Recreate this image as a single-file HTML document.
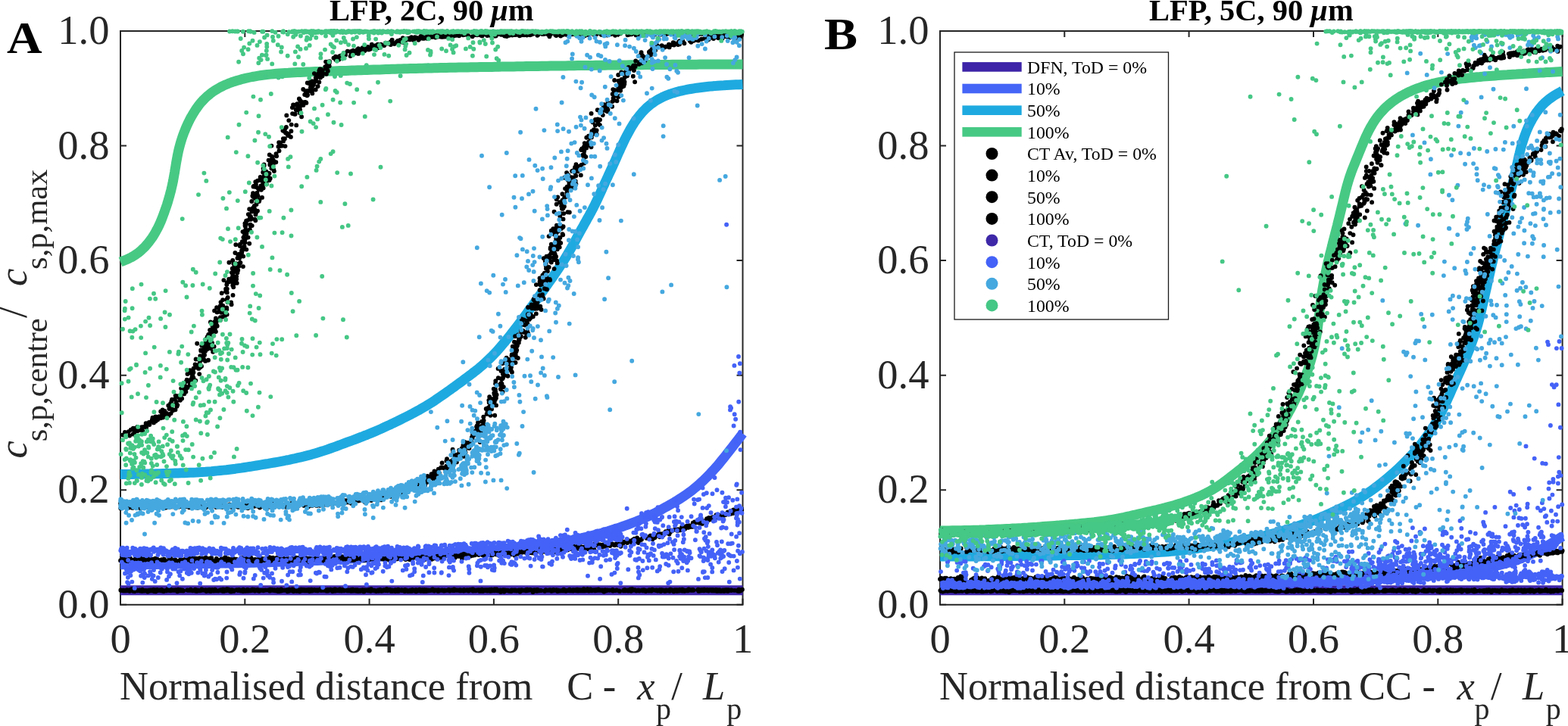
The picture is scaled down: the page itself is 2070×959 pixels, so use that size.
<!DOCTYPE html>
<html><head><meta charset="utf-8"><title>LFP plots</title>
<style>html,body{margin:0;padding:0;background:#fff;overflow:hidden}svg{display:block}</style>
</head><body>
<svg width="2070" height="959" viewBox="0 0 2070 959">
<rect width="2070" height="959" fill="#fff"/>
<rect x="159.0" y="41.0" width="821.5" height="757.8" fill="none" stroke="#262626" stroke-width="2"/>
<path d="M159.0 798.8v-8M159.0 41.0v8M159.0 798.8h8M980.5 798.8h-8M323.3 798.8v-8M323.3 41.0v8M159.0 647.2h8M980.5 647.2h-8M487.6 798.8v-8M487.6 41.0v8M159.0 495.7h8M980.5 495.7h-8M651.9 798.8v-8M651.9 41.0v8M159.0 344.1h8M980.5 344.1h-8M816.2 798.8v-8M816.2 41.0v8M159.0 192.6h8M980.5 192.6h-8M980.5 798.8v-8M980.5 41.0v8M159.0 41.0h8M980.5 41.0h-8" stroke="#262626" stroke-width="2" fill="none"/>
<g font-family="'Liberation Serif', 'Times New Roman', serif" font-size="54.5" fill="#262626"><text x="144.4" y="816.0" text-anchor="end">0.0</text><text x="144.4" y="664.4" text-anchor="end">0.2</text><text x="144.4" y="512.9" text-anchor="end">0.4</text><text x="144.4" y="361.3" text-anchor="end">0.6</text><text x="144.4" y="209.8" text-anchor="end">0.8</text><text x="144.4" y="58.2" text-anchor="end">1.0</text><text x="159.0" y="862" text-anchor="middle">0</text><text x="323.3" y="862" text-anchor="middle">0.2</text><text x="487.6" y="862" text-anchor="middle">0.4</text><text x="651.9" y="862" text-anchor="middle">0.6</text><text x="816.2" y="862" text-anchor="middle">0.8</text><text x="980.5" y="862" text-anchor="middle">1</text></g>
<rect x="1241.0" y="41.0" width="821.5999999999999" height="757.8" fill="none" stroke="#262626" stroke-width="2"/>
<path d="M1241.0 798.8v-8M1241.0 41.0v8M1241.0 798.8h8M2062.6 798.8h-8M1405.3 798.8v-8M1405.3 41.0v8M1241.0 647.2h8M2062.6 647.2h-8M1569.6 798.8v-8M1569.6 41.0v8M1241.0 495.7h8M2062.6 495.7h-8M1734.0 798.8v-8M1734.0 41.0v8M1241.0 344.1h8M2062.6 344.1h-8M1898.3 798.8v-8M1898.3 41.0v8M1241.0 192.6h8M2062.6 192.6h-8M2062.6 798.8v-8M2062.6 41.0v8M1241.0 41.0h8M2062.6 41.0h-8" stroke="#262626" stroke-width="2" fill="none"/>
<g font-family="'Liberation Serif', 'Times New Roman', serif" font-size="54.5" fill="#262626"><text x="1226.4" y="816.0" text-anchor="end">0.0</text><text x="1226.4" y="664.4" text-anchor="end">0.2</text><text x="1226.4" y="512.9" text-anchor="end">0.4</text><text x="1226.4" y="361.3" text-anchor="end">0.6</text><text x="1226.4" y="209.8" text-anchor="end">0.8</text><text x="1226.4" y="58.2" text-anchor="end">1.0</text><text x="1241.0" y="862" text-anchor="middle">0</text><text x="1405.3" y="862" text-anchor="middle">0.2</text><text x="1569.6" y="862" text-anchor="middle">0.4</text><text x="1734.0" y="862" text-anchor="middle">0.6</text><text x="1898.3" y="862" text-anchor="middle">0.8</text><text x="2062.6" y="862" text-anchor="middle">1</text></g>
<path d="M159.0 779.8 L163.0 779.8 L167.0 779.8 L171.0 779.8 L175.0 779.8 L179.0 779.8 L183.0 779.8 L187.0 779.8 L191.0 779.8 L195.0 779.8 L199.0 779.8 L203.0 779.8 L207.0 779.8 L211.0 779.8 L215.0 779.8 L219.0 779.8 L223.0 779.8 L227.0 779.8 L231.0 779.8 L235.0 779.8 L239.0 779.8 L243.1 779.8 L247.1 779.8 L251.1 779.8 L255.1 779.8 L259.1 779.8 L263.1 779.8 L267.1 779.8 L271.1 779.8 L275.1 779.8 L279.1 779.8 L283.1 779.8 L287.1 779.8 L291.1 779.8 L295.1 779.8 L299.1 779.8 L303.1 779.8 L307.1 779.8 L311.1 779.8 L315.1 779.8 L319.1 779.8 L324.1 779.8 L328.1 779.8 L332.1 779.8 L336.1 779.8 L340.1 779.8 L344.1 779.8 L348.1 779.8 L352.1 779.8 L356.1 779.8 L360.1 779.8 L364.1 779.8 L368.1 779.8 L372.1 779.8 L376.1 779.8 L380.1 779.8 L384.1 779.8 L388.1 779.8 L392.1 779.8 L396.1 779.8 L400.1 779.8 L404.1 779.8 L408.2 779.8 L412.2 779.8 L416.2 779.8 L420.2 779.8 L424.2 779.8 L428.2 779.8 L432.2 779.8 L436.2 779.8 L440.2 779.8 L444.2 779.8 L448.2 779.8 L452.2 779.8 L456.2 779.8 L460.2 779.8 L464.2 779.8 L468.2 779.8 L472.2 779.8 L476.2 779.8 L480.2 779.8 L484.2 779.8 L489.2 779.8 L493.2 779.8 L497.2 779.8 L501.2 779.8 L505.2 779.8 L509.2 779.8 L513.2 779.8 L517.2 779.8 L521.2 779.8 L525.2 779.8 L529.2 779.8 L533.2 779.8 L537.2 779.8 L541.2 779.8 L545.2 779.8 L549.2 779.8 L553.2 779.8 L557.2 779.8 L561.2 779.8 L565.2 779.8 L569.2 779.8 L573.3 779.8 L577.3 779.8 L581.3 779.8 L585.3 779.8 L589.3 779.8 L593.3 779.8 L597.3 779.8 L601.3 779.8 L605.3 779.8 L609.3 779.8 L613.3 779.8 L617.3 779.8 L621.3 779.8 L625.3 779.8 L629.3 779.8 L633.3 779.8 L637.3 779.8 L641.3 779.8 L645.3 779.8 L649.3 779.8 L654.3 779.8 L658.3 779.8 L662.3 779.8 L666.3 779.8 L670.3 779.8 L674.3 779.8 L678.3 779.8 L682.3 779.8 L686.3 779.8 L690.3 779.8 L694.3 779.8 L698.3 779.8 L702.3 779.8 L706.3 779.8 L710.3 779.8 L714.3 779.8 L718.3 779.8 L722.3 779.8 L726.3 779.8 L730.3 779.8 L734.4 779.8 L738.4 779.8 L742.4 779.8 L746.4 779.8 L750.4 779.8 L754.4 779.8 L758.4 779.8 L762.4 779.8 L766.4 779.8 L770.4 779.8 L774.4 779.8 L778.4 779.8 L782.4 779.8 L786.4 779.8 L790.4 779.8 L794.4 779.8 L798.4 779.8 L802.4 779.8 L806.4 779.8 L810.4 779.8 L814.4 779.8 L819.4 779.8 L823.4 779.8 L827.4 779.8 L831.4 779.8 L835.4 779.8 L839.4 779.8 L843.4 779.8 L847.4 779.8 L851.4 779.8 L855.4 779.8 L859.4 779.8 L863.4 779.8 L867.4 779.8 L871.4 779.8 L875.4 779.8 L879.4 779.8 L883.4 779.8 L887.4 779.8 L891.4 779.8 L895.4 779.8 L899.5 779.8 L903.5 779.8 L907.5 779.8 L911.5 779.8 L915.5 779.8 L919.5 779.8 L923.5 779.8 L927.5 779.8 L931.5 779.8 L935.5 779.8 L939.5 779.8 L943.5 779.8 L947.5 779.8 L951.5 779.8 L955.5 779.8 L959.5 779.8 L963.5 779.8 L967.5 779.8 L971.5 779.8 L975.5 779.8 L980.5 779.8" stroke="#3D24A8" stroke-width="13" fill="none" stroke-linejoin="round"/>
<path d="M159.0 745.7 L163.0 745.7 L167.0 745.7 L171.0 745.6 L175.0 745.6 L179.0 745.6 L183.0 745.6 L187.0 745.6 L191.0 745.5 L195.0 745.5 L199.0 745.5 L203.0 745.4 L207.0 745.4 L211.0 745.3 L215.0 745.3 L219.0 745.2 L223.1 745.2 L227.1 745.1 L231.1 745.1 L235.1 745.0 L239.1 745.0 L243.1 744.9 L247.1 744.9 L251.1 744.8 L255.1 744.7 L259.1 744.7 L263.1 744.6 L267.1 744.6 L271.1 744.5 L275.1 744.4 L279.1 744.4 L283.1 744.3 L287.1 744.2 L291.1 744.1 L295.1 744.1 L299.1 744.0 L303.1 743.9 L307.1 743.8 L311.1 743.8 L315.1 743.7 L319.1 743.6 L323.1 743.5 L327.1 743.4 L331.1 743.3 L335.1 743.2 L339.1 743.1 L343.1 743.0 L347.1 742.9 L351.1 742.8 L355.1 742.7 L359.1 742.5 L363.1 742.4 L367.1 742.3 L371.1 742.2 L375.1 742.0 L379.1 741.9 L383.1 741.8 L387.1 741.6 L391.1 741.5 L395.1 741.3 L399.1 741.2 L403.1 741.0 L407.1 740.9 L411.1 740.7 L415.1 740.5 L419.1 740.4 L423.1 740.2 L427.1 740.0 L431.1 739.8 L435.1 739.7 L439.1 739.5 L443.1 739.3 L447.1 739.1 L452.1 738.8 L456.1 738.6 L460.1 738.3 L464.1 738.1 L468.1 737.8 L472.1 737.5 L476.1 737.2 L480.1 736.9 L484.1 736.6 L488.1 736.3 L492.1 736.0 L496.1 735.6 L500.0 735.3 L504.0 735.0 L508.0 734.6 L512.0 734.3 L516.0 734.0 L520.0 733.7 L524.0 733.4 L528.0 733.1 L532.0 732.8 L536.0 732.6 L540.0 732.3 L544.0 732.1 L548.0 731.9 L552.0 731.7 L556.0 731.5 L560.0 731.3 L564.0 731.1 L568.0 730.9 L572.0 730.8 L576.0 730.6 L580.0 730.4 L584.0 730.2 L587.9 730.1 L591.9 729.9 L595.9 729.7 L599.9 729.5 L603.9 729.3 L607.9 729.0 L611.9 728.8 L615.9 728.6 L619.9 728.3 L623.9 728.1 L627.9 727.8 L631.9 727.5 L635.9 727.3 L639.9 727.0 L643.9 726.7 L647.9 726.4 L651.9 726.1 L655.9 725.8 L659.9 725.5 L663.9 725.2 L667.8 724.8 L671.8 724.5 L675.8 724.1 L679.8 723.8 L683.8 723.4 L687.8 723.0 L691.8 722.7 L695.7 722.2 L699.7 721.8 L703.7 721.4 L707.7 720.9 L711.7 720.4 L715.6 719.9 L719.6 719.4 L723.6 718.9 L727.5 718.3 L731.5 717.7 L735.4 717.1 L740.4 716.2 L744.3 715.5 L748.2 714.8 L752.2 714.1 L756.1 713.3 L760.0 712.5 L763.9 711.7 L767.8 710.8 L771.7 709.9 L775.6 709.0 L779.5 708.1 L783.4 707.1 L787.3 706.1 L791.1 705.0 L795.0 704.0 L798.8 702.8 L802.7 701.7 L806.5 700.5 L810.3 699.3 L814.1 698.1 L817.9 696.8 L821.7 695.5 L825.5 694.2 L829.2 692.8 L833.0 691.4 L836.7 690.0 L840.5 688.6 L844.2 687.1 L847.8 685.5 L851.5 683.9 L855.1 682.3 L858.7 680.6 L862.3 678.8 L865.9 677.0 L869.4 675.1 L872.9 673.2 L876.4 671.2 L879.9 669.3 L883.3 667.3 L886.8 665.3 L890.3 663.3 L893.7 661.2 L897.1 659.1 L900.4 657.0 L903.8 654.8 L907.0 652.5 L910.3 650.2 L913.4 647.8 L916.5 645.3 L919.6 642.7 L922.6 640.1 L925.6 637.4 L928.5 634.7 L931.4 631.9 L934.2 629.1 L937.0 626.2 L939.7 623.3 L942.4 620.4 L945.1 617.4 L947.7 614.4 L950.3 611.3 L952.8 608.2 L955.3 605.1 L957.8 602.0 L960.3 598.8 L962.8 595.7 L965.2 592.5 L967.7 589.4 L970.1 586.2 L972.6 583.0 L975.0 579.8 L977.5 576.7 L980.5 572.7" stroke="#4565F7" stroke-width="13" fill="none" stroke-linejoin="round"/>
<path d="M159.0 626.5 L163.0 626.5 L167.0 626.4 L171.0 626.4 L175.0 626.4 L179.0 626.3 L183.0 626.3 L187.0 626.2 L191.0 626.1 L195.0 626.1 L199.0 626.0 L203.0 625.9 L207.0 625.8 L211.0 625.7 L215.0 625.6 L219.0 625.5 L223.0 625.4 L227.0 625.2 L231.0 625.1 L235.0 625.0 L239.0 624.8 L243.0 624.7 L247.0 624.5 L251.0 624.3 L255.0 624.2 L259.0 624.0 L263.0 623.7 L267.0 623.5 L271.0 623.3 L275.0 623.0 L279.0 622.7 L283.0 622.3 L286.9 621.9 L290.9 621.5 L294.9 621.1 L298.9 620.7 L302.8 620.2 L306.8 619.7 L310.8 619.2 L314.7 618.6 L318.7 618.1 L322.7 617.5 L326.6 616.9 L330.6 616.3 L334.5 615.6 L338.5 615.0 L342.4 614.4 L346.4 613.7 L350.3 613.0 L354.3 612.4 L358.2 611.7 L362.2 611.0 L366.1 610.3 L370.0 609.6 L374.0 608.8 L377.9 608.0 L381.8 607.3 L385.7 606.4 L389.6 605.6 L393.5 604.7 L397.4 603.8 L401.3 602.9 L405.2 601.9 L409.1 600.9 L412.9 599.8 L416.7 598.7 L420.6 597.5 L424.4 596.3 L428.2 595.1 L432.0 593.8 L435.7 592.5 L439.5 591.1 L443.3 589.8 L447.0 588.4 L450.8 587.0 L454.5 585.6 L458.3 584.2 L462.0 582.9 L465.8 581.5 L469.5 580.1 L473.3 578.6 L477.0 577.2 L480.7 575.7 L484.5 574.3 L488.2 572.8 L491.9 571.2 L495.5 569.7 L499.2 568.1 L503.8 566.1 L507.4 564.4 L511.1 562.7 L514.7 561.1 L518.3 559.3 L521.9 557.6 L525.5 555.9 L529.1 554.1 L532.7 552.3 L536.3 550.5 L539.8 548.7 L543.4 546.9 L546.9 545.0 L550.5 543.1 L554.0 541.2 L557.4 539.2 L560.9 537.2 L564.3 535.1 L567.7 533.0 L571.0 530.9 L574.4 528.7 L577.7 526.4 L581.0 524.2 L584.3 521.9 L587.6 519.6 L590.8 517.3 L594.1 515.0 L597.3 512.6 L600.6 510.3 L603.8 507.9 L607.0 505.6 L610.3 503.2 L613.5 500.8 L616.7 498.4 L619.9 496.0 L623.1 493.6 L626.2 491.1 L629.4 488.7 L632.5 486.2 L635.5 483.6 L638.6 481.0 L641.5 478.3 L644.4 475.6 L647.3 472.8 L650.1 470.0 L652.8 467.1 L655.6 464.2 L658.2 461.2 L660.8 458.2 L663.4 455.1 L666.0 452.1 L668.5 449.0 L671.1 445.9 L673.6 442.8 L676.1 439.6 L678.5 436.5 L681.0 433.3 L683.4 430.1 L685.8 427.0 L688.2 423.8 L690.6 420.5 L693.0 417.3 L695.4 414.1 L697.7 410.8 L700.0 407.6 L702.4 404.4 L704.7 401.1 L707.1 397.9 L709.4 394.6 L711.7 391.4 L714.1 388.1 L716.4 384.8 L718.7 381.6 L721.0 378.3 L723.3 375.0 L725.6 371.8 L727.9 368.5 L730.2 365.2 L732.5 361.9 L734.7 358.6 L737.0 355.3 L739.2 352.0 L741.4 348.6 L743.6 345.3 L745.7 341.9 L747.8 338.5 L749.8 335.0 L752.3 330.7 L754.3 327.3 L756.3 323.8 L758.2 320.3 L760.1 316.7 L762.0 313.2 L763.9 309.7 L765.8 306.2 L767.7 302.7 L769.7 299.2 L771.6 295.7 L773.6 292.2 L775.5 288.7 L777.5 285.2 L779.4 281.7 L781.2 278.2 L783.1 274.6 L784.9 271.1 L786.7 267.5 L788.4 263.9 L790.1 260.3 L791.8 256.6 L793.4 253.0 L795.1 249.3 L796.7 245.7 L798.4 242.1 L800.1 238.4 L801.8 234.8 L803.4 231.2 L805.1 227.5 L806.8 223.9 L808.5 220.3 L810.1 216.6 L811.8 213.0 L813.4 209.3 L815.0 205.7 L816.6 202.0 L818.3 198.4 L819.9 194.7 L821.6 191.1 L823.3 187.5 L825.0 183.9 L826.8 180.3 L828.7 176.8 L830.6 173.3 L832.5 169.8 L834.6 166.4 L836.7 163.0 L838.9 159.7 L841.2 156.5 L843.6 153.3 L846.1 150.3 L848.7 147.3 L851.5 144.5 L854.3 141.8 L857.3 139.3 L860.4 136.8 L863.6 134.6 L867.0 132.4 L870.4 130.5 L873.9 128.7 L877.4 127.0 L881.1 125.5 L884.8 124.1 L888.6 122.9 L892.4 121.8 L896.2 120.7 L900.1 119.8 L904.0 119.0 L907.9 118.2 L911.8 117.5 L915.8 116.8 L919.7 116.2 L923.7 115.7 L927.6 115.2 L931.6 114.7 L935.6 114.3 L939.6 113.9 L943.6 113.6 L947.5 113.2 L951.5 112.9 L955.5 112.7 L959.5 112.4 L963.5 112.2 L967.5 112.0 L971.5 111.8 L975.5 111.7 L980.5 111.5" stroke="#1EAAE0" stroke-width="13" fill="none" stroke-linejoin="round"/>
<path d="M159.0 346.0 L162.6 344.6 L166.1 343.2 L169.6 341.7 L173.1 340.0 L176.4 338.1 L179.6 336.0 L182.8 333.7 L185.8 331.2 L188.6 328.6 L191.4 325.8 L194.0 322.9 L196.5 319.9 L198.9 316.7 L201.2 313.5 L203.3 310.1 L205.3 306.7 L207.2 303.2 L209.0 299.7 L210.7 296.1 L212.3 292.5 L213.8 288.8 L215.2 285.0 L216.6 281.3 L217.9 277.5 L219.2 273.8 L220.5 270.0 L221.7 266.1 L222.8 262.3 L223.9 258.5 L224.9 254.6 L225.9 250.8 L226.8 246.9 L227.7 243.0 L228.5 239.1 L229.2 235.1 L229.9 231.2 L230.6 227.3 L231.2 223.3 L231.9 219.4 L232.5 215.4 L233.4 210.5 L234.1 206.6 L234.9 202.7 L235.7 198.8 L236.7 194.9 L237.7 191.1 L238.8 187.2 L240.0 183.4 L241.2 179.7 L242.6 175.9 L244.1 172.2 L245.6 168.5 L247.2 164.9 L248.9 161.3 L250.7 157.7 L252.6 154.2 L254.6 150.8 L256.7 147.4 L258.8 144.1 L261.1 140.9 L263.5 137.7 L266.0 134.7 L268.7 131.8 L271.5 129.0 L274.4 126.4 L277.4 123.9 L280.6 121.5 L283.8 119.3 L287.2 117.3 L290.6 115.4 L294.1 113.6 L297.7 111.9 L301.4 110.4 L305.1 109.0 L308.9 107.7 L312.7 106.5 L316.5 105.4 L320.3 104.3 L324.2 103.4 L328.1 102.5 L333.0 101.5 L336.9 100.8 L340.8 100.1 L344.8 99.5 L348.7 99.0 L352.7 98.5 L356.7 98.1 L360.7 97.7 L364.6 97.3 L368.6 97.0 L372.6 96.7 L376.6 96.4 L380.6 96.2 L384.6 95.9 L388.6 95.7 L392.6 95.5 L396.6 95.4 L400.6 95.2 L404.6 95.0 L408.6 94.9 L412.6 94.7 L416.6 94.6 L420.6 94.5 L424.6 94.4 L428.6 94.2 L432.6 94.1 L436.6 94.0 L440.6 93.9 L444.6 93.7 L448.6 93.6 L452.6 93.5 L456.5 93.4 L460.5 93.2 L464.5 93.1 L468.5 93.0 L472.5 92.8 L476.5 92.7 L480.5 92.6 L484.5 92.4 L488.5 92.3 L493.5 92.1 L497.5 92.0 L501.5 91.9 L505.5 91.7 L509.5 91.6 L513.5 91.5 L517.5 91.3 L521.5 91.2 L525.5 91.1 L529.5 91.0 L533.5 90.8 L537.5 90.7 L541.5 90.6 L545.5 90.5 L549.5 90.4 L553.5 90.3 L557.5 90.2 L561.5 90.1 L565.5 90.0 L569.5 89.9 L573.5 89.8 L577.5 89.7 L581.5 89.6 L585.5 89.5 L589.5 89.4 L593.5 89.3 L597.5 89.2 L601.5 89.2 L605.5 89.1 L609.5 89.0 L613.5 89.0 L617.5 88.9 L621.5 88.8 L625.5 88.8 L629.5 88.7 L633.5 88.6 L637.5 88.6 L641.5 88.5 L645.5 88.4 L649.5 88.4 L653.5 88.3 L658.5 88.2 L662.5 88.1 L666.5 88.1 L670.5 88.0 L674.5 87.9 L678.5 87.9 L682.5 87.8 L686.5 87.8 L690.5 87.7 L694.5 87.6 L698.5 87.6 L702.5 87.5 L706.5 87.4 L710.5 87.4 L714.5 87.3 L718.5 87.3 L722.5 87.2 L726.5 87.1 L730.5 87.1 L734.5 87.0 L738.5 87.0 L742.5 86.9 L746.5 86.9 L750.5 86.8 L754.5 86.8 L758.5 86.7 L762.5 86.6 L766.5 86.6 L770.5 86.5 L774.5 86.5 L778.5 86.4 L782.5 86.4 L786.5 86.3 L790.5 86.3 L794.5 86.2 L798.5 86.2 L802.5 86.1 L806.5 86.1 L810.5 86.0 L814.5 86.0 L819.5 85.9 L823.5 85.9 L827.5 85.9 L831.5 85.8 L835.5 85.8 L839.5 85.7 L843.5 85.7 L847.5 85.7 L851.5 85.6 L855.5 85.6 L859.5 85.6 L863.5 85.5 L867.5 85.5 L871.5 85.5 L875.5 85.4 L879.5 85.4 L883.5 85.4 L887.5 85.3 L891.5 85.3 L895.5 85.3 L899.5 85.3 L903.5 85.2 L907.5 85.2 L911.5 85.2 L915.5 85.2 L919.5 85.2 L923.5 85.1 L927.5 85.1 L931.5 85.1 L935.5 85.1 L939.5 85.1 L943.5 85.1 L947.5 85.1 L951.5 85.0 L955.5 85.0 L959.5 85.0 L963.5 85.0 L967.5 85.0 L971.5 85.0 L975.5 85.0 L980.5 85.0" stroke="#47C984" stroke-width="13" fill="none" stroke-linejoin="round"/>
<path d="M487.7 780.3h0M221.8 779.0h0M955.0 780.8h0M250.5 779.8h0M852.4 779.9h0M339.5 779.2h0M302.8 780.6h0M347.8 780.2h0M915.5 779.8h0M617.6 779.6h0M499.5 780.0h0M787.5 780.1h0M278.1 781.0h0M760.9 779.1h0M648.8 778.7h0M498.9 779.8h0M225.3 780.3h0M975.4 778.7h0M597.7 780.0h0M464.0 779.7h0M613.9 779.4h0M891.9 780.5h0M941.8 780.3h0M187.5 780.2h0M804.7 779.8h0M201.0 780.3h0M814.0 779.5h0M571.1 778.5h0M530.2 779.1h0M481.6 780.0h0M887.2 779.7h0M832.3 778.4h0M730.7 780.0h0M749.9 780.1h0M714.1 779.9h0M321.2 778.7h0M486.0 780.2h0M298.2 779.6h0M933.3 779.6h0M422.6 778.4h0M788.4 779.9h0M557.7 779.3h0M572.6 779.7h0M472.5 780.8h0M480.3 781.4h0M649.5 778.9h0M729.1 780.4h0M765.1 780.0h0M509.6 779.2h0M184.8 779.4h0M829.1 779.9h0M662.5 780.4h0M587.7 780.3h0M291.3 779.2h0M964.7 779.9h0M471.7 780.0h0M479.7 779.7h0M799.8 780.5h0M503.7 780.7h0M290.4 779.8h0M371.1 779.8h0M454.1 780.2h0M773.1 779.5h0M362.2 779.2h0M261.5 779.8h0M583.1 779.8h0M355.8 779.6h0M332.3 780.0h0M433.3 779.0h0M174.8 778.2h0M856.0 779.9h0M260.6 779.8h0M653.2 779.1h0M163.7 780.4h0M761.9 778.8h0M674.3 780.4h0M934.0 779.4h0M703.5 782.0h0M388.3 780.3h0M499.4 779.4h0M872.3 781.1h0M550.3 779.7h0M743.1 779.7h0M229.3 779.5h0M441.8 778.5h0M475.8 779.6h0M430.0 779.7h0M456.3 779.6h0M882.3 780.0h0M208.9 779.8h0M411.3 778.7h0M190.7 780.5h0M171.5 779.5h0M471.0 780.8h0M752.5 779.6h0M419.1 779.4h0M705.3 780.0h0M511.5 780.3h0M295.3 780.7h0M259.5 780.9h0M880.0 780.4h0M439.0 781.1h0M443.4 779.5h0M800.6 780.3h0M359.0 779.0h0M453.1 780.0h0M326.6 778.9h0M336.7 779.9h0M461.9 780.2h0M754.4 780.4h0M686.1 779.8h0M665.9 779.4h0M288.2 780.6h0M912.9 779.3h0M884.7 779.2h0M720.6 780.0h0M969.7 779.9h0M664.2 779.3h0M575.7 779.5h0M705.0 780.6h0M507.9 779.6h0M642.1 780.2h0M630.6 779.9h0M794.1 780.1h0M694.5 778.9h0M871.0 779.3h0M405.4 780.3h0M812.5 780.0h0M457.4 779.7h0M555.6 780.7h0M842.3 779.7h0M901.2 779.2h0M539.9 780.2h0M510.8 779.2h0M414.9 779.8h0M317.8 780.6h0M169.7 779.6h0M450.3 780.4h0M654.4 779.9h0M747.0 780.2h0M599.5 780.0h0M746.3 779.6h0M416.4 780.1h0M747.0 780.0h0M332.0 779.9h0M797.3 781.5h0M226.4 779.4h0M231.2 779.4h0M701.1 779.1h0M685.9 779.4h0M172.8 778.7h0M625.4 779.6h0M305.5 779.9h0M975.2 779.5h0M479.9 780.2h0M401.1 779.0h0M392.7 779.0h0M554.8 779.6h0M852.5 781.0h0M545.6 779.7h0M411.9 780.6h0M943.7 780.0h0M921.9 779.4h0M283.9 779.4h0M460.5 780.4h0M459.5 780.0h0M932.7 780.1h0M465.7 778.7h0M925.8 779.9h0M941.0 778.9h0M940.3 780.1h0M458.4 780.2h0M884.0 780.7h0M301.8 778.8h0M367.4 779.4h0M556.7 780.2h0M390.5 780.6h0M469.1 780.5h0M536.5 780.1h0M787.1 779.6h0M371.6 780.3h0M668.3 780.1h0M343.2 779.8h0M212.8 779.5h0M162.9 779.8h0M764.3 779.1h0M167.7 779.3h0M785.4 779.4h0M880.0 779.6h0M638.2 780.4h0M861.2 778.7h0M535.4 779.8h0M280.2 778.9h0M827.2 780.0h0M418.3 779.8h0M159.4 779.7h0M308.7 779.9h0M956.7 780.8h0M956.4 779.5h0M775.6 780.0h0M563.9 779.7h0M518.0 779.8h0M751.9 778.7h0M646.7 778.9h0M419.2 780.4h0M769.1 779.4h0M873.7 780.2h0M485.8 779.5h0M783.2 779.9h0M262.5 780.3h0M362.9 779.7h0M526.7 780.0h0M465.3 780.1h0M841.3 780.0h0M466.1 780.6h0M254.1 779.9h0M898.9 779.6h0M398.7 780.2h0M539.2 780.7h0M824.7 779.0h0M711.7 780.3h0M535.2 779.5h0M900.3 780.6h0M651.8 780.0h0M515.0 778.9h0M360.2 779.4h0M397.5 778.8h0M559.4 780.9h0M706.2 780.6h0M582.3 779.7h0M600.4 779.7h0M562.8 779.3h0M607.5 779.9h0M923.0 779.0h0M334.0 779.7h0M590.7 779.8h0M618.4 780.6h0M460.9 779.5h0M779.5 778.5h0M781.9 779.7h0M741.1 780.3h0M797.7 780.0h0M303.9 780.5h0M487.2 780.0h0M489.9 780.2h0M587.3 779.6h0M650.7 779.9h0M188.1 780.0h0M868.0 780.3h0M443.8 779.8h0M522.0 781.1h0M432.4 779.8h0M385.7 780.3h0M675.4 779.9h0M675.4 780.3h0M622.6 779.4h0M362.3 780.0h0M282.4 779.5h0M951.4 780.9h0M867.9 779.6h0M730.7 779.0h0M829.2 780.6h0M739.0 780.5h0M696.7 779.6h0M383.9 779.3h0M734.7 779.6h0M975.4 781.1h0M219.3 780.4h0M521.9 779.3h0M283.1 780.0h0M782.0 779.9h0M238.2 780.4h0M876.0 779.6h0M292.3 780.1h0M713.2 779.9h0M446.8 779.7h0M316.9 779.4h0M297.0 780.0h0M363.2 780.3h0M284.7 780.2h0M175.9 780.7h0M903.8 780.7h0M482.8 779.6h0M432.9 780.1h0M377.9 780.1h0M689.3 780.0h0M511.2 779.8h0M534.3 781.1h0M230.8 779.8h0M494.8 780.0h0M170.8 779.4h0M290.0 779.6h0M494.1 779.8h0M668.3 780.0h0M624.3 780.1h0M446.7 779.7h0M864.1 779.6h0M898.3 780.1h0M432.9 779.7h0M211.6 780.1h0M171.1 780.8h0M398.6 779.7h0M677.3 779.6h0M879.4 779.4h0M215.6 780.9h0M362.3 779.7h0M422.6 779.5h0M293.0 780.0h0M866.3 779.5h0M490.0 778.2h0M768.7 780.1h0M696.5 779.8h0M298.0 778.6h0M368.8 781.0h0M241.9 780.5h0M695.6 780.2h0M370.2 780.4h0M668.2 779.8h0M568.5 779.8h0M506.3 779.4h0M573.2 779.1h0M439.4 780.0h0M549.7 779.2h0M542.8 779.4h0M676.7 779.9h0M340.6 780.2h0M607.9 779.1h0M714.5 780.1h0M788.6 779.6h0M708.2 780.0h0M232.2 779.8h0M198.6 779.5h0M303.9 780.1h0M207.4 779.0h0M551.1 779.7h0M962.0 780.2h0M785.7 780.2h0M510.6 778.3h0M275.0 779.3h0M960.9 780.5h0M294.6 779.0h0M341.8 780.5h0M620.0 779.1h0M447.7 779.6h0M293.6 780.3h0M965.8 779.6h0M889.4 781.2h0M324.0 780.7h0M199.9 779.4h0M628.5 780.2h0M747.0 780.8h0M431.3 780.4h0M430.9 780.0h0M406.8 778.9h0M541.6 780.1h0M441.9 780.6h0M231.9 779.1h0M355.9 780.5h0M452.5 778.9h0M896.2 780.2h0M530.1 780.0h0M557.5 779.2h0M773.0 779.7h0M554.2 779.5h0M961.5 780.3h0M629.5 779.9h0M517.0 780.0h0M392.6 780.5h0M332.9 779.9h0M386.8 779.9h0M899.4 779.8h0M874.9 779.7h0M330.8 780.2h0M843.2 779.6h0M340.6 779.8h0M297.0 780.4h0M312.4 779.2h0M276.6 779.6h0M228.4 779.8h0M516.7 780.9h0M226.0 779.6h0M445.5 779.7h0M433.3 779.9h0M531.4 779.8h0M205.6 781.2h0M782.5 779.5h0M631.0 779.2h0M482.7 780.1h0M668.3 779.9h0M406.7 780.2h0M508.8 780.0h0M531.1 780.1h0M525.8 780.9h0M536.2 779.4h0M276.6 780.8h0M787.0 779.0h0M667.3 779.6h0M952.0 779.9h0M487.6 779.1h0M470.8 780.2h0M644.0 779.4h0M860.1 780.5h0M397.5 780.3h0M366.8 781.1h0M697.6 779.9h0M525.1 779.7h0M775.7 779.2h0M501.4 779.1h0M809.1 780.5h0M559.9 779.9h0M675.8 780.5h0M817.5 780.4h0M381.9 778.6h0M514.3 779.0h0M385.1 779.3h0M395.3 779.6h0M549.3 781.3h0M818.1 780.9h0M297.5 779.4h0M765.0 779.7h0M333.9 778.7h0M658.4 780.5h0M276.5 780.3h0M378.8 779.3h0M443.3 778.8h0M459.9 779.6h0M368.5 780.1h0M214.9 780.6h0M314.3 780.0h0M823.6 779.7h0M780.1 779.3h0M391.3 780.1h0M552.5 779.5h0M333.0 779.6h0M345.8 779.8h0M212.4 780.2h0M404.7 780.2h0M565.2 779.7h0M285.2 780.4h0M903.5 779.6h0M650.5 779.5h0M643.3 779.3h0M689.6 779.5h0M213.4 779.3h0M253.4 780.0h0M945.8 779.2h0M887.6 779.5h0M760.7 780.3h0M216.0 781.0h0M739.9 780.1h0M867.3 780.3h0M880.5 780.1h0M675.5 779.8h0M196.9 780.1h0M637.1 780.9h0M691.5 779.9h0M206.8 779.8h0M462.5 779.9h0M202.3 779.2h0M398.9 779.5h0M879.7 780.0h0M793.3 779.5h0M326.4 778.9h0M403.2 780.0h0M563.1 780.7h0M882.2 779.7h0M624.4 778.5h0M741.9 780.4h0M578.5 780.9h0M897.2 779.0h0M292.9 780.2h0M348.4 779.8h0M258.5 779.6h0M825.2 780.4h0M543.4 780.3h0M415.1 779.0h0M368.7 780.3h0M204.8 779.7h0M274.3 780.1h0M965.3 780.0h0M445.5 780.1h0M952.7 780.4h0M371.3 780.5h0M894.0 779.6h0M297.7 779.3h0M331.6 779.7h0M520.5 780.2h0M675.1 779.4h0M674.9 781.0h0M639.9 779.2h0M506.2 779.4h0M768.5 779.7h0M823.5 780.4h0M381.0 779.0h0M208.8 780.0h0M573.3 780.5h0M448.7 780.4h0M268.0 779.1h0M307.0 779.4h0M513.5 779.8h0M187.4 780.9h0M902.8 780.4h0M481.4 780.6h0M391.0 780.3h0M429.7 780.0h0M974.0 780.8h0M354.3 779.4h0M938.5 779.3h0M926.7 778.9h0M266.3 778.4h0M869.4 779.8h0M777.4 779.2h0M339.8 779.0h0M890.2 780.1h0M723.5 779.9h0M877.9 780.9h0M241.1 780.4h0M736.1 781.0h0M624.7 779.6h0M946.4 780.0h0M575.7 779.4h0M708.9 780.8h0M909.2 778.4h0M563.2 779.7h0M198.0 780.4h0M866.1 780.0h0M326.9 779.6h0M602.0 779.4h0M518.2 779.7h0M857.0 779.9h0M332.1 779.7h0M294.9 778.8h0M749.9 779.6h0M665.7 779.9h0M742.3 780.1h0M276.8 779.0h0M664.3 779.5h0M568.3 780.0h0M203.5 780.2h0M607.7 779.7h0M872.8 779.1h0M463.5 780.8h0M381.2 779.7h0M509.8 779.9h0M903.7 779.6h0M856.7 780.5h0M248.3 779.7h0M365.5 780.3h0M612.5 778.9h0M824.3 780.0h0M395.5 781.2h0M204.7 779.3h0M326.4 780.5h0M709.5 778.9h0M697.3 779.7h0M180.2 780.0h0M773.4 779.6h0M628.6 779.4h0M333.2 779.4h0M612.1 780.6h0M350.3 779.6h0M657.2 780.1h0M833.1 780.7h0M258.8 780.2h0M838.3 779.6h0M210.3 779.6h0M893.8 780.9h0M188.0 778.9h0M264.5 780.3h0M221.3 778.3h0M814.2 779.9h0M296.9 780.0h0M732.0 779.7h0M777.5 779.4h0M418.6 779.1h0M781.3 780.3h0M850.0 779.3h0M781.7 779.8h0M798.6 780.2h0M947.9 780.8h0M351.2 779.6h0M261.7 780.0h0M653.2 778.4h0M224.6 778.8h0M238.5 779.1h0M759.9 779.7h0M936.4 779.3h0M824.1 779.5h0M705.3 780.1h0M649.0 780.6h0M669.2 780.0h0M363.8 779.9h0M490.5 780.3h0M284.5 779.1h0M181.5 780.2h0M544.4 779.0h0M163.1 779.9h0M385.9 779.4h0M606.8 780.2h0M320.3 780.1h0M537.2 780.2h0M510.7 778.9h0M765.6 779.6h0M530.5 780.1h0M859.6 780.5h0M766.3 779.7h0M874.1 779.5h0M652.2 779.8h0M391.8 780.8h0M796.5 779.8h0M667.0 780.2h0M952.4 780.3h0M338.0 779.6h0M921.2 779.3h0M593.7 780.5h0M379.6 781.2h0M160.2 779.9h0M932.7 779.9h0M745.6 779.8h0M801.9 779.5h0M627.3 780.3h0M381.4 780.7h0M844.0 780.5h0M332.2 779.7h0M225.4 778.8h0M257.2 780.0h0M695.7 779.7h0M380.6 779.8h0M553.9 778.8h0M895.5 779.5h0M518.1 780.7h0M549.3 780.3h0M301.9 779.7h0M202.6 778.9h0M371.1 778.5h0M911.4 779.5h0M333.1 779.6h0M265.3 780.1h0M235.3 778.6h0M823.3 779.8h0M361.3 780.1h0M753.1 780.4h0M401.4 780.2h0M472.5 780.0h0M236.6 779.8h0M566.6 780.0h0M665.6 781.6h0M444.5 779.5h0M213.5 779.4h0M259.1 779.7h0M744.3 778.7h0M808.8 779.0h0M600.1 780.1h0M584.0 779.4h0M762.7 779.1h0M737.1 779.8h0M427.2 779.8h0M358.8 778.9h0M308.5 780.9h0M335.9 780.2h0M838.0 779.2h0M744.2 780.4h0M177.1 780.0h0M167.0 779.9h0M633.4 780.9h0M977.4 780.6h0M608.7 780.3h0M496.7 781.0h0M526.5 779.8h0M267.5 779.5h0M756.5 780.5h0M173.2 778.5h0M960.9 780.9h0M278.4 779.7h0M684.9 780.2h0M958.2 779.3h0M296.3 780.0h0M929.3 780.2h0M979.9 778.8h0M332.8 778.7h0M586.7 779.6h0M757.7 779.3h0M372.5 779.8h0M215.7 780.5h0M487.3 779.2h0M408.3 780.0h0M770.7 778.3h0M893.8 780.5h0M760.0 779.2h0M848.9 780.4h0M661.0 781.7h0M677.5 779.9h0M681.4 780.1h0M699.6 778.9h0M533.5 779.4h0M471.5 780.5h0M173.4 778.8h0M756.4 779.2h0M566.3 779.8h0M408.7 781.0h0M963.0 779.7h0M541.2 780.9h0M521.3 779.7h0M578.8 779.3h0M509.4 778.8h0M676.2 779.5h0M195.6 780.0h0M946.1 780.8h0M538.7 781.0h0M574.1 779.9h0M283.8 778.7h0M789.9 779.6h0M766.0 780.0h0M282.1 780.6h0M501.9 779.0h0M398.2 779.8h0M251.7 778.7h0M929.8 778.8h0M541.2 779.7h0M213.4 779.4h0M473.0 781.0h0M534.8 779.0h0M416.2 779.2h0M548.7 779.2h0M478.6 779.1h0M166.4 780.2h0M552.7 780.0h0M336.4 780.6h0M858.4 779.6h0M552.5 780.0h0M784.4 779.3h0M965.0 779.4h0M933.7 779.0h0M973.2 779.9h0M632.8 779.6h0M944.6 779.7h0M333.5 779.5h0M257.8 778.7h0M294.5 780.9h0M378.9 779.2h0M514.2 779.8h0M368.8 780.4h0M500.0 780.7h0M489.9 780.2h0M847.8 779.4h0M304.9 781.4h0M726.0 779.2h0M409.9 780.0h0M527.6 779.6h0M458.4 779.8h0M678.7 779.5h0M735.1 779.7h0M562.0 780.8h0M763.2 780.5h0M871.0 780.6h0M254.2 780.2h0M891.1 779.2h0M485.8 779.7h0M908.2 780.2h0M720.5 779.3h0M922.5 780.9h0M928.7 779.9h0M680.3 779.4h0M908.3 779.4h0M765.9 779.2h0M744.6 779.8h0M438.4 779.1h0M451.0 778.9h0M636.2 778.6h0M302.2 779.8h0M732.2 779.7h0M517.3 779.9h0M430.8 780.5h0M624.3 780.5h0M299.7 778.2h0M203.3 781.0h0M643.5 780.6h0M177.8 781.1h0M373.4 779.6h0M896.5 780.5h0M571.3 779.9h0M469.7 779.2h0M765.2 780.4h0M319.6 780.4h0M580.3 780.1h0M240.8 779.5h0M688.5 779.3h0M903.3 779.7h0M327.4 780.1h0M954.7 779.5h0M471.5 779.7h0M320.2 779.2h0M257.8 779.7h0M900.7 778.7h0M303.9 780.1h0M857.2 779.2h0M722.9 779.9h0M301.4 779.7h0M726.3 779.6h0M283.9 780.2h0M472.3 779.9h0M655.6 778.4h0M373.0 780.1h0M622.7 778.7h0M665.2 779.6h0M790.0 778.4h0M652.6 780.2h0M767.3 780.0h0M501.9 779.9h0M448.7 778.4h0M606.2 779.4h0M192.6 780.0h0M828.9 779.8h0M208.5 779.7h0M516.4 779.9h0M592.4 779.0h0M359.3 779.7h0M840.1 780.5h0M893.4 779.3h0M304.8 780.3h0M638.2 779.8h0M375.1 779.8h0M775.6 778.1h0M924.6 779.9h0M498.1 780.3h0M646.7 780.2h0M696.7 779.2h0M250.5 779.7h0M795.0 779.5h0M363.8 780.3h0M412.0 779.2h0M425.4 779.9h0M260.5 780.0h0M272.5 781.1h0M174.2 779.7h0M483.9 779.7h0M410.5 779.2h0M548.3 779.4h0M529.0 779.4h0M774.2 780.0h0M252.3 779.7h0M850.4 779.7h0M438.2 779.4h0M265.4 779.7h0M626.7 779.6h0M475.9 780.8h0M599.5 778.4h0M237.8 779.2h0M564.4 779.9h0M924.5 780.4h0M664.4 779.9h0M641.8 779.1h0M234.3 781.3h0M451.0 780.5h0M470.1 780.0h0M953.4 780.5h0M660.6 779.4h0M885.0 778.8h0M387.5 780.4h0M185.1 780.5h0M850.9 779.5h0M508.5 779.4h0M642.3 780.2h0M757.9 779.6h0M393.3 778.9h0M771.8 780.4h0M834.5 778.3h0M474.8 779.9h0M680.3 780.4h0M697.2 779.8h0M459.5 779.7h0M901.5 778.9h0M545.1 780.4h0M760.2 779.7h0M934.0 779.2h0M975.7 779.5h0M293.6 779.6h0M356.3 780.6h0M366.6 779.0h0M683.9 780.0h0M672.1 780.8h0M315.1 779.0h0M955.9 780.4h0M719.7 780.3h0M829.6 780.1h0M551.0 779.6h0M908.9 779.5h0M597.5 779.8h0M464.9 779.5h0M386.1 778.4h0M229.1 779.7h0M199.3 780.0h0M373.1 779.8h0M799.0 779.1h0M707.7 779.2h0M435.6 779.4h0M684.4 779.6h0M270.8 780.1h0M443.9 779.7h0M977.3 779.4h0M306.0 779.1h0M432.4 778.9h0M945.0 779.0h0M734.6 779.2h0M949.9 779.1h0M656.3 780.3h0M647.2 780.8h0M793.1 779.6h0M878.7 780.1h0M314.1 779.4h0M159.4 779.5h0M292.5 780.3h0M959.2 779.7h0M719.2 780.8h0M328.1 780.5h0M933.2 779.7h0M166.3 779.6h0M645.2 779.2h0M961.2 779.3h0M728.0 780.8h0M670.3 779.7h0M561.1 780.1h0M283.6 779.4h0M937.1 779.1h0M927.8 779.9h0M723.6 779.8h0M867.5 779.7h0M686.5 781.6h0M505.7 780.2h0M649.5 780.1h0M213.2 779.5h0M865.9 779.9h0M271.4 779.3h0M704.2 780.2h0M305.9 780.1h0M334.4 779.7h0M848.2 779.6h0M847.3 779.7h0M226.6 779.5h0M455.5 779.3h0M964.1 779.9h0M707.1 779.9h0M615.4 779.7h0M614.2 780.1h0M650.3 779.6h0M830.7 779.5h0M607.1 779.4h0M195.0 781.6h0M728.0 779.8h0M706.3 779.7h0M624.3 779.9h0M201.4 779.9h0M335.8 779.0h0M612.1 780.1h0M595.4 779.4h0M521.2 779.9h0M926.9 780.0h0M328.5 779.4h0M373.1 779.7h0M940.3 780.4h0M409.1 780.0h0M867.9 780.6h0M586.0 780.6h0M907.2 779.5h0M362.9 779.4h0M320.9 781.1h0M386.9 778.8h0M653.0 779.6h0M196.3 779.6h0M560.2 778.9h0M603.6 779.8h0M681.9 780.5h0M373.2 779.9h0M551.4 780.2h0M768.8 779.5h0M638.4 780.3h0M652.4 780.0h0M535.0 779.7h0M965.8 779.4h0M281.4 780.4h0M893.5 780.5h0M873.1 780.1h0M197.9 780.6h0M603.4 779.5h0M342.1 780.7h0M597.4 779.3h0M168.1 780.0h0M381.4 779.5h0M217.8 780.2h0M653.3 780.1h0M914.4 779.4h0M403.4 780.2h0M348.6 780.0h0M694.5 780.4h0M428.7 779.6h0M257.0 780.2h0M554.3 780.4h0M630.9 779.7h0M405.6 779.6h0M926.9 779.1h0M959.7 779.4h0M247.3 779.5h0M416.9 779.4h0M642.8 779.6h0M597.4 779.6h0M223.3 780.0h0M746.5 780.1h0M213.5 779.3h0M705.3 779.3h0M471.7 779.2h0M383.9 779.2h0M777.4 780.6h0M210.5 779.4h0M263.7 779.9h0M907.9 780.4h0M450.2 780.4h0M558.0 779.8h0M901.2 780.6h0M828.1 779.7h0M168.1 780.1h0M634.8 779.2h0M618.8 780.6h0M777.5 779.3h0M481.0 779.4h0M213.7 779.3h0M938.6 779.5h0M938.9 779.3h0M619.7 779.3h0M921.6 778.7h0M446.2 779.7h0M943.1 780.2h0M507.9 779.6h0M251.2 779.5h0M387.4 781.0h0M423.9 780.1h0M721.6 779.9h0M947.0 779.3h0M566.2 780.3h0M789.2 779.8h0M699.9 779.2h0M770.6 780.4h0M436.0 778.8h0M252.9 779.7h0M489.2 780.7h0M394.8 779.9h0M912.8 779.9h0M961.0 780.0h0M408.2 778.9h0M818.1 780.9h0M451.3 780.0h0M835.6 779.7h0M404.0 779.3h0M405.0 779.6h0M536.4 779.5h0M302.1 780.0h0M433.0 780.6h0M383.9 779.4h0M632.5 779.1h0M180.8 779.5h0M768.2 780.2h0M356.9 778.6h0M211.9 779.4h0M666.7 779.7h0M773.4 779.7h0M473.0 779.8h0M293.9 778.8h0M978.4 779.7h0M935.4 780.6h0M372.1 780.1h0M768.1 779.5h0M952.1 780.0h0M758.3 780.0h0M494.6 780.4h0M442.8 780.5h0M726.2 779.8h0M565.6 780.3h0M949.2 780.3h0M399.3 778.9h0M295.2 780.9h0M298.4 780.2h0M914.8 778.9h0M603.6 779.9h0M408.1 779.4h0M865.9 780.1h0M248.6 779.9h0M279.8 780.3h0M214.6 779.7h0M543.7 780.7h0M627.2 780.1h0M499.1 780.0h0M463.9 779.0h0M188.9 779.5h0M790.9 779.9h0M435.2 779.5h0M525.7 778.8h0M695.9 778.6h0M160.5 780.0h0M616.6 779.2h0M253.2 779.8h0M830.1 780.1h0" stroke="#000" stroke-width="5.9" stroke-linecap="round" fill="none"/>
<path d="M971.2 676.6h0M583.7 733.7h0M183.6 739.7h0M395.3 738.4h0M907.4 696.1h0M552.1 736.6h0M674.2 730.9h0M370.5 738.1h0M389.7 738.4h0M568.7 736.1h0M401.0 736.6h0M716.5 726.4h0M264.7 740.5h0M261.5 739.1h0M366.6 742.3h0M746.4 725.6h0M198.8 738.3h0M940.6 686.5h0M310.8 740.1h0M204.9 738.3h0M653.1 730.3h0M724.8 727.8h0M676.0 728.4h0M938.9 685.7h0M623.8 731.3h0M796.4 719.5h0M371.8 741.7h0M876.8 704.5h0M451.7 739.9h0M334.1 740.9h0M741.9 726.7h0M820.6 717.0h0M906.7 694.6h0M374.7 739.5h0M658.1 731.4h0M710.0 728.3h0M880.1 703.8h0M299.5 739.8h0M761.4 722.2h0M306.6 738.4h0M702.5 727.8h0M911.4 696.1h0M342.1 740.5h0M390.9 736.7h0M180.3 739.8h0M798.7 721.5h0M400.8 739.9h0M821.4 716.4h0M483.7 739.3h0M653.2 729.2h0M838.5 714.3h0M507.1 738.2h0M624.3 733.7h0M689.2 729.8h0M618.8 735.3h0M834.3 717.0h0M522.4 737.5h0M360.3 736.8h0M167.9 739.9h0M223.3 736.7h0M869.3 707.3h0M582.2 735.6h0M665.8 731.5h0M257.5 740.2h0M535.5 739.0h0M858.5 707.8h0M366.6 737.8h0M489.5 738.0h0M370.5 738.4h0M278.2 739.1h0M452.4 736.2h0M775.7 720.7h0M736.4 725.8h0M197.4 736.9h0M791.5 721.0h0M772.7 723.4h0M279.1 739.5h0M160.6 738.6h0M159.1 740.4h0M334.5 741.3h0M784.4 725.8h0M979.2 673.5h0M974.7 674.4h0M345.6 738.6h0M583.6 737.0h0M514.3 739.9h0M595.5 735.2h0M845.3 712.8h0M344.9 741.1h0M222.7 740.6h0M680.9 731.2h0M930.7 688.3h0M331.1 739.0h0M859.6 709.2h0M738.0 726.1h0M460.6 738.0h0M956.2 680.5h0M538.6 738.4h0M829.7 715.8h0M616.1 732.3h0M703.0 727.6h0M461.0 735.5h0M225.2 739.8h0M238.7 741.3h0M475.1 739.3h0M966.2 674.4h0M671.6 728.2h0M167.4 741.0h0M359.6 738.7h0M683.5 730.4h0M784.6 719.0h0M238.9 738.8h0M191.2 741.0h0M758.8 724.3h0M781.0 723.6h0M160.2 740.0h0M574.2 737.4h0M506.6 737.1h0M488.5 735.8h0M903.1 695.7h0M923.8 690.8h0M869.8 707.0h0M828.3 716.9h0M577.2 738.3h0M513.7 735.7h0M601.8 735.2h0M189.4 738.1h0M679.4 733.8h0M186.6 740.6h0M724.8 728.0h0M202.2 739.0h0M650.9 731.8h0M961.8 679.4h0M713.3 728.0h0M832.2 714.4h0M369.2 738.9h0M442.8 738.0h0M244.0 739.3h0M163.5 738.1h0M296.0 738.9h0M779.1 722.3h0M513.3 736.6h0M666.6 729.1h0M320.9 739.9h0M255.5 736.7h0M295.1 740.2h0M185.2 739.7h0M434.7 737.5h0M567.9 735.2h0M232.9 740.9h0M357.9 738.6h0M382.2 739.0h0M381.1 738.3h0M179.8 738.6h0M380.9 741.6h0M775.4 722.8h0M462.3 739.1h0M295.8 740.3h0M321.3 739.5h0M570.4 738.4h0M493.2 737.4h0M940.1 684.3h0M802.2 720.1h0M735.4 725.6h0M835.7 713.0h0M922.1 687.3h0M636.7 732.6h0M361.1 740.3h0M749.4 726.4h0M178.7 743.2h0M764.8 721.5h0M738.4 725.1h0M607.5 733.5h0M728.3 728.0h0M226.2 739.3h0M746.7 725.1h0M904.4 698.5h0M370.6 738.8h0M883.5 705.5h0M641.2 731.8h0M362.8 741.1h0M453.7 739.3h0M295.8 739.6h0M326.0 741.1h0M639.7 730.3h0M808.2 719.3h0M500.4 736.9h0M571.3 735.4h0M184.5 741.7h0M807.9 718.2h0M381.2 739.0h0M186.3 736.6h0M435.7 738.1h0M869.0 706.5h0M313.9 740.3h0M285.1 739.4h0M563.7 736.6h0M767.6 725.5h0M903.5 695.9h0M180.6 742.0h0M639.0 731.4h0M562.0 736.7h0M275.3 739.8h0M923.9 685.4h0M279.2 737.0h0M216.6 738.8h0M532.0 737.2h0M875.6 706.9h0M271.1 736.9h0M753.6 724.6h0M196.9 741.6h0M264.7 741.1h0M677.3 729.8h0M882.1 704.2h0M961.0 676.7h0M781.8 719.2h0M452.2 737.2h0M638.1 733.4h0M343.7 737.0h0M776.9 725.4h0M435.8 735.6h0M406.6 740.4h0M780.9 719.7h0M303.1 741.2h0M741.0 724.6h0M436.4 736.1h0M605.2 734.9h0M217.5 740.1h0M293.9 739.9h0M456.0 735.6h0M871.0 709.3h0M695.0 730.5h0M974.3 671.8h0M669.2 730.1h0M819.5 721.7h0M469.4 737.7h0M292.6 738.3h0M552.1 735.8h0M604.6 733.7h0M577.3 736.9h0M238.1 739.4h0M926.9 691.9h0M540.4 738.6h0M253.5 738.4h0M779.4 721.9h0M785.3 720.1h0M857.8 708.5h0M457.9 737.1h0M402.3 739.3h0M159.4 740.3h0M196.1 741.0h0M877.7 703.6h0M883.0 703.3h0M453.2 739.0h0M445.0 735.6h0M336.8 738.9h0M319.4 738.2h0M535.2 736.0h0M286.2 739.1h0M167.2 737.7h0M422.0 738.6h0M821.6 715.5h0M587.5 733.6h0M509.8 738.1h0M493.0 736.1h0M613.7 734.7h0M481.4 736.5h0M171.7 742.0h0M411.9 738.6h0M365.1 737.0h0M739.2 726.1h0M429.6 738.5h0M463.8 736.8h0M382.4 739.4h0M619.0 735.0h0M871.8 705.4h0M616.1 733.9h0M766.9 723.6h0M573.8 735.0h0M462.6 735.8h0M408.7 738.4h0M858.8 710.4h0M538.7 737.0h0M437.4 738.7h0M482.9 739.7h0M654.5 732.2h0M195.3 738.8h0M736.8 726.0h0M510.6 738.9h0M216.4 738.6h0M822.1 717.0h0M297.0 742.4h0M568.0 737.2h0M408.3 742.5h0M250.2 737.0h0M180.2 739.9h0M480.6 738.8h0M344.5 739.1h0M811.4 720.3h0M396.3 735.8h0M707.9 728.5h0M165.3 739.9h0M815.7 720.1h0M354.8 736.0h0M923.0 690.7h0M954.2 679.5h0M563.7 736.7h0M297.7 736.6h0M451.5 735.4h0M761.3 723.4h0M978.5 673.5h0M552.4 738.2h0M374.1 737.6h0M936.1 686.8h0M836.8 717.2h0M577.2 734.2h0M923.6 690.4h0M380.1 738.5h0M348.3 739.2h0M273.8 739.8h0M397.8 738.8h0M485.3 737.0h0M259.0 738.8h0M403.9 737.2h0M883.0 699.8h0M634.1 732.1h0M794.1 720.8h0M561.1 739.0h0M207.3 738.5h0M591.4 734.2h0M910.3 694.8h0M951.5 680.8h0M743.7 726.0h0M439.6 740.4h0M697.2 730.5h0M457.8 739.0h0M940.8 683.2h0M647.6 733.3h0M470.3 737.0h0M331.8 738.9h0M714.6 730.4h0M397.6 737.4h0M466.2 740.0h0M499.9 737.4h0M509.8 737.8h0M246.7 738.5h0M861.5 712.2h0M417.4 736.9h0M681.1 730.0h0M208.1 740.3h0M972.7 675.5h0M555.4 738.4h0M826.0 715.4h0M661.3 730.2h0M206.8 740.6h0M613.1 735.5h0M292.6 738.5h0M193.5 740.2h0M208.7 741.2h0M463.5 738.9h0M908.4 696.9h0M639.3 731.3h0M249.3 741.1h0M493.4 736.5h0M508.8 737.4h0M821.2 718.0h0M964.7 678.7h0M616.3 734.4h0M246.1 741.5h0M827.8 712.8h0M699.9 727.4h0M176.5 741.2h0M762.0 721.7h0M203.9 741.0h0M719.4 728.8h0M168.6 738.8h0M610.4 732.4h0M527.4 736.1h0M182.0 740.7h0M882.4 700.9h0M900.1 696.1h0M544.4 737.0h0M386.4 740.2h0M710.3 728.3h0M749.3 723.3h0M901.2 696.3h0M765.4 723.4h0M822.5 717.7h0M909.2 696.2h0M250.8 736.3h0M891.1 699.4h0M211.1 740.0h0M756.3 723.5h0M258.6 741.8h0M485.1 739.1h0M600.1 735.7h0M295.3 739.0h0M501.3 735.5h0M359.8 741.3h0M672.1 729.2h0M666.5 730.0h0M561.8 737.7h0M620.9 733.6h0M385.0 738.7h0M682.1 728.9h0M331.2 738.3h0M684.1 731.7h0M506.7 737.3h0M312.0 738.8h0M568.1 736.3h0M853.8 710.9h0M466.1 737.8h0M361.5 738.3h0M979.1 671.9h0M309.7 739.6h0M372.7 739.2h0M439.2 739.6h0M164.6 739.4h0M340.7 739.3h0M548.6 736.5h0M878.0 703.9h0M623.1 731.8h0M216.9 738.9h0M961.9 678.1h0M968.8 675.6h0M356.0 736.3h0M308.8 738.1h0M767.2 722.1h0M263.5 737.1h0M224.3 738.7h0M210.1 740.2h0M878.8 702.2h0M554.3 738.0h0M320.0 739.2h0M197.8 739.2h0M456.0 739.0h0M600.5 733.8h0M963.3 677.6h0M601.9 733.6h0M864.7 707.5h0M213.5 739.2h0M356.4 739.5h0M231.2 739.3h0M588.3 734.6h0M618.9 733.6h0M191.9 741.0h0M675.9 730.5h0M364.2 738.2h0M372.2 740.1h0M418.1 737.1h0M654.8 730.3h0M841.1 710.5h0M480.6 739.7h0M829.7 714.9h0M578.8 736.0h0M535.2 737.2h0M864.4 710.3h0M499.3 738.1h0M178.9 738.9h0M720.8 727.0h0M667.0 731.3h0M957.4 680.3h0M754.6 724.3h0M273.5 739.1h0M198.3 737.6h0M745.1 723.9h0M731.5 727.0h0M698.7 730.3h0M476.9 737.6h0M468.6 738.2h0M583.3 735.1h0M637.2 733.3h0M384.9 738.0h0M895.3 699.1h0M541.4 736.5h0M701.3 730.3h0M392.7 739.4h0M237.5 740.1h0M918.5 690.6h0M632.2 731.1h0M299.4 737.8h0M253.4 739.1h0M717.3 725.6h0M393.6 737.2h0M632.0 733.0h0M401.6 738.6h0M642.5 732.3h0M714.1 724.5h0M770.5 722.7h0M165.8 740.1h0M872.4 705.5h0M764.9 725.0h0M296.6 739.8h0M760.5 723.5h0M909.1 695.3h0M835.6 715.0h0M796.2 720.5h0M965.6 675.3h0M699.6 730.0h0M433.1 739.9h0M393.5 737.7h0M205.0 737.9h0M378.8 738.1h0M728.2 724.9h0M247.0 739.6h0M648.5 730.1h0M936.7 685.2h0M345.1 737.9h0M325.7 736.8h0M967.7 678.0h0M584.0 735.7h0M227.9 740.6h0M645.2 731.8h0M952.0 682.6h0M496.6 736.1h0M318.6 740.8h0M365.8 737.9h0M846.6 712.7h0M886.9 700.8h0M867.5 707.9h0M586.1 733.2h0M842.0 714.2h0M331.5 736.9h0M203.0 739.4h0M350.7 738.9h0M818.7 717.9h0M266.8 740.3h0M648.6 733.6h0M688.7 728.4h0M301.2 739.4h0M370.7 738.3h0M364.1 741.4h0M725.6 725.8h0M946.7 683.1h0M821.2 718.0h0M777.0 722.0h0M565.2 736.5h0M458.7 739.0h0M602.9 733.2h0M728.9 724.7h0M531.6 735.7h0M345.5 739.7h0M246.3 739.8h0M679.2 729.4h0M694.5 728.0h0M432.0 740.5h0M861.7 709.1h0M958.3 678.7h0M852.3 709.6h0M679.0 733.0h0M766.2 723.3h0M425.3 738.0h0M275.0 739.5h0M696.2 728.4h0M644.9 731.2h0M173.2 739.6h0M393.3 737.7h0M964.0 678.4h0M610.9 734.8h0M773.5 724.0h0M771.7 724.0h0M276.8 737.8h0M349.7 739.6h0M428.8 737.5h0M284.1 741.3h0M275.0 742.3h0M523.8 735.9h0M306.6 742.0h0M487.5 738.9h0M573.0 734.5h0M788.1 718.5h0M952.2 682.2h0M203.0 739.1h0M891.2 699.5h0M344.1 738.6h0M862.5 709.7h0M704.0 727.0h0M609.9 738.0h0M353.1 738.4h0M524.5 738.3h0M947.3 682.6h0M464.6 735.1h0M736.9 725.7h0M180.8 738.1h0M458.4 737.6h0M301.9 738.1h0M203.9 741.1h0M491.3 735.5h0M172.1 737.6h0M753.5 725.2h0M948.1 681.9h0M792.0 719.5h0M349.3 740.1h0M407.6 738.0h0M568.7 736.6h0M611.9 731.6h0M894.2 701.1h0M815.6 720.0h0M785.3 720.3h0M618.0 733.4h0M441.9 738.1h0M541.0 739.2h0M261.5 740.8h0M375.7 738.6h0M297.2 736.2h0M618.1 734.0h0M898.8 700.3h0M291.1 740.6h0M542.4 737.3h0M161.0 737.0h0M733.8 728.6h0M175.5 740.5h0M649.9 733.2h0M462.6 738.0h0M446.2 736.6h0M493.4 740.1h0M427.2 738.7h0M801.1 720.7h0M775.7 723.5h0M834.5 714.7h0M365.9 739.4h0M968.4 673.4h0M737.9 727.8h0M225.1 737.1h0M759.4 723.3h0M533.2 735.2h0M270.3 741.2h0M398.7 739.5h0M904.1 696.0h0M359.0 737.3h0M648.4 730.2h0M461.0 738.2h0M885.0 702.8h0M818.2 720.4h0M517.8 737.5h0M952.1 681.2h0M272.2 736.9h0M498.0 740.4h0M483.9 737.2h0M676.3 730.9h0M621.2 734.3h0M657.5 732.9h0M887.8 700.8h0M544.7 736.8h0M954.3 681.6h0M927.4 687.9h0M525.2 737.8h0M409.6 738.2h0M723.8 727.6h0M964.5 674.9h0M914.3 695.8h0M277.5 738.3h0M467.5 739.8h0M909.9 694.1h0M459.7 738.3h0M465.1 736.9h0M523.1 737.4h0M185.0 739.1h0M659.4 734.3h0M972.6 673.5h0M970.5 675.6h0M276.8 742.4h0M335.4 739.4h0M480.3 738.0h0M545.3 736.6h0M663.4 731.7h0M859.1 707.7h0M531.0 736.5h0M763.6 723.4h0M670.6 729.0h0M639.2 733.1h0M516.1 738.6h0M596.2 735.1h0M211.1 740.3h0M664.5 731.9h0M727.0 726.6h0M598.6 734.5h0M883.1 703.6h0M388.5 739.0h0M358.9 738.9h0M593.8 735.2h0M172.4 741.4h0M794.3 720.9h0M289.3 740.2h0M259.4 737.8h0M524.7 738.3h0M301.4 738.2h0M492.6 734.8h0M415.3 738.6h0M971.5 673.6h0M395.8 738.6h0M820.4 718.0h0M730.9 725.0h0M600.4 736.9h0M913.7 694.8h0M451.8 736.7h0M521.5 734.9h0M638.0 732.2h0M462.0 738.4h0M789.1 720.7h0M598.1 735.2h0M178.5 738.5h0M903.7 695.9h0M795.5 722.2h0M727.8 727.6h0M659.4 733.6h0M681.8 731.1h0M188.4 739.8h0M399.6 739.7h0M494.4 738.3h0M489.9 736.6h0M528.5 737.4h0M916.9 689.4h0M651.0 732.2h0M429.0 737.4h0M421.6 739.7h0M187.2 740.0h0M895.4 700.8h0M568.2 736.5h0M520.4 738.0h0M214.7 739.9h0M380.5 739.6h0M866.4 707.1h0M693.7 726.6h0M803.0 720.1h0M821.5 715.1h0M945.5 680.2h0M905.5 697.2h0M200.0 740.6h0M815.3 718.4h0M741.8 726.3h0M739.6 727.0h0M674.1 732.4h0M757.3 721.7h0M267.8 740.0h0M345.3 738.4h0M523.1 737.2h0M504.1 738.3h0M541.9 735.6h0M617.0 734.8h0M728.2 726.6h0M603.1 733.2h0M514.4 739.6h0M907.6 695.4h0M319.0 736.5h0M909.9 695.5h0M719.9 727.1h0M818.1 718.3h0M476.6 737.1h0M882.7 701.3h0M667.0 729.6h0M441.8 738.0h0M436.0 738.8h0M761.5 724.9h0M531.1 737.7h0M191.4 739.5h0M271.0 738.7h0M265.8 738.7h0M903.7 697.1h0M700.1 729.5h0M576.9 737.2h0M719.7 728.2h0M782.2 719.8h0M936.4 686.4h0M434.7 738.5h0M684.7 728.0h0M616.2 735.7h0M812.3 719.0h0M255.0 739.3h0M248.3 739.3h0M517.5 741.2h0M751.4 723.2h0M627.0 733.2h0M364.9 738.8h0M504.4 737.3h0M914.8 690.8h0M846.9 712.7h0M346.5 739.0h0M357.9 738.7h0M205.1 737.8h0M463.5 739.7h0M804.8 719.7h0M705.8 726.5h0M817.0 716.5h0M396.5 740.0h0M208.6 741.8h0M269.2 738.6h0M508.2 737.3h0M960.6 676.6h0M161.0 738.6h0M287.9 739.7h0M775.7 722.3h0M870.1 704.9h0M375.2 739.4h0M424.8 739.7h0M332.4 738.8h0M953.1 683.3h0M710.2 727.7h0M346.2 738.9h0M334.6 739.4h0M674.9 725.9h0M471.2 738.2h0M500.7 737.5h0M827.4 713.6h0M436.4 738.0h0M799.2 721.9h0M760.5 724.4h0M382.1 738.6h0M521.6 738.8h0M844.5 714.0h0M269.4 740.1h0M542.6 738.1h0M570.1 738.7h0M312.9 742.1h0M320.6 738.5h0M621.3 734.6h0M267.8 737.8h0M441.5 735.0h0M941.9 683.3h0M328.3 737.2h0M244.9 737.9h0M565.4 736.4h0M807.0 719.4h0M848.7 709.8h0M173.1 739.7h0M828.0 717.0h0M421.6 739.4h0M393.4 739.7h0M743.3 726.6h0M842.8 717.1h0M620.0 732.2h0M285.8 738.0h0M437.0 738.9h0M507.7 739.2h0M837.5 711.8h0M249.5 738.9h0M840.1 714.2h0M357.8 741.2h0M944.6 683.5h0M271.5 738.5h0M365.2 737.0h0M925.4 689.9h0M698.1 728.1h0M389.4 739.6h0M805.4 721.0h0M933.1 685.2h0M676.3 729.7h0M534.3 736.0h0M576.9 736.4h0M677.3 729.8h0M327.0 738.7h0M953.3 680.1h0M540.7 738.3h0M704.2 730.6h0M818.7 717.9h0M348.7 738.1h0M223.7 739.2h0M935.8 684.0h0M168.0 740.0h0M639.5 735.1h0M557.8 735.1h0M293.1 738.9h0M252.2 741.2h0M320.3 737.4h0M799.4 720.8h0M646.7 729.9h0M732.8 729.0h0M598.8 735.4h0M779.7 722.6h0M548.3 736.2h0M653.6 730.7h0M346.1 738.0h0M435.2 737.9h0M555.7 738.2h0M202.3 738.6h0M874.6 705.3h0M529.9 737.2h0M579.8 737.1h0M664.5 730.8h0M698.8 728.9h0M174.4 739.8h0M242.8 740.0h0M409.4 739.8h0M938.4 684.2h0M428.6 741.5h0M619.0 733.4h0M544.6 737.5h0M654.2 729.9h0M442.9 738.8h0M691.4 729.2h0M814.1 718.3h0M925.9 690.5h0M674.2 728.9h0M264.6 740.2h0M815.2 718.9h0M389.2 738.9h0M671.1 732.1h0M356.3 741.1h0M882.2 701.8h0M629.8 732.0h0" stroke="#000" stroke-width="5.9" stroke-linecap="round" fill="none"/>
<path d="M255.4 668.2h0M547.4 643.0h0M259.6 667.9h0M720.7 351.1h0M649.9 533.2h0M346.3 668.6h0M645.6 545.3h0M396.3 665.6h0M680.4 452.4h0M492.8 659.1h0M374.8 668.3h0M165.1 669.5h0M733.7 323.9h0M744.1 268.1h0M963.9 49.6h0M685.6 448.9h0M589.3 615.7h0M264.4 668.0h0M238.3 668.3h0M303.0 668.4h0M392.2 667.2h0M742.5 264.5h0M490.2 661.1h0M342.9 665.9h0M853.1 76.2h0M518.8 654.3h0M370.2 667.3h0M175.6 669.2h0M864.2 64.8h0M343.8 668.0h0M353.0 669.1h0M307.1 670.2h0M248.5 667.6h0M554.3 640.9h0M569.6 626.2h0M550.4 638.9h0M275.9 668.5h0M599.9 600.8h0M691.6 422.4h0M356.6 666.6h0M623.6 567.7h0M306.8 667.4h0M362.1 668.6h0M266.6 669.7h0M696.9 415.3h0M532.9 651.2h0M518.5 654.1h0M429.2 666.6h0M771.3 215.6h0M159.1 665.0h0M202.3 667.6h0M176.8 668.4h0M205.8 669.1h0M217.0 671.1h0M675.1 490.1h0M862.9 69.2h0M827.8 93.7h0M834.3 90.4h0M422.2 667.8h0M638.6 555.4h0M613.9 594.7h0M720.9 346.3h0M208.5 669.2h0M963.0 46.0h0M712.8 373.7h0M778.4 182.1h0M492.6 658.4h0M528.3 650.8h0M850.1 76.1h0M387.3 666.0h0M587.2 619.0h0M787.7 177.5h0M411.9 667.9h0M809.8 133.0h0M816.2 99.0h0M712.5 367.5h0M378.2 667.2h0M354.8 665.0h0M728.8 333.0h0M820.2 95.5h0M681.5 464.4h0M467.4 662.8h0M393.3 665.5h0M700.1 420.3h0M731.6 343.0h0M717.2 393.8h0M340.5 668.3h0M901.3 54.2h0M233.3 669.3h0M404.0 667.6h0M610.9 593.0h0M875.1 63.8h0M668.6 472.7h0M724.6 312.1h0M246.9 667.6h0M307.0 667.2h0M766.8 231.4h0M897.1 54.3h0M798.2 143.5h0M722.9 358.3h0M952.9 46.9h0M654.2 517.7h0M574.0 626.1h0M661.4 507.4h0M578.5 625.3h0M798.7 140.2h0M383.9 667.2h0M685.0 448.1h0M319.7 668.3h0M682.3 457.5h0M418.7 667.5h0M159.8 668.8h0M518.3 653.7h0M537.2 645.4h0M739.3 314.0h0M745.1 261.2h0M293.1 670.0h0M378.1 666.7h0M224.0 669.4h0M706.9 407.8h0M727.6 345.8h0M277.2 668.1h0M969.6 46.2h0M751.8 280.5h0M493.8 657.8h0M668.7 495.2h0M542.2 643.7h0M179.7 669.1h0M348.8 667.5h0M715.2 369.7h0M199.7 669.2h0M575.9 624.2h0M164.5 667.7h0M654.3 503.2h0M633.1 564.2h0M657.6 486.9h0M413.7 665.3h0M175.0 670.9h0M687.9 444.4h0M624.0 574.6h0M552.8 641.5h0M390.3 668.0h0M785.8 165.6h0M362.1 668.4h0M171.9 668.7h0M802.4 139.7h0M680.4 458.0h0M209.7 670.7h0M257.5 666.5h0M443.6 664.9h0M897.8 56.2h0M736.2 318.7h0M371.6 668.9h0M852.1 75.6h0M167.7 667.2h0M815.4 113.3h0M736.8 314.6h0M657.8 499.2h0M387.4 665.1h0M258.6 668.6h0M236.5 669.5h0M876.8 62.8h0M802.5 144.9h0M758.8 247.6h0M216.5 667.5h0M166.7 669.2h0M593.6 612.6h0M439.8 665.0h0M335.0 668.9h0M756.6 235.3h0M727.8 304.7h0M582.4 617.5h0M610.0 592.0h0M325.3 669.9h0M716.4 363.8h0M249.5 668.9h0M278.1 666.9h0M762.5 224.5h0M457.8 663.5h0M246.5 669.2h0M713.3 376.2h0M486.7 658.7h0M811.2 106.0h0M676.8 457.7h0M716.5 373.0h0M617.4 584.9h0M414.8 665.8h0M258.1 668.9h0M638.3 550.8h0M407.7 664.3h0M746.1 249.1h0M376.6 668.1h0M271.1 668.0h0M273.4 668.5h0M245.3 668.9h0M918.7 52.8h0M561.2 640.8h0M446.7 665.0h0M727.8 346.5h0M548.3 642.6h0M889.9 59.5h0M280.2 668.7h0M198.6 669.7h0M475.7 659.1h0M219.0 669.2h0M413.6 666.1h0M635.2 570.7h0M552.6 640.0h0M327.0 667.6h0M619.8 585.2h0M644.8 538.5h0M371.0 666.0h0M339.4 666.3h0M603.6 605.4h0M642.6 546.9h0M632.9 563.5h0M555.2 639.8h0M968.4 46.5h0M160.9 671.3h0M231.5 669.9h0M371.9 667.3h0M464.0 665.1h0M687.9 436.9h0M380.9 668.2h0M619.6 584.9h0M261.7 668.5h0M463.6 662.7h0M346.2 667.7h0M185.7 667.0h0M366.8 668.6h0M827.0 94.3h0M160.2 670.3h0M564.3 628.9h0M289.9 669.4h0M826.8 95.1h0M421.2 665.4h0M446.8 662.0h0M733.4 305.2h0M693.8 445.8h0M372.2 668.6h0M391.7 669.0h0M721.7 369.9h0M374.5 668.1h0M645.4 528.7h0M961.3 47.2h0M679.6 472.4h0M733.2 328.7h0M662.0 509.5h0M649.0 540.4h0M485.4 659.6h0M591.5 614.0h0M603.3 600.7h0M779.4 192.6h0M867.5 60.0h0M748.7 258.9h0M660.9 514.0h0M467.3 662.9h0M675.7 468.4h0M619.4 592.1h0M626.1 574.8h0M641.7 540.0h0M878.7 61.7h0M735.8 329.2h0M568.7 630.7h0M481.4 661.3h0M821.0 115.0h0M654.2 527.2h0M320.4 668.1h0M812.6 122.6h0M233.5 669.6h0M473.4 661.5h0M354.0 666.9h0M613.5 591.2h0M574.0 628.3h0M429.5 664.8h0M808.7 124.2h0M771.2 214.8h0M768.2 196.5h0M494.0 658.1h0M724.7 353.0h0M972.2 47.8h0M748.9 250.2h0M553.0 641.4h0M759.7 239.3h0M675.3 478.9h0M312.9 667.9h0M178.5 667.1h0M862.7 70.0h0M296.1 670.1h0M743.2 310.3h0M491.9 659.6h0M286.7 669.6h0M335.9 667.5h0M343.0 670.6h0M701.8 405.9h0M875.2 63.2h0M979.0 45.6h0M748.7 246.8h0M774.2 195.6h0M752.7 241.0h0M519.4 651.8h0M737.6 323.8h0M394.6 667.7h0M629.1 563.6h0M968.3 45.5h0M613.6 584.0h0M382.0 668.3h0M739.3 285.6h0M630.0 565.4h0M745.1 234.8h0M465.0 662.8h0M312.7 669.2h0M179.9 667.5h0M654.9 525.8h0M808.1 140.8h0M781.5 173.1h0M652.6 521.1h0M433.1 663.3h0M655.0 535.4h0M969.1 46.2h0M307.1 669.8h0M771.2 199.8h0M734.2 315.3h0M612.8 592.2h0M452.7 662.6h0M921.9 53.5h0M258.8 667.5h0M733.1 319.8h0M951.8 47.9h0M464.9 661.1h0M209.1 669.8h0M726.6 328.7h0M655.6 521.5h0M305.4 668.7h0M960.5 44.5h0M497.9 657.7h0M523.7 653.3h0M363.0 668.0h0M220.7 669.1h0M308.7 668.4h0M418.6 665.2h0M180.9 668.2h0M695.5 427.8h0M674.3 483.0h0M714.2 393.0h0M624.4 569.7h0M411.1 665.9h0M744.9 272.8h0M939.5 49.5h0M224.7 668.0h0M463.9 662.4h0M661.6 500.2h0M549.8 642.4h0M726.7 327.2h0M571.1 628.5h0M675.9 491.7h0M217.2 668.0h0M801.7 147.3h0M678.2 463.7h0M208.9 670.1h0M633.7 584.1h0M424.3 664.6h0M734.1 339.0h0M491.9 655.3h0M583.1 617.9h0M542.0 644.6h0M303.0 666.4h0M361.0 666.4h0M173.2 667.8h0M719.8 345.1h0M324.1 668.0h0M268.5 669.5h0M971.9 47.5h0M949.4 48.3h0M666.2 487.7h0M575.4 628.5h0M598.0 607.5h0M166.4 669.7h0M578.8 619.7h0M384.7 668.0h0M506.6 657.0h0M652.8 534.6h0M700.5 415.5h0M407.3 664.6h0M663.4 480.0h0M647.5 548.7h0M704.7 394.9h0M645.3 541.7h0M181.5 668.5h0M300.6 668.0h0M348.3 666.8h0M915.1 51.3h0M797.4 138.3h0M358.2 666.5h0M717.8 341.2h0M728.0 333.8h0M707.6 400.9h0M868.6 61.1h0M611.9 594.5h0M176.2 670.3h0M896.0 55.5h0M328.1 669.8h0M750.0 238.1h0M213.6 668.5h0M933.5 52.9h0M731.1 323.5h0M579.8 624.6h0M356.5 666.8h0M636.0 572.8h0M605.3 601.5h0M450.4 662.3h0M767.2 198.1h0M966.0 48.2h0M674.7 481.7h0M242.4 669.0h0M520.5 651.2h0M216.7 668.3h0M555.3 638.2h0M254.8 670.1h0M780.5 194.2h0M735.7 347.4h0M499.1 655.4h0M225.0 667.6h0M542.1 646.1h0M503.2 660.4h0M838.1 108.2h0M701.6 402.5h0M424.4 663.1h0M821.4 108.9h0M464.9 660.8h0M721.5 338.7h0M219.2 670.5h0M439.5 662.8h0M518.0 653.8h0M159.3 671.4h0M385.1 668.1h0M798.0 140.5h0M675.5 470.1h0M400.7 666.2h0M630.3 572.5h0M680.1 444.3h0M730.9 324.9h0M810.7 122.0h0M735.6 314.0h0M209.0 670.4h0M733.0 310.5h0M496.4 659.7h0M425.6 664.5h0M725.7 369.0h0M713.3 404.6h0M264.6 669.8h0M600.6 602.9h0M474.6 660.1h0M368.8 668.1h0M359.5 667.4h0M734.7 269.7h0M703.7 418.2h0M736.2 316.5h0M730.2 304.4h0M710.1 394.2h0M720.7 349.0h0M683.0 456.2h0M348.6 668.2h0M481.3 662.1h0M737.9 319.2h0M786.0 157.9h0M731.6 355.1h0M507.2 655.6h0M552.9 644.3h0M958.9 48.3h0M737.7 317.5h0M715.5 375.4h0M254.0 667.9h0M838.3 86.5h0M789.1 157.5h0M170.5 670.5h0M682.2 462.4h0M457.6 661.3h0M488.0 659.9h0M670.4 496.8h0M476.3 659.5h0M495.3 657.3h0M709.3 407.5h0M816.3 118.1h0M356.6 666.4h0M572.3 631.6h0M491.3 657.5h0M720.0 372.9h0M228.2 668.1h0M816.9 113.1h0M705.5 404.2h0M589.4 608.7h0M718.9 360.7h0M748.4 254.1h0M359.1 668.2h0M663.9 493.6h0M720.5 368.9h0M695.0 423.6h0M190.1 669.8h0M167.5 666.9h0M691.0 438.8h0M791.9 165.1h0M611.4 588.1h0M731.8 335.1h0M812.7 119.1h0M171.5 669.4h0M800.2 145.6h0M201.0 667.9h0M773.3 207.1h0M463.2 663.2h0M181.4 668.7h0M168.4 667.7h0M244.1 668.0h0M664.8 511.2h0M809.9 131.5h0M684.0 442.4h0M774.6 191.9h0M270.5 669.9h0M345.7 667.6h0M484.1 661.4h0M547.3 642.8h0M529.4 649.6h0M314.7 669.9h0M188.0 670.4h0M851.5 80.1h0M324.7 667.8h0M440.5 664.6h0M838.6 87.9h0M845.0 81.7h0M735.1 299.3h0M453.6 664.8h0M777.0 179.6h0M663.6 517.7h0M944.7 45.6h0M824.3 110.9h0M652.1 534.5h0M248.7 666.5h0M436.6 663.3h0M808.4 134.1h0M727.5 334.6h0M883.0 58.8h0M732.3 334.8h0M507.3 656.4h0M368.9 668.1h0M547.8 642.1h0M225.0 669.3h0M646.1 545.7h0M301.1 669.8h0M814.5 133.2h0M250.2 669.7h0M707.8 414.4h0M846.6 69.2h0M972.0 49.7h0M614.3 598.4h0M736.2 260.4h0M418.7 666.6h0M184.8 670.9h0M822.4 111.3h0M643.5 543.7h0M386.9 666.9h0M251.7 669.7h0M622.9 577.8h0M797.4 140.5h0M960.6 47.7h0M931.5 49.9h0M320.0 666.9h0M576.5 632.3h0M965.3 48.5h0M420.7 665.7h0M307.0 668.4h0M486.5 658.3h0M525.9 650.1h0M738.8 267.1h0M163.5 669.0h0M622.2 583.1h0M858.9 72.8h0M450.1 661.9h0M797.9 142.1h0M401.8 667.6h0M450.6 662.9h0M460.4 662.3h0M736.9 305.5h0M731.8 339.1h0M670.6 480.7h0M595.3 614.7h0M943.1 49.5h0M556.8 638.0h0M792.3 148.5h0M397.7 665.9h0M253.2 668.4h0M789.3 160.3h0M819.1 119.7h0M749.9 248.5h0M266.6 668.1h0M737.8 298.1h0M424.8 665.9h0M377.8 667.9h0M823.6 106.4h0M664.2 489.7h0M257.9 667.7h0M740.6 282.3h0M780.3 179.8h0M913.2 51.4h0M646.6 536.9h0M506.3 656.8h0M959.4 48.4h0M195.2 669.9h0M782.5 175.6h0M780.9 181.4h0M597.6 608.4h0M415.3 666.6h0M671.1 474.6h0M812.8 123.6h0M828.0 100.3h0M769.4 204.6h0M329.4 667.9h0M368.6 667.6h0M364.1 666.1h0M666.5 491.9h0M847.4 81.3h0M662.1 510.8h0M664.0 499.3h0M679.4 462.7h0M652.3 519.2h0M812.2 120.1h0M504.5 655.5h0M428.3 664.5h0M551.6 640.2h0M858.4 67.5h0M188.8 670.2h0M296.8 667.7h0M407.1 669.3h0M630.7 569.9h0M716.0 389.3h0M205.5 669.0h0M373.7 667.6h0M584.4 617.7h0M525.3 652.0h0M231.9 669.2h0M334.4 666.6h0M708.8 401.1h0M818.2 114.9h0M366.9 668.1h0M889.8 59.4h0M327.2 671.3h0M513.2 654.0h0M227.4 669.4h0M649.6 527.2h0M712.4 390.1h0M161.8 668.9h0M174.6 668.5h0M492.9 659.2h0M206.4 668.5h0M962.5 47.7h0M774.3 181.7h0M174.9 668.8h0M574.6 626.4h0M780.6 149.9h0M653.5 524.4h0M591.9 619.5h0M692.8 429.5h0M714.9 372.5h0M771.2 193.4h0M748.9 259.4h0M463.8 661.8h0M750.4 231.1h0M360.3 665.7h0M762.8 219.6h0M667.6 479.4h0M440.7 664.3h0M205.1 667.8h0M497.7 657.9h0M371.9 668.3h0M237.7 668.0h0M310.8 667.7h0M654.1 506.8h0M556.2 638.2h0M401.4 667.9h0M536.4 646.1h0M360.8 669.4h0M548.9 642.5h0M546.3 641.7h0M960.8 48.8h0M749.5 280.3h0M421.5 663.7h0M573.5 622.5h0M717.1 367.8h0M676.5 477.1h0M537.0 645.9h0M200.8 667.7h0M549.3 643.6h0M494.1 659.5h0M915.4 52.7h0M211.1 670.2h0M934.2 51.4h0M340.6 668.5h0M948.5 50.2h0M738.7 326.6h0M683.8 473.0h0M879.2 61.8h0M671.4 476.1h0M824.5 108.3h0M260.8 670.0h0M947.6 49.6h0M760.4 243.1h0M742.4 256.3h0M955.7 48.3h0M591.8 616.1h0M697.1 406.0h0M237.0 668.0h0M368.9 667.8h0M506.2 658.9h0M563.6 637.0h0M220.7 668.8h0M605.4 600.2h0M721.0 354.7h0M753.1 234.0h0M516.5 653.1h0M686.0 442.1h0M305.8 669.9h0M361.9 666.8h0M706.8 402.4h0M635.4 575.1h0M845.0 73.2h0M553.4 640.8h0M614.5 597.6h0M788.4 160.0h0M457.3 662.7h0M339.8 667.1h0M625.0 573.9h0M717.7 394.6h0M942.0 51.0h0M536.6 646.6h0M365.4 665.9h0M491.4 659.7h0M606.5 596.5h0M482.0 663.5h0M732.0 342.2h0M824.9 96.0h0M603.1 601.9h0M611.9 602.9h0M742.6 275.9h0M760.3 232.2h0M848.1 73.4h0M262.5 669.4h0M719.0 381.2h0M335.7 666.4h0M696.3 427.1h0M199.9 666.1h0M308.2 668.6h0M258.0 670.0h0M538.1 645.8h0M757.1 226.0h0M163.4 669.3h0M680.5 479.0h0M191.7 668.3h0M162.0 669.0h0M736.0 313.7h0M480.2 659.7h0M552.6 636.2h0M421.1 663.2h0M606.2 594.6h0M535.3 646.8h0M505.2 655.9h0M305.5 668.4h0M645.7 531.8h0M477.6 660.4h0M450.5 663.6h0M556.6 638.7h0M823.5 111.5h0M534.8 648.7h0M977.0 49.3h0M935.0 49.9h0M830.3 92.5h0M548.4 639.4h0M461.6 661.7h0M575.8 625.2h0M653.4 518.4h0M526.6 652.0h0M756.3 234.4h0M751.8 247.8h0M895.2 59.0h0M496.4 658.4h0M645.8 543.6h0M386.0 668.6h0M710.7 395.4h0M408.8 666.2h0M261.1 669.6h0M295.6 667.8h0M802.5 135.7h0M377.1 669.5h0M376.6 666.5h0M596.3 613.4h0M926.0 51.7h0M629.7 573.1h0M536.4 649.3h0M959.1 46.8h0M235.1 669.0h0M504.8 656.3h0M285.3 670.1h0M714.2 391.0h0M715.7 368.2h0M708.1 405.8h0M271.7 670.6h0M731.3 332.9h0M756.9 246.7h0M762.6 226.4h0M824.7 102.2h0M315.0 669.1h0M748.6 256.6h0M268.5 670.7h0M331.4 668.6h0M734.6 300.5h0M709.4 397.7h0M767.4 218.0h0M595.4 609.1h0M706.8 398.1h0M603.3 607.4h0M200.5 670.3h0M771.8 189.1h0M542.7 645.0h0M583.6 611.4h0M714.8 391.0h0M709.6 398.7h0M608.3 595.4h0M815.6 119.5h0M732.7 335.9h0M623.6 578.4h0M348.4 669.1h0M783.5 176.8h0M253.4 668.8h0M602.9 610.4h0M468.5 663.2h0M451.1 661.4h0M653.2 548.7h0M480.7 661.3h0M631.0 558.2h0M755.1 247.7h0M312.6 669.3h0M847.5 83.3h0M339.3 667.7h0M249.1 669.5h0M744.2 282.1h0M704.5 396.0h0M718.0 362.3h0M321.9 668.8h0M697.0 415.3h0M688.7 421.4h0M731.6 279.8h0M258.8 667.7h0M406.2 666.1h0M245.0 665.9h0M787.6 172.2h0M388.0 667.7h0M718.4 372.3h0M445.6 663.1h0M180.4 669.7h0M730.3 302.1h0M564.6 632.6h0M777.1 187.8h0M305.9 667.9h0M930.0 50.9h0M455.2 661.2h0M424.0 664.4h0M889.9 58.2h0M393.1 666.7h0M752.6 248.7h0M547.6 644.9h0M371.2 669.0h0M761.9 223.0h0M697.4 417.6h0M353.0 669.2h0M542.3 644.7h0M436.4 664.5h0M521.4 653.4h0M721.4 366.3h0M164.0 669.0h0M875.2 61.5h0M738.6 301.8h0M507.0 655.9h0M741.8 275.4h0M475.7 659.2h0M788.8 145.2h0M393.6 666.3h0M690.3 428.3h0M175.5 669.6h0M771.2 204.5h0M560.1 637.9h0M394.2 666.9h0M589.2 623.7h0M703.1 405.2h0M760.5 217.2h0M499.6 657.2h0M414.4 666.4h0M743.5 274.9h0M171.8 668.5h0M443.1 665.1h0M260.8 670.8h0M418.1 667.9h0M740.4 298.2h0M954.8 46.4h0M610.0 597.7h0M295.5 668.4h0M632.0 576.5h0M555.9 639.5h0M502.5 657.5h0M782.6 161.6h0M679.0 451.7h0M540.6 644.8h0M960.4 47.5h0M432.3 664.6h0M886.2 59.3h0M632.3 569.6h0M729.3 333.4h0M486.6 660.3h0M322.6 668.9h0M189.6 668.6h0M468.7 659.9h0M273.8 668.0h0M651.8 513.8h0M755.1 226.1h0M661.5 489.9h0M409.2 667.3h0M759.0 228.0h0M189.4 669.7h0M735.1 344.5h0M812.1 126.5h0M240.9 669.2h0M326.6 667.1h0M816.2 127.9h0M292.3 665.4h0M734.9 297.7h0M706.1 401.3h0M186.2 668.6h0M433.6 664.0h0M572.2 632.4h0M495.2 656.5h0M430.6 663.6h0M662.5 506.9h0M734.5 308.1h0M734.8 329.0h0M659.9 508.0h0M795.8 152.0h0M362.5 665.3h0M170.5 666.9h0M932.6 51.5h0M758.9 222.1h0M724.5 343.6h0M770.1 205.9h0M241.7 670.3h0M629.7 562.4h0M167.1 669.4h0M674.9 485.3h0M799.8 145.9h0M712.6 383.2h0M753.6 238.9h0M665.2 496.6h0M707.9 376.1h0M400.8 665.7h0M730.9 308.9h0M187.3 667.9h0M184.1 670.2h0M211.6 669.8h0M835.5 88.1h0M550.7 640.1h0M743.5 289.4h0M172.7 668.2h0M337.9 668.4h0M224.6 668.6h0M816.6 106.8h0M537.3 647.4h0M428.9 666.1h0M698.7 421.9h0M378.1 666.8h0M784.1 171.1h0M856.9 68.8h0M208.9 668.2h0M755.7 225.7h0M216.2 666.9h0M229.2 667.9h0M263.5 668.4h0M180.7 668.4h0M165.2 667.1h0M364.6 667.8h0M181.6 669.1h0M434.5 664.8h0M456.9 661.9h0M847.4 82.0h0M823.4 113.8h0M829.8 89.0h0M794.4 147.3h0M684.5 451.0h0M542.5 640.8h0M839.2 80.4h0M516.3 655.9h0M717.2 373.4h0M473.7 658.9h0M451.7 662.2h0M200.6 669.0h0M354.6 669.7h0M673.3 479.8h0M636.0 562.8h0M759.2 220.6h0M188.2 668.0h0M731.0 326.4h0M310.6 666.9h0M684.8 452.7h0M341.7 668.9h0M598.2 596.8h0M792.0 158.2h0M480.1 660.6h0M536.1 647.4h0M208.3 667.4h0M697.2 440.5h0M860.6 64.9h0M843.6 84.8h0M217.8 669.8h0M601.7 606.8h0M378.1 669.6h0M861.5 65.6h0M439.8 664.6h0M202.8 669.3h0M462.6 661.4h0M712.6 371.9h0M388.8 668.5h0M817.0 112.0h0M702.3 407.3h0M890.3 57.0h0M323.2 668.4h0M721.2 370.0h0M173.0 669.1h0M250.1 670.4h0M789.9 163.4h0M915.3 53.9h0M614.3 588.7h0M664.5 511.0h0M312.0 668.1h0M743.0 300.2h0M936.5 48.5h0M734.7 263.3h0M480.8 662.0h0M873.7 60.2h0M726.5 340.2h0M527.0 652.5h0M267.9 669.5h0M358.8 670.6h0M941.7 49.0h0M572.8 625.0h0M496.1 658.4h0M862.5 68.2h0M705.0 407.2h0M409.4 665.1h0M646.2 524.2h0M836.9 93.0h0M818.5 126.4h0M652.8 530.7h0M686.1 446.4h0M809.6 129.7h0M663.9 494.3h0M680.8 469.0h0M288.5 668.3h0M306.7 667.7h0M747.8 259.8h0M819.5 108.1h0M342.5 668.2h0M654.0 514.5h0M337.1 667.6h0M948.1 48.7h0M865.1 66.5h0M860.4 68.5h0M475.7 660.7h0M888.7 56.3h0M751.5 242.2h0M636.2 556.8h0M953.6 50.7h0M422.8 666.3h0M912.4 55.8h0M799.1 146.1h0M590.0 606.1h0M910.7 54.0h0M820.5 104.9h0M465.4 659.7h0M456.2 661.7h0M579.4 625.7h0M935.6 52.0h0M388.9 667.3h0M627.1 569.6h0M770.6 212.2h0M385.4 664.8h0M561.3 634.0h0M545.2 642.6h0M209.9 669.9h0M242.8 669.4h0M460.8 663.5h0M809.3 118.1h0M690.3 436.7h0M452.2 664.8h0M450.3 663.2h0M555.1 639.1h0M855.7 74.3h0M740.2 320.9h0M597.6 593.8h0M751.5 236.9h0M721.9 382.3h0M897.0 58.4h0M178.1 668.8h0M340.6 668.8h0M347.9 667.3h0M414.4 666.2h0M412.1 665.3h0M727.8 322.6h0M639.1 560.9h0M796.7 140.1h0M781.3 175.6h0M364.4 667.5h0M742.6 309.3h0M883.6 62.4h0M725.8 337.2h0M266.7 667.6h0M556.5 641.4h0M495.6 658.9h0M435.7 665.5h0M638.0 559.2h0M694.8 440.4h0M188.2 669.4h0M468.4 660.9h0M740.9 302.0h0M946.4 49.2h0M940.4 49.3h0M663.1 500.6h0M724.0 341.8h0M370.5 668.2h0M696.1 437.8h0M748.1 228.1h0M835.8 100.7h0M836.3 86.6h0M741.1 271.9h0M661.7 506.0h0M725.0 337.8h0M645.4 542.5h0M903.4 57.2h0M528.0 648.9h0M743.6 299.2h0M546.4 640.0h0M671.7 488.0h0M734.2 320.4h0M858.0 71.7h0M726.1 369.9h0M714.6 409.0h0" stroke="#000" stroke-width="5.9" stroke-linecap="round" fill="none"/>
<path d="M329.2 276.3h0M481.4 65.5h0M443.3 79.0h0M236.4 525.1h0M334.5 246.5h0M417.3 101.9h0M227.8 534.4h0M523.8 55.1h0M266.3 456.4h0M590.3 45.7h0M468.5 70.2h0M305.9 360.1h0M768.6 44.9h0M531.5 55.8h0M232.8 532.4h0M580.0 48.3h0M412.3 123.4h0M192.6 559.2h0M245.1 515.8h0M423.0 102.6h0M423.9 91.7h0M456.1 72.4h0M337.5 258.6h0M251.9 501.5h0M315.5 335.7h0M485.8 64.2h0M215.2 551.6h0M783.6 44.3h0M295.4 370.1h0M536.5 52.2h0M222.7 549.0h0M849.3 44.2h0M273.2 457.7h0M637.9 45.2h0M277.1 435.9h0M399.6 136.7h0M321.7 329.2h0M376.0 171.1h0M250.6 508.8h0M649.0 45.0h0M361.3 224.1h0M364.5 203.3h0M329.2 321.7h0M312.7 373.9h0M493.2 63.2h0M531.9 55.5h0M443.0 74.7h0M596.6 48.1h0M369.8 192.8h0M270.9 454.2h0M398.1 154.2h0M253.8 495.8h0M942.9 46.1h0M378.3 152.4h0M298.1 381.8h0M430.1 81.6h0M468.7 68.2h0M463.3 68.0h0M871.7 44.6h0M396.4 140.3h0M308.2 379.3h0M928.9 43.3h0M900.6 44.9h0M299.3 408.4h0M898.0 44.6h0M299.4 395.8h0M455.0 73.1h0M685.7 46.2h0M296.0 412.3h0M513.3 56.6h0M261.1 484.0h0M354.4 230.5h0M476.2 66.3h0M340.4 248.4h0M336.4 289.6h0M285.0 422.9h0M364.8 205.9h0M277.1 454.1h0M765.4 43.3h0M578.6 46.9h0M719.1 44.7h0M347.2 227.8h0M502.1 60.0h0M365.1 206.3h0M193.2 564.8h0M630.0 46.2h0M238.7 527.4h0M485.7 62.0h0M640.6 45.4h0M957.5 44.0h0M535.9 52.7h0M916.8 45.5h0M202.9 558.4h0M506.4 60.0h0M207.9 551.6h0M270.0 468.9h0M946.0 44.9h0M425.9 92.9h0M286.6 412.4h0M316.8 325.0h0M417.0 107.6h0M282.6 457.8h0M377.1 175.6h0M511.9 57.6h0M664.8 44.5h0M261.0 486.0h0M891.1 45.5h0M287.9 423.1h0M279.7 439.1h0M803.5 45.2h0M307.5 389.9h0M862.3 46.8h0M412.6 107.4h0M336.9 262.1h0M355.6 238.0h0M478.6 63.2h0M577.2 48.5h0M392.3 138.8h0M214.8 548.5h0M547.8 49.1h0M415.7 107.3h0M196.8 557.9h0M269.2 474.9h0M213.8 548.6h0M888.2 44.2h0M302.2 368.6h0M679.6 46.1h0M307.3 376.9h0M403.5 121.1h0M579.5 48.2h0M194.7 559.4h0M292.0 412.8h0M784.0 45.8h0M294.3 418.4h0M406.1 125.5h0M669.0 48.0h0M637.6 45.5h0M893.4 45.2h0M284.9 421.2h0M425.5 100.5h0M325.5 308.8h0M545.1 50.3h0M327.6 313.6h0M320.0 329.0h0M839.1 44.9h0M546.6 51.7h0M303.1 371.8h0M226.5 539.6h0M541.1 52.4h0M258.3 502.6h0M976.7 45.2h0M433.4 85.0h0M931.6 45.1h0M534.5 52.3h0M786.7 45.8h0M651.4 45.4h0M348.7 218.5h0M429.4 88.1h0M416.7 118.5h0M926.7 44.9h0M269.5 459.0h0M299.7 373.5h0M367.5 193.8h0M330.6 296.6h0M208.1 554.5h0M375.5 173.7h0M430.9 97.7h0M273.2 461.6h0M483.7 64.7h0M285.3 427.4h0M480.7 66.9h0M790.8 43.8h0M509.0 56.8h0M376.5 193.1h0M769.8 46.2h0M217.6 543.6h0M227.1 527.7h0M564.4 51.0h0M347.7 226.9h0M337.6 246.9h0M351.9 243.3h0M710.3 46.0h0M769.9 45.3h0M333.4 258.8h0M282.1 426.4h0M600.3 45.1h0M402.5 135.0h0M348.6 217.5h0M292.3 408.9h0M255.4 491.9h0M197.3 561.0h0M431.8 83.3h0M331.3 287.1h0M356.7 235.8h0M214.6 541.4h0M452.1 72.6h0M877.1 47.8h0M346.0 260.9h0M852.8 44.5h0M493.8 63.5h0M345.0 238.4h0M323.0 310.0h0M340.0 278.6h0M499.6 61.7h0M409.1 108.9h0M226.4 529.9h0M264.6 485.0h0M665.4 46.3h0M528.8 53.8h0M312.1 368.7h0M431.0 87.3h0M544.9 50.1h0M237.0 523.1h0M247.5 494.0h0M494.1 62.1h0M740.8 45.2h0M342.1 250.4h0M356.6 211.6h0M578.0 48.6h0M725.8 46.3h0M498.2 60.2h0M582.6 48.8h0M653.2 46.8h0M217.4 542.9h0M318.9 338.4h0M393.6 145.3h0M162.2 574.5h0M218.7 547.7h0M172.8 567.8h0M934.9 43.5h0M283.9 435.4h0M337.3 291.3h0M923.2 45.0h0M831.9 44.6h0M177.0 568.1h0M759.2 45.5h0M874.2 44.4h0M224.7 539.5h0M829.4 44.7h0M733.4 45.1h0M338.6 267.7h0M553.7 50.5h0M715.8 45.0h0M299.7 394.9h0M323.9 315.5h0M308.4 348.3h0M498.7 58.8h0M443.9 79.2h0M225.0 533.2h0M411.5 116.9h0M354.6 211.6h0M651.0 44.7h0M391.2 165.4h0M865.9 43.5h0M573.8 47.0h0M751.4 45.3h0M419.6 114.0h0M342.9 250.1h0M414.2 110.6h0M293.8 408.9h0M343.4 237.2h0M629.1 45.3h0M339.2 279.0h0M494.0 62.5h0M599.3 46.4h0M491.5 60.2h0M895.0 44.1h0M321.4 313.6h0M395.5 131.5h0M555.4 48.0h0M260.2 453.8h0M276.6 440.9h0M294.1 396.1h0M265.0 476.1h0M932.8 45.0h0M681.0 46.0h0M392.4 137.3h0M878.4 45.1h0M859.3 43.6h0M373.9 183.1h0M395.9 149.3h0M243.4 508.6h0M330.9 286.0h0M348.7 232.6h0M646.7 46.7h0M919.0 44.1h0M404.4 123.8h0M344.9 250.8h0M552.5 52.7h0M210.1 550.1h0M827.4 42.3h0M194.0 560.9h0M239.1 526.5h0M311.5 348.2h0M238.9 521.9h0M165.9 575.6h0M184.2 565.1h0M644.3 45.3h0M181.2 563.9h0M670.2 45.5h0M484.5 65.4h0M355.8 204.5h0M305.1 399.5h0M275.2 441.9h0M546.4 51.7h0M265.9 463.6h0M164.9 571.0h0M958.6 42.8h0M496.2 62.2h0M717.5 45.0h0M275.0 475.7h0M233.6 536.8h0M942.7 44.5h0M175.6 573.6h0M262.4 474.8h0M336.0 275.6h0M211.2 552.4h0M333.8 275.0h0M311.3 323.2h0M290.9 419.3h0M302.1 372.4h0M337.9 243.7h0M396.1 144.9h0M414.1 108.0h0M733.3 45.7h0M203.0 551.7h0M954.3 44.8h0M726.8 45.6h0M432.8 81.6h0M464.5 67.6h0M390.9 145.4h0M218.9 549.0h0M550.3 50.3h0M919.3 44.8h0M847.6 42.6h0M601.6 45.4h0M575.9 48.9h0M434.7 87.2h0M345.6 236.0h0M340.2 238.7h0M279.6 452.7h0M746.9 45.6h0M253.6 502.5h0M372.8 192.6h0M379.6 177.7h0M486.2 62.5h0M320.5 306.1h0M951.1 42.1h0M375.9 183.2h0M769.5 45.0h0M475.1 67.1h0M187.0 564.1h0M872.9 45.6h0M473.0 64.3h0M478.3 65.3h0M834.1 44.3h0M487.3 64.0h0M299.7 386.4h0M515.8 59.1h0M961.8 45.5h0M380.9 177.3h0M406.4 119.9h0M384.4 173.2h0M751.5 43.5h0M597.4 48.1h0M259.6 482.1h0M549.0 49.5h0M390.5 138.4h0M332.7 298.1h0M909.6 45.7h0M470.8 69.3h0M520.6 58.0h0M916.8 46.0h0M445.2 78.3h0M258.6 474.5h0M806.9 45.1h0M693.4 45.7h0M805.4 44.4h0M403.6 125.1h0M329.9 287.5h0M662.0 45.9h0M597.6 46.4h0M313.5 340.9h0M672.3 46.8h0M552.7 50.3h0M818.8 44.4h0M699.8 46.2h0M574.0 47.9h0M243.3 520.2h0M415.6 108.1h0M563.7 48.1h0M254.4 496.2h0M776.7 43.7h0M335.8 272.0h0M572.7 48.3h0M411.7 117.8h0M299.2 383.9h0M400.3 118.0h0M317.6 335.5h0M319.8 319.3h0M285.9 429.1h0M531.8 50.2h0M892.4 46.3h0M432.9 93.8h0M676.3 46.5h0M422.1 101.5h0M211.9 550.2h0M471.7 65.4h0M334.1 255.3h0M515.8 55.1h0M334.3 260.1h0M358.4 192.6h0M913.6 44.3h0M628.5 46.1h0M177.9 566.1h0M255.5 499.2h0M563.5 48.7h0M598.7 47.5h0M569.2 46.9h0M364.3 214.3h0M814.2 44.9h0M254.7 489.6h0M956.6 44.7h0M780.0 44.4h0M414.9 97.1h0M573.7 47.4h0M582.2 47.5h0M324.5 303.5h0M290.8 422.9h0M691.8 46.2h0M481.2 67.3h0M230.9 527.4h0M471.5 68.0h0M421.4 97.5h0M264.5 482.0h0M234.6 523.4h0M314.2 336.2h0M284.9 420.4h0M340.5 258.8h0M319.0 331.3h0M298.1 385.0h0M300.7 392.9h0M412.6 113.4h0M581.4 48.5h0M275.5 454.7h0M802.4 44.8h0M177.1 572.4h0M229.0 541.8h0M220.1 545.9h0M355.5 229.0h0M231.5 541.3h0M846.0 44.4h0M844.8 44.0h0M611.4 46.3h0M507.5 60.1h0M314.2 357.0h0M360.3 214.5h0M404.6 120.3h0M696.8 45.2h0M449.7 73.7h0M280.1 453.2h0M966.8 45.4h0M396.7 133.2h0M775.3 43.9h0M164.5 573.5h0M596.1 49.4h0M384.7 164.6h0M312.2 365.1h0M299.2 406.5h0M280.1 435.0h0M842.8 44.2h0M320.3 319.9h0M920.4 44.6h0M503.0 58.8h0M794.0 45.9h0M316.0 341.3h0M214.1 546.9h0M265.2 462.5h0M914.1 44.1h0M329.9 303.2h0M284.9 438.1h0M188.2 569.1h0M332.3 289.1h0M924.4 43.2h0M263.2 494.1h0M250.8 489.2h0M466.2 66.8h0M271.0 464.1h0M330.7 289.9h0M209.8 550.5h0M590.5 48.3h0M356.3 217.7h0M346.6 245.0h0M801.7 46.5h0M535.7 52.0h0M598.7 46.9h0M378.1 175.7h0M355.1 228.9h0M734.3 47.0h0M547.0 49.6h0M785.7 45.7h0M488.6 62.5h0M316.3 347.8h0M426.2 96.7h0M337.3 240.3h0M480.7 66.4h0M578.5 47.5h0M252.6 492.9h0M435.1 81.2h0M307.3 363.8h0M766.4 45.2h0M239.2 513.1h0M315.3 351.8h0M538.8 51.9h0M911.4 42.9h0M767.1 45.1h0M323.5 320.2h0M652.2 47.5h0M411.4 107.4h0M682.1 45.9h0M277.1 454.7h0M532.1 52.2h0M181.4 569.2h0M300.5 399.3h0M496.4 61.8h0M646.1 46.3h0M201.0 553.9h0M195.3 560.2h0M422.3 91.4h0M278.0 460.2h0M405.4 126.3h0M281.8 443.5h0M543.2 49.1h0M322.6 325.4h0M310.8 366.3h0M347.4 242.9h0M448.2 74.3h0M307.2 371.5h0M539.5 50.8h0M909.5 43.7h0M749.9 44.5h0M842.4 46.7h0M883.1 43.6h0M532.1 53.6h0M270.4 464.0h0M623.7 48.2h0M215.2 549.4h0M207.6 552.5h0M257.6 481.4h0M740.2 47.5h0M354.2 232.5h0M307.3 361.6h0M175.9 565.7h0M192.9 564.1h0M421.3 108.5h0M240.7 514.7h0M521.3 56.9h0M947.5 43.8h0M450.2 73.7h0M320.9 352.1h0M473.8 65.0h0M597.6 47.0h0M910.5 45.2h0M307.2 343.9h0M341.7 250.4h0M389.7 150.7h0M327.7 304.1h0M292.7 387.2h0M325.3 329.6h0M269.0 466.3h0M306.8 354.7h0M225.6 546.1h0M910.3 43.9h0M495.4 61.2h0M590.8 42.9h0M321.2 338.6h0M685.9 47.2h0M286.1 406.1h0M582.7 47.0h0M417.3 103.7h0M335.3 245.7h0M892.1 45.3h0M394.9 144.3h0M979.3 42.4h0M312.6 353.0h0M402.2 125.1h0M742.9 46.0h0M434.9 82.7h0M462.6 74.1h0M525.1 54.0h0M237.0 525.9h0M685.5 44.4h0M558.6 50.1h0M447.3 78.7h0M231.7 522.7h0M328.5 283.1h0M803.7 43.9h0M870.7 44.4h0M534.6 56.8h0M323.7 304.5h0M377.9 167.9h0M733.1 45.9h0M310.9 348.7h0M977.6 44.2h0M346.6 246.1h0M283.6 425.0h0M587.1 48.1h0M359.4 215.6h0M305.6 402.2h0M171.1 575.5h0M337.8 281.5h0M587.7 48.5h0M295.4 412.0h0M383.9 180.9h0M208.9 551.9h0M380.3 179.1h0M277.9 425.5h0M490.8 58.6h0M205.1 551.8h0M217.9 548.4h0M319.1 334.4h0M703.8 44.7h0M875.4 45.2h0M747.2 45.4h0M299.8 381.6h0M205.4 556.4h0M463.5 71.1h0M772.0 47.3h0M517.6 52.8h0M600.5 45.2h0M282.0 427.9h0M899.6 45.2h0M343.7 233.9h0M579.5 47.7h0M592.3 47.4h0M408.6 110.6h0M483.9 63.5h0M310.2 354.7h0M891.6 44.6h0M381.3 159.1h0M409.9 115.6h0M296.9 417.3h0M544.9 50.7h0M538.0 51.7h0M222.3 535.7h0M287.5 423.0h0M658.3 45.1h0M359.4 221.8h0M773.5 43.7h0M907.6 42.9h0M465.7 68.7h0M403.8 135.3h0M370.1 188.5h0M596.9 46.8h0M281.1 464.7h0M448.0 74.9h0M339.2 259.0h0M278.7 440.4h0M234.3 535.1h0M232.8 530.9h0M190.0 563.8h0M486.1 64.1h0M487.0 65.5h0M223.4 540.1h0M914.5 42.6h0M645.0 45.5h0M253.4 498.8h0M326.5 291.1h0M405.8 109.5h0M634.2 46.4h0M828.5 46.2h0M277.8 458.6h0M747.5 45.7h0M972.3 45.8h0M796.3 44.1h0M455.4 72.0h0M390.6 144.3h0M370.9 192.7h0M278.0 436.7h0M306.4 366.8h0M325.1 291.8h0M473.0 70.9h0M324.0 299.3h0M386.1 150.1h0M738.1 43.9h0M606.1 47.2h0M242.1 515.5h0M451.8 73.4h0M323.5 298.1h0M344.4 245.4h0M701.2 45.8h0M410.4 120.5h0M576.3 46.9h0M264.3 470.2h0M797.1 44.0h0M245.4 517.6h0M587.2 46.1h0M342.0 266.1h0M864.1 43.9h0M273.9 444.6h0M887.5 43.9h0M600.7 46.8h0M262.3 486.9h0M243.7 508.9h0M910.7 44.4h0M327.8 283.1h0M678.0 45.4h0M337.4 283.4h0M309.0 352.9h0M182.1 567.9h0M636.4 47.4h0M665.3 45.4h0M608.9 45.0h0M479.4 65.6h0M584.8 48.8h0M550.7 50.2h0M385.9 142.1h0M571.1 46.5h0M714.7 42.5h0M359.9 209.9h0M201.5 551.8h0M602.1 46.7h0M432.2 92.8h0M268.4 473.2h0M849.3 45.6h0M433.3 85.4h0M246.7 501.6h0M488.8 64.3h0M586.3 47.0h0M737.5 45.7h0M497.9 61.3h0M273.5 456.0h0M830.6 45.8h0M400.4 138.9h0M562.7 49.5h0M283.4 430.6h0M289.8 409.1h0M726.3 44.4h0M250.6 504.9h0M211.4 552.2h0M218.4 548.2h0M709.4 46.7h0M721.8 43.4h0M180.7 567.3h0M963.4 45.5h0M266.0 483.7h0M374.1 186.4h0M431.0 90.5h0M755.5 45.3h0M749.6 45.8h0M368.2 188.3h0M527.3 55.7h0M347.6 248.4h0M670.6 46.3h0M833.8 45.3h0M387.1 138.5h0M637.4 45.6h0M241.9 514.6h0M542.6 49.6h0M495.8 60.1h0M226.4 538.6h0M499.1 63.3h0M536.7 51.3h0M353.7 238.1h0M723.8 45.8h0M570.5 48.9h0M695.0 45.5h0M257.9 484.9h0M559.7 49.6h0M871.0 45.6h0M400.2 135.3h0M323.4 295.2h0M634.7 46.1h0M353.1 234.3h0M413.9 112.0h0M488.9 64.7h0M921.3 43.5h0M294.2 403.7h0M767.0 47.0h0M688.1 46.4h0M578.2 48.3h0M542.5 51.5h0M614.5 45.1h0M783.3 43.7h0M794.3 45.4h0M281.6 428.8h0M210.9 552.4h0M237.9 528.7h0M313.4 360.3h0M330.8 298.2h0M851.7 45.1h0M643.2 47.1h0M421.4 93.5h0M571.0 46.3h0M309.7 370.8h0M193.8 561.4h0M359.2 219.5h0M628.8 44.7h0M368.5 199.3h0M420.4 97.3h0M805.4 44.9h0M304.6 371.8h0M558.0 50.8h0M805.2 45.2h0M245.1 510.4h0M812.1 46.8h0M280.6 431.0h0M977.8 45.0h0M451.7 77.3h0M200.4 556.3h0M360.8 211.4h0M255.6 486.8h0M205.6 550.4h0M179.7 567.6h0M292.1 411.8h0M271.6 452.3h0M613.6 45.8h0M416.8 102.7h0M434.2 83.3h0M695.6 46.6h0M299.6 415.4h0M245.7 504.1h0M896.4 45.3h0M488.6 62.8h0M458.8 67.6h0M310.6 358.9h0M830.9 44.2h0M626.5 46.0h0M597.4 48.8h0M581.9 47.6h0M271.1 476.9h0M421.9 97.5h0M647.5 44.8h0M272.7 447.2h0M201.8 556.7h0M852.7 44.1h0M978.3 45.5h0M356.6 216.0h0M240.1 526.5h0M405.2 121.8h0M394.9 130.4h0M566.7 48.2h0M301.8 371.5h0M566.3 48.2h0M325.1 296.0h0M310.4 334.0h0M404.4 135.9h0M317.4 346.9h0M418.6 99.2h0M891.5 42.4h0M574.9 49.5h0M359.1 206.7h0M337.4 280.9h0M881.2 44.4h0M347.2 234.4h0M847.9 43.8h0M559.9 50.8h0M358.4 222.5h0M528.3 52.9h0M499.8 59.9h0M666.2 47.5h0M319.4 332.6h0M477.7 65.0h0M177.1 566.6h0M566.0 47.6h0M276.4 450.8h0M299.3 375.9h0M849.7 45.6h0M572.4 48.0h0M212.2 552.2h0M322.7 327.8h0M247.0 512.6h0M291.5 399.1h0M654.6 47.6h0M183.6 568.3h0M626.5 45.7h0M910.9 46.0h0M389.3 150.9h0M302.4 346.7h0M265.5 462.8h0M566.7 49.9h0M317.0 322.6h0M469.5 68.0h0M273.0 449.0h0M944.4 43.9h0M393.9 141.8h0M373.4 172.6h0M263.6 480.0h0M878.9 45.5h0M193.2 561.7h0M235.2 523.2h0M169.8 570.1h0M864.5 45.6h0M283.1 410.4h0M921.3 45.0h0M546.0 53.1h0M557.4 47.7h0M212.2 543.4h0M215.7 544.0h0M339.4 254.8h0M309.7 357.3h0M349.7 230.1h0M332.5 279.5h0M570.1 47.2h0M274.4 457.5h0M664.0 46.0h0M308.2 375.6h0M553.8 51.3h0M847.8 44.8h0M343.2 250.3h0M752.9 44.8h0M731.0 43.6h0M454.4 70.2h0M360.5 217.7h0M342.5 264.3h0M839.6 46.4h0M870.9 43.4h0M618.0 46.9h0M296.8 412.9h0M361.9 226.1h0M584.4 46.1h0M276.5 442.0h0M332.3 266.0h0M290.9 404.0h0M338.5 270.0h0M284.4 424.7h0M286.7 430.8h0M398.2 135.9h0M347.6 222.5h0M227.9 542.5h0M776.6 46.1h0M321.8 313.5h0M883.4 43.6h0M560.6 49.7h0M424.6 96.5h0M265.3 463.4h0M294.8 411.7h0M534.6 52.0h0M347.2 240.2h0M526.5 55.6h0M440.5 76.6h0M251.5 510.5h0M582.4 46.2h0M816.3 44.9h0M725.4 48.2h0M351.6 226.6h0M412.0 120.2h0" stroke="#000" stroke-width="5.9" stroke-linecap="round" fill="none"/>
<path d="M501.5 735.6h0M174.3 768.6h0M751.7 718.9h0M190.7 763.1h0M873.8 683.5h0M816.8 705.8h0M897.2 726.9h0M897.1 735.1h0M847.0 678.2h0M641.6 738.0h0M189.0 733.1h0M721.1 716.4h0M286.5 727.7h0M804.4 713.9h0M671.6 724.5h0M420.1 731.3h0M776.9 709.9h0M165.2 733.2h0M711.0 714.9h0M754.9 715.1h0M933.3 690.4h0M566.5 745.0h0M317.0 756.1h0M789.4 705.2h0M582.7 756.8h0M524.5 721.9h0M365.8 738.7h0M670.6 714.7h0M877.6 705.5h0M208.4 733.1h0M874.8 735.5h0M430.6 761.9h0M738.4 720.1h0M798.6 708.1h0M836.4 703.6h0M690.8 720.1h0M961.2 718.3h0M443.0 726.5h0M220.8 751.4h0M716.7 748.6h0M541.1 760.4h0M520.9 727.2h0M244.1 746.2h0M725.8 717.1h0M511.0 725.4h0M175.2 727.6h0M273.1 745.6h0M326.2 732.3h0M486.0 722.0h0M573.4 756.5h0M517.3 767.6h0M938.7 734.7h0M180.2 750.8h0M165.0 757.5h0M435.0 748.1h0M933.2 671.0h0M485.5 724.3h0M535.4 730.5h0M600.0 727.9h0M596.0 722.7h0M194.7 744.8h0M940.3 749.9h0M535.5 733.3h0M592.9 749.4h0M638.9 717.4h0M521.6 726.5h0M481.3 750.7h0M891.3 713.9h0M493.2 731.6h0M370.0 731.7h0M512.1 721.8h0M934.3 763.0h0M494.5 724.1h0M813.1 710.7h0M240.3 746.9h0M179.2 746.9h0M321.8 746.5h0M307.0 733.5h0M692.7 721.8h0M847.4 706.3h0M471.5 729.4h0M260.5 724.0h0M350.2 738.5h0M395.3 723.1h0M704.8 719.2h0M353.3 760.3h0M231.1 751.5h0M636.8 718.6h0M964.0 541.4h0M815.2 713.2h0M702.8 725.4h0M495.5 751.1h0M272.6 742.4h0M770.9 707.4h0M394.1 739.9h0M339.9 733.1h0M711.1 708.5h0M450.4 726.0h0M280.2 727.2h0M448.6 749.7h0M261.4 756.6h0M496.6 730.1h0M722.3 721.2h0M593.9 742.6h0M542.7 731.7h0M495.7 723.0h0M946.5 647.2h0M587.6 727.7h0M227.5 730.3h0M550.1 730.1h0M562.8 727.2h0M785.5 728.6h0M709.4 720.0h0M802.8 703.8h0M463.5 722.5h0M271.9 752.8h0M227.3 731.0h0M219.8 729.2h0M532.9 723.4h0M973.3 659.4h0M360.8 764.9h0M682.5 720.5h0M383.4 723.5h0M571.9 728.9h0M352.1 732.8h0M490.1 728.0h0M957.9 669.2h0M918.0 696.8h0M267.3 757.5h0M582.3 722.2h0M382.7 755.2h0M733.7 716.6h0M436.2 733.1h0M256.2 732.3h0M515.9 742.6h0M396.9 749.3h0M306.7 733.5h0M810.0 727.5h0M725.4 744.3h0M418.2 741.6h0M778.1 743.6h0M372.2 739.9h0M659.5 724.8h0M442.6 744.6h0M739.9 707.1h0M717.8 717.9h0M421.0 755.6h0M816.3 705.7h0M940.5 652.2h0M891.1 694.5h0M481.8 737.8h0M476.8 752.2h0M453.4 725.7h0M643.1 725.3h0M779.1 715.6h0M668.4 721.0h0M485.4 753.4h0M178.7 728.5h0M752.2 734.3h0M436.6 729.9h0M420.9 739.6h0M869.7 720.7h0M734.9 717.2h0M979.9 728.9h0M889.9 689.2h0M250.8 732.1h0M516.8 730.9h0M738.7 719.9h0M432.9 747.3h0M185.4 743.7h0M497.7 738.7h0M794.0 712.6h0M754.1 738.0h0M387.6 732.4h0M437.0 728.3h0M316.8 744.4h0M698.0 721.9h0M314.1 725.3h0M223.3 773.7h0M841.9 698.8h0M331.8 727.7h0M831.2 727.3h0M813.2 731.7h0M723.8 720.5h0M724.2 717.2h0M627.8 726.1h0M763.2 710.1h0M404.9 747.2h0M381.2 727.1h0M167.0 733.9h0M482.5 730.3h0M696.6 736.6h0M610.8 723.0h0M775.1 714.8h0M971.1 553.7h0M454.5 744.2h0M641.6 729.3h0M463.9 732.6h0M323.2 732.9h0M750.0 714.0h0M430.9 730.9h0M715.4 721.2h0M976.8 731.3h0M943.5 733.2h0M935.6 731.8h0M732.8 712.6h0M760.5 716.4h0M732.9 718.5h0M731.6 720.1h0M895.1 674.3h0M923.2 685.8h0M798.9 706.7h0M977.8 676.2h0M298.0 724.9h0M316.3 758.9h0M508.4 730.6h0M706.9 731.6h0M645.3 724.1h0M530.6 732.4h0M708.4 723.8h0M652.3 753.4h0M812.8 712.7h0M347.3 730.6h0M558.2 740.4h0M371.4 724.5h0M260.2 725.4h0M292.2 765.6h0M445.8 724.1h0M814.7 733.6h0M701.2 720.2h0M973.8 690.2h0M827.7 711.9h0M868.5 686.8h0M682.7 721.4h0M884.4 768.6h0M976.9 480.3h0M779.5 736.6h0M521.8 730.8h0M975.0 471.0h0M635.3 717.1h0M169.1 740.0h0M779.1 712.0h0M723.4 719.2h0M517.2 732.7h0M898.3 731.0h0M797.4 706.8h0M403.3 731.2h0M511.8 748.1h0M633.0 720.2h0M786.2 729.2h0M640.3 718.5h0M350.6 724.5h0M701.1 716.4h0M561.6 722.3h0M512.3 734.1h0M220.6 745.6h0M243.0 744.9h0M334.3 725.9h0M444.3 738.6h0M482.4 728.2h0M773.8 712.3h0M383.1 726.0h0M235.2 729.9h0M330.0 728.1h0M703.5 720.3h0M537.3 723.3h0M647.0 747.4h0M723.6 712.3h0M203.0 753.0h0M231.6 728.4h0M975.8 689.8h0M292.1 724.6h0M540.8 726.0h0M177.9 745.3h0M977.5 594.1h0M770.5 715.4h0M844.6 725.8h0M952.8 715.5h0M712.9 736.3h0M797.3 704.6h0M657.7 732.7h0M924.6 684.4h0M569.8 731.3h0M915.2 694.4h0M408.6 748.5h0M923.5 734.1h0M263.0 723.4h0M232.0 732.6h0M491.7 737.4h0M291.3 728.1h0M512.0 730.4h0M361.1 769.5h0M486.9 736.0h0M429.3 730.3h0M796.8 733.8h0M193.7 729.8h0M750.1 709.2h0M326.2 723.5h0M721.4 728.8h0M165.4 731.8h0M972.3 678.3h0M537.8 732.2h0M568.4 727.0h0M577.6 724.6h0M356.5 723.0h0M263.7 726.4h0M282.7 729.2h0M492.4 743.9h0M961.5 732.1h0M772.7 712.4h0M622.1 725.9h0M755.4 723.3h0M416.2 731.3h0M349.2 756.8h0M176.4 752.6h0M334.5 724.5h0M814.2 708.9h0M882.6 746.8h0M950.7 732.0h0M892.1 660.4h0M940.8 731.8h0M518.7 730.4h0M513.6 732.8h0M182.5 743.5h0M366.8 731.2h0M361.6 726.3h0M480.0 749.4h0M707.7 733.8h0M673.3 724.3h0M719.6 719.5h0M885.4 731.4h0M652.7 750.3h0M483.9 772.2h0M415.3 732.3h0M810.2 700.2h0M373.1 725.7h0M550.5 725.0h0M380.1 759.5h0M859.0 731.3h0M592.5 760.1h0M877.2 735.5h0M925.1 680.5h0M972.2 640.7h0M555.1 740.2h0M445.2 728.1h0M943.2 682.9h0M786.3 702.1h0M497.4 732.0h0M417.4 729.0h0M236.8 730.1h0M552.1 727.1h0M429.0 729.3h0M200.8 764.8h0M786.7 706.7h0M917.9 713.3h0M337.2 729.1h0M281.4 725.0h0M736.5 723.4h0M674.2 717.9h0M290.2 732.8h0M203.2 724.6h0M617.8 727.9h0M209.1 725.8h0M538.2 746.2h0M735.3 737.9h0M795.5 728.0h0M353.0 744.3h0M625.8 724.3h0M968.7 734.6h0M200.8 759.6h0M623.8 730.2h0M629.9 747.3h0M655.3 725.3h0M599.1 726.1h0M564.3 723.3h0M269.8 760.5h0M298.0 747.2h0M193.9 724.9h0M747.4 727.3h0M810.4 705.8h0M282.2 766.0h0M793.2 706.0h0M383.7 737.9h0M744.5 729.7h0M662.3 743.8h0M633.3 726.8h0M929.6 724.6h0M962.8 768.8h0M235.6 755.2h0M745.7 714.8h0M484.1 748.9h0M875.3 694.2h0M607.1 721.3h0M596.3 739.2h0M718.8 726.2h0M768.0 707.5h0M558.5 729.3h0M587.8 729.5h0M324.7 750.3h0M811.5 732.2h0M557.8 769.0h0M802.1 727.6h0M214.3 746.1h0M168.0 756.5h0M210.0 744.4h0M511.3 725.4h0M649.4 724.0h0M671.3 735.8h0M221.0 755.5h0M338.2 732.1h0M441.2 727.3h0M927.6 644.6h0M793.2 748.3h0M363.5 750.8h0M559.7 729.6h0M626.7 717.6h0M379.9 732.3h0M757.2 712.8h0M538.1 726.7h0M720.9 721.5h0M536.4 751.9h0M612.3 719.5h0M890.6 682.2h0M582.9 756.2h0M302.2 745.6h0M174.3 730.2h0M306.6 727.7h0M870.0 722.0h0M172.9 754.8h0M172.3 745.4h0M527.8 722.9h0M370.7 725.1h0M315.6 743.2h0M224.9 758.3h0M796.6 699.9h0M342.7 747.8h0M352.7 754.2h0M586.4 738.2h0M555.2 729.5h0M480.3 722.1h0M371.4 728.4h0M350.3 749.1h0M863.9 726.4h0M463.2 748.4h0M394.7 728.2h0M164.9 727.5h0M266.9 731.2h0M681.7 728.8h0M848.3 705.7h0M678.8 722.0h0M354.6 742.3h0M777.1 720.8h0M672.5 720.9h0M160.4 727.7h0M843.9 691.8h0M619.4 756.8h0M424.9 725.4h0M729.8 719.2h0M436.8 740.9h0M627.3 724.2h0M622.7 717.9h0M733.6 717.8h0M425.8 727.1h0M501.5 730.0h0M354.5 760.8h0M853.0 677.3h0M907.6 688.9h0M375.8 729.7h0M255.7 724.6h0M879.7 732.2h0M781.5 728.4h0M754.8 711.1h0M590.2 725.4h0M172.4 760.1h0M236.8 728.4h0M473.8 743.4h0M779.6 728.8h0M687.3 735.3h0M775.7 714.8h0M321.5 739.5h0M426.3 729.9h0M745.9 716.6h0M461.7 732.7h0M601.1 728.5h0M424.9 725.6h0M762.8 717.1h0M246.8 727.6h0M760.7 714.8h0M187.2 729.8h0M632.3 741.0h0M262.3 723.7h0M566.4 756.3h0M855.8 676.3h0M232.1 746.0h0M531.8 753.4h0M833.4 729.5h0M763.0 733.2h0M934.1 738.1h0M898.5 737.8h0M644.6 726.9h0M799.8 732.9h0M327.9 740.9h0M634.5 767.4h0M422.0 740.8h0M482.7 750.4h0M604.5 727.4h0M603.4 720.4h0M177.7 776.9h0M445.3 728.7h0M715.4 735.4h0M265.0 726.3h0M270.7 729.3h0M893.1 688.7h0M570.9 730.6h0M537.1 736.7h0M531.4 726.9h0M373.7 731.8h0M596.6 730.4h0M881.7 735.8h0M814.0 712.9h0M748.1 718.3h0M186.3 730.2h0M531.0 732.1h0M760.4 729.8h0M390.3 723.5h0M788.6 711.3h0M658.0 718.3h0M899.8 683.1h0M228.9 730.2h0M679.2 729.4h0M892.0 692.4h0M582.8 720.5h0M540.1 724.4h0M726.2 717.7h0M525.2 728.8h0M923.5 697.0h0M185.1 724.7h0M867.8 689.9h0M267.5 724.2h0M183.4 726.4h0M572.8 731.0h0M385.4 723.0h0M673.7 744.9h0M334.8 764.4h0M516.7 727.3h0M190.9 726.6h0M235.4 734.1h0M271.7 731.3h0M595.3 729.9h0M207.5 742.5h0M964.1 537.2h0M618.7 748.3h0M955.1 734.9h0M496.3 729.9h0M899.1 734.4h0M966.8 717.6h0M694.4 722.2h0M973.9 678.0h0M936.6 704.9h0M333.2 731.2h0M690.8 715.1h0M972.7 639.5h0M387.7 747.3h0M928.7 689.1h0M176.9 729.4h0M550.8 725.2h0M162.3 723.6h0M791.5 733.0h0M559.7 737.3h0M350.6 726.0h0M964.6 718.2h0M843.7 738.0h0M282.0 726.6h0M614.6 721.4h0M169.6 771.1h0M290.0 763.8h0M257.2 724.3h0M253.4 727.4h0M614.6 723.9h0M724.5 716.8h0M369.2 732.9h0M930.8 763.1h0M839.4 703.8h0M465.7 748.9h0M317.9 737.0h0M380.0 728.5h0M789.1 737.5h0M689.0 717.1h0M304.6 731.1h0M605.0 718.7h0M161.8 724.9h0M191.7 724.8h0M399.5 729.4h0M198.9 725.7h0M239.3 746.4h0M605.2 726.0h0M260.7 743.1h0M625.1 720.1h0M675.4 742.1h0M628.2 717.6h0M754.9 717.4h0M295.2 724.8h0M222.6 733.1h0M174.4 742.7h0M440.3 739.3h0M662.8 720.0h0M954.6 688.5h0M779.3 729.3h0M944.0 687.7h0M749.0 713.1h0M662.9 717.4h0M552.5 722.4h0M463.9 731.9h0M972.0 584.5h0M252.0 732.6h0M968.6 753.4h0M606.7 726.1h0M362.8 743.4h0M705.1 721.8h0M566.5 742.2h0M372.2 727.4h0M653.6 724.3h0M387.5 729.9h0M432.2 741.3h0M477.4 723.2h0M268.8 747.8h0M423.9 737.8h0M697.8 713.1h0M355.7 728.3h0M804.4 704.2h0M496.8 722.1h0M618.0 727.8h0M784.0 706.0h0M324.0 725.6h0M497.0 731.6h0M456.5 732.9h0M861.2 749.7h0M396.9 759.3h0M386.5 732.1h0M699.9 720.1h0M751.8 722.8h0M499.3 740.8h0M909.6 728.5h0M412.5 739.1h0M814.7 708.0h0M711.6 712.9h0M358.9 729.1h0M814.6 745.4h0M186.9 729.1h0M354.8 742.4h0M501.9 735.2h0M287.8 749.5h0M764.2 717.9h0M969.7 547.3h0M707.8 725.1h0M200.0 743.2h0M636.5 730.1h0M486.6 745.0h0M976.1 704.2h0M724.3 719.3h0M741.1 731.5h0M865.8 739.4h0M665.2 722.2h0M473.0 727.1h0M829.3 752.3h0M947.4 679.3h0M371.0 728.7h0M179.0 743.8h0M186.7 747.8h0M227.3 743.5h0M862.7 733.9h0M755.0 734.7h0M812.7 701.4h0M181.4 734.3h0M831.5 733.7h0M612.0 721.0h0M713.9 730.6h0M700.6 747.6h0M902.2 741.0h0M943.5 631.0h0M278.9 725.9h0M759.6 704.0h0M250.8 753.5h0M219.2 727.6h0M408.8 740.9h0M819.8 730.3h0M366.3 724.5h0M357.6 728.1h0M957.5 663.8h0M472.9 726.7h0M186.1 760.7h0M934.9 722.1h0M515.1 736.3h0M882.7 737.6h0M842.6 724.8h0M814.8 751.0h0M211.7 756.2h0M962.0 657.2h0M484.0 723.2h0M965.1 538.9h0M280.1 731.8h0M603.9 724.1h0M224.7 746.6h0M666.2 722.1h0M597.2 737.7h0M746.0 706.4h0M195.6 727.7h0M295.8 744.7h0M959.9 663.5h0M416.9 756.7h0M239.9 727.8h0M340.6 729.4h0M488.1 726.3h0M252.8 756.8h0M776.0 760.8h0M618.4 727.2h0M788.7 708.6h0M781.8 743.0h0M234.7 733.2h0M292.2 742.2h0M506.9 732.4h0M284.5 749.4h0M587.2 719.8h0M812.1 737.0h0M283.1 727.0h0M901.8 716.2h0M593.7 720.6h0M608.5 722.0h0M687.0 716.7h0M510.8 749.3h0M230.1 731.4h0M909.1 735.5h0M935.6 734.8h0M202.0 726.4h0M543.0 733.3h0M753.2 717.8h0M276.4 724.3h0M567.0 722.9h0M761.3 716.6h0M633.3 731.5h0M804.8 704.5h0M190.6 745.2h0M739.1 720.7h0M612.6 718.1h0M773.7 709.5h0M662.8 722.6h0M159.9 725.2h0M724.3 730.7h0M465.2 729.8h0M932.8 651.2h0M625.9 722.6h0M380.0 749.1h0M760.5 713.3h0M498.3 736.0h0M693.8 719.6h0M170.9 733.3h0M842.2 730.0h0M792.1 764.7h0M703.3 713.0h0M500.5 724.2h0M876.6 719.1h0M458.3 755.2h0M400.9 729.9h0M370.6 731.5h0M234.8 725.4h0M247.9 745.1h0M215.3 724.5h0M273.1 726.8h0M851.3 683.4h0M458.6 722.2h0M698.5 715.0h0M760.9 711.5h0M284.7 728.4h0M873.0 720.8h0M573.2 750.2h0M471.5 727.6h0M842.4 696.7h0M821.6 709.5h0M239.5 748.6h0M504.9 730.7h0M397.8 723.1h0M431.8 723.5h0M924.9 727.8h0M674.6 725.2h0M246.8 756.7h0M762.9 707.0h0M809.9 710.3h0M910.2 728.4h0M372.8 743.6h0M444.6 724.0h0M546.2 730.1h0M663.5 723.6h0M496.3 723.7h0M488.5 730.7h0M260.0 743.3h0M658.4 719.7h0M422.5 722.5h0M928.9 653.0h0M705.2 714.1h0M820.1 710.2h0M399.3 732.7h0M351.7 727.3h0M459.6 730.3h0M507.7 722.1h0M772.2 712.0h0M910.6 730.3h0M522.1 737.7h0M517.2 726.5h0M411.2 746.4h0M557.8 729.6h0M665.8 744.1h0M195.6 760.4h0M327.8 728.1h0M266.0 741.1h0M547.2 755.3h0M795.3 707.9h0M445.4 732.7h0M894.7 744.0h0M780.1 717.0h0M681.5 721.7h0M168.1 727.7h0M238.4 754.4h0M863.2 687.0h0M521.5 734.4h0M493.4 735.5h0M681.5 719.2h0M767.7 730.0h0M373.2 749.7h0M900.8 692.6h0M397.1 731.0h0M815.2 707.6h0M744.1 723.0h0M421.9 756.3h0M651.9 723.1h0M182.9 752.7h0M253.5 740.4h0M268.7 728.7h0M689.7 720.3h0M329.3 730.7h0M756.5 716.5h0M466.9 724.7h0M928.0 755.9h0M189.9 724.3h0M377.4 732.8h0M712.1 727.9h0M204.7 767.9h0M696.0 714.0h0M225.5 728.5h0M704.4 720.7h0M464.2 726.0h0M570.7 730.1h0M976.0 668.2h0M418.1 757.5h0M840.3 699.5h0M650.4 731.7h0M665.0 725.8h0M893.9 700.7h0M569.1 722.6h0M339.6 741.2h0M240.9 764.8h0M699.2 722.2h0M493.1 732.1h0M638.8 721.5h0M215.9 724.9h0M863.6 704.6h0M481.3 730.6h0M633.6 719.4h0M874.2 709.6h0M637.8 726.2h0M665.4 717.3h0M320.0 730.8h0M164.0 730.0h0M378.1 740.1h0M347.7 763.6h0M862.0 718.0h0M251.8 747.3h0M691.7 724.2h0M813.1 702.7h0M762.8 717.0h0M728.0 721.8h0M428.1 732.5h0M717.7 712.4h0M384.5 731.7h0M508.5 730.9h0M816.6 710.5h0M396.8 733.3h0M393.5 738.9h0M435.3 740.1h0M300.5 731.2h0M843.0 755.4h0M547.2 751.3h0M672.6 716.5h0M486.1 734.9h0M705.6 739.0h0M723.1 718.5h0M340.5 723.3h0M641.0 721.8h0M482.9 726.8h0M273.6 742.0h0M385.1 724.8h0M759.7 710.1h0M869.0 700.3h0M882.7 696.2h0M321.5 763.8h0M220.5 745.8h0M316.1 723.1h0M681.5 737.8h0M185.0 754.3h0M409.2 741.9h0M284.8 731.5h0M676.9 715.7h0M757.7 725.0h0M528.0 731.6h0M534.8 732.1h0M619.9 724.3h0M764.3 708.2h0M743.8 715.0h0M491.5 756.3h0M715.1 722.9h0M813.8 698.8h0M539.3 729.1h0M418.1 723.0h0M178.0 733.4h0M499.4 739.5h0M748.8 699.8h0M607.9 725.4h0M819.3 770.2h0M287.0 749.9h0M505.4 728.7h0M934.5 714.9h0M513.4 748.6h0M801.4 726.1h0M816.5 730.3h0M786.7 708.5h0M182.9 745.9h0M685.1 718.3h0M609.5 741.8h0M587.3 720.5h0M781.6 707.5h0M359.0 757.4h0M609.9 722.4h0M784.9 720.3h0M940.3 726.4h0M419.0 732.9h0M277.1 742.7h0M573.6 720.4h0M326.5 730.0h0M409.8 728.8h0M374.7 731.9h0M613.7 724.0h0M380.9 725.1h0M772.4 709.0h0M734.1 727.6h0M491.7 736.3h0M827.7 671.8h0M567.7 727.1h0M227.7 725.9h0M308.0 729.5h0M422.5 727.3h0M438.5 747.0h0M456.0 774.2h0M545.0 742.2h0M447.6 727.7h0M728.1 730.7h0M166.9 752.3h0M884.0 711.8h0M162.9 733.2h0M700.4 721.3h0M395.0 728.4h0M958.7 697.5h0M433.8 735.7h0M496.2 741.8h0M437.2 744.6h0M907.9 753.4h0M256.1 751.0h0M411.1 742.3h0M264.1 751.4h0M798.1 704.4h0M958.3 678.7h0M189.7 753.1h0M278.5 758.7h0M740.8 713.0h0M744.5 710.1h0M584.1 720.6h0M496.1 731.9h0M700.8 712.8h0M540.1 726.8h0M178.6 724.9h0M516.8 731.6h0M496.8 731.3h0M161.4 727.5h0M168.1 769.1h0M198.1 755.1h0M666.9 734.5h0M423.5 727.0h0M648.7 718.8h0M246.3 727.8h0M607.4 723.3h0M266.3 727.5h0M499.9 745.5h0M615.8 722.0h0M733.9 710.7h0M223.4 743.2h0M458.3 743.6h0M191.1 757.6h0M631.1 729.8h0M719.0 714.0h0M209.2 726.8h0M529.9 726.7h0M378.4 725.7h0M246.0 732.6h0M964.6 674.9h0M535.3 737.7h0M804.3 709.3h0M628.1 723.7h0M558.8 760.5h0M794.2 703.1h0M176.8 731.2h0M592.5 740.0h0M660.9 732.7h0M967.3 660.7h0M667.6 723.6h0M662.7 722.0h0M509.5 723.8h0M271.9 726.2h0M737.1 717.6h0M487.6 731.7h0M364.3 742.7h0M933.7 717.3h0M643.9 749.3h0M503.4 731.5h0M599.0 740.6h0M551.3 725.9h0M551.9 721.5h0M779.9 711.6h0M947.0 720.2h0M391.7 728.1h0M278.8 729.6h0M800.0 740.1h0M233.9 730.1h0M707.8 718.5h0M406.9 730.1h0M167.8 731.3h0M644.5 727.1h0M644.9 726.3h0M887.8 716.1h0M922.0 764.9h0M769.3 739.4h0M649.9 726.5h0M385.2 768.4h0M338.8 729.3h0M428.5 761.7h0M844.3 759.4h0M795.0 703.2h0M264.2 770.8h0M423.4 727.7h0M691.2 723.6h0M899.3 733.5h0M535.0 747.2h0M819.0 707.0h0M726.8 724.8h0M384.9 725.1h0M619.3 751.7h0M724.2 725.4h0M305.0 749.6h0M266.3 732.1h0M785.8 714.3h0M516.0 743.8h0M313.1 745.2h0M634.1 718.8h0M664.1 740.6h0M962.2 743.0h0M491.5 728.9h0M209.0 729.4h0M306.3 752.4h0M167.7 723.6h0M397.4 731.8h0M589.9 725.3h0M373.9 743.5h0M796.6 712.6h0M175.2 723.6h0M716.1 748.4h0M377.5 740.2h0M517.0 723.8h0M902.9 712.3h0M600.1 728.0h0M454.9 747.3h0M497.5 735.4h0M769.0 716.4h0M558.7 740.7h0M527.8 727.1h0M365.5 744.1h0M639.8 739.0h0M223.7 734.2h0M585.8 728.6h0M698.1 718.2h0M776.7 704.2h0M213.8 751.6h0M674.1 724.4h0M245.7 734.2h0M321.5 743.3h0M298.2 730.3h0M857.3 712.6h0M874.1 683.0h0M957.8 662.3h0M952.2 697.5h0M530.5 726.0h0M290.9 733.0h0M562.1 749.0h0M813.1 702.9h0M382.4 724.4h0M709.1 718.3h0M279.0 746.1h0M736.6 726.9h0M508.5 743.4h0M563.6 728.2h0M223.3 730.7h0M744.2 722.1h0M850.4 709.3h0M479.5 736.2h0M870.4 752.2h0M303.2 729.3h0M468.9 731.3h0M598.0 720.6h0M459.6 730.8h0M540.3 727.6h0M568.5 730.4h0M919.8 702.0h0M373.3 741.7h0M881.5 717.2h0M550.9 738.5h0M793.8 702.9h0M593.8 734.8h0M395.9 753.8h0M713.8 713.6h0M693.2 722.5h0M959.1 296.7h0M972.9 741.0h0M808.3 710.0h0M556.6 745.8h0M314.8 739.7h0M403.2 725.1h0M856.8 733.6h0M467.1 736.0h0M469.4 722.8h0M419.3 739.8h0M973.7 689.8h0M550.6 730.8h0M930.0 737.8h0M434.0 747.1h0M168.9 762.8h0M777.6 719.3h0M639.3 722.4h0M903.1 735.5h0M879.2 745.0h0M202.2 724.0h0M440.6 741.1h0M221.2 734.2h0M771.2 716.4h0M810.8 708.3h0M621.7 728.8h0M711.8 737.6h0M543.0 733.3h0M774.4 720.9h0M807.5 758.8h0M889.6 718.9h0M798.8 699.8h0M597.6 723.6h0M408.7 741.8h0M934.4 740.1h0M513.3 735.0h0M775.0 708.9h0M696.8 729.9h0M778.7 704.9h0M636.3 723.6h0M599.1 753.6h0M408.6 731.5h0M935.8 668.1h0M947.8 730.5h0M159.3 727.3h0M892.3 688.4h0M722.4 714.7h0M721.7 720.0h0M436.0 727.5h0M214.8 726.9h0M485.4 736.5h0M672.8 724.5h0M940.2 755.4h0M575.2 720.8h0M751.4 725.0h0M912.5 737.3h0M434.9 722.7h0M241.3 727.6h0M219.0 727.3h0M716.8 718.1h0M310.5 727.4h0M608.2 718.9h0M275.3 761.6h0M691.9 719.8h0M852.1 707.3h0M979.1 650.7h0M948.7 742.6h0M876.3 735.1h0M469.3 729.3h0M729.0 741.6h0M185.9 726.3h0M378.3 773.2h0M706.1 722.8h0M550.6 731.1h0M544.0 734.0h0M756.9 728.4h0M646.6 717.6h0M757.3 709.0h0M504.6 729.7h0M183.3 733.9h0M661.7 737.6h0M429.8 744.9h0M854.4 750.3h0M576.7 729.1h0M167.0 731.9h0M676.0 718.0h0M816.9 704.5h0M946.7 682.0h0M777.5 716.6h0M803.2 718.3h0M546.8 729.5h0M786.9 715.4h0M864.8 698.3h0M972.0 684.5h0M574.5 724.2h0M566.5 725.6h0M799.4 716.3h0M954.0 696.4h0M647.4 722.6h0M643.6 716.3h0M520.2 741.2h0M333.4 727.1h0M780.8 718.8h0M384.6 730.8h0M497.5 725.4h0M953.9 685.8h0M695.4 720.9h0M804.3 704.4h0M700.8 719.6h0M173.1 728.5h0M758.8 727.4h0M352.2 757.3h0M373.8 729.6h0M761.2 714.2h0M381.1 731.6h0M953.4 650.8h0M728.1 745.7h0M912.6 682.2h0M972.1 708.9h0M529.2 739.6h0M907.2 728.6h0M818.1 720.6h0M748.6 709.1h0M773.2 717.7h0M664.2 730.1h0M726.2 718.1h0M473.5 731.2h0M837.3 713.8h0M700.3 725.1h0M547.4 724.6h0M660.4 722.6h0M727.6 722.8h0M938.1 745.5h0M429.1 727.6h0M545.8 731.9h0M380.7 728.6h0M613.6 722.8h0M568.6 726.3h0M782.0 739.8h0M180.0 751.4h0M681.3 746.6h0M798.1 706.3h0M614.6 719.8h0M927.6 670.9h0M482.1 732.6h0M867.8 754.4h0M955.0 663.1h0M807.0 713.2h0M946.0 716.0h0M615.3 737.5h0M233.5 770.2h0M285.3 731.6h0M838.5 739.2h0M871.3 686.6h0M677.9 742.9h0M563.5 738.1h0M275.5 761.1h0M699.3 737.5h0M373.9 741.2h0M541.0 726.5h0M755.1 713.3h0M480.6 750.2h0M565.5 724.1h0M290.5 746.9h0M171.8 752.6h0M786.4 713.6h0M544.2 759.2h0M174.0 728.8h0M919.4 702.0h0M612.1 720.4h0M618.3 736.9h0M526.4 729.8h0M733.9 713.8h0M258.7 730.4h0M693.4 723.1h0M921.1 660.3h0M782.5 706.7h0M842.8 763.4h0M521.0 728.7h0M743.5 714.9h0M815.6 743.9h0M511.5 722.6h0M338.2 742.8h0M819.5 705.8h0M466.0 729.3h0M562.2 725.3h0M690.4 722.1h0M762.6 731.7h0M588.3 730.1h0M759.4 732.5h0M635.5 726.5h0M326.2 731.5h0M930.0 711.4h0M908.3 740.7h0M583.6 741.6h0M483.0 759.2h0M659.1 740.6h0M972.0 669.6h0M220.3 728.0h0M345.1 752.7h0M496.4 733.3h0M586.1 730.6h0M286.0 765.2h0M478.3 732.3h0M208.8 763.0h0M749.1 719.9h0M677.7 731.4h0M361.7 723.7h0M402.1 727.4h0M497.8 749.4h0M734.7 727.4h0M550.6 729.7h0M974.1 727.7h0M228.3 751.6h0M973.9 749.6h0M212.0 749.9h0M744.6 710.3h0M223.0 761.5h0M230.5 734.2h0M870.0 708.1h0M687.9 714.7h0M410.3 746.9h0M395.0 723.9h0M729.9 733.3h0M734.5 716.0h0M179.0 728.9h0M817.5 702.3h0M974.2 689.0h0M749.6 710.0h0M308.0 724.0h0M801.1 708.8h0M251.4 724.0h0M481.0 731.5h0M836.8 718.7h0M527.0 732.0h0M956.7 751.3h0M409.7 767.1h0M449.9 743.1h0M475.0 722.5h0M697.8 719.2h0M409.1 731.5h0M429.5 723.9h0M692.4 737.6h0M547.1 728.4h0M642.7 727.4h0M378.2 728.8h0M715.4 713.3h0M628.0 720.0h0M551.8 743.6h0M456.2 730.4h0M768.4 708.9h0M710.4 715.7h0M637.7 716.9h0M951.2 737.6h0M815.3 703.1h0M793.2 711.4h0M641.6 721.9h0M807.9 727.1h0M976.3 492.7h0M682.6 719.2h0M399.7 722.7h0M736.0 731.8h0M785.3 737.1h0M525.4 726.1h0M928.7 741.0h0M301.7 727.1h0M929.4 739.8h0M447.2 727.7h0M213.3 730.0h0M445.3 750.3h0M547.0 724.2h0M928.1 755.1h0M889.2 755.3h0M791.0 708.8h0M955.2 727.9h0M407.5 726.1h0M212.3 723.5h0M545.3 726.1h0M929.3 703.2h0M759.2 737.9h0M979.4 677.7h0M160.7 729.7h0M284.0 764.7h0M974.0 685.9h0M309.9 729.8h0M900.0 732.1h0M666.4 722.0h0M476.0 725.3h0M541.5 726.3h0M328.5 733.6h0M674.0 723.4h0M240.5 743.7h0M331.0 724.5h0M894.0 668.9h0M696.2 732.5h0M426.2 776.0h0M259.5 726.2h0M649.8 752.8h0M333.0 724.6h0M977.3 570.8h0M679.1 717.5h0M280.1 753.1h0M766.7 710.3h0M228.5 732.1h0M505.5 727.7h0M768.5 713.8h0M788.6 701.4h0M902.1 700.7h0M698.2 713.8h0M291.0 744.4h0M502.6 724.4h0M287.4 756.0h0M504.6 727.8h0M337.7 728.3h0M906.7 743.2h0M893.0 740.9h0M952.4 730.7h0M240.6 729.8h0M354.6 745.5h0M797.9 707.3h0M890.1 726.3h0M344.2 772.9h0M202.8 723.5h0M973.6 693.5h0M896.5 689.4h0M271.0 757.1h0M510.4 729.5h0M193.3 734.2h0M598.0 750.8h0M907.5 739.6h0M491.6 724.9h0M782.4 712.1h0M900.3 750.2h0M336.7 760.0h0M161.1 723.6h0M687.5 719.8h0M843.9 737.9h0M929.8 755.1h0M600.9 719.2h0M761.6 713.2h0M774.8 717.8h0M391.5 774.6h0M543.5 726.1h0M949.4 728.7h0M860.5 724.9h0M637.8 723.9h0M356.1 762.7h0M965.1 734.4h0M291.0 731.5h0M216.7 727.6h0M706.9 714.9h0M299.5 755.5h0M745.4 718.8h0M210.1 729.4h0M501.2 727.1h0M789.0 712.9h0M323.8 730.8h0M636.3 724.8h0M274.7 728.1h0M175.7 750.8h0M670.0 724.8h0M717.3 727.5h0M743.5 722.0h0M647.7 738.9h0M871.2 748.3h0M772.4 729.7h0M466.9 722.9h0M672.7 715.6h0M394.4 724.6h0M765.6 740.0h0M474.2 725.1h0M276.9 744.1h0M888.5 736.8h0M340.2 732.8h0M231.1 731.3h0M513.6 732.0h0M679.7 744.1h0M907.3 728.0h0M188.3 769.6h0M682.1 726.7h0M542.0 729.9h0M646.1 725.0h0M484.6 723.0h0M591.6 734.4h0M260.3 730.7h0M403.3 732.0h0M493.2 744.2h0M652.1 746.4h0M522.3 729.1h0M535.8 727.5h0M505.5 730.9h0M958.0 657.8h0M485.6 732.4h0M840.2 739.9h0M581.6 732.0h0M962.1 679.4h0M205.5 726.9h0M932.4 727.8h0M669.1 724.9h0M276.3 727.9h0M434.5 727.7h0M718.1 721.9h0M190.9 747.1h0M956.3 726.9h0M499.9 726.1h0M795.5 706.0h0M699.4 722.9h0M852.9 691.6h0M923.1 659.6h0M975.2 530.8h0M770.8 713.4h0M548.7 731.5h0M719.5 722.1h0M794.8 713.2h0M762.4 711.7h0M734.2 715.1h0M924.9 681.3h0M305.6 731.0h0M536.0 728.3h0M722.1 722.8h0M850.9 719.8h0M634.8 748.8h0M674.6 716.6h0M749.1 723.7h0M370.1 744.7h0M894.6 707.4h0M887.4 700.7h0M459.6 727.1h0M659.6 716.9h0M969.4 482.9h0M493.4 731.1h0M864.6 689.6h0M174.8 729.3h0M800.9 700.1h0M411.8 728.0h0M806.2 707.8h0M809.4 707.4h0M515.4 729.5h0M748.1 716.4h0M384.8 728.1h0M517.8 732.4h0M474.3 725.3h0M856.8 740.4h0M346.2 724.9h0M812.3 694.7h0M920.7 686.9h0M686.7 723.6h0M388.3 727.7h0M173.1 745.6h0M170.6 730.7h0M565.7 730.4h0M755.6 710.9h0M938.5 677.2h0M461.4 739.6h0M468.5 746.5h0M490.3 747.2h0M435.9 743.5h0M473.5 725.1h0M322.5 748.8h0M338.3 729.6h0M735.7 716.0h0M493.2 724.4h0M634.6 739.9h0M624.4 724.4h0M832.9 721.8h0M187.5 750.9h0M246.1 729.8h0M490.8 735.3h0M390.2 725.9h0M843.1 725.3h0M245.9 731.2h0M567.0 732.6h0M280.9 729.3h0M256.2 728.0h0M161.3 733.1h0M320.6 727.0h0M955.5 686.5h0M609.4 726.5h0M199.7 759.0h0M941.9 688.6h0M924.4 735.1h0M611.8 723.9h0M595.3 727.8h0M746.7 711.7h0M842.5 749.7h0M417.3 728.0h0M925.8 684.7h0M459.4 750.3h0M417.2 725.0h0M866.0 685.3h0M343.4 750.7h0M737.2 718.8h0M847.3 719.2h0M855.6 682.1h0M731.1 715.4h0M264.6 752.7h0M231.3 723.9h0M753.5 736.8h0M897.9 727.0h0M181.0 727.9h0M365.3 726.2h0M652.5 717.0h0M850.5 729.5h0M751.6 712.6h0M953.2 733.2h0M495.7 727.3h0M381.9 747.9h0M814.3 734.1h0M949.5 684.9h0M752.0 719.1h0M450.0 724.6h0M496.6 730.0h0M237.2 760.3h0M501.9 727.9h0M818.0 731.4h0M587.2 728.6h0M775.8 708.2h0M565.8 721.4h0M492.8 728.7h0M492.2 729.7h0M665.1 720.9h0M437.3 752.4h0M478.8 724.4h0M877.5 704.2h0M264.4 744.3h0M400.4 741.9h0M247.3 751.4h0M250.4 731.6h0M862.6 706.5h0M361.7 723.5h0M505.0 723.2h0M339.7 731.9h0M741.7 720.8h0M625.6 720.4h0M358.7 724.5h0M356.2 729.0h0M188.6 758.9h0M700.0 728.2h0M476.8 722.6h0M743.0 735.7h0M795.1 712.9h0M725.3 720.9h0M916.0 659.6h0M743.5 707.4h0M316.6 731.0h0M313.3 728.0h0M577.6 738.9h0M848.4 741.0h0M682.3 720.0h0M198.7 733.8h0M773.8 710.5h0M299.2 763.6h0M460.7 730.4h0M260.4 728.1h0M269.8 725.8h0M481.6 736.9h0M409.3 725.6h0M787.3 728.8h0M390.2 741.8h0M689.0 722.9h0M771.7 716.2h0M357.2 726.3h0M199.1 733.0h0M352.8 755.8h0M190.6 751.0h0M291.8 723.7h0M645.4 728.7h0M394.2 759.6h0M644.3 733.6h0M366.0 727.1h0M663.5 724.5h0M454.1 728.5h0M213.0 746.9h0M249.2 758.3h0M659.2 734.0h0M695.3 721.2h0M716.9 720.0h0M852.4 695.8h0M525.0 727.3h0M620.1 726.2h0M485.8 739.1h0M632.4 718.4h0M188.1 727.8h0M337.7 728.8h0M261.5 724.2h0M613.6 725.5h0M398.4 726.2h0M523.1 728.2h0M411.5 731.3h0M819.1 713.6h0M562.4 721.3h0M342.5 748.7h0M691.7 723.7h0M457.1 722.8h0M672.5 724.1h0M639.0 738.9h0M309.9 742.2h0M559.3 727.1h0M185.4 730.6h0M874.1 730.9h0M366.3 728.6h0M542.0 727.5h0M222.7 730.8h0M799.9 728.7h0M381.9 727.1h0M597.9 749.0h0M326.1 724.9h0M785.7 710.8h0M462.8 732.7h0M533.9 730.6h0M465.0 729.9h0M714.5 739.0h0M763.8 709.5h0M663.3 719.5h0M733.4 713.5h0M528.5 730.5h0M953.5 677.1h0M353.0 727.8h0M183.8 730.5h0M589.2 724.5h0M607.5 721.7h0M239.5 733.9h0M925.8 729.2h0M323.3 756.8h0M880.7 703.2h0M641.3 719.3h0M418.2 741.1h0M523.4 729.0h0M951.1 726.5h0M848.8 753.1h0M197.9 726.9h0M664.3 720.7h0M304.6 728.5h0M943.9 737.3h0M729.7 729.3h0M825.6 722.7h0M668.5 722.9h0M630.4 743.6h0M846.4 698.2h0M813.8 727.2h0M249.9 729.4h0M767.7 731.7h0M621.1 728.5h0M768.9 732.8h0M855.0 735.9h0M480.8 739.1h0M968.6 562.5h0M528.2 724.1h0M795.6 712.9h0M680.5 724.2h0M595.8 724.9h0M244.3 742.1h0M675.3 745.9h0M425.7 728.6h0M537.4 733.7h0M342.9 733.9h0M566.5 722.4h0M936.5 729.5h0M553.5 731.1h0M774.2 716.8h0M978.5 671.5h0M196.5 730.9h0M976.8 764.6h0M215.6 732.8h0M648.4 725.7h0M239.3 734.3h0M868.5 670.1h0M220.1 765.9h0M780.7 708.9h0M297.8 730.7h0M792.3 705.2h0M931.4 713.8h0M316.1 726.7h0M247.8 733.1h0M490.4 756.8h0M604.7 728.7h0M401.3 732.9h0M666.2 731.2h0M591.9 727.7h0M315.9 725.4h0M722.3 731.2h0M680.5 720.2h0M928.8 736.5h0M281.3 728.0h0M573.5 736.2h0M386.3 755.3h0M452.9 727.4h0M202.6 760.5h0M488.2 724.7h0M187.3 746.0h0M895.5 754.7h0M612.1 718.4h0M162.0 731.3h0M422.7 725.1h0M789.5 713.3h0M615.4 724.5h0M814.2 712.2h0M346.3 746.7h0M420.7 725.2h0M972.7 680.7h0M476.4 728.7h0M331.8 728.1h0M561.9 724.3h0M318.2 724.0h0M716.3 721.2h0M702.4 718.8h0M805.3 739.2h0M323.5 755.2h0M448.8 730.5h0M371.7 733.5h0M916.7 665.5h0M530.5 730.9h0M303.6 729.6h0M931.7 709.2h0M545.2 744.6h0M206.0 725.9h0M698.5 721.9h0M433.8 732.8h0M816.3 730.9h0M855.4 732.7h0M440.7 725.9h0M229.7 727.6h0M508.4 747.6h0M863.6 680.9h0M414.1 730.6h0M814.3 709.4h0M417.7 726.5h0M883.6 682.9h0M435.1 740.6h0M402.6 738.6h0M562.0 727.1h0M515.9 743.9h0M486.8 731.6h0M731.1 726.2h0M783.7 721.1h0M651.3 717.6h0M953.5 755.0h0M923.6 725.3h0M603.9 722.6h0M530.2 727.7h0M190.8 729.9h0M375.3 731.6h0M840.9 739.1h0M766.7 726.9h0M902.4 706.3h0M488.6 731.4h0M791.0 723.8h0M505.7 754.7h0M729.1 713.6h0M904.1 739.6h0M523.1 729.1h0M484.9 729.9h0M457.6 728.1h0M442.1 740.7h0M640.2 747.0h0M771.9 729.2h0M317.5 742.8h0M464.6 731.5h0M216.0 724.3h0M768.0 724.5h0M953.2 735.9h0M690.3 719.3h0M932.2 694.3h0M404.8 747.6h0M642.5 747.0h0M581.4 730.0h0M360.7 745.8h0M447.9 732.1h0M965.7 705.5h0M882.2 770.3h0M853.6 723.4h0M561.6 721.9h0M796.8 699.5h0M243.3 751.5h0M601.3 719.1h0M741.2 731.7h0M278.2 744.3h0M562.1 723.3h0M496.3 744.5h0M203.4 725.2h0M974.9 720.7h0M576.1 723.4h0M372.0 767.7h0M808.0 730.2h0M903.8 726.5h0M572.6 730.1h0M479.4 739.3h0M203.2 728.7h0M160.8 742.4h0M528.3 728.2h0M963.0 733.5h0M855.8 683.1h0M409.2 740.5h0M658.2 716.7h0M390.1 728.0h0M207.5 725.7h0M811.4 756.6h0M246.6 732.4h0M641.8 725.8h0M814.4 707.8h0M482.7 735.6h0M427.8 723.2h0M793.7 705.2h0M714.5 726.6h0M422.1 726.7h0M712.8 712.0h0" stroke="#4462F7" stroke-width="5.9" stroke-linecap="round" fill="none"/>
<path d="M861.5 91.0h0M317.0 668.1h0M727.5 221.3h0M279.3 669.5h0M613.0 594.1h0M180.2 659.6h0M640.0 570.0h0M517.2 662.8h0M208.0 661.0h0M509.7 656.4h0M160.9 663.3h0M762.1 316.5h0M646.1 247.2h0M293.1 661.8h0M266.5 660.9h0M959.4 379.3h0M160.0 666.6h0M523.6 661.1h0M269.2 663.4h0M285.1 659.4h0M559.0 635.7h0M259.0 670.9h0M733.2 413.5h0M159.1 661.6h0M346.7 664.7h0M564.6 648.2h0M757.9 286.1h0M339.8 667.9h0M560.5 648.2h0M212.6 668.2h0M791.7 93.4h0M716.2 312.8h0M260.2 660.1h0M642.2 581.8h0M641.8 617.2h0M529.1 645.8h0M425.4 665.8h0M798.8 114.7h0M341.7 667.9h0M626.3 617.3h0M515.7 648.5h0M556.9 631.3h0M750.4 366.8h0M846.9 42.4h0M678.9 511.3h0M553.6 635.2h0M634.1 532.1h0M639.4 566.0h0M614.8 617.7h0M321.6 669.3h0M740.0 369.6h0M256.5 663.1h0M315.5 668.1h0M636.6 594.3h0M805.3 216.1h0M334.2 675.7h0M923.8 43.5h0M716.7 236.3h0M159.3 659.5h0M410.0 666.7h0M451.9 666.2h0M653.3 559.8h0M738.4 303.9h0M363.2 666.3h0M732.0 260.1h0M850.0 82.5h0M623.3 602.7h0M836.8 230.3h0M424.3 667.3h0M863.9 63.1h0M621.8 580.9h0M483.3 665.0h0M801.6 131.8h0M908.4 51.3h0M741.6 135.5h0M860.8 83.1h0M177.4 662.1h0M363.5 661.7h0M599.1 626.7h0M523.9 646.2h0M643.4 583.2h0M450.2 660.8h0M704.6 624.0h0M500.3 658.5h0M252.3 668.4h0M801.5 57.2h0M439.4 664.6h0M260.4 661.4h0M247.6 668.6h0M862.0 49.4h0M873.9 43.4h0M586.4 639.2h0M633.1 522.0h0M860.7 116.6h0M846.5 79.8h0M386.3 674.2h0M490.9 656.6h0M283.9 660.3h0M290.2 664.4h0M374.8 660.2h0M170.2 665.8h0M594.3 622.2h0M381.1 681.7h0M660.5 599.2h0M765.1 50.2h0M534.6 670.8h0M761.5 47.8h0M580.4 638.4h0M210.0 661.5h0M738.1 281.6h0M726.6 249.7h0M218.1 662.9h0M223.0 664.1h0M745.2 265.7h0M161.1 671.2h0M676.8 474.2h0M714.1 492.4h0M607.9 619.0h0M780.9 159.9h0M389.4 663.8h0M414.7 666.1h0M709.6 225.1h0M548.9 638.9h0M702.2 463.7h0M669.2 645.1h0M794.0 144.1h0M251.2 664.9h0M370.3 667.3h0M276.4 662.0h0M343.2 663.6h0M289.6 666.3h0M685.0 419.0h0M347.5 668.8h0M854.8 74.8h0M599.5 613.9h0M959.8 47.2h0M752.5 371.0h0M481.5 672.9h0M166.0 669.9h0M362.9 665.6h0M747.6 351.0h0M874.4 385.4h0M196.8 664.0h0M836.9 63.7h0M669.3 491.2h0M560.5 641.4h0M766.1 224.2h0M228.9 668.1h0M628.4 581.8h0M493.0 669.4h0M256.3 668.5h0M583.4 631.8h0M291.3 670.1h0M207.6 670.7h0M402.9 676.0h0M691.1 544.1h0M591.6 623.7h0M607.3 594.9h0M452.2 654.5h0M478.1 660.3h0M284.2 683.3h0M296.9 662.2h0M265.8 663.4h0M719.9 348.7h0M611.4 582.6h0M448.4 663.0h0M252.1 668.7h0M701.3 504.3h0M207.9 666.4h0M912.1 50.7h0M559.4 638.2h0M640.7 572.0h0M378.0 664.4h0M421.0 664.8h0M434.1 658.4h0M650.5 575.3h0M591.5 611.5h0M576.3 636.0h0M749.6 199.2h0M185.2 667.5h0M581.9 628.4h0M653.7 584.0h0M496.9 660.6h0M661.2 478.9h0M472.1 658.8h0M660.4 430.7h0M419.7 662.3h0M506.3 660.0h0M446.6 668.1h0M630.2 597.7h0M185.3 676.8h0M540.6 637.3h0M821.1 97.7h0M704.7 358.9h0M231.8 659.5h0M487.9 657.5h0M400.0 657.3h0M509.7 657.0h0M204.7 666.2h0M386.1 668.9h0M334.1 681.9h0M402.4 664.0h0M332.2 658.8h0M409.9 678.5h0M661.8 564.3h0M232.5 661.5h0M549.5 654.8h0M446.0 678.6h0M615.8 621.9h0M445.4 658.0h0M382.9 666.5h0M269.6 673.3h0M689.8 231.9h0M159.6 659.6h0M238.9 662.8h0M499.4 660.5h0M399.1 666.6h0M643.2 560.5h0M353.9 666.0h0M395.1 661.0h0M512.0 655.9h0M242.8 673.9h0M327.2 670.2h0M461.7 658.5h0M331.3 669.5h0M705.7 278.8h0M706.7 526.7h0M429.9 656.5h0M696.3 474.6h0M299.0 672.7h0M513.9 655.4h0M556.0 629.5h0M642.5 565.6h0M194.9 661.2h0M661.9 530.6h0M278.5 659.4h0M763.9 346.3h0M629.7 518.4h0M436.7 662.6h0M202.5 671.0h0M480.2 650.9h0M720.1 410.4h0M579.1 632.6h0M746.6 335.8h0M215.7 668.9h0M734.8 282.6h0M920.7 139.5h0M630.4 575.9h0M519.8 658.4h0M960.7 54.0h0M704.4 371.0h0M311.4 679.6h0M647.8 578.6h0M201.5 662.1h0M419.6 660.7h0M705.0 328.1h0M919.6 49.3h0M313.8 663.9h0M597.5 630.7h0M698.0 256.4h0M318.8 669.8h0M274.1 677.1h0M611.2 599.8h0M845.2 101.4h0M972.6 75.4h0M633.9 575.3h0M559.7 628.0h0M159.2 662.6h0M646.9 594.8h0M453.0 663.5h0M842.8 96.2h0M714.6 396.0h0M366.4 661.2h0M314.7 659.8h0M557.8 646.6h0M254.4 663.8h0M851.6 53.1h0M214.8 665.5h0M182.5 662.0h0M197.4 670.4h0M501.1 653.1h0M800.4 332.8h0M496.8 654.3h0M796.6 45.5h0M213.1 669.9h0M667.0 562.6h0M215.9 665.7h0M616.9 602.6h0M205.4 665.8h0M492.2 652.4h0M423.5 656.4h0M299.3 670.1h0M609.1 614.9h0M565.2 646.3h0M938.4 43.9h0M718.4 172.1h0M483.2 650.5h0M577.2 638.6h0M469.6 652.9h0M389.3 672.6h0M650.0 536.5h0M357.0 680.6h0M546.3 635.9h0M454.4 665.8h0M302.0 669.9h0M599.9 628.1h0M448.5 657.6h0M191.0 705.5h0M739.2 296.1h0M780.6 206.6h0M635.1 624.7h0M703.2 436.2h0M279.6 690.4h0M227.1 667.5h0M526.1 653.4h0M795.1 274.3h0M876.9 48.7h0M689.9 329.4h0M325.6 662.8h0M552.4 633.4h0M759.6 495.4h0M169.2 664.7h0M641.0 574.3h0M733.8 399.5h0M775.1 72.7h0M676.1 497.3h0M669.3 526.4h0M532.8 655.0h0M171.5 663.0h0M716.1 222.8h0M642.2 579.7h0M256.2 663.9h0M868.8 42.7h0M451.4 661.2h0M664.5 556.8h0M207.1 668.2h0M547.7 662.6h0M847.1 43.5h0M743.6 170.3h0M825.1 60.3h0M698.1 415.6h0M805.2 541.3h0M239.1 666.3h0M784.3 256.2h0M749.9 259.1h0M930.8 46.3h0M494.3 659.8h0M180.1 671.4h0M754.3 189.6h0M651.4 634.4h0M416.5 663.2h0M617.7 610.5h0M396.2 665.2h0M573.0 651.4h0M500.5 651.3h0M485.4 662.3h0M501.4 659.4h0M166.6 690.8h0M495.2 654.9h0M387.9 665.8h0M755.1 77.4h0M293.4 660.7h0M452.6 660.8h0M629.1 604.6h0M388.6 667.9h0M770.2 222.5h0M366.9 663.2h0M433.0 659.6h0M311.9 659.0h0M281.2 660.9h0M529.3 640.9h0M784.0 43.9h0M687.1 174.8h0M684.9 600.8h0M763.1 340.1h0M522.1 653.5h0M290.5 660.9h0M686.1 314.1h0M181.9 665.8h0M431.1 665.0h0M286.0 666.0h0M891.5 86.0h0M602.0 606.7h0M579.4 623.9h0M424.1 656.3h0M761.3 270.9h0M821.9 87.2h0M354.1 663.8h0M538.9 642.4h0M791.5 291.0h0M610.5 616.4h0M544.1 641.9h0M461.1 657.7h0M688.1 427.6h0M181.8 662.6h0M667.8 560.3h0M389.3 668.9h0M295.5 660.6h0M306.2 668.6h0M337.6 683.7h0M527.2 652.3h0M547.7 642.3h0M594.5 627.8h0M543.3 635.8h0M632.4 592.8h0M522.9 648.8h0M377.1 659.0h0M882.3 103.7h0M492.2 654.6h0M439.1 661.1h0M271.4 667.7h0M287.3 683.1h0M732.5 320.5h0M317.9 669.7h0M644.6 561.7h0M178.5 680.6h0M466.3 668.2h0M976.2 43.4h0M531.1 641.3h0M195.5 676.0h0M460.2 656.3h0M682.3 586.0h0M722.2 272.1h0M610.8 621.0h0M799.3 61.4h0M616.4 607.1h0M884.6 43.7h0M371.1 659.9h0M649.2 567.0h0M357.1 669.3h0M761.8 202.0h0M661.2 562.2h0M380.3 664.2h0M261.1 663.2h0M617.4 568.1h0M640.7 569.8h0M548.9 634.5h0M377.4 676.0h0M867.8 54.5h0M202.3 663.4h0M632.8 612.4h0M976.2 52.1h0M252.1 663.4h0M760.4 107.6h0M654.3 602.3h0M200.8 662.4h0M541.3 646.6h0M562.1 646.4h0M534.5 643.7h0M240.7 660.4h0M760.0 244.7h0M637.8 564.7h0M716.8 366.4h0M750.9 237.0h0M782.5 44.2h0M250.8 668.2h0M875.7 166.2h0M651.3 363.8h0M660.5 445.6h0M572.0 637.5h0M261.0 661.7h0M918.9 42.6h0M664.4 566.5h0M486.2 654.9h0M822.9 132.6h0M628.9 590.6h0M524.0 651.2h0M237.6 659.9h0M414.3 664.0h0M296.3 670.2h0M817.5 163.4h0M682.4 337.3h0M224.8 665.5h0M289.5 669.0h0M827.1 42.0h0M281.5 663.7h0M696.5 433.7h0M792.3 149.4h0M497.8 666.2h0M903.1 46.8h0M452.2 672.1h0M369.1 669.2h0M665.6 530.2h0M628.2 602.8h0M471.4 655.0h0M612.3 621.5h0M769.9 211.8h0M244.2 665.5h0M626.0 600.8h0M223.7 669.2h0M560.9 644.6h0M632.8 601.3h0M196.8 670.1h0M238.6 664.8h0M229.4 666.5h0M220.0 669.3h0M814.9 59.3h0M263.3 670.0h0M298.7 661.6h0M279.0 667.8h0M755.9 242.9h0M720.2 375.5h0M404.2 663.6h0M204.1 690.8h0M558.9 634.4h0M269.1 664.3h0M184.7 677.9h0M353.6 658.9h0M598.0 617.0h0M396.3 658.2h0M240.8 659.7h0M209.1 668.2h0M411.0 662.7h0M499.5 655.9h0M196.1 669.9h0M253.7 671.7h0M610.1 625.8h0M685.8 598.7h0M374.5 659.1h0M859.0 45.9h0M319.4 674.6h0M618.6 639.7h0M261.2 668.1h0M200.9 673.6h0M749.6 257.3h0M797.1 182.1h0M302.7 667.2h0M922.3 547.1h0M488.4 653.7h0M241.8 671.8h0M192.5 663.1h0M188.6 678.5h0M341.5 660.5h0M664.0 375.6h0M417.6 667.3h0M382.0 686.6h0M398.4 665.4h0M614.8 614.3h0M880.4 101.8h0M450.3 656.4h0M248.7 665.1h0M292.0 669.3h0M168.6 666.1h0M417.3 664.9h0M751.1 48.8h0M283.9 681.4h0M706.3 218.8h0M425.1 662.0h0M624.7 586.2h0M885.9 45.7h0M203.1 664.4h0M519.5 655.6h0M438.4 665.4h0M167.3 662.1h0M177.1 663.1h0M759.3 305.7h0M222.8 665.1h0M481.7 658.1h0M445.9 658.4h0M521.6 648.2h0M648.7 436.6h0M758.6 238.9h0M532.5 648.4h0M530.1 646.8h0M412.4 662.3h0M619.5 507.7h0M632.4 605.5h0M667.0 369.0h0M780.1 188.1h0M412.9 658.6h0M407.2 661.4h0M652.7 590.3h0M652.0 593.0h0M794.7 168.6h0M842.7 50.8h0M737.8 403.8h0M313.8 668.5h0M558.7 640.6h0M200.1 674.0h0M746.6 233.2h0M665.3 588.1h0M450.9 665.9h0M178.2 661.0h0M222.5 662.2h0M522.5 666.9h0M261.4 668.8h0M433.8 656.0h0M442.6 665.2h0M202.1 661.8h0M624.8 599.3h0M596.4 617.8h0M448.6 666.2h0M543.5 643.5h0M185.1 665.4h0M351.4 667.7h0M159.7 663.6h0M738.3 290.3h0M894.3 43.5h0M301.1 667.8h0M654.8 590.4h0M380.8 666.0h0M367.9 668.9h0M750.9 317.3h0M229.6 668.1h0M631.2 609.6h0M641.1 607.6h0M533.0 657.1h0M295.6 690.9h0M751.5 48.9h0M573.6 637.7h0M757.7 388.0h0M907.5 47.4h0M860.3 59.6h0M492.7 684.0h0M773.8 214.0h0M199.3 668.0h0M320.6 659.0h0M209.7 666.7h0M347.3 666.4h0M535.2 649.8h0M207.1 659.9h0M542.7 640.7h0M348.5 669.2h0M706.0 391.1h0M863.8 81.3h0M446.2 682.3h0M506.3 647.2h0M785.3 42.9h0M196.5 667.2h0M568.9 642.8h0M668.9 587.1h0M214.1 669.1h0M953.2 49.2h0M642.7 384.1h0M680.2 232.3h0M377.5 678.9h0M353.1 678.7h0M661.2 573.5h0M560.0 631.6h0M710.0 508.5h0M493.5 660.0h0M320.9 661.1h0M640.0 571.9h0M159.3 670.6h0M309.4 669.9h0M175.9 660.8h0M165.0 663.2h0M535.3 644.9h0M167.4 672.3h0M419.2 662.3h0M400.3 659.3h0M235.4 669.5h0M898.0 46.5h0M975.9 60.2h0M248.1 668.6h0M279.2 659.8h0M305.6 676.2h0M284.9 661.6h0M198.4 666.2h0M263.1 669.5h0M593.8 638.8h0M561.3 646.6h0M269.2 666.0h0M313.0 660.9h0M625.8 595.2h0M686.4 530.7h0M869.0 62.9h0M552.6 650.4h0M273.8 660.4h0M428.2 661.1h0M362.6 670.3h0M926.6 58.1h0M510.9 652.6h0M539.6 636.9h0M166.3 677.1h0M614.0 597.8h0M695.7 332.3h0M636.3 567.1h0M640.9 636.5h0M648.8 596.1h0M401.9 660.9h0M793.2 42.3h0M634.9 374.5h0M853.3 47.2h0M623.0 570.6h0M757.0 239.8h0M595.8 636.9h0M218.9 662.2h0M639.0 587.4h0M255.2 661.2h0M239.0 667.8h0M669.8 564.6h0M248.1 691.4h0M368.6 670.1h0M871.5 45.3h0M678.4 505.0h0M691.8 373.3h0M656.0 565.5h0M628.7 591.6h0M496.2 657.9h0M793.3 148.5h0M420.0 666.7h0M523.6 658.7h0M578.6 632.9h0M655.6 509.2h0M543.8 635.2h0M858.9 132.7h0M260.2 668.6h0M474.2 655.9h0M594.9 620.8h0M524.5 645.4h0M471.4 658.5h0M232.1 663.1h0M607.0 602.8h0M588.2 630.9h0M521.6 654.7h0M737.0 498.0h0M342.1 666.6h0M231.5 670.4h0M875.6 180.1h0M590.3 639.1h0M535.7 651.3h0M471.4 652.6h0M847.2 47.4h0M796.6 250.3h0M520.1 654.0h0M300.7 670.5h0M352.1 673.1h0M466.6 656.2h0M299.7 682.6h0M801.5 195.9h0M427.1 656.2h0M428.2 659.0h0M524.8 656.3h0M420.5 661.6h0M403.0 662.5h0M748.3 236.4h0M373.7 670.1h0M444.6 665.7h0M864.9 42.8h0M270.5 678.9h0M343.9 661.1h0M627.3 542.6h0M745.9 267.7h0M406.7 662.5h0M463.3 657.5h0M760.6 167.7h0M425.7 660.7h0M425.0 657.0h0M493.4 650.8h0M408.8 657.7h0M736.1 173.1h0M358.4 659.4h0M574.4 640.5h0M352.5 664.5h0M587.7 582.6h0M831.1 61.6h0M276.5 665.1h0M300.1 669.3h0M359.5 660.0h0M252.6 666.9h0M589.0 635.8h0M577.1 637.0h0M474.8 658.4h0M967.4 56.3h0M302.4 677.3h0M498.8 650.2h0M643.7 591.2h0M718.9 495.9h0M664.9 574.9h0M550.8 633.6h0M450.7 658.0h0M570.4 641.2h0M504.9 651.6h0M370.7 686.6h0M499.0 648.2h0M604.8 606.7h0M668.5 486.4h0M817.7 80.1h0M620.7 559.6h0M268.6 665.5h0M755.7 305.5h0M294.3 660.3h0M811.8 156.3h0M586.3 638.6h0M631.2 573.4h0M773.4 155.4h0M625.8 595.2h0M338.0 662.2h0M884.4 91.3h0M611.8 612.0h0M424.5 660.6h0M766.6 116.3h0M404.2 661.1h0M228.3 679.1h0M890.6 49.8h0M501.8 656.6h0M365.0 660.4h0M643.6 594.3h0M798.1 395.3h0M332.7 659.3h0M433.6 661.3h0M169.2 666.2h0M287.0 660.6h0M880.1 85.0h0M828.4 97.3h0M327.1 661.2h0M462.1 663.0h0M635.1 593.5h0M522.9 643.9h0M479.3 652.0h0M753.7 251.5h0M481.9 658.5h0M332.5 663.8h0M967.9 83.2h0M816.6 42.9h0M652.6 562.9h0M784.7 128.3h0M244.3 664.1h0M715.9 289.4h0M735.9 407.8h0M699.8 430.5h0M707.5 143.7h0M635.2 565.8h0M257.3 664.2h0M556.6 650.0h0M720.9 363.0h0M510.2 652.4h0M865.5 44.5h0M766.0 154.6h0M969.0 54.0h0M663.3 576.3h0M626.6 571.4h0M776.0 244.3h0M498.4 662.6h0M593.5 614.8h0M251.2 663.9h0M371.7 663.2h0M358.9 667.8h0M487.1 658.4h0M176.0 670.0h0M595.7 620.9h0M767.5 158.6h0M640.3 576.8h0M447.7 662.4h0M668.8 202.0h0M647.5 531.2h0M622.1 617.6h0M894.0 122.0h0M657.9 414.7h0M789.9 72.7h0M698.3 442.8h0M752.5 264.3h0M310.5 660.3h0M965.8 47.4h0M175.6 668.3h0M522.7 650.2h0M566.4 634.6h0M488.6 657.7h0M732.3 208.5h0M434.0 656.6h0M780.4 177.3h0M724.8 395.8h0M278.1 662.3h0M605.4 620.1h0M558.3 636.4h0M909.6 76.3h0M740.9 200.4h0M504.4 649.9h0M692.5 496.8h0M737.0 238.6h0M758.6 188.1h0M361.0 680.9h0M460.8 661.9h0M270.8 666.4h0M805.8 150.0h0M646.6 579.3h0M531.1 656.7h0M164.0 670.3h0M752.2 45.0h0M546.3 638.0h0M300.5 669.9h0M759.4 248.8h0M675.5 462.7h0M903.3 48.5h0M220.6 668.6h0M301.9 669.8h0M364.9 666.8h0M611.3 614.9h0M452.1 658.0h0M222.7 668.9h0M569.0 646.6h0M944.0 42.0h0M644.0 600.3h0M198.7 666.1h0M420.9 674.5h0M825.6 52.8h0M244.4 690.5h0M506.0 652.5h0M512.5 647.0h0M655.8 568.3h0M892.1 45.2h0M213.3 663.3h0M970.4 49.6h0M388.0 658.7h0M557.9 635.8h0M860.6 77.9h0M518.5 652.8h0M794.2 137.3h0M262.1 688.8h0M622.1 588.2h0M467.4 664.6h0M798.6 58.4h0M308.0 674.3h0M539.2 650.0h0M430.8 662.9h0M306.9 666.2h0M266.9 671.0h0M727.2 247.1h0M943.4 48.4h0M310.9 662.4h0M629.5 609.0h0M700.0 496.3h0M714.0 449.2h0M568.5 638.0h0M820.3 126.1h0M599.2 606.3h0M368.0 667.2h0M685.4 521.9h0M598.7 596.5h0M408.5 667.0h0M654.8 582.7h0M548.5 643.5h0M653.0 466.8h0M683.8 377.4h0M588.2 628.5h0M747.8 219.3h0M836.6 156.4h0M174.0 687.0h0M492.8 649.6h0M813.5 124.1h0M455.0 654.1h0M705.0 446.2h0M332.2 670.8h0M792.5 146.9h0M842.6 74.3h0M646.8 577.5h0M886.1 376.4h0M590.5 635.5h0M223.9 664.4h0M721.9 523.1h0M632.0 600.7h0M625.8 572.8h0M787.6 178.4h0M648.6 590.7h0M648.9 575.8h0M745.5 373.8h0M551.1 632.8h0M792.2 219.7h0M492.0 667.6h0M493.9 653.1h0M555.9 641.4h0M891.5 50.5h0M757.3 226.6h0M919.0 50.0h0M187.1 670.8h0M159.1 667.6h0M547.1 638.9h0M568.9 544.1h0M966.0 49.1h0M703.8 338.0h0M227.0 662.0h0M261.8 664.1h0M505.9 670.6h0M592.3 612.2h0M615.9 625.1h0M385.2 669.9h0M860.2 47.1h0M695.3 352.5h0M286.1 661.2h0M616.5 610.9h0M298.2 668.4h0M644.4 475.6h0M632.2 606.3h0M241.5 662.0h0M805.9 139.3h0M652.3 595.5h0M870.2 52.0h0M646.5 545.0h0M610.1 599.3h0M228.2 665.7h0M709.7 395.0h0M160.0 666.3h0M709.9 431.1h0M599.6 622.0h0M461.3 655.7h0M518.0 651.3h0M878.1 76.1h0M853.5 77.9h0M524.5 642.9h0M281.5 661.2h0M797.7 47.4h0M237.1 666.1h0M619.2 606.3h0M398.6 659.4h0M256.8 664.4h0M414.5 657.7h0M289.1 667.5h0M371.1 664.7h0M477.7 656.9h0M676.4 481.1h0M657.7 580.9h0M743.4 102.0h0M806.6 101.1h0M308.2 659.6h0M919.9 46.6h0M176.3 669.5h0M879.8 51.2h0M195.5 666.2h0M546.8 643.3h0M765.6 278.7h0M636.4 594.9h0M839.8 68.0h0M270.1 670.6h0M667.0 474.7h0M730.2 472.1h0M180.8 664.4h0M349.0 663.7h0M890.4 120.5h0M262.6 667.0h0M435.9 665.2h0M539.0 639.2h0M160.2 660.0h0M637.2 575.4h0M588.1 636.2h0M273.9 667.4h0M547.0 648.0h0M749.0 380.5h0M749.8 231.9h0M803.5 46.4h0M680.4 273.8h0M633.5 582.2h0M161.7 663.1h0M662.2 569.3h0M443.9 663.6h0M698.5 210.9h0M631.6 577.2h0M510.8 656.9h0M734.0 425.7h0M750.3 377.3h0M741.8 349.4h0M611.3 584.0h0M668.7 480.7h0M661.6 566.8h0M415.6 659.1h0M597.6 581.0h0M321.6 681.8h0M327.3 682.5h0M611.3 478.3h0M215.4 669.1h0M613.0 627.0h0M766.9 165.6h0M548.3 647.9h0M283.1 668.6h0M813.5 112.6h0M689.5 563.0h0M609.1 556.8h0M950.1 237.9h0M214.8 663.1h0M269.1 663.5h0M895.0 95.8h0M813.2 213.9h0M538.2 646.5h0M237.6 663.7h0M284.8 660.5h0M187.8 665.2h0M480.2 654.4h0M318.7 669.8h0M275.3 662.6h0M525.9 642.0h0M865.0 56.9h0M255.7 662.7h0M751.7 427.6h0M722.9 284.4h0M537.2 656.2h0M445.8 663.0h0M432.4 667.4h0M751.2 303.0h0M206.6 678.7h0M655.3 584.1h0M486.3 660.2h0M436.2 657.9h0M176.0 665.8h0M477.0 653.8h0M287.4 670.1h0M749.3 54.6h0M970.4 79.1h0M465.9 658.6h0M794.5 185.6h0M874.7 65.8h0M779.8 180.8h0M727.2 309.6h0M556.5 639.5h0M598.1 617.7h0M497.7 652.9h0M392.7 666.6h0M731.3 329.0h0M746.5 56.3h0M932.6 54.6h0M703.2 350.1h0M537.6 639.9h0M469.3 665.4h0M611.0 597.5h0M515.2 651.7h0M541.1 637.0h0M395.3 667.5h0M793.4 74.2h0M317.0 665.9h0M535.7 650.6h0M170.1 680.8h0M867.5 44.2h0M206.5 671.4h0M327.6 661.9h0M195.4 662.2h0M222.3 661.9h0M160.1 666.7h0M392.3 671.9h0M353.5 660.3h0M483.2 657.0h0M163.6 667.8h0M520.4 658.8h0M671.5 445.0h0M614.9 611.7h0M660.7 593.3h0M610.6 613.1h0M723.7 398.0h0M464.7 660.4h0M334.9 665.9h0M536.7 639.7h0M241.7 664.0h0M854.0 123.3h0M763.1 326.2h0M549.5 648.8h0M609.4 641.4h0M610.1 535.8h0M687.5 315.2h0M779.0 75.8h0M518.3 646.5h0M656.8 601.1h0M534.9 644.9h0M260.1 663.7h0M778.0 44.5h0M545.8 639.2h0M804.6 81.0h0M642.7 578.8h0M767.5 54.7h0M898.0 55.7h0M516.0 644.7h0M615.6 620.6h0M381.2 669.3h0M545.3 646.5h0M190.5 671.5h0M394.3 663.4h0M397.3 663.8h0M642.8 581.8h0M484.4 658.6h0M878.7 42.2h0M863.9 67.3h0M379.5 684.3h0M161.2 671.4h0M325.6 661.9h0M771.6 169.8h0M221.8 659.9h0M310.9 664.5h0M454.9 665.0h0M210.0 680.7h0M642.2 588.9h0M224.0 664.3h0M914.6 51.9h0M712.4 339.5h0M811.2 504.2h0M645.6 570.5h0M639.3 575.6h0M180.1 669.0h0M803.7 138.2h0M479.6 661.8h0M206.0 669.1h0M799.1 242.8h0M172.9 667.4h0M816.3 191.3h0M452.2 659.8h0M254.6 688.0h0M662.7 283.8h0M921.3 60.8h0M638.1 583.7h0M484.1 660.0h0M271.4 667.1h0M314.7 662.1h0M421.5 666.5h0M555.5 650.2h0M629.3 590.2h0M662.9 581.2h0M581.0 632.6h0M635.6 573.9h0M545.5 645.2h0M830.2 96.2h0M298.0 666.7h0M637.7 584.3h0M390.6 669.5h0M876.6 51.6h0M380.5 670.4h0M646.8 578.3h0M645.9 565.7h0M257.7 660.1h0M780.9 235.4h0M703.7 434.0h0M533.6 653.6h0M552.6 645.0h0M453.2 670.7h0M405.1 671.4h0M412.4 667.6h0M638.9 575.5h0M357.4 665.0h0M353.8 668.3h0M763.0 342.7h0M799.0 79.0h0M360.1 668.1h0M180.6 666.5h0M640.7 594.6h0M735.8 164.5h0M764.9 308.2h0M461.9 658.3h0M633.7 594.1h0M323.3 671.0h0M756.9 338.0h0M253.2 670.2h0M439.9 659.3h0M407.2 678.3h0M589.4 632.5h0M659.5 485.0h0M225.3 662.3h0M349.7 671.5h0M778.6 50.6h0M510.8 651.0h0M498.9 653.7h0M350.3 663.1h0M785.3 206.8h0M725.2 437.4h0M431.4 666.9h0M280.1 674.7h0M623.3 565.7h0M207.2 666.5h0M433.2 663.1h0M308.9 666.5h0M590.4 556.3h0M359.6 674.4h0M385.1 668.2h0M252.7 669.2h0M625.7 548.8h0M721.8 344.5h0M508.9 650.1h0M780.8 91.6h0M296.0 668.1h0M291.0 664.2h0M623.3 624.1h0M587.9 623.2h0M181.6 678.5h0M190.0 662.6h0M733.9 311.7h0M169.4 664.4h0M320.6 664.3h0M257.0 669.0h0M292.0 662.6h0M296.8 666.5h0M209.1 674.5h0M764.3 205.4h0M792.0 55.8h0M827.3 91.0h0M242.4 667.6h0M170.1 665.5h0M473.1 653.2h0M661.6 634.4h0M930.9 64.5h0M243.1 659.5h0M780.7 190.7h0M771.9 274.1h0M348.5 685.9h0M376.9 660.6h0M171.0 666.7h0M596.0 628.4h0M341.8 666.0h0M452.7 654.0h0M868.8 80.5h0M246.0 662.5h0M180.8 659.8h0M456.7 672.0h0M323.8 670.8h0M374.5 667.2h0M302.9 660.0h0M232.8 669.7h0M355.7 664.9h0M427.0 672.8h0M772.5 88.8h0M667.7 385.9h0M864.7 72.3h0M197.9 672.1h0M697.0 344.9h0M223.5 670.4h0M240.6 676.8h0M650.6 437.9h0M383.0 658.0h0M716.7 486.5h0M336.8 660.8h0M229.2 665.8h0M262.3 670.7h0M639.4 576.1h0M198.8 662.2h0M552.3 652.7h0M215.4 672.0h0M494.9 656.7h0M557.7 635.1h0M660.0 574.5h0M769.5 49.5h0M371.3 663.6h0M703.5 252.7h0M601.0 636.1h0M162.5 662.5h0M253.2 659.6h0M783.9 189.6h0M751.0 173.8h0M373.8 660.3h0M803.1 367.3h0M264.1 661.0h0M308.5 660.9h0M358.5 670.5h0M741.3 235.7h0M578.7 631.2h0M689.0 262.2h0M481.9 679.3h0M182.0 679.5h0M678.5 260.7h0M259.4 663.0h0M935.7 50.7h0M781.2 125.5h0M277.6 670.8h0M245.9 668.5h0M787.5 54.6h0M451.5 677.5h0M768.1 108.8h0M535.4 645.4h0M715.0 471.4h0M498.1 655.9h0M323.9 670.3h0M300.5 671.5h0M206.8 671.3h0M959.0 595.2h0M233.3 668.7h0M259.2 660.2h0M785.6 49.7h0M660.4 574.2h0M188.8 667.1h0M819.9 291.6h0M505.4 647.1h0M163.4 663.2h0M663.0 562.4h0M195.3 661.2h0M900.5 50.8h0M618.6 590.1h0M192.0 663.7h0M241.2 660.9h0M834.2 476.8h0M193.9 667.1h0M403.6 664.8h0M623.6 541.7h0M236.9 662.4h0M439.2 670.4h0M617.9 612.6h0M179.7 666.0h0M662.8 519.6h0M187.9 660.9h0M212.4 670.5h0M542.5 646.8h0M428.8 661.7h0M163.9 662.1h0M722.6 276.1h0M910.5 46.3h0M355.2 663.1h0M499.3 660.2h0M189.9 663.7h0M668.7 515.0h0M485.6 656.2h0M408.0 659.7h0M646.2 386.6h0M417.5 661.2h0M630.0 553.3h0M972.7 55.8h0M907.7 49.7h0M664.4 560.2h0M600.2 610.2h0M219.0 663.0h0M957.7 233.0h0M493.7 654.9h0M492.3 651.3h0M644.1 625.4h0M627.1 594.7h0M688.3 436.0h0M330.7 662.9h0M857.6 42.0h0M811.8 204.5h0M684.7 443.1h0M553.2 634.5h0M748.7 209.7h0M387.4 662.7h0M487.6 652.8h0M527.6 650.1h0M232.1 671.5h0M387.9 663.7h0M230.6 663.5h0M517.9 653.1h0M588.4 628.5h0M425.6 668.0h0M301.1 660.3h0M790.1 245.2h0M301.1 677.5h0M529.2 646.5h0M383.7 659.1h0M595.3 601.2h0M608.0 605.7h0M722.4 524.9h0M620.5 536.9h0M560.4 645.4h0M638.2 565.3h0M629.8 327.2h0M314.6 661.8h0M755.8 71.4h0M540.8 639.7h0M243.6 660.7h0M646.7 483.2h0M296.9 662.3h0M579.5 636.4h0M893.3 93.7h0M586.4 630.6h0M466.4 662.3h0M555.6 632.1h0M636.0 205.7h0M705.6 346.1h0M193.7 660.8h0M312.0 663.4h0M418.7 666.2h0M210.8 661.9h0M228.3 669.2h0M808.9 244.3h0M484.6 657.7h0M419.5 657.0h0M568.8 644.6h0M623.6 597.9h0M800.5 189.7h0M625.2 595.6h0M447.4 658.4h0M632.7 445.2h0M638.8 588.9h0M293.3 662.7h0M607.8 632.2h0M415.5 666.3h0M252.8 664.5h0M192.1 670.4h0M577.3 564.8h0M916.5 44.6h0M330.3 667.7h0M698.2 357.0h0M420.6 661.0h0M490.3 659.3h0M555.8 637.3h0M661.7 477.2h0M346.5 663.9h0" stroke="#45A8DF" stroke-width="5.9" stroke-linecap="round" fill="none"/>
<path d="M490.5 42.6h0M578.8 41.5h0M455.9 42.1h0M939.1 43.5h0M558.9 42.5h0M609.3 42.0h0M857.7 41.9h0M853.8 41.7h0M942.8 41.1h0M177.8 590.6h0M164.8 421.6h0M470.0 41.5h0M303.5 441.5h0M187.1 630.9h0M847.6 42.9h0M791.3 41.7h0M540.5 69.8h0M643.9 42.5h0M869.5 42.1h0M840.2 42.9h0M330.2 404.4h0M187.8 625.7h0M415.0 143.4h0M425.6 138.8h0M367.6 102.5h0M340.9 537.7h0M936.3 42.1h0M175.1 618.7h0M439.0 41.2h0M734.1 42.4h0M265.1 634.7h0M509.4 42.3h0M299.6 518.7h0M854.3 41.3h0M535.7 51.3h0M663.2 42.7h0M570.1 42.5h0M700.3 41.8h0M676.6 41.7h0M209.6 583.4h0M290.6 423.2h0M179.5 604.6h0M396.9 47.5h0M927.4 43.4h0M936.5 42.1h0M504.2 41.6h0M263.1 474.2h0M400.8 41.6h0M275.9 497.0h0M275.4 513.0h0M968.4 43.4h0M649.3 50.7h0M498.4 41.4h0M878.5 41.3h0M656.8 42.8h0M633.3 55.5h0M405.4 233.9h0M225.9 633.8h0M412.3 43.2h0M755.5 41.8h0M218.6 384.1h0M590.7 41.4h0M411.8 46.5h0M804.0 42.2h0M467.9 41.7h0M170.2 626.7h0M486.7 47.3h0M383.5 207.2h0M548.2 42.3h0M887.2 42.1h0M385.9 96.0h0M192.1 466.4h0M483.3 88.3h0M167.0 605.8h0M706.5 41.9h0M461.5 41.7h0M453.5 69.9h0M344.6 79.1h0M343.2 390.5h0M674.8 41.3h0M401.0 43.0h0M335.6 42.9h0M187.1 597.9h0M342.8 452.6h0M711.6 42.7h0M808.4 41.5h0M302.8 254.1h0M435.1 42.1h0M821.1 42.7h0M930.2 41.6h0M374.3 42.5h0M445.3 41.2h0M500.9 59.8h0M475.5 41.4h0M493.0 41.8h0M308.9 603.4h0M479.5 42.8h0M634.5 41.5h0M833.6 42.6h0M560.1 43.7h0M854.7 42.4h0M224.0 415.8h0M478.9 70.6h0M657.0 42.2h0M310.6 348.5h0M452.4 77.6h0M182.0 578.6h0M380.1 209.9h0M765.4 42.6h0M627.6 42.0h0M423.3 209.9h0M351.6 72.6h0M467.0 60.6h0M400.3 85.0h0M811.8 41.7h0M467.1 135.6h0M524.4 41.1h0M829.4 41.8h0M588.2 43.0h0M465.8 90.9h0M172.2 607.2h0M597.2 52.2h0M344.0 131.8h0M237.7 602.1h0M688.7 41.0h0M198.4 583.1h0M592.1 50.9h0M614.6 41.9h0M201.7 579.5h0M892.5 41.5h0M208.3 603.0h0M767.2 43.7h0M358.4 245.5h0M553.2 41.2h0M372.2 448.2h0M838.0 43.1h0M840.4 41.3h0M744.4 41.2h0M499.4 43.5h0M301.3 453.0h0M452.3 72.4h0M513.2 73.7h0M227.2 570.2h0M385.9 41.9h0M321.0 71.2h0M481.3 41.7h0M484.7 42.0h0M290.2 346.5h0M410.3 41.8h0M907.9 43.1h0M430.4 116.9h0M204.1 601.4h0M169.8 586.5h0M668.9 41.5h0M670.3 41.7h0M334.4 127.6h0M597.1 64.9h0M159.6 599.9h0M602.5 41.4h0M429.3 41.8h0M696.8 42.8h0M387.2 48.7h0M581.8 41.2h0M744.4 41.2h0M341.5 153.2h0M547.4 41.5h0M623.9 73.7h0M305.7 461.6h0M659.6 42.2h0M235.9 464.8h0M308.4 485.2h0M424.1 42.0h0M449.9 56.2h0M753.2 41.9h0M199.8 605.8h0M604.7 42.1h0M468.6 42.6h0M913.8 41.2h0M276.8 380.8h0M673.2 43.7h0M497.7 41.9h0M220.5 552.2h0M393.2 41.9h0M561.0 41.6h0M450.6 165.0h0M205.6 600.7h0M406.9 42.0h0M239.8 605.4h0M357.8 124.0h0M300.8 399.1h0M289.3 462.6h0M228.6 602.1h0M802.1 41.8h0M270.7 448.6h0M277.7 631.5h0M273.1 558.3h0M583.7 41.2h0M461.3 41.8h0M663.2 41.1h0M505.5 42.2h0M791.0 42.8h0M677.4 44.0h0M409.6 43.7h0M191.2 611.4h0M496.1 51.6h0M502.4 63.1h0M572.9 42.0h0M602.7 42.1h0M351.4 230.0h0M199.1 575.8h0M493.7 43.6h0M598.7 41.2h0M661.2 41.3h0M320.8 41.7h0M696.7 41.2h0M821.7 42.2h0M417.1 443.0h0M459.7 297.9h0M526.3 42.2h0M175.4 437.6h0M916.5 47.1h0M944.9 41.1h0M875.8 41.4h0M216.0 638.6h0M609.1 41.5h0M547.7 57.3h0M545.4 41.6h0M332.8 421.5h0M659.2 41.6h0M409.7 160.5h0M881.7 41.7h0M893.5 41.4h0M342.2 76.7h0M514.3 42.2h0M707.6 41.5h0M846.9 41.1h0M223.3 623.2h0M832.0 43.0h0M484.8 41.6h0M416.4 43.3h0M852.0 41.8h0M264.7 535.5h0M812.1 41.4h0M751.3 42.1h0M241.7 614.4h0M438.2 41.3h0M688.5 41.1h0M711.3 41.9h0M767.9 41.1h0M653.2 45.6h0M449.8 99.9h0M732.1 42.2h0M514.6 42.5h0M404.9 42.4h0M730.2 42.3h0M345.9 72.7h0M881.8 42.5h0M637.4 42.5h0M748.5 41.6h0M436.7 58.4h0M453.8 50.0h0M610.0 41.5h0M440.3 41.1h0M266.5 499.1h0M213.2 634.5h0M404.0 63.9h0M595.1 41.9h0M828.4 43.1h0M625.5 41.6h0M347.5 41.8h0M600.0 41.8h0M598.6 69.4h0M171.0 585.2h0M367.5 47.8h0M781.9 42.2h0M952.3 53.9h0M722.1 41.5h0M673.7 41.4h0M191.0 594.2h0M929.9 43.2h0M313.0 41.5h0M329.7 413.6h0M642.2 74.5h0M758.9 42.3h0M380.8 220.4h0M614.3 41.7h0M346.0 325.9h0M425.0 42.0h0M254.8 355.7h0M801.1 41.2h0M175.6 608.7h0M901.8 41.9h0M880.5 41.6h0M241.9 556.9h0M604.3 41.3h0M320.6 465.0h0M672.3 42.2h0M205.2 394.8h0M390.3 42.2h0M185.9 430.6h0M552.5 41.1h0M750.3 43.0h0M506.0 41.2h0M374.4 287.8h0M594.6 59.5h0M239.1 478.8h0M264.7 482.3h0M356.2 193.2h0M802.2 41.9h0M205.6 637.3h0M933.5 42.4h0M207.2 614.0h0M821.6 42.0h0M235.4 467.5h0M620.7 61.9h0M763.8 43.2h0M950.9 42.0h0M402.2 41.3h0M374.1 41.1h0M442.6 120.0h0M441.7 42.7h0M537.6 43.1h0M254.6 534.1h0M358.7 466.6h0M431.8 41.7h0M855.0 41.3h0M414.4 41.5h0M719.8 42.0h0M590.4 41.0h0M555.5 41.6h0M397.5 149.2h0M460.1 59.1h0M841.7 41.7h0M499.0 108.7h0M389.3 84.4h0M174.1 613.0h0M420.8 41.1h0M216.5 609.5h0M391.3 443.2h0M601.3 42.2h0M742.4 42.7h0M191.3 627.1h0M417.7 41.6h0M821.1 42.3h0M920.3 41.6h0M932.8 41.4h0M791.3 42.1h0M748.6 41.0h0M315.5 164.7h0M651.0 41.2h0M366.8 59.2h0M305.2 484.9h0M319.5 447.9h0M225.9 602.9h0M972.1 44.1h0M562.6 41.1h0M372.6 307.2h0M364.7 469.6h0M296.1 460.4h0M635.8 41.0h0M454.7 76.9h0M436.8 41.0h0M319.2 67.0h0M198.1 430.0h0M388.8 41.2h0M362.4 232.6h0M535.3 61.1h0M441.6 41.2h0M365.4 448.1h0M802.5 42.9h0M526.3 59.8h0M709.0 41.8h0M230.8 639.2h0M379.7 73.8h0M971.2 41.4h0M614.9 64.4h0M334.1 361.0h0M648.9 45.7h0M773.1 41.6h0M888.6 41.2h0M180.1 579.3h0M183.0 626.9h0M384.8 387.0h0M767.6 43.7h0M469.0 41.1h0M321.2 516.2h0M297.6 516.2h0M194.2 631.8h0M474.6 41.2h0M563.4 42.5h0M526.7 41.8h0M206.1 604.6h0M477.4 42.1h0M583.5 41.5h0M598.1 42.7h0M215.0 532.3h0M918.1 41.4h0M408.3 103.1h0M352.3 61.7h0M608.8 42.4h0M533.4 41.0h0M314.0 509.2h0M563.8 42.9h0M298.4 412.8h0M665.2 42.9h0M277.2 508.6h0M299.9 460.0h0M209.9 593.0h0M223.9 464.9h0M653.7 42.7h0M283.9 491.5h0M630.5 41.7h0M957.2 41.5h0M410.8 41.2h0M640.9 41.0h0M314.0 41.5h0M298.9 447.0h0M211.9 482.9h0M325.2 148.6h0M735.9 41.7h0M291.6 502.8h0M490.1 41.8h0M583.0 42.2h0M265.3 572.2h0M873.5 41.8h0M186.9 640.0h0M698.6 42.2h0M371.8 168.2h0M466.1 51.5h0M193.4 635.1h0M445.2 228.1h0M833.6 43.5h0M497.2 41.7h0M417.3 49.7h0M268.5 503.3h0M336.4 185.5h0M686.5 43.0h0M298.1 422.2h0M350.8 237.5h0M596.2 41.5h0M186.9 583.3h0M780.7 43.3h0M449.3 41.8h0M257.4 504.0h0M516.6 41.3h0M455.4 42.1h0M412.8 41.3h0M186.6 615.5h0M287.1 563.5h0M954.3 41.4h0M283.7 472.3h0M325.2 519.0h0M660.8 42.6h0M589.0 67.2h0M632.5 42.5h0M438.7 93.4h0M476.9 41.4h0M427.9 42.2h0M483.8 86.3h0M584.1 41.7h0M564.5 41.8h0M160.7 545.3h0M835.4 42.4h0M439.1 69.0h0M258.7 359.8h0M698.4 41.8h0M435.5 41.9h0M458.2 41.9h0M482.8 41.5h0M417.6 224.9h0M431.1 41.3h0M351.8 67.0h0M638.1 42.5h0M846.9 41.1h0M868.2 42.8h0M906.4 41.7h0M882.8 42.4h0M668.7 41.4h0M455.4 269.3h0M907.1 41.1h0M529.8 41.5h0M393.1 61.5h0M204.4 624.9h0M350.9 73.0h0M223.8 600.0h0M266.5 410.6h0M420.2 41.9h0M328.1 41.3h0M282.3 443.4h0M656.7 41.8h0M386.9 42.1h0M567.3 43.1h0M672.0 41.9h0M191.6 491.9h0M554.0 42.0h0M429.6 41.2h0M373.3 41.8h0M836.7 41.5h0M755.2 41.3h0M726.4 41.1h0M802.0 43.0h0M239.7 518.0h0M446.0 41.9h0M244.2 573.4h0M586.5 41.6h0M459.3 41.8h0M297.5 364.0h0M858.7 43.0h0M433.0 151.2h0M339.4 313.5h0M201.9 584.3h0M374.1 41.3h0M813.5 41.7h0M920.0 41.1h0M308.3 530.7h0M808.3 41.4h0M598.9 41.9h0M690.6 41.1h0M442.0 41.2h0M894.7 42.5h0M908.2 41.0h0M295.4 541.0h0M555.6 42.2h0M164.9 407.8h0M921.6 42.8h0M790.1 42.8h0M166.7 593.9h0M944.7 41.3h0M504.0 43.6h0M203.2 587.0h0M240.7 289.1h0M173.7 524.4h0M785.9 41.9h0M494.2 65.2h0M333.5 53.7h0M964.0 42.1h0M809.5 42.6h0M551.5 41.2h0M275.1 545.1h0M474.5 43.0h0M748.9 41.3h0M672.1 41.3h0M398.2 246.2h0M754.8 43.0h0M715.5 41.7h0M424.6 43.6h0M403.2 42.1h0M349.1 49.5h0M490.4 42.4h0M600.1 61.3h0M291.0 467.2h0M171.7 628.0h0M924.6 41.7h0M683.6 42.6h0M861.9 42.2h0M669.3 41.2h0M317.7 51.0h0M539.7 41.4h0M423.5 71.2h0M865.4 41.6h0M169.4 631.9h0M844.1 41.5h0M772.4 41.9h0M449.4 42.7h0M836.7 42.1h0M623.2 42.8h0M301.0 302.2h0M645.8 42.1h0M577.5 41.4h0M533.0 41.6h0M533.4 42.1h0M169.1 585.8h0M371.8 62.4h0M246.5 392.5h0M809.3 41.2h0M304.0 319.1h0M938.9 42.7h0M314.7 301.2h0M359.4 340.4h0M436.7 41.8h0M693.2 41.1h0M857.0 42.1h0M409.4 51.1h0M797.8 41.9h0M605.2 42.1h0M897.7 41.7h0M390.6 41.6h0M922.2 41.7h0M182.2 563.9h0M311.5 488.8h0M200.0 621.3h0M459.3 42.2h0M861.5 42.4h0M888.1 43.0h0M180.0 482.3h0M641.8 43.4h0M502.5 220.8h0M442.4 41.3h0M407.9 41.7h0M577.0 48.5h0M902.3 41.8h0M290.0 521.4h0M536.6 73.0h0M640.8 58.0h0M301.4 524.6h0M253.0 513.4h0M258.7 554.5h0M552.5 42.3h0M912.3 42.4h0M538.8 43.0h0M532.4 42.1h0M672.7 41.6h0M609.7 41.1h0M580.8 41.7h0M834.5 42.1h0M969.3 41.8h0M613.3 41.7h0M169.6 419.6h0M750.3 41.3h0M248.8 594.2h0M656.5 42.0h0M906.0 41.2h0M360.0 48.7h0M660.1 42.9h0M241.1 575.4h0M825.0 42.1h0M444.3 41.7h0M870.0 43.2h0M182.9 589.5h0M645.8 41.7h0M299.8 510.1h0M299.2 452.9h0M327.8 336.8h0M419.2 42.9h0M436.7 43.5h0M736.8 42.6h0M352.2 57.9h0M351.8 243.6h0M932.6 41.5h0M918.9 41.5h0M346.1 41.7h0M971.1 41.8h0M692.0 41.7h0M582.3 42.9h0M246.8 576.1h0M258.7 525.2h0M255.9 430.6h0M870.5 41.4h0M326.1 457.9h0M860.3 56.7h0M540.3 41.8h0M353.1 77.9h0M313.5 488.7h0M388.2 41.1h0M344.3 287.6h0M442.0 101.0h0M602.2 60.2h0M518.0 42.1h0M625.6 41.8h0M184.2 617.0h0M343.5 468.2h0M359.3 41.1h0M443.1 42.7h0M767.2 41.4h0M188.7 609.2h0M207.8 593.5h0M283.6 530.8h0M312.6 592.9h0M257.1 510.0h0M408.7 59.9h0M411.2 41.2h0M166.2 614.2h0M564.4 41.4h0M459.3 41.3h0M220.7 625.6h0M969.4 44.2h0M741.4 41.3h0M413.7 163.1h0M384.4 277.5h0M656.1 42.5h0M900.2 43.4h0M279.1 448.3h0M480.5 41.8h0M810.1 41.4h0M471.2 118.3h0M952.3 42.6h0M228.6 503.1h0M311.8 201.1h0M201.7 615.6h0M355.7 278.9h0M835.3 41.6h0M472.0 41.2h0M606.0 41.4h0M656.7 42.2h0M217.7 639.9h0M333.2 468.6h0M659.2 41.6h0M742.4 43.0h0M481.9 42.1h0M196.5 419.7h0M887.8 41.5h0M327.6 65.3h0M246.4 563.2h0M339.5 59.9h0M275.7 514.1h0M442.1 42.1h0M327.4 206.2h0M288.1 513.3h0M184.1 581.2h0M690.1 41.0h0M442.6 42.7h0M694.4 41.6h0M887.6 42.3h0M389.9 68.4h0M240.2 457.6h0M189.3 617.8h0M195.8 580.6h0M278.0 541.5h0M180.4 621.2h0M306.9 41.2h0M278.8 427.8h0M598.3 41.1h0M160.6 506.3h0M515.2 133.6h0M792.3 42.4h0M514.0 42.3h0M643.1 41.2h0M245.1 594.1h0M174.8 381.2h0M303.3 512.3h0M847.4 43.0h0M356.7 356.0h0M178.6 435.1h0M568.5 67.8h0M248.3 468.1h0M887.9 41.5h0M516.9 45.0h0M476.3 41.8h0M685.5 41.9h0M511.0 42.3h0M166.2 593.0h0M564.8 42.6h0M325.8 542.8h0M300.2 475.5h0M860.5 42.9h0M927.8 42.1h0M531.8 55.6h0M419.1 157.4h0M469.7 42.0h0M688.2 42.1h0M586.1 41.8h0M958.1 41.1h0M568.6 69.8h0M470.9 49.1h0M965.1 41.2h0M421.7 41.6h0M398.4 41.1h0M166.0 575.5h0M341.0 174.8h0M589.0 41.6h0M710.2 41.5h0M800.5 42.1h0M634.3 41.3h0M442.5 41.4h0M913.9 43.1h0M177.8 638.1h0M440.2 41.0h0M886.1 41.2h0M172.7 486.6h0M593.7 42.8h0M262.7 614.3h0M452.7 43.0h0M882.6 43.1h0M464.7 41.7h0M414.6 41.5h0M677.3 41.8h0M255.2 531.9h0M195.9 509.0h0M224.0 580.6h0M441.0 62.4h0M432.7 42.4h0M727.7 41.2h0M918.5 42.9h0M515.4 42.3h0M646.8 43.3h0M933.1 41.3h0M267.4 605.8h0M390.5 45.7h0M233.8 589.8h0M501.4 41.3h0M715.0 43.3h0M228.2 535.2h0M219.8 574.6h0M384.5 311.5h0M965.8 41.7h0M759.3 45.0h0M747.8 42.0h0M706.4 43.0h0M798.9 41.9h0M828.8 42.1h0M729.6 41.2h0M463.0 229.5h0M500.6 42.1h0M732.7 41.8h0M386.6 411.3h0M386.4 42.4h0M681.8 41.1h0M291.1 489.5h0M790.9 42.9h0M347.3 218.6h0M659.5 42.2h0M176.5 591.8h0M719.7 42.5h0M288.3 514.0h0M778.9 41.0h0M277.8 449.9h0M858.1 41.2h0M302.0 467.2h0M266.7 453.7h0M509.8 41.9h0M371.1 68.5h0M965.7 41.2h0M303.1 41.5h0M299.0 275.4h0M650.0 56.5h0M869.0 42.8h0M633.5 56.6h0M360.0 454.1h0M601.2 42.1h0M429.8 118.2h0M481.8 153.9h0M414.0 41.3h0M511.7 42.3h0M507.5 71.9h0M190.4 609.7h0M642.8 41.6h0M165.7 398.0h0M618.2 50.4h0M650.9 41.4h0M218.4 432.0h0M217.2 578.1h0M629.0 43.0h0M293.8 408.5h0M494.0 72.1h0M272.3 238.9h0M166.3 577.3h0M498.7 42.3h0M721.5 41.2h0M171.9 608.7h0M949.6 41.8h0M798.4 42.0h0M757.1 43.3h0M527.4 42.3h0M556.7 42.1h0M822.9 41.7h0M215.4 601.6h0M824.7 41.6h0M196.4 591.6h0M418.6 219.7h0M533.7 52.2h0M457.1 42.1h0M965.9 42.5h0M310.4 41.5h0M948.1 42.3h0M217.6 412.5h0M537.7 42.7h0M434.5 81.7h0M471.0 41.1h0M893.8 42.4h0M565.0 65.9h0M248.6 638.0h0M977.2 42.4h0M856.0 41.5h0M192.1 424.6h0M528.0 42.7h0M571.5 41.1h0M186.5 375.6h0M174.5 613.1h0M253.7 587.0h0M865.3 41.9h0M194.3 598.3h0M565.8 51.2h0M189.5 599.6h0M498.2 42.2h0M502.0 41.5h0M656.8 42.3h0M873.1 41.7h0M657.1 42.7h0M462.9 41.5h0M307.6 516.8h0M186.2 612.1h0M866.1 41.4h0M487.1 42.2h0M273.9 557.1h0M444.2 53.4h0M336.8 423.5h0M946.5 41.4h0M525.4 42.3h0M289.9 486.0h0M225.8 595.3h0M180.9 635.1h0M961.3 42.4h0M589.9 42.1h0M171.6 437.2h0M199.4 632.4h0M570.5 43.1h0M509.1 56.8h0M627.2 41.8h0M434.2 41.1h0M357.3 524.1h0M291.8 474.7h0M617.6 41.5h0M976.1 41.3h0M290.4 515.5h0M315.6 506.0h0M811.9 42.8h0M523.2 42.3h0M439.6 200.3h0M193.0 525.1h0M624.5 56.2h0M341.6 407.0h0M219.8 487.6h0M254.4 377.0h0M776.6 44.1h0M328.8 241.5h0M275.3 445.8h0M536.2 58.1h0M180.0 481.6h0M829.5 41.5h0M661.4 41.2h0M920.3 41.9h0M512.1 41.1h0M294.4 262.0h0M394.5 41.6h0M496.1 66.0h0M438.9 60.9h0M429.8 42.1h0M665.1 41.6h0M310.8 316.2h0M206.8 626.6h0M584.0 41.1h0M483.1 41.7h0M916.8 41.8h0M818.6 41.3h0M918.2 42.4h0M398.5 173.8h0M481.2 59.2h0M293.9 441.8h0M170.2 585.9h0M653.3 42.5h0M675.2 41.1h0M518.7 41.8h0M212.6 603.2h0M629.4 42.2h0M796.6 42.6h0M420.1 41.1h0M763.1 41.6h0M202.9 629.8h0M348.9 223.2h0M271.4 549.5h0M944.7 42.3h0M676.5 41.8h0M195.5 630.5h0M913.8 41.7h0M266.9 415.7h0M568.0 72.6h0M569.4 41.7h0M315.1 81.8h0M580.3 41.6h0M176.5 617.4h0M654.2 65.5h0M492.6 263.5h0M440.5 161.7h0M539.5 41.8h0M444.9 80.8h0M926.1 43.5h0M234.9 597.6h0M451.5 41.1h0M744.7 41.9h0M209.1 624.3h0M838.8 41.9h0M707.0 41.6h0M418.6 42.3h0M297.5 499.9h0M360.9 220.3h0M350.5 101.3h0M229.5 517.7h0M501.4 42.2h0M532.4 42.2h0M625.3 64.8h0M182.0 520.2h0M171.8 598.4h0M762.0 41.4h0M655.7 77.3h0M627.7 43.6h0M211.7 498.4h0M622.2 41.9h0M437.9 41.7h0M453.0 422.2h0M473.9 42.4h0M436.7 203.1h0M374.1 41.2h0M877.2 42.8h0M255.1 603.6h0M227.7 582.7h0M494.7 41.2h0M657.4 41.7h0M455.1 54.0h0M445.2 41.2h0M848.1 41.5h0M979.7 41.7h0M267.7 375.5h0M332.0 306.8h0M284.2 361.5h0M191.1 573.0h0M323.1 456.4h0M276.3 511.1h0M708.4 42.2h0M169.5 503.7h0M372.7 101.3h0M293.1 519.8h0M806.4 42.9h0M300.7 181.4h0M162.0 581.2h0M362.4 307.6h0M263.9 556.5h0M253.8 506.7h0M323.8 253.3h0M223.8 635.3h0M970.5 41.5h0M238.0 521.9h0M458.2 109.6h0M240.5 509.5h0M814.0 43.3h0M873.4 41.5h0M322.1 62.6h0M547.1 41.7h0M206.6 531.0h0M174.6 407.3h0M342.0 287.7h0M923.9 41.8h0M598.2 42.8h0M426.4 420.6h0M342.5 518.6h0M647.7 41.6h0M280.3 456.1h0M782.9 44.3h0M658.2 79.7h0M637.3 42.9h0M844.4 42.4h0M405.4 49.4h0M474.3 41.0h0M221.4 627.8h0M730.5 41.5h0M177.9 611.0h0M453.7 41.2h0M193.8 583.4h0M629.1 41.3h0M166.8 605.5h0M841.1 43.8h0M646.0 42.1h0M219.8 623.1h0M933.9 42.6h0M327.4 485.5h0M278.5 603.8h0M899.8 41.0h0M881.8 41.2h0M898.9 43.5h0M313.8 265.1h0M465.9 72.7h0M359.2 84.4h0M179.3 576.4h0M285.1 463.5h0M786.5 42.3h0M421.2 213.6h0M196.0 590.1h0M497.4 42.4h0M482.3 41.8h0M430.0 47.6h0M853.6 41.2h0M245.1 377.3h0M511.9 41.6h0M439.5 46.7h0M718.2 42.0h0M503.8 41.6h0M221.1 587.2h0M333.5 549.1h0M975.0 43.9h0M761.1 41.2h0M187.3 573.7h0M214.8 589.4h0M642.1 41.6h0M702.3 41.1h0M815.2 42.6h0M827.1 41.1h0M337.8 388.1h0M181.9 575.2h0M765.4 41.3h0M760.9 42.1h0M492.8 41.3h0M948.5 42.2h0M640.0 41.6h0M195.3 635.5h0M741.6 42.6h0M340.1 214.7h0M319.0 453.8h0M175.8 592.9h0M570.8 42.0h0M976.1 42.4h0M460.6 41.2h0M416.9 42.6h0M394.0 75.2h0M330.1 41.3h0M567.8 41.4h0M385.8 42.3h0M872.8 41.5h0M189.5 599.0h0M297.3 501.8h0M866.1 41.9h0M198.1 486.7h0M170.6 624.0h0M668.1 41.7h0M550.3 42.9h0M269.4 228.6h0M405.9 41.6h0M310.7 472.4h0M586.4 42.2h0M209.1 590.3h0M283.0 597.9h0M743.3 41.3h0M613.3 43.0h0M273.9 574.0h0M164.7 607.1h0M439.6 41.6h0M172.3 591.7h0M966.2 41.6h0M654.0 42.0h0M352.6 46.4h0M166.8 638.5h0M835.9 41.3h0M460.7 41.1h0M198.7 633.2h0M536.9 41.1h0M931.8 41.8h0M231.3 608.9h0M215.5 565.6h0M213.3 596.1h0M329.3 57.5h0M231.7 612.8h0M468.1 41.3h0M916.6 41.5h0M164.6 410.3h0M396.6 64.9h0M777.8 42.1h0M360.8 53.8h0M493.9 41.0h0M234.1 589.8h0M379.1 362.7h0M334.0 377.6h0M895.9 41.2h0M850.1 42.0h0M430.1 41.8h0M969.9 41.0h0M242.3 505.7h0M910.8 41.8h0M444.8 41.1h0M631.8 41.9h0M269.0 534.9h0M978.1 41.2h0M241.3 372.7h0M162.0 434.8h0M171.0 637.9h0M832.8 41.6h0M179.1 582.7h0M889.3 41.6h0M475.4 41.1h0M439.6 131.7h0M456.7 43.0h0M275.9 530.6h0M203.0 387.8h0M436.9 41.7h0M871.3 41.7h0M839.9 42.6h0M331.0 506.6h0M896.6 42.5h0M410.2 41.4h0M423.3 76.4h0M395.1 397.9h0M921.6 41.2h0M430.7 41.8h0M762.7 43.9h0M333.5 447.3h0M737.9 41.1h0M401.3 42.3h0M860.0 43.0h0M868.3 50.6h0M704.1 41.5h0M238.4 507.4h0M436.3 41.1h0M246.7 488.7h0M766.4 42.6h0M455.6 54.5h0M462.0 111.0h0M809.9 41.9h0M679.1 41.8h0M203.4 544.2h0M540.0 42.7h0M666.9 41.3h0M287.7 452.7h0M429.0 65.6h0M176.7 608.8h0M558.0 42.8h0M741.4 41.7h0M180.6 634.7h0M629.7 45.1h0M203.7 458.6h0M283.9 463.4h0M550.3 41.1h0M613.2 44.1h0M425.2 365.0h0M677.3 41.9h0M615.2 41.5h0M451.9 299.9h0M755.2 42.8h0M704.2 41.5h0M804.2 43.3h0M174.4 588.2h0M381.5 42.3h0M363.5 42.8h0M299.9 359.1h0M369.5 357.2h0M512.4 57.3h0M657.2 61.7h0M291.2 314.6h0M227.7 605.2h0M213.2 603.0h0M293.0 466.0h0M195.7 603.4h0M773.1 41.6h0M977.6 43.1h0M883.6 42.7h0M338.6 458.6h0M944.1 41.1h0M870.3 41.9h0M583.2 64.5h0M473.5 41.4h0M685.5 41.6h0M386.1 41.5h0M300.3 455.6h0M262.9 518.2h0M404.6 52.7h0M859.4 41.6h0M977.0 42.4h0M455.9 55.4h0M849.5 47.3h0M450.7 41.3h0M784.6 41.7h0M230.2 554.8h0M200.4 579.5h0M921.9 42.1h0M456.5 42.7h0M194.1 569.2h0M272.7 545.0h0M559.9 41.0h0M528.6 100.3h0M871.0 41.3h0M186.2 446.1h0M272.6 501.2h0M638.8 53.1h0M444.7 121.9h0M569.0 41.8h0M707.0 41.1h0M293.8 316.1h0M293.1 486.5h0M565.3 86.4h0M693.2 42.7h0M449.2 135.5h0M177.5 600.0h0M379.8 45.3h0M916.7 43.1h0M373.1 42.2h0M350.3 177.1h0M962.5 41.6h0M942.1 42.3h0M245.7 620.5h0M187.1 587.9h0M339.2 265.6h0M241.5 582.1h0M713.8 42.7h0M820.0 43.8h0M457.8 445.5h0M171.0 488.0h0M262.0 257.1h0M197.9 394.6h0M535.7 41.6h0M341.3 83.2h0M964.5 47.3h0M867.3 42.7h0M184.3 584.9h0M634.0 42.9h0M290.4 552.2h0M423.3 266.9h0M281.9 490.5h0M895.7 46.9h0M199.5 624.3h0M626.0 41.0h0M699.5 41.4h0M330.9 41.8h0M355.0 180.8h0M772.7 45.5h0M804.2 42.0h0M288.8 498.4h0M466.1 41.2h0M486.9 51.2h0M212.1 420.9h0M691.4 41.6h0M583.2 41.6h0M214.8 599.8h0M199.9 611.9h0M403.8 41.3h0M320.2 484.9h0M640.8 42.6h0M534.6 65.4h0M252.7 438.5h0M884.4 42.0h0M602.3 41.7h0M464.1 42.8h0M174.3 445.8h0M417.1 168.1h0M550.6 42.7h0M859.1 42.7h0M876.3 41.1h0M970.2 41.1h0M612.3 42.1h0M602.7 41.7h0M805.4 43.0h0M653.5 41.7h0M504.4 41.4h0M900.3 41.5h0M342.9 55.1h0M487.9 122.1h0M390.2 42.1h0M961.0 41.7h0M220.0 616.1h0" stroke="#45C785" stroke-width="5.9" stroke-linecap="round" fill="none"/>
<path d="M1241.0 779.8 L1245.0 779.8 L1249.0 779.8 L1253.0 779.8 L1257.0 779.8 L1261.0 779.8 L1265.0 779.8 L1269.0 779.8 L1273.0 779.8 L1277.0 779.8 L1281.0 779.8 L1285.0 779.8 L1289.0 779.8 L1293.0 779.8 L1297.0 779.8 L1301.0 779.8 L1305.0 779.8 L1309.0 779.8 L1313.1 779.8 L1317.1 779.8 L1321.1 779.8 L1325.1 779.8 L1329.1 779.8 L1333.1 779.8 L1337.1 779.8 L1341.1 779.8 L1345.1 779.8 L1349.1 779.8 L1353.1 779.8 L1357.1 779.8 L1361.1 779.8 L1365.1 779.8 L1369.1 779.8 L1373.1 779.8 L1377.1 779.8 L1381.1 779.8 L1385.1 779.8 L1389.1 779.8 L1393.1 779.8 L1397.1 779.8 L1401.1 779.8 L1406.1 779.8 L1410.1 779.8 L1414.1 779.8 L1418.1 779.8 L1422.1 779.8 L1426.1 779.8 L1430.1 779.8 L1434.1 779.8 L1438.1 779.8 L1442.1 779.8 L1446.1 779.8 L1450.2 779.8 L1454.2 779.8 L1458.2 779.8 L1462.2 779.8 L1466.2 779.8 L1470.2 779.8 L1474.2 779.8 L1478.2 779.8 L1482.2 779.8 L1486.2 779.8 L1490.2 779.8 L1494.2 779.8 L1498.2 779.8 L1502.2 779.8 L1506.2 779.8 L1510.2 779.8 L1514.2 779.8 L1518.2 779.8 L1522.2 779.8 L1526.2 779.8 L1530.2 779.8 L1534.2 779.8 L1538.2 779.8 L1542.2 779.8 L1546.2 779.8 L1550.2 779.8 L1554.2 779.8 L1558.2 779.8 L1562.2 779.8 L1566.2 779.8 L1571.2 779.8 L1575.2 779.8 L1579.2 779.8 L1583.2 779.8 L1587.3 779.8 L1591.3 779.8 L1595.3 779.8 L1599.3 779.8 L1603.3 779.8 L1607.3 779.8 L1611.3 779.8 L1615.3 779.8 L1619.3 779.8 L1623.3 779.8 L1627.3 779.8 L1631.3 779.8 L1635.3 779.8 L1639.3 779.8 L1643.3 779.8 L1647.3 779.8 L1651.3 779.8 L1655.3 779.8 L1659.3 779.8 L1663.3 779.8 L1667.3 779.8 L1671.3 779.8 L1675.3 779.8 L1679.3 779.8 L1683.3 779.8 L1687.3 779.8 L1691.3 779.8 L1695.3 779.8 L1699.3 779.8 L1703.3 779.8 L1707.3 779.8 L1711.3 779.8 L1715.3 779.8 L1719.3 779.8 L1723.4 779.8 L1727.4 779.8 L1731.4 779.8 L1736.4 779.8 L1740.4 779.8 L1744.4 779.8 L1748.4 779.8 L1752.4 779.8 L1756.4 779.8 L1760.4 779.8 L1764.4 779.8 L1768.4 779.8 L1772.4 779.8 L1776.4 779.8 L1780.4 779.8 L1784.4 779.8 L1788.4 779.8 L1792.4 779.8 L1796.4 779.8 L1800.4 779.8 L1804.4 779.8 L1808.4 779.8 L1812.4 779.8 L1816.4 779.8 L1820.4 779.8 L1824.4 779.8 L1828.4 779.8 L1832.4 779.8 L1836.4 779.8 L1840.4 779.8 L1844.4 779.8 L1848.4 779.8 L1852.4 779.8 L1856.4 779.8 L1860.5 779.8 L1864.5 779.8 L1868.5 779.8 L1872.5 779.8 L1876.5 779.8 L1880.5 779.8 L1884.5 779.8 L1888.5 779.8 L1892.5 779.8 L1896.5 779.8 L1901.5 779.8 L1905.5 779.8 L1909.5 779.8 L1913.5 779.8 L1917.5 779.8 L1921.5 779.8 L1925.5 779.8 L1929.5 779.8 L1933.5 779.8 L1937.5 779.8 L1941.5 779.8 L1945.5 779.8 L1949.5 779.8 L1953.5 779.8 L1957.5 779.8 L1961.5 779.8 L1965.5 779.8 L1969.5 779.8 L1973.5 779.8 L1977.5 779.8 L1981.5 779.8 L1985.5 779.8 L1989.5 779.8 L1993.5 779.8 L1997.6 779.8 L2001.6 779.8 L2005.6 779.8 L2009.6 779.8 L2013.6 779.8 L2017.6 779.8 L2021.6 779.8 L2025.6 779.8 L2029.6 779.8 L2033.6 779.8 L2037.6 779.8 L2041.6 779.8 L2045.6 779.8 L2049.6 779.8 L2053.6 779.8 L2057.6 779.8 L2062.6 779.8" stroke="#3D24A8" stroke-width="13" fill="none" stroke-linejoin="round"/>
<path d="M1241.0 772.5 L1245.0 772.5 L1249.0 772.5 L1253.0 772.5 L1257.0 772.5 L1261.0 772.5 L1265.0 772.5 L1269.0 772.5 L1273.0 772.5 L1277.0 772.5 L1281.0 772.5 L1285.0 772.5 L1289.1 772.5 L1293.1 772.4 L1297.1 772.4 L1301.1 772.4 L1305.1 772.4 L1309.1 772.4 L1313.1 772.4 L1317.1 772.4 L1321.1 772.4 L1325.1 772.4 L1329.1 772.3 L1333.1 772.3 L1337.1 772.3 L1341.1 772.3 L1345.1 772.3 L1349.1 772.3 L1353.1 772.3 L1357.1 772.2 L1361.1 772.2 L1365.1 772.2 L1369.1 772.2 L1373.1 772.2 L1377.1 772.2 L1381.1 772.1 L1385.2 772.1 L1389.2 772.1 L1393.2 772.1 L1397.2 772.1 L1401.2 772.0 L1405.2 772.0 L1409.2 772.0 L1413.2 772.0 L1417.2 771.9 L1421.2 771.9 L1425.2 771.9 L1429.2 771.9 L1433.2 771.8 L1437.2 771.8 L1441.2 771.8 L1445.2 771.8 L1449.2 771.7 L1453.2 771.7 L1457.2 771.7 L1461.2 771.7 L1465.2 771.6 L1469.2 771.6 L1473.2 771.6 L1477.2 771.5 L1481.3 771.5 L1485.3 771.5 L1489.3 771.4 L1493.3 771.4 L1497.3 771.4 L1501.3 771.4 L1505.3 771.3 L1509.3 771.3 L1513.3 771.3 L1518.3 771.2 L1522.3 771.2 L1526.3 771.1 L1530.3 771.1 L1534.3 771.1 L1538.3 771.0 L1542.3 771.0 L1546.3 771.0 L1550.3 770.9 L1554.3 770.9 L1558.3 770.9 L1562.3 770.8 L1566.3 770.8 L1570.3 770.8 L1574.4 770.7 L1578.4 770.7 L1582.4 770.6 L1586.4 770.6 L1590.4 770.6 L1594.4 770.5 L1598.4 770.5 L1602.4 770.4 L1606.4 770.4 L1610.4 770.4 L1614.4 770.3 L1618.4 770.3 L1622.4 770.2 L1626.4 770.2 L1630.4 770.1 L1634.4 770.1 L1638.4 770.0 L1642.4 770.0 L1646.4 769.9 L1650.4 769.9 L1654.4 769.8 L1658.4 769.7 L1662.4 769.7 L1666.4 769.6 L1670.4 769.5 L1674.4 769.5 L1678.5 769.4 L1682.5 769.3 L1686.5 769.2 L1690.5 769.1 L1694.5 769.0 L1698.5 769.0 L1702.5 768.9 L1706.5 768.8 L1710.5 768.7 L1714.5 768.6 L1718.5 768.5 L1722.5 768.4 L1726.5 768.3 L1730.5 768.2 L1734.5 768.1 L1738.5 767.9 L1742.5 767.8 L1746.5 767.7 L1750.5 767.6 L1754.5 767.5 L1758.5 767.3 L1762.5 767.2 L1766.5 767.1 L1770.5 766.9 L1774.5 766.8 L1778.5 766.6 L1782.5 766.5 L1786.5 766.3 L1790.5 766.2 L1795.5 766.0 L1799.5 765.8 L1803.5 765.6 L1807.5 765.4 L1811.5 765.2 L1815.5 765.1 L1819.5 764.9 L1823.5 764.6 L1827.5 764.4 L1831.5 764.2 L1835.5 764.0 L1839.5 763.7 L1843.5 763.5 L1847.5 763.2 L1851.5 762.9 L1855.5 762.6 L1859.5 762.3 L1863.5 761.9 L1867.5 761.6 L1871.4 761.2 L1875.4 760.9 L1879.4 760.5 L1883.4 760.1 L1887.4 759.6 L1891.4 759.2 L1895.3 758.8 L1899.3 758.3 L1903.3 757.9 L1907.3 757.4 L1911.3 756.9 L1915.2 756.5 L1919.2 756.0 L1923.2 755.5 L1927.1 755.0 L1931.1 754.4 L1935.1 753.9 L1939.1 753.4 L1943.0 752.8 L1947.0 752.2 L1950.9 751.6 L1954.9 751.0 L1958.8 750.4 L1962.8 749.7 L1966.7 749.0 L1970.6 748.2 L1974.6 747.4 L1978.5 746.6 L1982.4 745.6 L1986.2 744.7 L1990.1 743.6 L1993.9 742.5 L1997.7 741.3 L2001.5 740.1 L2005.3 738.7 L2009.0 737.3 L2012.7 735.8 L2016.4 734.2 L2020.0 732.6 L2023.7 730.9 L2027.3 729.2 L2030.8 727.4 L2034.4 725.5 L2037.9 723.6 L2041.4 721.7 L2044.8 719.7 L2048.2 717.6 L2051.6 715.5 L2055.0 713.4 L2058.4 711.2 L2062.6 708.5" stroke="#4565F7" stroke-width="13" fill="none" stroke-linejoin="round"/>
<path d="M1241.0 735.0 L1245.0 735.0 L1249.0 735.0 L1253.0 735.0 L1257.0 735.0 L1261.0 735.0 L1265.0 735.0 L1269.0 734.9 L1273.0 734.9 L1277.0 734.9 L1281.0 734.9 L1285.0 734.9 L1289.0 734.9 L1293.0 734.8 L1297.0 734.8 L1301.0 734.8 L1305.0 734.8 L1309.0 734.7 L1313.0 734.7 L1317.0 734.7 L1321.0 734.7 L1325.0 734.6 L1329.0 734.6 L1333.0 734.6 L1337.0 734.5 L1341.0 734.5 L1345.0 734.4 L1349.0 734.4 L1353.0 734.4 L1357.0 734.3 L1361.0 734.3 L1365.0 734.2 L1369.0 734.2 L1373.0 734.1 L1377.0 734.1 L1381.0 734.0 L1385.0 734.0 L1389.0 733.9 L1393.0 733.9 L1397.0 733.8 L1401.0 733.8 L1405.0 733.7 L1409.0 733.6 L1413.0 733.6 L1417.0 733.5 L1421.0 733.5 L1425.0 733.4 L1429.0 733.3 L1433.0 733.3 L1437.0 733.2 L1441.0 733.1 L1445.0 733.1 L1449.0 733.0 L1453.0 732.9 L1457.0 732.8 L1461.0 732.7 L1465.0 732.6 L1469.0 732.5 L1473.0 732.3 L1477.0 732.2 L1481.0 732.1 L1485.0 731.9 L1489.0 731.7 L1493.0 731.6 L1497.0 731.4 L1501.0 731.2 L1505.0 731.0 L1509.0 730.8 L1513.0 730.6 L1517.0 730.3 L1521.0 730.1 L1525.0 729.8 L1529.0 729.6 L1533.0 729.3 L1538.0 729.0 L1542.0 728.7 L1545.9 728.3 L1549.9 728.0 L1553.9 727.6 L1557.9 727.2 L1561.9 726.8 L1565.8 726.4 L1569.8 725.9 L1573.8 725.3 L1577.7 724.8 L1581.7 724.2 L1585.6 723.5 L1589.6 722.9 L1593.5 722.2 L1597.5 721.5 L1601.4 720.8 L1605.3 720.1 L1609.3 719.3 L1613.2 718.6 L1617.1 717.9 L1621.1 717.2 L1625.0 716.4 L1628.9 715.7 L1632.9 715.0 L1636.8 714.3 L1640.7 713.5 L1644.7 712.8 L1648.6 712.1 L1652.5 711.3 L1656.5 710.5 L1660.4 709.7 L1664.3 708.9 L1668.2 708.0 L1672.1 707.1 L1676.0 706.1 L1679.8 705.1 L1683.7 704.1 L1687.6 703.1 L1691.4 702.0 L1695.2 700.8 L1699.1 699.7 L1702.9 698.5 L1706.7 697.2 L1710.5 696.0 L1714.3 694.7 L1718.0 693.3 L1721.8 692.0 L1725.5 690.6 L1729.3 689.1 L1733.0 687.7 L1736.7 686.2 L1740.4 684.7 L1744.1 683.1 L1747.8 681.6 L1751.4 680.0 L1755.1 678.3 L1758.7 676.7 L1762.4 675.0 L1766.0 673.4 L1769.6 671.6 L1773.2 669.9 L1776.8 668.1 L1780.3 666.3 L1783.9 664.4 L1787.4 662.5 L1790.8 660.5 L1794.3 658.5 L1797.7 656.4 L1801.1 654.3 L1804.4 652.1 L1807.7 649.8 L1811.0 647.6 L1814.2 645.2 L1818.2 642.2 L1821.4 639.8 L1824.5 637.3 L1827.6 634.8 L1830.7 632.2 L1833.7 629.6 L1836.8 627.0 L1839.8 624.4 L1842.7 621.7 L1845.7 619.0 L1848.6 616.3 L1851.5 613.5 L1854.3 610.7 L1857.1 607.9 L1859.9 605.0 L1862.7 602.1 L1865.4 599.1 L1868.0 596.2 L1870.6 593.1 L1873.2 590.1 L1875.7 586.9 L1878.1 583.8 L1880.5 580.6 L1882.9 577.4 L1885.2 574.1 L1887.5 570.8 L1889.7 567.5 L1891.8 564.2 L1893.9 560.8 L1896.0 557.3 L1897.9 553.9 L1899.9 550.4 L1901.7 546.8 L1903.5 543.3 L1905.3 539.7 L1907.0 536.1 L1908.7 532.4 L1910.3 528.8 L1912.0 525.1 L1913.6 521.5 L1915.2 517.8 L1916.8 514.2 L1918.5 510.5 L1920.1 506.9 L1921.7 503.2 L1923.4 499.6 L1925.0 495.9 L1926.7 492.3 L1928.3 488.6 L1929.9 485.0 L1931.5 481.3 L1933.1 477.6 L1934.7 474.0 L1936.3 470.3 L1937.8 466.6 L1939.3 462.9 L1940.7 459.1 L1942.1 455.4 L1943.5 451.6 L1944.8 447.9 L1946.1 444.1 L1947.4 440.3 L1948.6 436.5 L1949.7 432.7 L1950.9 428.8 L1951.9 425.0 L1952.9 421.1 L1953.9 417.2 L1954.9 413.4 L1955.8 409.5 L1956.7 405.6 L1957.6 401.7 L1958.5 397.8 L1959.4 393.9 L1960.2 390.0 L1961.3 385.1 L1962.2 381.2 L1963.1 377.3 L1963.9 373.4 L1964.8 369.5 L1965.7 365.6 L1966.6 361.7 L1967.5 357.8 L1968.4 353.9 L1969.3 350.0 L1970.3 346.1 L1971.2 342.2 L1972.2 338.3 L1973.1 334.4 L1974.1 330.5 L1975.1 326.7 L1976.1 322.8 L1977.0 318.9 L1978.0 315.0 L1979.0 311.1 L1979.9 307.3 L1980.9 303.4 L1981.9 299.5 L1982.9 295.6 L1983.9 291.7 L1984.9 287.9 L1985.9 284.0 L1986.9 280.1 L1987.9 276.2 L1988.9 272.4 L1989.9 268.5 L1991.0 264.7 L1992.0 260.8 L1993.1 256.9 L1994.1 253.1 L1995.2 249.2 L1996.2 245.3 L1997.2 241.5 L1998.1 237.6 L1999.1 233.7 L2000.0 229.8 L2000.8 225.9 L2001.7 222.0 L2002.5 218.1 L2003.4 214.2 L2004.3 210.3 L2005.1 206.4 L2006.1 202.5 L2007.0 198.6 L2008.0 194.7 L2009.1 190.9 L2010.3 187.1 L2011.5 183.3 L2012.8 179.5 L2014.2 175.8 L2015.6 172.1 L2017.2 168.4 L2018.9 164.8 L2020.7 161.3 L2022.6 157.8 L2024.6 154.4 L2026.7 151.0 L2028.9 147.8 L2031.3 144.6 L2033.8 141.6 L2036.4 138.7 L2039.2 135.9 L2042.1 133.3 L2045.1 130.9 L2048.3 128.6 L2051.5 126.4 L2054.9 124.4 L2058.3 122.4 L2062.6 120.1" stroke="#1EAAE0" stroke-width="13" fill="none" stroke-linejoin="round"/>
<path d="M1241.0 701.0 L1245.0 701.0 L1249.0 700.9 L1253.0 700.9 L1257.0 700.8 L1261.0 700.8 L1265.0 700.7 L1269.0 700.7 L1273.0 700.6 L1277.0 700.5 L1281.0 700.4 L1285.0 700.3 L1289.0 700.2 L1293.0 700.1 L1297.0 699.9 L1301.0 699.8 L1305.0 699.6 L1309.0 699.5 L1313.0 699.3 L1317.0 699.1 L1321.0 699.0 L1325.0 698.8 L1329.0 698.6 L1333.0 698.4 L1337.0 698.1 L1341.0 697.9 L1344.9 697.7 L1348.9 697.5 L1352.9 697.2 L1356.9 697.0 L1360.9 696.7 L1364.9 696.4 L1368.9 696.2 L1372.9 695.9 L1376.9 695.6 L1380.9 695.3 L1384.9 695.0 L1388.9 694.7 L1392.8 694.4 L1396.8 694.1 L1400.8 693.7 L1404.8 693.4 L1408.8 693.1 L1412.8 692.7 L1416.8 692.4 L1420.7 692.1 L1424.7 691.7 L1428.7 691.3 L1432.7 690.9 L1436.7 690.5 L1440.7 690.1 L1444.6 689.7 L1448.6 689.2 L1452.6 688.7 L1456.5 688.2 L1460.5 687.6 L1464.4 687.0 L1468.4 686.3 L1472.3 685.6 L1476.2 684.9 L1480.2 684.1 L1484.1 683.3 L1488.0 682.4 L1491.9 681.6 L1495.8 680.7 L1499.7 679.8 L1503.6 678.9 L1507.5 678.0 L1511.4 677.1 L1515.3 676.2 L1519.2 675.3 L1523.1 674.4 L1527.0 673.5 L1530.8 672.5 L1534.7 671.6 L1538.6 670.6 L1542.5 669.5 L1546.3 668.5 L1550.2 667.4 L1554.0 666.2 L1557.8 665.1 L1561.6 663.8 L1565.4 662.5 L1569.2 661.2 L1572.9 659.8 L1576.6 658.4 L1580.3 656.8 L1584.0 655.3 L1587.6 653.6 L1591.2 651.8 L1594.7 650.0 L1598.2 648.1 L1601.6 646.1 L1605.0 644.0 L1608.3 641.8 L1611.6 639.6 L1614.9 637.3 L1618.1 634.9 L1621.3 632.5 L1625.2 629.4 L1628.4 627.0 L1631.5 624.5 L1634.6 622.0 L1637.8 619.5 L1640.9 617.0 L1644.0 614.4 L1647.0 611.9 L1650.1 609.3 L1653.1 606.7 L1656.1 604.0 L1659.0 601.3 L1661.9 598.6 L1664.7 595.7 L1667.5 592.9 L1670.2 590.0 L1672.8 587.0 L1675.4 583.9 L1677.9 580.8 L1680.4 577.7 L1682.7 574.5 L1685.0 571.2 L1687.3 567.9 L1689.5 564.6 L1691.7 561.2 L1693.8 557.9 L1695.8 554.4 L1697.8 551.0 L1699.8 547.5 L1701.7 544.0 L1703.7 540.5 L1705.5 537.0 L1707.3 533.4 L1709.1 529.8 L1710.9 526.2 L1712.6 522.6 L1714.3 519.0 L1715.9 515.4 L1717.5 511.7 L1719.1 508.0 L1720.6 504.3 L1722.1 500.6 L1723.5 496.9 L1724.9 493.1 L1726.3 489.4 L1727.6 485.6 L1728.8 481.8 L1730.0 478.0 L1731.1 474.2 L1732.2 470.3 L1733.2 466.4 L1734.1 462.6 L1735.0 458.7 L1735.9 454.8 L1736.6 450.8 L1737.3 446.9 L1738.0 443.0 L1738.6 439.0 L1739.2 435.1 L1739.7 431.1 L1740.2 427.1 L1740.7 423.2 L1741.2 419.2 L1741.6 415.2 L1742.0 411.3 L1742.5 407.3 L1743.0 403.3 L1743.4 399.3 L1744.0 395.4 L1744.5 391.4 L1745.1 387.5 L1745.7 383.5 L1746.4 379.6 L1747.1 375.6 L1747.8 371.7 L1748.5 367.8 L1749.3 363.8 L1750.1 359.9 L1751.0 356.0 L1751.8 352.1 L1752.7 348.2 L1753.6 344.3 L1754.6 340.4 L1755.5 336.5 L1756.5 332.7 L1757.5 328.8 L1758.5 324.9 L1759.4 321.0 L1760.4 317.2 L1761.4 313.3 L1762.4 309.4 L1763.4 305.5 L1764.4 301.6 L1765.4 297.8 L1766.3 293.9 L1767.3 290.0 L1768.3 286.1 L1769.2 282.2 L1770.4 277.4 L1771.3 273.5 L1772.3 269.6 L1773.2 265.7 L1774.1 261.8 L1775.1 257.9 L1776.0 254.1 L1777.0 250.2 L1778.0 246.3 L1779.1 242.5 L1780.2 238.7 L1781.4 234.9 L1782.7 231.1 L1784.0 227.3 L1785.4 223.6 L1786.9 219.9 L1788.4 216.2 L1789.9 212.5 L1791.4 208.8 L1792.9 205.1 L1794.4 201.4 L1795.9 197.7 L1797.4 194.0 L1799.0 190.3 L1800.5 186.6 L1802.1 183.0 L1803.7 179.3 L1805.5 175.7 L1807.2 172.2 L1809.1 168.6 L1811.1 165.2 L1813.1 161.8 L1815.3 158.5 L1817.6 155.3 L1820.0 152.1 L1822.5 149.1 L1825.2 146.2 L1827.9 143.3 L1830.8 140.6 L1833.8 138.0 L1836.8 135.5 L1840.0 133.1 L1843.2 130.9 L1846.6 128.7 L1850.0 126.7 L1853.4 124.8 L1857.0 122.9 L1860.6 121.2 L1864.2 119.6 L1867.9 118.1 L1871.6 116.6 L1875.3 115.3 L1879.1 114.0 L1882.9 112.8 L1886.7 111.7 L1890.6 110.7 L1894.5 109.8 L1898.4 108.9 L1902.3 108.1 L1906.2 107.4 L1910.1 106.7 L1914.1 106.1 L1918.0 105.5 L1922.0 104.9 L1926.0 104.4 L1929.9 103.9 L1933.9 103.5 L1937.9 103.0 L1941.9 102.6 L1945.8 102.2 L1949.8 101.8 L1953.8 101.5 L1957.8 101.1 L1961.8 100.8 L1965.8 100.5 L1969.8 100.2 L1973.7 99.9 L1977.7 99.6 L1981.7 99.3 L1985.7 99.0 L1989.7 98.8 L1993.7 98.5 L1997.7 98.2 L2001.7 98.0 L2005.7 97.7 L2009.7 97.5 L2013.7 97.2 L2017.7 97.0 L2021.6 96.7 L2025.6 96.5 L2029.6 96.3 L2033.6 96.1 L2037.6 95.9 L2041.6 95.6 L2045.6 95.4 L2049.6 95.2 L2053.6 95.0 L2057.6 94.8 L2062.6 94.6" stroke="#47C984" stroke-width="13" fill="none" stroke-linejoin="round"/>
<path d="M1581.7 779.0h0M1540.7 780.4h0M1380.9 780.6h0M1392.1 780.1h0M1925.4 779.6h0M1899.8 779.9h0M1529.4 779.2h0M1394.5 781.0h0M1625.4 779.6h0M1759.0 780.0h0M1943.0 779.8h0M1888.6 780.1h0M1419.3 779.2h0M1979.6 781.5h0M1542.2 780.4h0M1815.9 781.1h0M1946.5 779.7h0M1650.0 780.0h0M1838.2 780.4h0M1688.6 781.2h0M1347.6 780.1h0M1396.8 780.5h0M2051.2 779.9h0M1368.1 779.6h0M1906.5 781.0h0M1787.2 781.1h0M1973.3 780.2h0M1289.0 781.0h0M1900.9 781.8h0M1746.9 780.7h0M1622.1 780.4h0M1519.5 781.0h0M1686.8 778.5h0M1898.9 780.8h0M2015.8 780.0h0M1698.1 780.1h0M1942.3 780.4h0M1884.2 780.8h0M1656.5 780.3h0M1817.0 779.1h0M1740.7 779.9h0M1533.7 781.6h0M1473.6 781.1h0M1783.0 779.8h0M1885.0 780.5h0M1922.9 780.1h0M1625.1 780.7h0M1691.1 780.3h0M1980.9 780.5h0M1465.4 780.1h0M1973.4 779.6h0M1964.0 780.7h0M1904.3 780.4h0M1593.2 780.3h0M1922.2 780.7h0M1713.1 780.0h0M1854.7 779.3h0M1925.2 780.5h0M1993.2 781.3h0M1788.6 779.8h0M1452.4 780.1h0M1738.6 779.4h0M1558.0 780.0h0M1710.0 780.1h0M2031.5 779.2h0M1352.5 780.6h0M1976.1 780.9h0M1818.9 780.0h0M1928.8 779.7h0M1852.1 779.8h0M1792.0 779.3h0M1675.4 780.2h0M1658.8 780.5h0M1423.9 779.9h0M1672.1 780.1h0M1284.3 780.7h0M1518.6 780.2h0M1387.7 781.4h0M2054.5 780.4h0M1944.0 780.1h0M1796.2 779.8h0M1786.6 780.2h0M1605.1 780.2h0M1624.5 781.2h0M1848.3 780.2h0M1666.4 781.0h0M1860.2 780.3h0M1263.7 780.0h0M1417.0 779.9h0M1622.9 780.7h0M1724.2 780.2h0M2043.0 780.7h0M1727.9 779.6h0M1839.9 780.5h0M1799.4 781.5h0M1946.5 780.6h0M1274.4 779.9h0M1432.1 781.3h0M2008.2 779.5h0M1710.1 779.6h0M1984.9 780.0h0M1555.1 779.7h0M1649.9 780.7h0M1248.4 780.1h0M1729.0 780.6h0M1853.8 779.8h0M1551.2 780.3h0M1583.5 779.8h0M1242.1 779.4h0M1602.1 779.9h0M1456.8 779.6h0M2009.9 780.9h0M1416.2 779.1h0M1946.6 779.0h0M1784.1 779.9h0M1825.6 780.4h0M1947.6 780.3h0M1288.7 780.3h0M1624.0 780.3h0M1837.5 780.0h0M1375.0 780.4h0M1244.4 780.1h0M1756.3 780.2h0M1585.3 780.3h0M1387.7 780.1h0M1522.8 780.6h0M1583.6 779.7h0M1435.6 780.4h0M1903.7 781.0h0M1826.1 780.7h0M1268.4 780.6h0M2010.3 780.3h0M1782.0 780.7h0M1930.2 780.3h0M1498.8 780.0h0M1705.5 780.2h0M1247.2 780.8h0M1564.4 780.1h0M1683.2 781.1h0M1551.3 780.8h0M1335.0 780.4h0M1979.9 780.2h0M1476.5 778.9h0M1298.7 780.5h0M1838.3 780.1h0M1549.9 780.6h0M1287.8 780.4h0M1733.9 780.3h0M1744.6 780.7h0M1449.8 779.4h0M1726.0 779.2h0M1882.5 781.0h0M1715.9 778.8h0M1696.1 780.3h0M1719.9 781.4h0M2056.7 780.8h0M1756.1 781.1h0M1900.2 779.4h0M1505.8 780.4h0M1377.3 780.9h0M1844.5 780.5h0M1514.0 780.0h0M1355.9 780.5h0M1450.8 780.1h0M1854.5 779.5h0M2002.6 780.4h0M1574.7 779.8h0M1242.8 780.7h0M1377.5 779.0h0M1294.5 780.1h0M1764.8 779.9h0M1792.4 780.9h0M1946.9 780.8h0M1782.5 779.4h0M1407.4 780.8h0M1969.8 780.0h0M1756.6 781.7h0M1731.7 780.4h0M1446.8 780.2h0M2049.6 779.9h0M1410.6 780.0h0M1667.1 780.4h0M1561.8 780.1h0M2046.9 779.7h0M1958.2 780.1h0M1429.8 779.7h0M1406.6 780.3h0M1396.1 781.0h0M2060.8 779.9h0M1970.5 779.7h0M1620.1 780.7h0M1307.4 779.8h0M1930.0 780.7h0M1525.6 780.3h0M1580.8 779.5h0M1738.4 779.5h0M1840.1 780.3h0M1590.8 780.3h0M1917.4 781.2h0M1986.5 780.2h0M1816.6 781.0h0M1552.1 779.6h0M1626.8 779.7h0M2045.5 780.4h0M1613.1 779.8h0M1668.5 780.1h0M1654.0 780.5h0M2010.1 779.9h0M1479.9 779.2h0M1444.6 781.3h0M1695.5 780.1h0M1501.8 779.3h0M1534.7 780.2h0M1515.3 780.3h0M1809.8 779.7h0M1425.0 780.4h0M1819.7 780.5h0M1244.5 781.5h0M1351.0 781.4h0M1598.9 780.0h0M2047.5 780.2h0M1314.7 779.4h0M1833.9 780.1h0M1834.4 780.0h0M1771.0 780.1h0M1647.0 778.0h0M1389.7 779.2h0M1242.5 779.3h0M1690.0 779.9h0M1853.2 781.4h0M1865.1 779.4h0M1988.2 780.4h0M1831.2 780.2h0M1353.1 780.2h0M1631.1 780.9h0M1370.4 780.2h0M1908.9 779.8h0M1317.1 780.1h0M2022.3 780.1h0M1376.4 780.3h0M1753.3 781.0h0M1960.0 779.9h0M1440.1 780.0h0M2010.7 780.0h0M1882.3 779.9h0M1700.3 780.5h0M1494.6 778.9h0M1452.4 779.7h0M1662.0 780.9h0M1267.8 780.3h0M1582.4 781.1h0M1581.1 779.4h0M1386.3 780.6h0M1740.2 780.8h0M1282.2 780.5h0M1956.8 780.3h0M1571.2 780.1h0M1935.9 779.6h0M1589.1 779.7h0M1879.8 780.8h0M1461.3 780.0h0M1487.6 779.6h0M1471.4 780.3h0M1828.0 780.4h0M1415.2 780.5h0M1459.1 779.6h0M1408.8 780.1h0M1541.3 779.9h0M1981.1 780.0h0M1710.6 779.7h0M1606.3 780.6h0M1360.7 780.2h0M1837.3 780.0h0M1526.2 781.0h0M1464.9 780.1h0M1374.9 780.8h0M1808.7 780.7h0M1400.8 781.1h0M1884.1 780.2h0M2018.8 780.7h0M1447.3 779.8h0M1648.4 780.9h0M1865.8 780.4h0M1326.0 780.2h0M1664.5 780.5h0M1696.7 780.6h0M1744.9 781.1h0M1733.7 779.1h0M1427.4 781.1h0M1500.1 780.9h0M1585.3 779.6h0M1330.7 778.2h0M1538.9 781.2h0M1546.4 781.1h0M2060.5 779.6h0M1768.2 779.7h0M1473.2 781.4h0M1568.4 779.6h0M1554.6 780.3h0M1735.0 779.9h0M1602.7 779.5h0M1927.6 779.4h0M1269.2 780.6h0M1738.0 780.2h0M1659.5 780.2h0M1908.5 781.3h0M1256.3 780.2h0M1243.5 780.2h0M1932.8 779.8h0M1976.5 780.6h0M1287.8 780.0h0M1342.6 780.4h0M1390.0 780.5h0M1502.8 779.6h0M1953.6 780.6h0M1241.4 780.1h0M1352.8 780.4h0M1807.4 780.6h0M1584.1 779.4h0M1401.0 779.7h0M1801.9 779.4h0M1667.7 780.3h0M1609.5 780.2h0M1241.7 780.0h0M1244.2 780.3h0M1626.3 780.7h0M1884.8 780.8h0M1840.2 780.3h0M1287.2 779.7h0M1376.5 779.1h0M1569.5 779.9h0M1893.6 779.7h0M1871.8 779.8h0M1949.1 780.7h0M1820.3 779.9h0M2011.6 781.0h0M1264.4 779.7h0M1762.4 780.7h0M2035.4 780.0h0M1995.4 780.0h0M1303.0 780.0h0M1606.5 780.2h0M1947.1 779.8h0M1889.1 780.2h0M1319.9 780.3h0M1580.4 779.9h0M1485.8 780.2h0M1737.0 780.0h0M1533.1 780.0h0M1242.7 780.6h0M1829.0 780.3h0M1756.5 780.1h0M1782.2 780.7h0M1915.9 779.5h0M1455.0 780.4h0M1913.8 780.6h0M1836.8 780.2h0M1790.0 780.0h0M1415.3 779.8h0M1705.6 779.9h0M1467.3 780.6h0M1287.7 780.5h0M1697.9 780.9h0M1867.7 779.8h0M1715.5 780.0h0M1613.1 781.5h0M1924.7 780.3h0M1921.5 779.7h0M1302.4 780.9h0M1996.8 780.1h0M1630.9 780.4h0M1243.3 779.2h0M1642.6 780.6h0M1630.2 780.2h0M1625.5 780.0h0M2038.0 780.4h0M1338.4 780.2h0M2032.7 780.6h0M1743.8 779.6h0M1288.8 780.3h0M1943.3 780.3h0M1483.8 780.4h0M1581.3 779.4h0M1995.3 780.0h0M1829.1 780.6h0M1661.9 780.2h0M1447.3 779.7h0M1299.6 780.9h0M1984.9 780.6h0M1263.2 779.7h0M1669.4 779.6h0M1929.8 781.5h0M1626.0 780.7h0M1575.1 780.1h0M1644.8 780.5h0M1704.9 781.1h0M1369.5 781.4h0M1669.6 780.5h0M1545.7 779.5h0M1830.9 779.9h0M1791.8 778.8h0M1993.2 780.0h0M1333.8 779.7h0M1858.0 781.1h0M1359.0 780.3h0M1450.0 779.4h0M1778.5 779.7h0M1393.2 780.3h0M1314.0 779.5h0M1624.0 779.6h0M1926.1 780.6h0M1266.8 780.4h0M1304.2 779.5h0M1471.7 780.3h0M1918.3 779.4h0M2014.9 780.2h0M1672.1 780.6h0M1962.2 780.4h0M1982.4 779.2h0M1835.8 779.7h0M1417.8 779.5h0M1614.8 779.1h0M2040.8 778.8h0M1265.9 780.7h0M1761.5 780.5h0M1929.2 780.5h0M1372.6 779.2h0M1349.3 780.6h0M1820.8 780.2h0M2026.3 780.6h0M1362.4 780.0h0M1963.5 781.3h0M1641.2 780.1h0M1316.0 780.5h0M1576.7 780.1h0M1612.2 779.7h0M1520.7 778.8h0M2049.3 780.2h0M1548.1 780.1h0M1343.1 779.8h0M1868.5 780.2h0M1643.8 779.7h0M1593.2 781.3h0M1283.9 780.7h0M1283.6 780.5h0M1917.8 779.8h0M1853.6 779.3h0M1365.8 780.0h0M1718.9 780.2h0M1789.1 780.1h0M1938.8 781.0h0M1646.2 781.0h0M1849.9 780.2h0M1728.1 780.8h0M1682.1 780.5h0M1995.4 780.7h0M1353.7 779.6h0M1910.3 780.2h0M1319.2 780.6h0M1491.3 779.6h0M1999.0 780.4h0M1551.9 780.4h0M1785.9 780.7h0M1642.8 779.7h0M1740.7 779.8h0M1571.9 780.1h0M1366.5 779.9h0M1421.2 780.7h0M1549.8 780.1h0M1968.9 782.0h0M1975.3 780.2h0M1516.1 779.6h0M1476.7 780.9h0M1959.3 781.3h0M1296.7 779.9h0M1879.5 780.2h0M2018.2 780.3h0M1964.8 779.6h0M1390.7 780.5h0M2010.9 780.6h0M1654.5 780.5h0M1682.4 780.5h0M1247.4 780.6h0M1694.0 780.3h0M1584.1 779.7h0M1912.6 781.3h0M1771.3 780.2h0M1606.8 780.5h0M2022.8 779.5h0M1486.8 781.4h0M1995.5 779.8h0M1901.7 779.2h0M1424.3 779.4h0M1560.5 780.6h0M1885.7 779.8h0M1585.2 780.5h0M1615.7 780.3h0M1364.4 780.3h0M1642.0 779.8h0M1592.5 780.1h0M1961.6 780.3h0M1517.5 779.9h0M2032.0 780.1h0M1461.1 780.4h0M1805.9 779.5h0M1349.1 780.6h0M1456.6 781.0h0M1761.1 780.2h0M1790.3 780.4h0M1291.4 780.8h0M1570.2 780.4h0M1453.4 780.1h0M1336.7 779.5h0M1270.5 779.8h0M1493.6 779.1h0M1564.0 780.4h0M2017.6 779.6h0M1290.5 779.8h0M1772.5 780.4h0M1395.2 779.7h0M1793.7 780.6h0M1547.1 780.4h0M1580.0 781.0h0M1378.6 780.9h0M1865.0 781.3h0M1769.3 779.5h0M1281.5 779.9h0M2028.5 780.1h0M1787.1 779.5h0M1852.6 779.6h0M1455.2 779.5h0M1766.1 779.8h0M2052.5 779.6h0M1945.0 779.6h0M1282.4 780.6h0M1402.9 781.3h0M1439.6 781.3h0M1909.8 779.6h0M1352.6 779.6h0M1760.3 780.0h0M2010.5 781.5h0M1966.0 779.8h0M1783.6 779.5h0M1385.9 779.9h0M1560.5 781.2h0M1720.8 780.8h0M1456.6 781.0h0M1347.1 780.3h0M1997.0 780.3h0M1945.5 781.2h0M1411.4 780.8h0M1851.6 781.0h0M1333.2 779.6h0M1649.2 780.0h0M1288.5 780.2h0M1959.3 781.4h0M1828.6 780.9h0M1569.1 780.3h0M2031.1 779.4h0M1974.0 780.0h0M1385.5 780.5h0M1356.2 780.8h0M1616.6 781.3h0M1283.5 780.6h0M1308.2 780.5h0M1635.2 780.1h0M1905.7 780.0h0M1332.1 782.3h0M1887.4 779.4h0M1738.9 780.3h0M1432.5 780.3h0M1772.0 780.0h0M1393.8 778.4h0M2020.8 779.6h0M1707.3 780.2h0M1852.6 780.2h0M1794.8 780.6h0M1394.4 780.1h0M1499.6 779.3h0M1974.2 780.1h0M2020.2 779.1h0M1346.1 781.2h0M1521.9 779.7h0M1348.4 780.5h0M1526.8 780.1h0M1851.9 780.2h0M2035.3 780.7h0M1279.1 780.7h0M1724.9 780.2h0M2062.1 780.0h0M1811.7 779.2h0M1382.7 779.6h0M1385.2 780.7h0M1957.5 780.4h0M1937.1 779.7h0M1642.5 780.4h0M1261.1 781.3h0M1794.6 779.7h0M2040.3 780.2h0M1907.3 780.2h0M1710.9 780.0h0M1997.0 779.3h0M1926.8 780.5h0M1754.8 780.8h0M1556.6 779.8h0M1499.2 780.7h0M1981.5 779.8h0M1470.0 780.5h0M1670.2 780.2h0M1825.9 780.3h0M1243.9 779.8h0M1457.3 780.3h0M1966.0 779.4h0M1414.7 779.8h0M1857.5 781.1h0M1418.2 779.8h0M1523.8 780.4h0M1246.6 779.8h0M2001.3 780.2h0M1596.0 780.2h0M1699.1 779.5h0M2026.8 780.8h0M1571.7 780.6h0M1727.9 780.7h0M1827.9 779.9h0M1856.4 779.9h0M1451.1 781.0h0M1279.1 779.9h0M1814.3 781.5h0M1826.1 780.1h0M2008.3 780.6h0M1368.3 780.4h0M1726.5 780.0h0M1966.8 780.8h0M1351.0 779.9h0M1341.7 780.5h0M1861.7 779.4h0M1675.0 779.9h0M1785.5 781.4h0M1592.8 781.1h0M1507.3 780.4h0M1327.6 780.1h0M1899.2 780.5h0M1393.6 779.4h0M1399.7 780.7h0M1337.9 780.2h0M1288.1 780.7h0M1686.1 781.2h0M1936.9 781.3h0M1781.6 780.4h0M1410.8 780.1h0M2033.0 781.3h0M1327.4 781.4h0M1458.4 778.8h0M1689.7 780.7h0M1542.3 779.4h0M1406.3 780.6h0M1999.5 780.2h0M1995.9 780.3h0M1479.0 780.6h0M1279.5 779.7h0M1946.9 781.2h0M1581.5 780.0h0M1280.0 779.7h0M1278.4 779.5h0M1594.0 779.2h0M1808.8 779.2h0M1384.1 780.5h0M1491.4 780.4h0M1292.0 780.6h0M1271.8 780.1h0M1369.7 779.3h0M1747.9 779.9h0M1812.1 780.5h0M1469.1 780.1h0M1883.3 780.3h0M1569.4 781.1h0M1449.3 780.4h0M1298.0 781.2h0M1251.0 780.7h0M1394.4 780.1h0M1510.4 780.8h0M1739.5 780.1h0M1333.7 781.1h0M1382.7 780.3h0M1598.4 780.5h0M1395.8 779.5h0M1354.7 779.0h0M1267.2 779.9h0M1562.7 779.6h0M1953.3 780.2h0M1871.4 781.1h0M1307.8 781.3h0M1290.3 780.0h0M1929.1 780.1h0M1270.3 780.8h0M1663.0 779.9h0M2056.5 780.3h0M1743.9 780.9h0M1902.1 780.5h0M1387.1 779.8h0M1553.9 780.0h0M1880.1 779.8h0M2013.8 780.5h0M1638.4 779.8h0M1965.6 779.3h0M1825.3 780.5h0M1531.8 779.7h0M1697.8 780.7h0M2056.7 780.5h0M1791.5 780.6h0M1263.7 779.9h0M1986.7 780.0h0M1976.9 780.0h0M1907.3 780.9h0M1372.5 779.9h0M1756.7 779.7h0M1726.1 779.9h0M1990.9 780.4h0M1718.5 780.2h0M1714.3 780.7h0M1666.4 779.4h0M1543.2 780.8h0M1575.8 779.9h0M2034.1 780.5h0M1776.1 780.3h0M1631.8 780.5h0M1962.8 779.5h0M1891.3 780.9h0M1694.7 779.5h0M1429.6 780.2h0M1816.7 779.8h0M1868.9 781.8h0M1500.2 779.9h0M1994.8 779.8h0M1524.3 780.0h0M1286.8 780.3h0M1529.8 780.7h0M2026.9 780.3h0M1324.4 780.9h0M1242.1 780.8h0M1898.3 779.9h0M1610.7 780.5h0M1657.4 780.9h0M1715.4 780.2h0M1697.7 781.5h0M1316.3 779.6h0M1699.5 781.3h0M1696.8 779.8h0M1679.0 780.0h0M1269.0 779.5h0M1551.6 779.8h0M1258.0 779.8h0M1898.5 779.8h0M1295.6 781.2h0M1877.8 780.4h0M1799.4 780.4h0M1358.9 779.1h0M1549.7 780.4h0M1701.4 780.5h0M1879.9 779.3h0M1316.4 781.1h0M1731.1 780.2h0M1923.4 780.2h0M2047.6 780.9h0M1422.1 780.2h0M1988.0 780.1h0M1533.4 780.8h0M2047.5 780.9h0M1725.4 779.9h0M1475.3 781.2h0M1851.1 780.3h0M1434.4 780.0h0M1640.5 780.0h0M1914.0 780.6h0M1953.7 780.2h0M1802.3 781.2h0M1541.0 780.8h0M1621.1 780.3h0M1286.6 780.0h0M1454.5 780.0h0M1446.7 780.4h0M1921.8 780.8h0M1380.8 779.1h0M2043.4 779.9h0M2010.1 780.4h0M1642.7 780.1h0M1816.2 781.1h0M1243.9 779.4h0M1902.2 780.2h0M2004.3 779.5h0M1829.7 779.9h0M1959.7 779.9h0M1641.8 779.5h0M1340.3 779.8h0M1641.4 780.7h0M1378.6 780.3h0M1254.0 779.9h0M1942.8 780.0h0M1788.6 779.8h0M2014.9 780.2h0M1446.6 779.5h0M1401.0 780.5h0M1514.9 779.9h0M1754.7 779.6h0M1541.2 780.4h0M2045.8 780.6h0M1507.7 779.9h0M1987.6 780.4h0M1586.6 779.8h0M1807.3 778.9h0M2000.1 780.5h0M1250.9 780.8h0M1392.8 780.3h0M1310.0 780.8h0M1717.0 780.2h0M1361.1 779.3h0M1352.1 780.6h0M1408.6 779.5h0M1388.0 780.9h0M1380.0 781.1h0M1464.7 779.5h0M1714.6 780.2h0M1594.9 779.8h0M1990.3 780.1h0M1468.8 779.7h0M1341.8 780.5h0M1932.3 780.1h0M1609.1 780.1h0M1419.3 780.0h0M1327.3 780.4h0M1535.5 780.1h0M1868.0 780.2h0M1469.2 779.4h0M1871.3 779.6h0M1326.7 780.3h0M1414.4 780.7h0M1585.8 780.3h0M1670.5 780.3h0M1591.7 779.1h0M1580.7 780.1h0M2047.3 781.6h0M1538.8 780.4h0M2055.7 779.5h0M1447.2 780.2h0M1667.6 780.1h0M2003.6 779.8h0M1588.8 780.3h0M1388.4 779.6h0M1353.5 780.8h0M1563.3 780.4h0M1617.1 780.2h0M1464.0 780.5h0M1667.3 779.9h0M1303.2 780.2h0M1558.1 779.4h0M1417.0 779.9h0M1603.5 780.3h0M2002.2 780.1h0M1297.7 779.9h0M1940.1 780.0h0M1522.7 780.1h0M1899.0 780.1h0M1964.8 779.5h0M2011.1 781.4h0M1620.1 780.5h0M1878.5 780.4h0M1495.2 780.5h0M1730.5 780.8h0M2013.1 780.6h0M1372.2 779.4h0M1604.4 780.1h0M1244.5 780.8h0M1665.8 779.5h0M1646.8 780.8h0M1574.0 780.0h0M1421.2 779.5h0M1400.2 780.6h0M1408.0 780.8h0M1669.3 779.4h0M1544.3 781.0h0M1378.1 780.3h0M1749.7 780.4h0M1622.9 780.5h0M1267.2 779.8h0M1885.2 779.6h0M1322.0 779.8h0M2041.5 780.1h0M1478.6 779.9h0M1644.4 781.4h0M1383.3 780.4h0M1707.6 779.6h0M1998.3 780.0h0M1544.9 781.2h0M1799.5 780.4h0M1728.9 779.7h0M2050.6 781.2h0M1784.1 781.9h0M1801.6 780.6h0M1456.5 779.7h0M1779.2 779.5h0M1422.9 779.9h0M1460.4 780.1h0M1387.0 779.6h0M1268.5 779.6h0M1759.7 780.2h0M1428.3 780.4h0M1505.8 779.3h0M1369.3 780.6h0M2014.0 781.2h0M1786.2 779.8h0M1782.3 779.0h0M1947.9 780.8h0M2012.7 779.4h0M2017.7 780.0h0M1257.5 780.2h0M1579.3 780.0h0M1912.8 780.6h0M1517.1 781.1h0M1752.6 779.9h0M1590.4 780.6h0M1314.1 779.4h0M1437.2 779.7h0M1590.0 780.9h0M1800.4 780.7h0M1678.6 779.9h0M1393.0 780.1h0M1523.0 780.1h0M1484.1 779.3h0M1838.4 779.3h0M1806.2 781.3h0M1572.3 780.8h0M1592.9 780.2h0M2050.5 780.1h0M1929.3 779.1h0M1939.1 779.6h0M1910.6 779.8h0M1914.8 779.3h0M1339.4 780.4h0M1399.7 780.0h0M2022.9 780.0h0M1276.4 781.5h0M1687.1 779.9h0M1957.0 780.4h0M1555.8 780.2h0M2020.1 781.2h0M1857.6 779.9h0M1662.6 779.0h0M1463.9 780.4h0M1974.8 779.9h0M1533.4 780.5h0M1485.4 780.1h0M1988.6 780.3h0M1866.1 779.6h0M1644.7 780.0h0M1820.5 780.7h0M1803.6 780.0h0M1588.7 779.9h0M1267.2 780.0h0M1486.5 779.7h0M1247.5 780.3h0M1890.8 779.9h0M1708.4 781.2h0M1597.5 780.3h0M1253.2 780.4h0M1538.9 780.2h0M1472.9 780.8h0M1845.6 779.5h0M1248.0 779.4h0M1708.3 780.0h0M1546.7 780.8h0M1828.7 779.4h0M1290.0 780.5h0M1425.5 780.9h0M2025.2 781.5h0M1684.4 779.4h0M1317.9 780.4h0M1358.5 779.5h0M1411.1 781.4h0M1591.5 780.0h0M1253.3 780.2h0M1747.1 779.9h0M1629.1 779.9h0M1320.9 780.7h0M1411.8 780.0h0M1588.9 780.9h0M1435.4 779.0h0M1802.6 780.2h0M1570.5 779.4h0M1942.9 779.8h0M1456.5 780.1h0M1920.6 779.9h0M2017.6 780.4h0M1572.1 780.2h0M1993.0 779.8h0M1698.7 779.4h0M1753.5 780.1h0M1712.1 779.2h0M1579.4 779.4h0M1378.0 779.7h0M1579.8 781.8h0M1428.0 780.9h0M1818.8 779.8h0M1848.3 778.9h0M1496.2 780.8h0M1789.2 780.3h0M1335.3 780.8h0M1740.0 779.6h0M1891.6 779.6h0M2003.1 780.7h0M1698.8 780.5h0M1527.5 780.0h0M1557.6 780.1h0M1429.1 779.8h0M1362.8 781.2h0M1299.2 780.4h0M1426.5 779.9h0M1944.5 780.5h0M1865.6 780.3h0M1324.6 780.7h0M1604.2 780.6h0M1299.9 780.7h0M1323.5 779.8h0M1608.7 780.6h0M1351.5 779.6h0M1506.4 780.0h0M1713.6 779.8h0M1504.2 779.7h0M2062.0 779.9h0M1260.2 779.6h0M1845.0 780.2h0M1843.8 780.8h0M1609.1 779.9h0M1288.8 780.8h0M1472.4 780.0h0M1472.4 780.8h0M1605.9 780.9h0M1842.5 780.5h0M1979.0 780.3h0M1708.4 780.7h0M1488.5 779.5h0M1752.4 780.1h0M1521.8 779.5h0M1584.2 780.4h0M1898.1 781.3h0M1486.2 781.8h0M1281.2 779.9h0M1867.4 779.4h0M1713.6 780.6h0M1538.8 780.5h0M2007.5 780.3h0M1478.5 781.1h0M1296.4 780.8h0M1554.4 780.8h0M1705.6 780.5h0M1910.5 779.5h0M1609.1 780.4h0M1438.6 780.5h0M1375.2 780.4h0M1456.3 780.5h0M2020.1 780.3h0M1936.6 780.2h0M2028.6 779.9h0M1796.7 780.2h0M2018.5 780.0h0M1872.4 780.2h0M1841.2 780.0h0M1705.0 780.1h0M1333.0 780.9h0M1682.6 780.7h0M1676.3 780.6h0M1404.2 781.2h0M2031.7 780.0h0M1310.0 780.7h0M1412.8 779.2h0M1502.2 779.6h0M1595.1 779.5h0M1345.8 780.0h0M1570.0 779.7h0M1498.3 779.9h0M1656.6 780.6h0M1999.8 779.9h0M1597.5 780.1h0M1344.8 779.6h0M1378.8 779.6h0M1541.0 780.7h0M1652.1 780.4h0M1569.8 780.1h0M1597.3 780.1h0M1261.9 781.3h0M1660.2 780.5h0M2021.1 779.8h0M1511.3 779.4h0M1387.7 780.5h0M1577.8 780.6h0M1550.3 780.1h0M1788.3 779.9h0M1730.2 780.5h0M1483.9 780.3h0M1754.4 780.1h0" stroke="#000" stroke-width="5.9" stroke-linecap="round" fill="none"/>
<path d="M1836.7 756.4h0M2007.0 734.3h0M1787.0 758.6h0M2039.7 729.8h0M1340.2 764.2h0M1970.1 738.3h0M1991.8 734.1h0M2005.7 732.9h0M1974.6 738.1h0M2049.7 729.8h0M1729.6 758.7h0M1906.0 748.1h0M1897.4 748.0h0M1596.9 765.2h0M2047.3 730.7h0M1680.7 762.3h0M1552.5 763.3h0M1378.8 766.6h0M1960.3 742.1h0M1991.3 735.3h0M1933.4 746.4h0M1262.8 765.0h0M1926.5 747.8h0M1415.7 764.4h0M1259.1 764.6h0M1817.0 756.2h0M1863.0 755.1h0M1895.3 752.2h0M1730.3 760.0h0M1445.2 764.6h0M1731.1 762.4h0M1402.1 763.9h0M1571.5 766.2h0M1886.7 752.3h0M1826.5 757.7h0M1687.9 763.7h0M1774.2 759.7h0M1690.6 763.2h0M1958.1 738.1h0M1603.5 763.5h0M1864.6 752.9h0M1510.7 761.5h0M1310.7 763.5h0M1987.0 737.6h0M1352.2 763.2h0M1341.9 764.1h0M1535.9 763.7h0M1974.3 738.5h0M1317.5 766.5h0M1330.4 763.7h0M1494.0 763.3h0M1648.0 764.9h0M2013.2 732.2h0M1650.1 763.4h0M1693.7 761.6h0M1985.9 737.9h0M1649.8 763.7h0M1414.4 764.7h0M1346.4 762.1h0M1379.5 762.5h0M1757.5 759.5h0M1826.8 757.8h0M1462.1 763.5h0M1786.6 758.5h0M1832.8 756.0h0M1328.3 766.6h0M1435.4 765.0h0M1593.9 765.8h0M1739.2 761.1h0M1909.0 747.0h0M1591.0 764.5h0M1673.3 762.8h0M2022.0 732.0h0M1796.4 757.3h0M1256.9 767.2h0M1968.4 739.4h0M2007.7 735.9h0M1796.9 756.8h0M1595.6 763.8h0M1775.3 759.0h0M1480.1 767.3h0M1967.0 739.7h0M1875.0 753.4h0M2044.1 730.1h0M1793.9 758.2h0M1973.5 736.4h0M1996.0 733.3h0M1955.3 741.0h0M1466.5 764.8h0M1709.5 759.5h0M1851.5 752.6h0M1247.3 763.7h0M1682.1 761.3h0M1395.1 764.3h0M1287.5 763.0h0M1917.6 747.1h0M1453.0 762.1h0M1902.8 750.3h0M1978.2 738.2h0M2018.8 732.6h0M1976.8 737.4h0M1998.6 735.1h0M2033.5 731.8h0M1767.1 760.0h0M1693.6 761.5h0M1558.3 763.4h0M1500.5 763.7h0M1490.1 764.8h0M1676.0 763.1h0M1412.6 767.6h0M1625.7 763.6h0M1467.7 766.3h0M1876.0 752.1h0M1700.7 760.9h0M1926.2 747.1h0M1725.9 760.9h0M1818.1 757.9h0M1680.1 762.0h0M1249.2 763.8h0M1857.9 753.9h0M1322.8 766.4h0M2031.2 732.4h0M1687.1 762.4h0M1320.3 765.6h0M1468.2 763.7h0M2008.4 732.8h0M1863.4 755.1h0M1290.6 763.2h0M1765.3 757.4h0M1556.1 766.4h0M1408.3 766.4h0M1333.1 762.8h0M1708.3 760.4h0M2060.1 728.8h0M1726.7 759.8h0M1674.9 762.3h0M2012.3 734.4h0M2015.2 732.5h0M1745.4 758.4h0M2015.7 731.9h0M1274.5 761.5h0M1886.2 751.8h0M1890.0 752.3h0M1255.2 764.2h0M1848.5 751.4h0M1528.6 766.4h0M1251.3 765.7h0M1272.7 767.6h0M1748.4 763.0h0M1621.6 764.6h0M1733.2 757.2h0M1935.5 745.7h0M1771.4 755.5h0M1264.7 762.9h0M1869.7 753.1h0M1384.7 765.3h0M1973.0 738.7h0M1332.2 766.6h0M1910.5 745.3h0M1509.3 762.4h0M1370.8 765.0h0M1480.6 763.8h0M1632.3 764.0h0M1760.4 759.4h0M1578.2 765.6h0M1856.0 753.1h0M1534.5 761.2h0M1899.8 748.0h0M1307.4 766.4h0M1791.3 758.5h0M1775.2 756.0h0M1632.0 764.4h0M1442.9 764.3h0M1943.7 744.0h0M1759.2 758.8h0M1872.0 752.5h0M1534.3 765.0h0M1595.8 762.3h0M1545.5 765.6h0M1313.1 764.4h0M1388.1 766.4h0M1247.3 765.1h0M1535.9 764.7h0M1677.0 762.7h0M1886.4 750.3h0M2053.9 728.3h0M1893.9 747.9h0M1636.9 764.0h0M1451.7 763.7h0M1988.8 739.4h0M1479.1 763.6h0M1271.4 764.4h0M1328.3 766.9h0M1966.8 740.8h0M1617.4 762.5h0M1361.4 764.3h0M1909.6 746.4h0M1933.2 745.1h0M1778.4 759.9h0M1338.6 765.6h0M1814.2 756.2h0M1662.7 759.9h0M1961.9 741.7h0M1602.8 761.6h0M1787.4 757.1h0M1836.6 758.0h0M1880.4 752.0h0M1382.8 763.1h0M1317.9 761.8h0M1857.5 755.2h0M1879.1 752.0h0M1566.9 764.5h0M1773.8 758.8h0M1649.4 760.8h0M1741.0 761.8h0M1353.0 763.3h0M1747.6 759.2h0M1857.5 754.2h0M1467.2 763.7h0M1770.4 757.3h0M1393.5 765.5h0M2021.0 734.0h0M1380.5 764.2h0M1336.6 764.1h0M1424.4 764.1h0M1470.5 767.0h0M1801.3 756.5h0M1556.7 764.8h0M1857.0 755.4h0M1941.0 747.6h0M1662.4 762.8h0M1630.5 765.5h0M1707.0 761.2h0M1799.5 757.3h0M1507.7 764.7h0M1667.9 762.9h0M1806.8 755.3h0M1282.1 765.9h0M1705.6 762.4h0M1621.2 762.1h0M2062.6 727.5h0M1446.8 767.0h0M1502.5 761.9h0M1324.7 765.5h0M1560.0 765.1h0M1707.7 760.5h0M1396.0 765.4h0M1251.4 766.2h0M2002.4 735.7h0M1449.2 763.0h0M1693.4 761.1h0M1477.1 762.8h0M2039.8 730.0h0M1808.2 756.5h0M1777.7 759.0h0M1468.8 764.9h0M1923.7 749.6h0M1309.8 765.5h0M1850.9 755.3h0M1915.3 745.0h0M1456.0 766.5h0M1558.4 764.4h0M1549.2 763.5h0M1259.7 765.2h0M1893.6 751.5h0M1621.3 764.9h0M2057.3 729.3h0M1452.0 765.7h0M1433.7 765.1h0M1428.5 767.2h0M1520.8 765.1h0M1613.9 765.4h0M1792.1 755.6h0M1329.1 765.8h0M1855.1 754.3h0M1709.3 760.3h0M1685.0 760.2h0M1892.9 749.9h0M1652.2 764.4h0M1341.4 765.3h0M2049.8 730.4h0M1311.3 766.9h0M1685.8 761.7h0M1537.3 764.3h0M1747.9 759.2h0M1482.0 763.4h0M1683.4 762.6h0M1584.0 761.9h0M1473.9 762.2h0M1844.1 755.0h0M2046.7 730.5h0M1473.1 763.6h0M1719.1 759.4h0M1423.8 764.4h0M1861.3 755.3h0M1241.0 765.0h0M1270.3 766.2h0M1777.6 760.0h0M1580.3 765.3h0M2026.6 731.8h0M1839.4 755.9h0M2019.7 732.8h0M1984.8 736.1h0M1829.5 754.9h0M1379.8 766.9h0M1338.5 762.9h0M1872.3 752.5h0M1951.0 739.8h0M1323.3 766.1h0M2044.4 731.3h0M1327.0 766.7h0M1516.8 765.0h0M1886.5 750.0h0M1973.9 738.3h0M1736.1 757.7h0M1921.2 748.6h0M1844.7 754.4h0M1905.7 748.3h0M1497.7 764.0h0M1790.3 759.5h0M1251.0 766.5h0M2015.1 732.3h0M1692.6 760.4h0M1888.8 750.5h0M1829.5 755.7h0M1579.5 765.2h0M1881.4 752.7h0M1362.1 765.6h0M1665.4 760.9h0M1590.3 762.8h0M2004.9 734.8h0M1530.8 764.6h0M1305.0 767.0h0M1656.2 761.8h0M1500.8 767.0h0M1448.7 767.2h0M1966.6 739.5h0M1391.5 762.5h0M1701.0 765.0h0M1453.1 764.0h0M1339.3 765.0h0M1472.9 763.8h0M1425.6 766.6h0M1472.2 764.3h0M1633.0 762.1h0M1525.0 767.6h0M1445.4 764.5h0M1611.5 764.3h0M1620.7 764.9h0M1977.5 735.1h0M1670.2 760.7h0M1565.1 765.3h0M2039.3 728.4h0M1893.6 749.4h0M1333.4 762.4h0M2005.2 735.0h0M1701.0 760.1h0M1666.0 763.0h0M1549.4 763.4h0M1623.8 764.0h0M1491.8 761.6h0M1764.0 758.4h0M1702.0 761.9h0M1263.8 765.8h0M1907.6 748.6h0M1794.7 758.6h0M1404.2 763.1h0M1417.9 762.6h0M2036.4 727.3h0M1998.9 735.6h0M1689.0 762.0h0M1556.3 765.1h0M1319.5 764.2h0M1935.2 744.7h0M1576.5 763.0h0M1268.5 763.2h0M1936.0 745.4h0M1891.5 751.6h0M1680.3 762.6h0M1805.9 756.8h0M1858.4 755.0h0M1648.0 762.0h0M1400.8 765.5h0M2015.7 732.1h0M2002.0 735.1h0M1575.6 763.8h0M2058.8 729.0h0M1985.5 738.1h0M1742.4 757.9h0M1704.3 757.6h0M1383.0 765.3h0M1735.7 759.6h0M1725.5 760.5h0M1674.6 763.4h0M1300.3 764.2h0M1528.0 766.1h0M1807.0 756.3h0M1675.1 761.4h0M1351.4 763.6h0M1787.1 762.9h0M1598.8 766.3h0M1324.4 764.9h0M1863.9 755.9h0M1635.3 763.9h0M1814.0 755.4h0M1691.5 761.3h0M1652.8 762.4h0M1371.7 762.3h0M1874.6 754.4h0M1310.2 764.4h0M1575.8 765.3h0M1964.9 738.4h0M1344.1 766.7h0M1706.8 761.2h0M1257.6 765.9h0M1750.8 758.0h0M2020.9 734.1h0M1855.3 751.4h0M1919.6 750.2h0M1737.3 761.8h0M1934.9 745.6h0M1487.2 762.0h0M1553.9 765.8h0M1421.6 765.2h0M1650.8 762.0h0M1665.5 760.4h0M1901.5 750.4h0M1559.3 763.1h0M1989.5 735.9h0M1421.9 764.7h0M1316.6 763.7h0M1415.5 767.4h0M1670.2 762.4h0M2057.2 727.9h0M1408.0 764.1h0M1753.0 758.7h0M2039.1 730.2h0M1740.6 756.8h0M1926.2 745.4h0M1813.9 756.8h0M1703.9 758.1h0M1350.3 767.4h0M1497.8 763.5h0M1848.4 754.8h0M1252.1 765.6h0M1555.8 763.9h0M1954.9 736.8h0M1296.1 763.5h0M1609.0 762.5h0M1557.0 762.0h0M1391.2 762.8h0M1351.7 763.8h0M1822.4 756.6h0M2021.3 733.2h0M1867.1 754.1h0M1972.2 738.0h0M1776.3 758.2h0M1604.8 764.0h0M1579.2 762.1h0M1594.9 764.7h0M1451.3 766.8h0M1893.0 751.0h0M2062.4 727.8h0M1677.9 760.2h0M1591.8 766.3h0M1455.7 764.7h0M1805.0 755.3h0M1967.3 740.6h0M1388.6 764.5h0M2047.0 730.5h0M1722.4 761.6h0M1778.0 757.5h0M1810.5 757.5h0M1469.4 764.9h0M1843.5 756.0h0M1976.4 737.3h0M1644.3 759.9h0M1718.5 759.7h0M2000.0 735.7h0M1917.5 747.5h0M1952.3 740.4h0M1382.4 764.8h0M1522.8 765.4h0M1254.7 764.6h0M1391.2 766.4h0M1682.3 762.9h0M1374.1 767.1h0M1533.0 767.1h0M2052.0 730.0h0M1883.8 752.2h0M1341.7 764.4h0M1440.0 764.0h0M1366.0 764.0h0M2050.6 729.2h0M1931.2 744.1h0M1968.3 736.4h0M1633.3 764.5h0M1996.6 732.8h0M1762.9 759.7h0M1369.6 765.4h0M1845.5 753.4h0M1500.9 762.6h0M2016.7 732.8h0M1664.9 764.0h0M1472.6 764.3h0M1998.3 737.6h0M1465.5 762.5h0M1669.6 762.7h0M1245.1 765.9h0M1290.7 764.5h0M1638.7 761.6h0M1342.9 764.9h0M1932.4 745.8h0M2030.2 729.8h0M1464.6 763.9h0M1314.8 764.5h0M1627.5 765.8h0M1860.2 751.2h0M1572.7 762.3h0M1327.2 764.9h0M2016.0 735.0h0M1409.6 765.6h0M1681.8 763.1h0M1565.9 762.7h0M1651.1 761.8h0M1283.4 766.6h0M1395.0 763.1h0M1693.4 763.9h0M1309.0 766.6h0M1848.9 753.5h0M1887.4 751.5h0M1246.2 765.5h0M1770.7 757.2h0M1372.7 764.3h0M1620.0 764.3h0M1698.9 761.8h0M1385.0 766.1h0M1335.1 764.8h0M1605.3 761.7h0M1535.6 763.4h0M1567.1 761.9h0M1567.7 765.8h0M2015.3 731.6h0M2025.4 732.2h0M1599.4 763.4h0M1292.6 765.5h0M1521.1 763.7h0M1340.5 762.4h0M1395.4 764.3h0M1720.8 763.2h0M1355.6 762.1h0M1352.1 764.3h0M1735.5 759.2h0M1683.6 763.1h0M1709.6 759.1h0M1978.7 736.2h0M1568.8 762.4h0M1517.4 764.1h0M1932.0 745.8h0M1300.7 766.7h0M1918.2 750.3h0M2041.2 731.2h0M1671.4 761.5h0M1408.8 763.4h0M1579.8 764.8h0M1853.3 752.5h0M1678.0 761.0h0M1588.4 762.9h0M1568.7 764.4h0M1885.8 752.3h0M1340.9 764.8h0M1569.6 764.8h0M2054.4 727.7h0M1672.8 762.4h0M1782.2 758.6h0M1633.1 763.4h0M1738.3 759.4h0M1834.3 755.8h0M1928.9 744.9h0M1807.4 755.4h0M1630.1 767.1h0M1923.7 747.6h0M1980.2 738.0h0M1978.4 738.3h0M1940.9 743.6h0M1640.1 764.0h0M1837.5 753.7h0M1724.8 761.0h0M1680.9 762.5h0M2038.0 730.4h0M1614.3 764.4h0M2036.9 730.7h0M1702.2 757.1h0M1668.0 763.2h0M1918.7 747.0h0M1498.8 765.2h0M1389.4 764.6h0M1476.8 763.2h0M1925.0 747.3h0M2011.8 733.8h0M1897.8 751.1h0M1892.7 749.5h0M1991.8 738.2h0M1925.3 747.6h0M1454.1 766.8h0M1868.1 753.1h0M1973.1 736.6h0M1495.2 765.1h0M1932.2 745.6h0M1917.1 747.2h0M1654.3 763.0h0M1595.3 761.4h0M1841.8 753.7h0M1838.7 756.5h0M1907.4 750.5h0M1291.7 767.6h0M1643.1 766.9h0M1260.7 764.6h0M2013.9 733.7h0M1419.1 766.2h0M1742.1 759.3h0M1717.3 760.7h0M1595.7 764.6h0M1927.3 746.2h0M1440.0 763.7h0M1767.5 758.6h0M1700.7 759.8h0M1752.6 758.7h0M1465.1 766.8h0M1534.9 765.2h0M2012.0 733.8h0M1901.3 749.3h0M1931.6 748.7h0M1486.2 766.3h0M1985.0 740.4h0M1501.5 764.4h0M2030.5 731.4h0M1372.2 764.5h0M1891.5 751.0h0M1578.7 764.6h0M1972.8 738.4h0M1244.6 765.1h0M1550.8 762.4h0M1490.6 763.3h0M1600.8 766.3h0M1693.2 760.7h0M1781.8 759.3h0M1802.3 759.0h0M2015.7 733.3h0M1635.0 763.4h0M1627.7 763.8h0M1565.9 764.1h0M1994.2 736.3h0M1403.6 767.0h0M1254.0 766.4h0M2032.9 733.8h0M1491.5 767.9h0M1676.8 762.6h0M1919.4 747.8h0M2028.9 731.6h0M1546.9 763.2h0M1458.6 766.0h0M1385.5 765.2h0M1853.9 755.1h0M1271.1 762.9h0M1590.3 764.2h0M1804.6 755.4h0M1632.6 763.2h0M1335.4 763.2h0M1902.6 753.0h0M1937.4 744.6h0M1889.0 752.6h0M1895.5 751.6h0M1526.6 766.2h0M1755.9 758.8h0M1323.3 765.1h0M1763.1 758.4h0M1752.3 757.4h0M1290.6 765.8h0M1979.0 736.6h0M1813.6 760.1h0M1998.0 733.6h0M1530.1 763.8h0M1981.9 736.9h0M1713.0 759.9h0M1636.0 763.0h0M1849.9 755.6h0M1733.8 757.4h0M1367.5 762.3h0M1840.1 755.2h0M1651.9 764.3h0M1300.0 765.7h0M1416.3 767.4h0M1827.6 753.9h0M1924.7 742.4h0M1530.5 766.2h0M1640.6 765.9h0M1858.9 757.3h0M1624.3 762.4h0M1521.0 764.8h0M1972.6 738.6h0M1773.0 755.5h0M1908.4 750.4h0M1402.0 765.5h0M1502.1 763.5h0M1254.5 766.5h0M1931.8 745.8h0M1819.9 756.9h0M1482.6 763.7h0M1555.0 762.9h0M1367.7 763.5h0M1451.3 763.6h0M1374.8 763.9h0M1984.1 736.9h0M1317.7 767.2h0M1480.9 764.6h0M1299.6 766.1h0M1565.2 763.1h0M1856.2 756.2h0M1669.9 762.1h0M1993.3 732.1h0M1638.7 762.2h0M1693.8 760.8h0M1722.8 760.4h0M1422.6 765.4h0M1436.0 767.2h0M1345.2 765.8h0M1852.0 754.7h0M1652.4 763.5h0M2013.3 733.7h0M1716.1 760.2h0M1743.3 758.9h0M1900.8 749.1h0M2043.6 729.5h0M1754.2 758.5h0M1311.0 765.2h0M1593.0 764.6h0M1559.1 763.3h0M1546.1 765.0h0M1616.2 764.3h0M2061.9 728.9h0M1242.5 763.8h0M1732.7 759.0h0M1361.3 763.8h0M1559.7 763.2h0M1391.1 763.7h0M1598.3 765.1h0M1538.3 763.9h0M1970.3 739.3h0M2042.8 732.2h0M1682.5 763.0h0M1644.6 763.0h0M1788.1 755.4h0M1819.0 757.4h0M1630.9 765.3h0M1658.4 760.2h0M1572.3 765.0h0M1787.9 757.9h0M1313.6 764.0h0M2043.1 730.1h0M1453.2 763.3h0M1638.6 762.7h0M1314.2 767.5h0M1603.7 761.9h0M1485.2 763.8h0M1342.3 763.2h0M1265.5 767.5h0M1884.4 749.9h0M1455.8 765.1h0M1653.1 764.3h0M1425.1 763.6h0M1669.7 764.0h0M1813.3 757.4h0M1866.7 750.2h0M1772.8 757.6h0M1366.8 763.8h0M1901.2 748.9h0M1417.7 764.3h0M1927.3 745.6h0M1869.7 753.6h0M1554.5 763.1h0M1456.3 761.5h0M1321.4 765.1h0M1529.0 765.8h0M2047.6 727.9h0M1680.0 761.7h0M1932.8 745.3h0M1909.7 748.8h0M1808.7 756.2h0M1976.8 738.3h0M1494.5 764.4h0M1989.7 734.0h0M1629.9 763.2h0M2053.2 729.9h0M2042.0 729.3h0M1363.1 765.1h0M1791.5 757.5h0M1474.7 764.4h0M1870.4 754.1h0M1468.3 765.6h0M1250.7 764.8h0M1324.2 763.9h0M1748.4 758.1h0M1834.3 754.4h0M1575.4 765.2h0M2041.1 731.4h0M1778.9 758.2h0M1312.8 765.2h0M1908.1 748.6h0M1708.9 760.3h0M1920.0 746.9h0M1907.7 750.6h0M1310.5 764.7h0M1263.2 767.1h0M1823.6 755.8h0M1398.2 765.1h0M1335.2 764.0h0M1675.8 759.9h0M1880.7 749.8h0M1898.8 750.1h0M1602.9 764.8h0M1986.8 737.5h0M1396.7 764.8h0M1988.7 736.3h0M1310.4 763.9h0M1597.6 762.6h0M1251.9 765.9h0M1873.7 753.3h0M1907.1 750.1h0M1872.1 750.7h0M1954.9 743.5h0M2041.5 726.8h0M1898.2 754.0h0M1581.4 763.8h0M1839.6 756.3h0M1920.4 747.2h0M1827.0 756.5h0M1607.6 763.1h0M1284.9 764.1h0M1605.3 762.6h0M1598.8 764.7h0M1861.4 754.9h0M1819.5 757.7h0M1450.5 764.5h0M1487.5 760.9h0M2040.2 730.8h0M1295.6 764.1h0M1393.7 764.6h0M1268.3 761.3h0M1801.1 760.3h0M1658.3 760.7h0M2031.2 729.9h0M1828.9 755.4h0M1585.4 765.4h0M1309.2 764.2h0M1410.8 763.6h0M1997.2 735.1h0M1522.7 762.9h0M1490.2 763.6h0M1844.1 757.1h0M1625.6 762.0h0M1753.8 758.3h0M1676.3 764.7h0M1982.2 738.8h0M1719.5 759.2h0M1600.2 764.6h0M1804.2 754.9h0M1611.2 762.8h0M1429.1 762.9h0M1245.9 766.7h0M1264.8 765.5h0M1459.2 763.3h0M1356.7 765.0h0M1533.1 765.6h0M1635.4 763.9h0M2034.2 729.2h0M1326.7 766.2h0M2056.3 730.4h0M1359.1 763.4h0M1424.6 764.2h0M1536.1 765.2h0M1629.9 763.8h0M1290.2 766.7h0M1763.4 758.5h0M1271.5 762.3h0M1390.0 764.9h0M1462.0 765.0h0M1897.6 750.1h0M1338.9 766.1h0M1249.1 765.2h0M1579.2 762.2h0M2050.0 730.7h0M1809.4 755.6h0M1725.1 758.8h0M1955.2 742.6h0M1998.8 733.6h0M1596.4 762.6h0M1490.9 765.9h0M1908.1 747.8h0M1868.9 754.6h0" stroke="#000" stroke-width="5.9" stroke-linecap="round" fill="none"/>
<path d="M1312.3 725.0h0M1718.6 707.8h0M1984.8 274.4h0M1938.7 412.9h0M1935.3 436.6h0M1562.1 719.4h0M1302.3 727.4h0M2001.0 237.7h0M1655.3 714.9h0M1869.2 627.0h0M1991.2 249.1h0M1979.4 281.4h0M1282.3 726.1h0M1863.3 616.7h0M1910.8 502.9h0M1967.9 327.8h0M1908.0 504.9h0M1318.4 725.6h0M1969.5 336.7h0M1292.3 726.5h0M1282.1 722.9h0M1972.5 318.4h0M1703.5 712.2h0M1970.1 345.3h0M1921.4 472.7h0M1785.4 690.0h0M1565.0 722.4h0M1264.6 725.1h0M1974.7 315.0h0M1805.4 684.2h0M1262.1 725.8h0M1557.9 722.4h0M1954.8 383.6h0M1575.2 721.8h0M2014.8 227.2h0M1953.0 354.2h0M1320.3 725.9h0M1242.6 723.5h0M1692.7 708.7h0M1779.9 694.1h0M1589.7 719.6h0M1340.2 724.3h0M1641.6 715.4h0M1975.1 322.6h0M2021.7 210.8h0M2011.2 215.8h0M1542.1 721.3h0M2027.2 198.9h0M1477.2 725.2h0M1716.7 709.1h0M1963.4 359.4h0M1411.5 730.0h0M1838.1 643.0h0M1435.1 724.3h0M1522.5 722.3h0M1864.5 614.4h0M1796.2 687.5h0M1842.2 636.2h0M1433.0 723.8h0M1324.4 726.6h0M1566.8 724.0h0M1918.8 506.7h0M2012.6 219.1h0M1788.7 692.1h0M1827.8 669.9h0M1994.9 249.6h0M1920.8 481.9h0M1901.4 524.4h0M1710.5 710.2h0M1839.2 660.9h0M2005.3 231.8h0M2049.6 177.7h0M1302.1 727.1h0M1989.8 283.8h0M1685.2 712.7h0M1981.5 274.4h0M1346.8 724.6h0M2026.3 202.0h0M1934.2 443.5h0M1900.2 540.5h0M1834.6 660.2h0M1957.5 361.0h0M1504.6 723.5h0M1937.6 448.3h0M1431.7 725.4h0M1996.8 230.7h0M1937.7 404.7h0M1821.6 673.3h0M2055.0 177.3h0M1813.8 677.6h0M1982.5 280.0h0M1522.3 724.0h0M1971.2 336.7h0M1861.6 635.5h0M1774.7 696.9h0M1782.7 693.1h0M1839.1 652.5h0M1350.7 725.1h0M1983.9 267.0h0M1267.9 726.9h0M2014.1 221.5h0M1962.3 361.7h0M1941.2 423.7h0M1568.9 723.0h0M1816.1 672.0h0M1371.7 727.4h0M1795.9 688.3h0M1887.7 587.5h0M1928.8 467.2h0M1298.2 725.9h0M1954.2 372.5h0M1965.8 353.6h0M1471.0 722.0h0M2001.1 234.1h0M1277.9 727.4h0M1275.9 728.9h0M1949.2 375.0h0M1984.6 303.9h0M1436.7 725.9h0M1537.8 723.4h0M1645.3 718.0h0M1944.5 412.1h0M1691.6 709.2h0M1873.8 597.7h0M1625.2 717.9h0M2059.8 172.7h0M1882.1 574.6h0M1535.5 722.5h0M1808.8 674.1h0M1775.2 692.7h0M1902.5 513.6h0M1711.2 710.0h0M1710.8 707.0h0M1992.4 293.9h0M2040.2 193.8h0M1539.6 721.7h0M1995.9 249.8h0M1690.3 710.7h0M2009.0 229.2h0M1437.4 726.7h0M1277.4 725.4h0M1541.5 725.4h0M1825.2 665.4h0M1881.9 589.3h0M1458.3 723.7h0M1951.7 392.8h0M2036.3 188.4h0M1418.5 725.1h0M1849.8 629.8h0M1262.5 727.2h0M1947.6 383.8h0M2021.5 212.0h0M1842.6 654.5h0M1472.2 724.8h0M1925.8 440.9h0M1514.4 724.6h0M1952.0 367.4h0M1742.6 700.5h0M1672.0 714.1h0M1749.8 698.5h0M1961.8 333.4h0M1265.1 729.5h0M1992.0 265.8h0M1990.9 253.8h0M1245.3 724.8h0M1933.6 434.1h0M1854.1 626.9h0M1716.5 706.6h0M1400.8 728.1h0M1658.5 714.3h0M1715.1 706.7h0M1988.6 294.7h0M1711.0 707.9h0M1394.4 726.0h0M1926.4 478.2h0M1928.9 470.8h0M1297.5 725.0h0M1833.2 657.4h0M1789.0 691.4h0M1877.6 586.3h0M1871.6 593.6h0M1943.7 408.2h0M1791.2 692.5h0M1718.1 704.4h0M1927.6 478.9h0M1245.4 728.4h0M1987.4 301.7h0M1899.8 529.5h0M1851.9 626.7h0M1304.7 726.6h0M1995.0 237.9h0M1559.6 722.4h0M1823.6 667.7h0M1481.6 724.3h0M1605.1 718.4h0M1979.1 302.5h0M1761.7 695.3h0M2017.6 214.0h0M1459.4 725.6h0M1529.2 721.9h0M1709.4 708.9h0M1441.7 726.7h0M1597.5 720.9h0M1647.4 716.5h0M1560.9 722.8h0M1826.3 665.8h0M1651.4 716.3h0M1484.3 724.3h0M1587.6 722.3h0M1934.7 453.1h0M1459.4 724.3h0M1630.1 720.7h0M1952.8 371.8h0M2038.4 185.6h0M1764.3 699.8h0M1815.1 682.0h0M1295.6 723.3h0M1570.4 724.1h0M1321.0 722.6h0M1724.2 704.3h0M1963.2 364.1h0M2005.6 220.6h0M1879.9 584.4h0M1338.4 723.0h0M1908.2 499.7h0M1977.9 313.2h0M1313.2 725.7h0M1604.8 720.1h0M1906.1 537.9h0M1838.8 651.7h0M1707.6 705.9h0M1970.2 355.6h0M1681.9 711.5h0M1936.9 409.4h0M2060.5 173.0h0M1940.2 427.5h0M1478.1 726.1h0M1836.7 656.8h0M1944.2 404.6h0M1814.4 676.6h0M1994.3 233.1h0M1952.4 356.3h0M1929.3 464.8h0M1954.2 345.0h0M1862.8 618.8h0M2045.3 176.9h0M1941.0 414.8h0M1640.7 715.0h0M2023.7 203.9h0M2010.4 221.7h0M1413.8 723.7h0M1381.3 726.1h0M1278.0 724.8h0M1915.9 481.1h0M1442.4 725.6h0M1770.5 697.0h0M1922.2 468.8h0M1942.2 433.3h0M1909.1 524.9h0M1892.3 552.4h0M1706.7 705.2h0M1453.6 727.1h0M1329.3 724.9h0M1893.1 525.8h0M1336.8 725.9h0M1780.6 694.2h0M1924.0 469.5h0M1771.9 695.6h0M2017.1 215.1h0M1932.4 461.9h0M2019.4 208.3h0M2029.0 199.9h0M1870.1 595.1h0M1258.9 726.1h0M1972.6 305.8h0M1858.5 601.9h0M2012.8 211.0h0M1341.8 725.8h0M1598.0 721.8h0M1649.6 718.4h0M1468.6 725.4h0M1605.8 719.6h0M1938.9 432.0h0M1596.7 721.7h0M1583.2 722.7h0M1945.7 409.2h0M1590.2 720.0h0M1798.8 690.4h0M1944.4 413.8h0M1964.9 332.7h0M1505.0 723.5h0M1566.9 720.7h0M1964.4 358.8h0M1632.8 718.0h0M1520.8 722.2h0M1864.7 616.8h0M1458.6 724.4h0M1244.1 725.7h0M1432.5 720.7h0M1916.9 480.1h0M1685.4 710.6h0M1945.0 419.2h0M1535.9 723.3h0M1783.8 691.2h0M1937.8 434.2h0M1630.5 718.1h0M1350.9 725.1h0M1948.6 378.4h0M1469.2 723.6h0M1661.4 711.9h0M1818.1 668.7h0M1871.8 596.3h0M1686.0 710.3h0M1852.2 628.4h0M1906.2 516.2h0M1528.9 722.3h0M1773.2 695.4h0M1896.0 557.4h0M1380.6 728.0h0M1267.2 727.5h0M1598.8 717.8h0M1663.7 716.3h0M1822.2 679.6h0M1335.8 726.1h0M1330.6 726.6h0M1763.0 698.4h0M1595.3 723.2h0M1927.9 464.2h0M1982.1 303.0h0M1964.2 339.2h0M1371.5 726.0h0M1526.1 723.1h0M1896.5 562.8h0M1419.2 726.0h0M1394.2 726.4h0M1957.9 397.5h0M1734.0 705.3h0M1779.9 695.6h0M1822.7 665.3h0M1978.0 320.6h0M1943.7 418.2h0M1974.2 315.0h0M1509.6 723.5h0M1591.7 720.5h0M1688.6 713.6h0M1846.8 648.2h0M1849.3 642.6h0M1549.1 723.7h0M1981.4 318.6h0M2049.9 187.2h0M1912.9 489.5h0M1796.5 686.7h0M1844.7 637.1h0M1607.5 721.6h0M1415.1 725.5h0M1945.6 401.0h0M1330.1 727.2h0M1941.3 422.0h0M1652.5 712.2h0M1849.5 631.6h0M2001.7 229.1h0M1553.5 722.5h0M1913.7 497.2h0M1676.7 714.9h0M1978.8 302.0h0M1703.0 708.1h0M1684.2 709.3h0M1837.6 641.8h0M1946.4 388.3h0M1879.0 594.0h0M1696.4 708.9h0M1369.1 725.0h0M1922.1 474.1h0M1874.6 611.3h0M1789.8 692.2h0M1817.2 675.7h0M1506.4 720.8h0M1961.2 328.9h0M1922.0 484.1h0M1881.9 586.9h0M1931.1 475.9h0M1773.3 695.7h0M1874.7 602.1h0M1740.7 702.8h0M1580.1 721.3h0M1876.8 600.2h0M1693.1 712.9h0M2024.1 203.0h0M1448.8 722.9h0M1997.6 276.1h0M1690.2 710.2h0M1841.2 646.3h0M1621.8 722.4h0M1426.9 725.7h0M1258.4 725.5h0M1718.9 706.3h0M1704.3 708.4h0M1510.8 725.7h0M1999.2 238.8h0M1374.1 725.9h0M1904.5 530.3h0M1722.5 703.9h0M1579.6 721.8h0M1864.0 610.9h0M1463.5 723.2h0M1871.8 609.4h0M1678.9 713.7h0M1994.7 239.4h0M1961.4 359.8h0M1989.0 275.4h0M1960.7 353.8h0M1776.3 693.4h0M1448.6 725.0h0M1444.4 725.0h0M1673.9 714.3h0M1985.4 289.4h0M1910.1 498.6h0M2061.5 170.5h0M1409.3 727.8h0M1994.5 241.3h0M1804.6 680.4h0M2006.0 217.0h0M1603.5 722.2h0M1493.5 724.2h0M1431.1 727.2h0M1915.4 490.7h0M2045.1 181.6h0M1871.4 596.8h0M1995.6 250.8h0M1888.5 595.0h0M1307.7 727.0h0M1799.1 684.4h0M1821.2 669.7h0M1814.0 668.9h0M1307.4 727.2h0M1823.2 671.1h0M1667.7 712.7h0M1999.4 257.8h0M1565.5 722.1h0M1401.9 726.0h0M1418.1 726.3h0M1365.5 723.5h0M1615.2 721.3h0M1908.2 514.9h0M1942.1 449.0h0M1656.0 717.6h0M1792.5 688.0h0M1654.3 712.7h0M1309.3 728.4h0M1287.4 725.0h0M1256.1 726.5h0M1636.0 717.6h0M1411.4 723.7h0M1292.4 725.6h0M1833.2 654.5h0M1291.1 724.9h0M1839.5 647.5h0M1871.1 592.0h0M1799.7 686.1h0M1516.5 724.7h0M1921.3 477.3h0M1944.9 378.2h0M2010.7 228.2h0M2006.3 228.6h0M2050.5 174.6h0M1939.5 437.9h0M1915.8 471.3h0M1563.5 721.1h0M1851.2 632.6h0M1943.7 383.4h0M1933.1 452.4h0M1973.7 307.1h0M1933.8 431.9h0M1344.7 724.8h0M1893.0 550.6h0M1340.4 726.9h0M1775.0 692.6h0M1690.0 709.0h0M1662.1 711.8h0M1497.9 723.8h0M1498.6 722.8h0M1572.2 720.7h0M1904.2 508.2h0M1502.4 723.0h0M1959.7 372.4h0M1454.5 723.6h0M1912.7 504.5h0M1579.0 726.0h0M1489.4 721.6h0M1758.8 695.0h0M1594.9 720.2h0M1358.2 726.4h0M1355.0 725.9h0M2044.0 179.4h0M1493.1 724.7h0M1976.4 302.1h0M1895.1 550.3h0M1428.3 724.5h0M2011.0 230.7h0M1687.0 711.3h0M1917.2 484.4h0M1650.3 716.9h0M1911.7 480.9h0M1987.3 266.9h0M1969.9 336.8h0M1447.6 723.1h0M1902.2 523.7h0M1807.9 675.8h0M1370.1 727.3h0M1297.4 725.8h0M1728.8 704.9h0M2001.4 223.2h0M1955.6 364.2h0M1712.6 706.3h0M1988.3 287.0h0M1278.7 727.0h0M1444.4 723.2h0M1549.1 723.7h0M1971.7 345.4h0M1832.1 655.8h0M1944.2 382.7h0M1434.8 725.0h0M1789.5 691.9h0M1968.0 340.9h0M1534.3 722.0h0M1958.2 335.9h0M1789.6 689.2h0M1882.5 581.4h0M1244.8 729.0h0M1249.7 725.7h0M1800.4 685.0h0M1303.8 726.4h0M1495.2 724.1h0M1830.2 672.0h0M1910.9 506.2h0M1563.4 721.3h0M1782.6 691.0h0M1787.4 691.6h0M1696.8 709.4h0M1289.1 725.6h0M1932.5 460.1h0M1481.2 726.6h0M2015.5 213.5h0M1944.8 386.6h0M1999.8 230.5h0M1481.4 724.5h0M1953.8 379.3h0M1402.1 726.5h0M1959.6 348.3h0M1423.7 726.7h0M1429.1 724.9h0M1355.1 723.9h0M1894.7 543.0h0M1344.9 725.0h0M1948.1 385.2h0M1733.4 703.9h0M1990.7 275.9h0M1787.3 693.2h0M1927.3 468.2h0M1518.2 721.7h0M1573.6 720.6h0M1735.5 702.2h0M1881.4 580.6h0M2010.9 222.7h0M2010.2 220.9h0M1867.8 586.6h0M1724.4 703.6h0M1878.4 580.7h0M1796.4 688.2h0M1515.9 723.0h0M1518.2 723.7h0M1389.4 725.1h0M1939.4 444.2h0M1916.1 498.5h0M1946.9 386.0h0M1299.5 729.0h0M1891.7 549.0h0M1978.7 295.0h0M1841.7 639.8h0M1977.2 303.6h0M1614.5 719.9h0M1539.1 722.3h0M1785.4 692.2h0M1950.2 381.2h0M1909.3 501.0h0M1704.2 707.2h0M1330.1 723.3h0M1882.3 590.2h0M1613.5 720.0h0M1795.2 686.1h0M1496.8 721.1h0M1286.2 726.8h0M1931.5 464.1h0M1459.0 727.1h0M1900.9 552.3h0M1854.1 631.5h0M1948.1 433.3h0M1943.5 409.6h0M1782.9 693.2h0M1959.1 327.6h0M1778.6 691.0h0M1944.5 392.1h0M1992.1 271.9h0M1882.4 587.7h0M1655.8 716.7h0M1505.5 722.5h0M1665.5 713.9h0M1934.6 445.0h0M1649.3 717.8h0M1990.8 244.2h0M2058.1 179.6h0M1823.8 668.3h0M1820.1 674.0h0M2017.6 213.1h0M1950.0 434.9h0M1967.5 333.5h0M1792.2 692.3h0M1956.4 410.4h0M1368.7 727.5h0M1263.3 724.5h0M1403.2 725.3h0M1902.7 502.1h0M1542.4 722.9h0M1903.4 520.7h0M1645.6 717.8h0M1841.9 638.7h0M1469.2 727.6h0M1789.5 690.9h0M1382.7 725.2h0M2047.5 181.4h0M1947.9 382.4h0M1392.2 724.2h0M1971.8 329.4h0M1402.1 725.0h0M2010.6 214.8h0M1363.5 728.1h0M1867.9 597.5h0M2005.1 227.1h0M1867.7 614.9h0M1791.7 691.6h0M1253.6 726.3h0M1806.6 688.2h0M1798.3 687.9h0M1545.9 724.6h0M1786.5 690.7h0M1402.2 723.5h0M1259.5 727.8h0M1791.0 688.2h0M1675.6 713.4h0M1304.5 729.0h0M1776.1 697.1h0M1936.7 436.6h0M1982.8 307.9h0M1382.1 724.1h0M1455.2 724.1h0M1552.8 719.3h0M1932.1 446.5h0M1687.3 712.5h0M1402.7 722.8h0M1835.7 644.4h0M1575.2 725.1h0M1256.8 729.5h0M1954.1 387.5h0M1364.2 727.3h0M1997.8 243.0h0M2051.0 178.1h0M1647.2 716.9h0M1582.0 720.7h0M1567.8 721.5h0M1466.1 724.6h0M1942.0 428.5h0M1277.4 726.4h0M1813.5 680.4h0M1415.5 725.6h0M1341.3 726.5h0M1604.3 716.7h0M1646.2 720.6h0M1516.1 724.5h0M1964.6 348.8h0M1741.0 703.4h0M1978.6 304.2h0M1973.9 338.9h0M1660.9 714.0h0M1842.8 636.9h0M1932.8 463.3h0M1941.4 423.9h0M1956.8 347.1h0M2045.8 180.7h0M1325.1 724.6h0M1664.1 713.2h0M1348.5 724.4h0M1955.1 391.6h0M1930.8 457.8h0M1858.2 624.4h0M1830.4 660.3h0M1665.3 715.9h0M1943.3 396.7h0M1972.2 322.4h0M1879.7 602.2h0M1980.9 318.8h0M1671.8 712.9h0M1918.0 488.0h0M1710.8 708.3h0M1343.4 726.7h0M1771.8 696.7h0M1643.1 714.7h0M2002.5 217.6h0M1656.0 718.5h0M1998.6 241.5h0M1508.8 722.7h0M1943.0 403.6h0M1675.9 712.9h0M1957.4 376.2h0M1659.3 717.5h0M1581.0 719.8h0M2054.0 176.1h0M1755.7 696.8h0M1901.0 537.1h0M1955.3 369.1h0M1955.5 358.2h0M1982.5 291.5h0M1310.6 728.9h0M1651.8 718.0h0M1332.6 723.8h0M1372.5 725.6h0M1422.6 725.2h0M1571.4 720.6h0M2027.2 201.2h0M1936.9 443.2h0M1947.7 398.1h0M1568.6 722.6h0M2026.8 207.1h0M1936.6 433.1h0M1991.6 267.3h0M1807.5 682.0h0M1847.0 639.4h0M1375.0 728.3h0M1935.1 443.0h0M1876.3 607.1h0M1643.3 716.1h0M1412.5 722.7h0M1350.5 725.4h0M1543.7 724.5h0M1986.5 274.3h0M1981.9 297.4h0M1806.2 688.6h0M1568.4 720.7h0M1689.2 710.6h0M1891.1 559.9h0M1283.0 727.0h0M1796.6 688.9h0M1923.3 470.2h0M1799.0 687.6h0M2035.5 192.2h0M1396.2 723.9h0M1286.0 725.0h0M1881.4 575.1h0M2003.5 226.6h0M1674.4 712.8h0M1699.3 709.9h0M1998.8 259.5h0M1352.8 726.2h0M1950.0 395.6h0M1842.7 639.5h0M1881.8 565.6h0M1556.1 719.7h0M1981.1 253.4h0M1949.9 371.8h0M1973.9 310.3h0M1647.9 712.9h0M1262.7 725.5h0M1944.3 424.6h0M1268.1 725.6h0M1650.5 717.4h0M1583.0 721.6h0M1511.2 722.4h0M1945.3 399.8h0M1877.9 595.6h0M2026.7 202.8h0M1244.6 728.1h0M1991.7 253.4h0M1927.9 449.7h0M1986.7 266.7h0M1497.8 722.7h0M1943.0 425.7h0M1840.4 649.0h0M1672.4 712.3h0M1518.7 724.3h0M1986.5 243.3h0M1677.8 712.5h0M2049.1 180.1h0M1900.8 530.0h0M1862.8 626.5h0M1817.3 667.5h0M1799.5 689.0h0M2007.7 212.3h0M1268.8 724.5h0M1961.1 354.2h0M1832.9 660.6h0M1650.0 713.8h0M1505.8 723.4h0M1376.3 724.3h0M2054.3 176.8h0M1976.1 292.3h0M1961.0 368.6h0M1872.7 607.6h0M1812.0 674.3h0M1934.7 450.0h0M2045.9 179.4h0M1568.7 721.5h0M1598.3 721.0h0M1301.5 725.1h0M1570.2 722.7h0M1670.5 714.1h0M1890.4 571.0h0M2020.3 212.6h0M1712.5 708.4h0M1796.1 689.1h0M1784.7 693.6h0M1975.8 313.5h0M1899.9 554.0h0M1511.8 723.6h0M1957.7 381.2h0M1975.2 286.7h0M1439.9 723.7h0M1577.5 721.7h0M1843.0 650.0h0M1323.0 728.3h0M1550.9 721.7h0M1989.9 259.2h0M1986.7 255.3h0M1962.4 344.9h0M1451.8 723.5h0M1446.7 726.8h0M1884.1 584.2h0M2015.2 218.8h0M1322.5 728.0h0M1371.0 725.7h0M1389.0 724.6h0M1841.4 637.0h0M1961.9 342.4h0M1979.9 313.8h0M1560.6 721.5h0M1913.3 500.7h0M1926.3 481.8h0M2005.5 242.0h0M1519.2 720.4h0M1892.3 535.7h0M1518.5 722.8h0M1395.2 726.4h0M1895.3 544.3h0M1598.6 721.1h0M1531.0 724.2h0M1896.3 528.9h0M1360.1 725.3h0M1904.1 517.6h0M1960.7 350.9h0M1740.1 702.1h0M1965.5 340.2h0M1767.7 699.5h0M1326.8 727.5h0M1979.3 278.4h0M1921.7 482.3h0M1869.9 607.0h0M1885.9 581.3h0M1682.2 711.9h0M1892.7 559.4h0M1900.0 526.4h0M1947.0 396.7h0M1926.5 454.4h0M1828.9 661.9h0M1512.6 723.5h0M1626.5 719.5h0M1943.7 417.5h0M1910.5 491.9h0M2040.7 182.7h0M1815.4 669.5h0M1817.9 671.3h0M1895.4 536.7h0M1951.3 375.5h0M2012.5 211.7h0M1394.5 724.1h0M1607.4 720.4h0M1870.7 589.1h0M1471.4 724.0h0M1950.5 410.3h0M1979.6 282.5h0M1896.0 562.1h0M1927.0 452.3h0M1949.0 371.1h0M1441.1 724.3h0M1663.4 714.2h0M1898.2 547.1h0M1764.2 699.6h0M1867.8 599.0h0M1960.7 360.1h0M1760.8 698.3h0M1433.9 725.8h0M2011.2 224.1h0M1455.4 722.8h0M1264.3 724.4h0M1925.3 458.3h0M1945.6 425.2h0M1936.9 441.2h0M1527.7 723.3h0M2043.0 179.9h0M1911.6 481.8h0M1465.0 727.1h0M1807.8 678.9h0M1504.6 724.2h0M1772.2 691.8h0M1789.4 689.2h0M1908.6 501.5h0M1880.5 583.9h0M1916.2 508.2h0M1877.9 595.9h0M1314.6 727.1h0M1918.6 480.8h0M1391.6 727.7h0M1976.4 299.4h0M2012.1 210.7h0M2034.5 198.0h0M1886.2 579.6h0M1789.0 693.6h0M1879.6 583.0h0M1837.1 649.6h0M1439.3 724.0h0M1673.9 712.3h0M1435.2 724.2h0M1627.8 719.4h0M1480.3 723.0h0M1927.1 468.4h0M1949.4 391.0h0M2053.0 176.9h0M1926.2 468.8h0M1570.9 721.1h0M1779.0 693.4h0M1702.6 709.2h0M1958.8 366.4h0M1338.4 725.3h0M1901.9 551.5h0M1433.3 727.1h0M1689.1 709.1h0M1636.9 717.2h0M1979.1 316.0h0M1513.4 720.8h0M1276.0 723.4h0M1885.9 592.4h0M1978.1 292.3h0M1862.1 619.2h0M1832.0 657.0h0M1633.9 718.0h0M1570.5 720.3h0M1946.2 413.9h0M1725.7 702.2h0M1855.5 626.9h0M1261.2 728.5h0M1988.1 300.6h0M1843.1 645.8h0M1607.6 721.5h0M1426.2 722.8h0M1977.0 304.4h0M1338.1 725.2h0M1948.6 403.2h0M1508.9 722.0h0M1962.5 345.3h0M1443.4 723.8h0M1427.0 723.4h0M1430.1 725.3h0M1880.4 589.7h0M1769.4 694.4h0M1765.7 697.5h0M1812.8 678.3h0M1820.8 678.0h0M2041.1 187.4h0M1682.7 715.6h0M1972.5 291.5h0M2061.8 170.8h0M1427.4 726.3h0M1897.8 531.9h0M1797.6 687.5h0M1886.7 570.2h0M1525.6 724.7h0M1802.6 679.9h0M1285.6 727.4h0M1608.9 718.7h0M1494.4 724.0h0M1940.4 432.7h0M1494.6 721.6h0M1420.8 724.4h0M1914.8 490.4h0M1943.7 404.5h0M1405.9 725.6h0M1581.2 721.1h0M1844.0 640.2h0M1918.2 475.8h0M1987.0 296.1h0M1712.6 707.0h0M1981.3 285.6h0M1480.8 722.5h0M1872.5 595.3h0M1950.8 379.2h0M1258.2 725.6h0M1979.2 284.6h0M1778.6 692.5h0M1384.8 724.5h0M1514.8 724.5h0M1249.0 727.3h0M1666.4 712.7h0M1950.8 399.3h0M1947.2 424.8h0M1647.5 714.6h0M1894.9 564.8h0M1524.4 723.9h0M2061.4 172.7h0M1491.5 723.8h0M1307.2 727.7h0M1817.7 677.1h0M1950.0 387.1h0M1251.2 727.8h0M1435.4 724.7h0M1579.9 720.8h0M1481.1 723.2h0M1844.4 643.2h0M1600.0 720.5h0M1318.0 726.6h0M1784.3 693.3h0M1934.8 434.4h0M1958.3 353.7h0M1939.3 424.9h0M1930.9 458.9h0M1985.4 260.6h0M1988.7 265.4h0M1634.2 717.1h0M1622.1 719.7h0M1656.7 715.4h0M1935.2 440.7h0M1310.1 726.6h0M1958.2 363.7h0M1492.2 722.4h0M1285.9 726.9h0M1852.8 615.7h0M1826.9 661.4h0M1296.8 728.2h0" stroke="#000" stroke-width="5.9" stroke-linecap="round" fill="none"/>
<path d="M1811.1 267.3h0M1577.8 678.6h0M1794.5 262.0h0M1610.9 665.2h0M1313.3 704.3h0M1742.9 393.4h0M1551.1 685.6h0M1715.6 501.1h0M1789.5 284.0h0M1554.6 685.7h0M1277.1 702.6h0M1782.3 333.9h0M1724.7 462.6h0M1881.5 131.9h0M1770.5 319.8h0M1729.2 431.2h0M1764.9 344.6h0M1286.8 704.6h0M1529.8 687.0h0M1485.3 694.5h0M1435.9 700.8h0M1561.9 682.5h0M1312.0 704.9h0M1306.8 702.5h0M1556.9 683.5h0M1383.3 701.7h0M1910.7 108.2h0M1290.8 702.3h0M1836.9 178.4h0M1769.2 334.5h0M1920.3 104.0h0M1497.1 693.8h0M1769.0 324.0h0M1721.2 478.2h0M1488.7 692.9h0M1974.2 79.2h0M1250.9 705.5h0M1694.8 542.7h0M1466.9 697.5h0M1753.2 376.1h0M1735.4 427.8h0M1892.9 120.2h0M1696.6 564.2h0M1350.4 701.1h0M1431.5 697.9h0M1867.4 143.1h0M1663.0 610.9h0M1609.1 665.3h0M1567.2 683.1h0M1346.0 704.6h0M1546.1 686.4h0M1939.4 85.8h0M1910.0 112.9h0M1291.9 705.2h0M1789.1 287.4h0M1276.9 704.7h0M1725.1 462.6h0M1938.4 84.5h0M1734.3 428.7h0M1807.0 234.0h0M1777.0 316.6h0M1909.8 110.8h0M1438.9 696.8h0M1726.3 434.2h0M1665.0 600.4h0M1566.9 684.1h0M1589.3 677.3h0M1850.8 163.2h0M1255.4 704.6h0M1306.7 705.1h0M1575.6 679.1h0M1462.2 698.6h0M2036.8 66.8h0M1725.3 442.9h0M1815.7 196.3h0M1816.8 193.2h0M2056.5 67.9h0M1413.0 699.0h0M1819.1 196.1h0M1395.5 699.5h0M1597.8 671.5h0M1243.8 706.1h0M1920.4 96.9h0M1814.3 222.4h0M1967.9 76.4h0M1336.5 703.8h0M1563.0 682.5h0M1800.4 268.7h0M1817.5 223.0h0M1776.9 318.0h0M1823.5 218.3h0M1369.9 698.2h0M1361.5 702.1h0M1772.4 312.9h0M2024.3 67.4h0M1894.3 127.3h0M1366.7 702.1h0M1902.9 111.6h0M1735.3 458.4h0M1754.8 381.3h0M1765.4 337.2h0M2031.6 65.6h0M1673.0 587.0h0M1296.2 704.1h0M1790.5 282.3h0M1273.3 702.1h0M1654.0 618.3h0M1441.1 697.7h0M1577.8 677.7h0M1257.6 705.3h0M1482.7 695.9h0M1244.1 701.6h0M1836.0 173.1h0M1993.5 70.5h0M2046.1 65.8h0M1299.0 706.6h0M1561.1 683.3h0M2035.0 64.6h0M1655.8 619.1h0M1785.1 320.3h0M1790.8 279.0h0M1384.5 700.0h0M1344.7 704.9h0M1771.0 324.3h0M1985.2 76.3h0M1402.1 701.4h0M1386.2 702.9h0M1543.4 689.1h0M1792.2 264.8h0M1526.4 689.7h0M1703.3 535.8h0M1295.7 706.4h0M1432.7 697.8h0M1921.5 109.6h0M1457.9 698.4h0M1568.8 682.0h0M1463.8 695.0h0M1310.4 704.5h0M1452.7 697.2h0M1473.1 692.1h0M1617.9 662.6h0M1343.1 701.1h0M1827.7 188.0h0M1656.0 632.7h0M1271.1 702.7h0M1859.5 152.1h0M1651.7 622.0h0M1726.7 485.4h0M1346.5 700.4h0M1758.1 364.0h0M1782.3 308.1h0M1555.9 686.5h0M1743.7 413.1h0M1674.9 591.2h0M1519.2 688.5h0M1786.5 310.3h0M1601.4 667.2h0M1592.9 674.2h0M1984.1 69.0h0M2016.2 66.3h0M1846.8 165.2h0M1742.8 438.4h0M1269.0 703.7h0M1361.3 699.7h0M1698.0 561.3h0M1432.4 697.9h0M1958.4 77.4h0M1512.0 691.1h0M1439.3 699.4h0M2003.1 73.3h0M1735.5 443.9h0M1267.8 703.7h0M1578.6 676.9h0M1328.5 702.9h0M1543.2 687.5h0M1639.0 631.9h0M1625.4 662.2h0M1274.9 704.6h0M1910.6 104.6h0M1342.7 701.2h0M1693.2 565.4h0M1768.7 333.4h0M1493.1 690.0h0M1629.2 653.8h0M1613.3 660.1h0M1407.3 698.2h0M1515.1 688.5h0M1736.3 445.8h0M1730.8 438.4h0M1595.0 670.4h0M1406.1 697.9h0M1370.0 704.3h0M1712.6 516.1h0M1594.5 675.3h0M1273.6 704.6h0M1952.1 79.8h0M1365.3 703.3h0M1743.5 364.2h0M1371.9 701.7h0M1541.3 688.8h0M1926.8 96.0h0M1926.2 97.1h0M1277.8 702.2h0M1368.7 702.8h0M1773.2 326.1h0M2015.7 68.5h0M1735.8 434.5h0M1435.6 698.9h0M1387.8 701.1h0M1799.9 257.3h0M1800.6 250.9h0M1992.9 75.3h0M1771.0 326.8h0M1882.3 137.4h0M1525.7 689.1h0M1542.0 687.6h0M1845.4 171.7h0M1354.9 701.5h0M1361.1 703.4h0M1649.1 635.1h0M1797.9 246.1h0M1354.5 701.8h0M1978.6 75.6h0M1488.6 694.8h0M1712.1 486.6h0M1259.3 705.7h0M1414.5 699.6h0M1428.1 699.1h0M1407.6 701.1h0M1440.6 700.6h0M1768.6 317.0h0M1641.1 645.7h0M1866.0 143.5h0M1727.2 482.2h0M1773.7 317.7h0M1297.7 703.7h0M1592.9 672.9h0M1845.2 166.5h0M1505.1 691.5h0M1521.7 690.5h0M1405.5 700.7h0M1674.7 593.4h0M1801.4 267.0h0M1883.8 132.7h0M1949.9 84.9h0M1447.0 698.6h0M1705.9 535.1h0M1519.5 689.4h0M1813.6 205.8h0M1261.6 701.6h0M1591.0 674.9h0M1507.4 694.2h0M1246.0 704.3h0M1568.0 680.8h0M1422.8 701.0h0M1935.6 84.2h0M1676.3 590.3h0M1272.6 702.6h0M1376.0 699.4h0M1455.9 697.3h0M1766.0 329.5h0M1788.6 292.0h0M1822.1 207.3h0M1428.8 696.2h0M1369.6 702.1h0M1717.0 503.5h0M1946.0 86.5h0M1503.7 692.5h0M1247.3 702.2h0M1337.9 703.7h0M1416.4 698.8h0M1351.3 703.1h0M1463.6 696.6h0M1481.9 692.3h0M1900.0 123.0h0M1452.8 698.7h0M1553.6 687.0h0M1968.1 76.4h0M1703.2 521.7h0M1981.0 76.8h0M1451.8 699.9h0M1544.6 687.1h0M1577.4 680.1h0M1265.2 703.6h0M1247.2 702.1h0M1569.1 679.7h0M1551.7 687.1h0M1422.6 701.0h0M1565.4 682.4h0M1688.6 565.1h0M1407.1 699.0h0M1564.0 684.5h0M1824.6 199.4h0M1321.7 703.1h0M1943.7 90.4h0M1913.4 100.1h0M1797.3 271.8h0M2055.6 65.0h0M1771.0 319.9h0M1332.9 703.0h0M2012.5 68.0h0M1610.2 664.1h0M1384.6 701.3h0M2050.8 64.8h0M1823.2 218.1h0M1958.2 79.3h0M1738.5 441.2h0M1475.2 697.8h0M1853.2 158.1h0M1283.7 703.6h0M2022.9 66.7h0M1809.2 237.3h0M1253.9 705.7h0M2008.3 69.1h0M2022.7 66.9h0M1311.6 703.1h0M1968.7 77.9h0M1681.7 579.2h0M1245.4 704.1h0M1872.2 145.5h0M1857.9 159.1h0M1698.1 547.6h0M1772.5 308.1h0M1802.2 256.4h0M1445.8 700.0h0M1777.6 315.4h0M1833.5 178.3h0M1739.2 433.3h0M1569.7 683.4h0M1587.8 676.6h0M1621.6 654.2h0M1407.0 699.6h0M1369.9 702.7h0M1916.7 107.7h0M1289.1 706.2h0M1969.4 74.2h0M1652.0 631.8h0M1490.5 696.6h0M1995.4 71.1h0M1809.8 257.6h0M1439.6 698.4h0M1802.7 254.2h0M1647.8 631.0h0M1588.7 676.5h0M1745.6 400.4h0M1409.7 699.2h0M2013.0 70.5h0M1713.0 514.3h0M1694.3 558.5h0M1818.5 213.9h0M1982.6 76.7h0M1568.7 681.6h0M1425.2 701.9h0M1380.4 699.8h0M1396.5 701.6h0M1723.0 466.6h0M1256.5 706.7h0M1547.9 688.0h0M1753.9 373.0h0M1405.4 702.8h0M1703.0 530.6h0M1309.4 704.3h0M1945.3 87.1h0M1431.7 697.3h0M1924.1 97.5h0M1787.6 293.8h0M1753.0 348.1h0M1675.9 595.9h0M1634.5 649.8h0M1848.7 167.1h0M1333.9 704.7h0M1716.3 479.7h0M1676.5 581.5h0M1723.7 444.4h0M1825.5 175.8h0M1925.4 99.6h0M1717.7 481.1h0M1836.5 177.7h0M1657.4 627.9h0M1468.5 693.8h0M1787.0 294.0h0M1850.6 164.3h0M1703.1 540.5h0M1696.5 553.7h0M1873.9 137.1h0M1871.0 136.2h0M1395.7 701.5h0M1870.1 150.5h0M1794.5 272.6h0M1306.0 704.6h0M1791.1 281.0h0M1974.9 76.9h0M1735.1 428.4h0M1728.7 472.4h0M1821.5 211.4h0M1470.4 694.4h0M1403.4 701.2h0M1530.0 691.1h0M1882.6 134.9h0M1856.4 156.6h0M1315.4 703.1h0M2025.3 69.0h0M1413.9 701.0h0M1470.4 696.4h0M1829.1 189.8h0M1768.5 325.1h0M1896.3 134.3h0M1707.4 491.2h0M2058.5 62.5h0M2022.0 64.9h0M1472.2 698.1h0M1740.6 405.4h0M1421.0 702.4h0M1683.8 574.3h0M1963.4 79.5h0M1473.3 694.4h0M1828.9 183.4h0M1453.9 699.2h0M1341.6 701.5h0M1771.6 304.4h0M2018.4 67.1h0M1561.4 681.2h0M1724.0 478.9h0M1563.6 678.9h0M2032.1 67.3h0M1817.1 210.3h0M1451.9 699.0h0M1699.3 533.1h0M1855.8 157.1h0M1764.9 342.7h0M1672.2 588.8h0M1751.2 390.9h0M1950.4 84.0h0M1314.3 703.7h0M1614.7 658.7h0M1791.5 279.4h0M1717.1 480.7h0M1254.1 703.8h0M1645.4 632.1h0M1577.8 678.7h0M1733.0 402.9h0M1401.2 700.3h0M1734.8 431.3h0M2014.0 68.9h0M1302.2 706.6h0M1752.2 376.6h0M1765.1 333.3h0M1287.5 701.7h0M1554.1 685.8h0M1392.5 700.6h0M1758.6 373.2h0M1790.6 283.3h0M1699.2 525.1h0M1506.2 694.4h0M1848.7 163.7h0M1494.1 696.0h0M1840.4 164.9h0M1831.9 190.8h0M1801.1 263.8h0M1747.4 389.6h0M1925.8 93.5h0M1432.6 699.4h0M1754.7 381.8h0M1600.1 671.3h0M1269.1 702.5h0M1581.2 679.5h0M1813.3 239.7h0M1365.1 700.2h0M1314.0 701.4h0M1723.7 476.9h0M1516.3 690.3h0M1470.2 697.6h0M1329.2 702.6h0M1972.3 77.5h0M1569.2 681.6h0M1714.4 501.6h0M1479.1 692.1h0M1293.5 702.2h0M1518.9 690.1h0M1752.4 352.3h0M1631.8 642.5h0M1692.4 545.2h0M1831.7 168.9h0M1791.9 291.6h0M1727.4 431.8h0M1332.7 703.7h0M1721.6 503.9h0M1458.9 694.9h0M1368.9 699.3h0M1428.2 701.1h0M1890.1 129.1h0M1966.2 77.8h0M1740.9 396.5h0M1434.5 697.1h0M1785.2 285.7h0M1692.7 558.7h0M1362.4 702.6h0M1738.4 429.0h0M1816.0 202.7h0M1708.3 533.6h0M1570.0 682.7h0M1710.9 509.6h0M1270.7 706.1h0M1625.0 658.5h0M1537.5 690.7h0M1355.8 699.2h0M1728.4 459.8h0M1389.9 701.5h0M1602.0 663.8h0M1845.8 169.8h0M1729.2 447.7h0M1286.5 705.1h0M1602.4 670.9h0M1458.7 696.7h0M1448.3 696.9h0M1774.9 313.6h0M1789.6 285.0h0M1686.8 585.3h0M1998.7 69.6h0M1803.7 220.4h0M2042.3 63.3h0M1643.7 641.0h0M1315.5 703.2h0M1582.0 679.1h0M1743.8 392.6h0M1688.5 562.6h0M1287.0 703.9h0M1619.9 663.9h0M1678.3 599.9h0M1577.0 680.4h0M1789.0 280.4h0M1691.9 558.6h0M1731.5 464.0h0M1254.2 704.2h0M1319.0 702.1h0M1803.8 226.1h0M1358.3 703.9h0M1508.7 691.3h0M2025.8 66.8h0M2028.4 64.5h0M1331.9 703.0h0M1388.8 701.3h0M1889.4 125.3h0M1559.5 680.9h0M1729.6 469.7h0M1818.0 198.3h0M1755.4 372.5h0M1245.6 704.5h0M1716.1 497.7h0M2002.8 68.3h0M1398.6 700.8h0M1547.7 684.7h0M1363.9 698.9h0M1913.9 107.8h0M1730.9 439.3h0M1400.5 699.8h0M1492.6 691.5h0M1655.9 622.0h0M1870.4 147.7h0M1776.0 324.9h0M1900.2 119.1h0M1382.5 701.8h0M1804.8 278.5h0M1676.2 585.1h0M1567.6 683.1h0M1995.7 70.3h0M1689.5 558.1h0M1809.4 245.6h0M1750.4 397.2h0M1428.4 697.7h0M1652.2 625.2h0M1978.8 76.0h0M1839.0 172.2h0M1645.2 635.7h0M1519.5 690.5h0M1789.4 281.4h0M1554.4 685.2h0M1462.2 698.3h0M1272.1 704.1h0M1707.2 527.6h0M1917.7 105.2h0M1748.6 376.0h0M2000.2 72.4h0M1991.7 71.1h0M1695.1 547.6h0M1396.8 699.3h0M1656.5 617.3h0M1933.3 93.8h0M1870.2 144.4h0M1930.0 99.0h0M1442.0 697.2h0M1350.1 700.8h0M1273.6 703.9h0M1397.3 701.3h0M1908.0 108.5h0M1349.1 703.2h0M1260.0 703.3h0M1668.4 592.3h0M1306.7 703.0h0M1487.3 694.8h0M1486.5 695.2h0M1780.3 295.2h0M1579.6 679.1h0M1374.2 702.9h0M1737.0 455.7h0M1690.8 574.1h0M1711.2 507.3h0M2021.2 68.1h0M1495.6 694.7h0M1879.5 140.7h0M1424.2 699.9h0M1746.6 400.9h0M1687.8 549.9h0M2027.3 69.3h0M1730.6 472.4h0M1697.4 553.1h0M1768.0 321.4h0M1981.6 75.1h0M1892.2 125.4h0M1653.1 625.6h0M1567.2 678.8h0M1668.6 607.5h0M1816.6 205.3h0M1631.2 652.3h0M1830.6 173.1h0M1395.3 698.4h0M1744.6 417.9h0M1607.2 667.7h0M1478.9 693.9h0M1505.9 692.8h0M1887.2 130.7h0M1460.3 697.3h0M1430.4 698.0h0M1735.2 409.0h0M1744.3 408.4h0M1835.5 177.7h0M1789.0 296.5h0M1572.9 682.0h0M1445.8 697.2h0M1472.7 694.7h0M1817.0 201.9h0M1985.0 76.0h0M1461.0 694.3h0M1410.8 699.4h0M1672.9 584.7h0M1743.3 415.8h0M1791.8 287.6h0M1765.9 337.1h0M1256.7 702.1h0M1701.4 519.0h0M1488.3 694.8h0M1842.7 168.9h0M1744.1 401.3h0M1801.9 234.9h0M1535.9 690.2h0M1814.5 228.7h0M1397.8 701.5h0M1755.5 371.6h0M1699.0 556.0h0M1804.6 243.0h0M1734.5 421.3h0M1394.1 700.1h0M1245.2 700.1h0M1825.9 196.6h0M1748.6 393.9h0M1716.2 468.7h0M1807.1 243.9h0M1673.1 590.2h0M1353.9 702.8h0M1601.9 668.0h0M1849.0 171.5h0M1811.2 238.2h0M1268.7 704.5h0M1663.0 615.0h0M1758.9 343.8h0M1801.8 287.5h0M1768.4 326.5h0M2007.5 70.0h0M1478.8 696.6h0M1303.0 706.0h0M1426.2 698.3h0M1898.3 125.5h0M1700.6 548.2h0M2010.8 71.1h0M1865.9 142.6h0M1671.6 598.1h0M1522.5 688.6h0M1628.6 654.5h0M1531.0 687.1h0M1301.1 702.8h0M1716.4 495.1h0M1874.8 137.4h0M1692.9 561.1h0M1472.6 696.5h0M1936.6 88.1h0M1520.3 689.7h0M1814.1 248.9h0M1674.4 597.9h0M1727.6 452.2h0M1787.5 284.6h0M1831.8 187.7h0M1379.1 701.1h0M1876.4 141.5h0M1555.9 682.3h0M1520.4 689.4h0M1656.0 618.7h0M1721.3 456.5h0M1478.2 694.9h0M1701.1 541.7h0M1283.4 700.8h0M1404.6 700.9h0M1505.2 691.1h0M1828.2 196.9h0M1471.1 696.2h0M1737.6 430.0h0M1950.6 82.9h0M1667.7 611.5h0M1883.4 129.7h0M1910.0 104.9h0M1713.3 502.9h0M1276.6 704.1h0M1743.6 406.1h0M1826.2 195.6h0M1488.9 694.1h0M1956.1 83.5h0M1308.5 701.2h0M1498.7 694.0h0M1980.0 75.5h0M1573.4 680.3h0M1380.2 701.4h0M1818.5 214.7h0M1735.9 437.2h0M1762.6 352.2h0M1333.0 701.2h0M1829.5 188.3h0M1251.3 705.1h0M1747.6 389.2h0M1281.3 704.7h0M2037.6 65.8h0M2000.5 70.8h0M1316.3 705.3h0M1789.0 279.3h0M1794.7 269.3h0M1808.2 239.5h0M1727.5 471.8h0M1592.4 669.7h0M1563.7 685.0h0M1422.8 695.9h0M1405.9 697.1h0M1637.8 643.2h0M1773.9 329.6h0M1806.4 240.3h0M1450.2 696.2h0M1652.4 635.8h0M1937.5 92.3h0M1773.3 331.3h0M1416.4 700.7h0M1724.4 479.4h0M1320.0 703.3h0M1758.6 353.9h0M1636.8 652.0h0M1424.0 698.8h0M1464.7 694.9h0M1736.2 451.6h0M1285.5 702.5h0M1850.4 162.8h0M1396.2 702.2h0M1243.7 704.9h0M1367.3 701.0h0M1749.9 402.3h0M2003.0 71.7h0M1339.6 702.7h0M1848.3 160.7h0M1350.9 701.8h0M1764.3 334.3h0M1816.6 223.5h0M1445.4 698.7h0M1316.9 703.5h0M1871.4 151.4h0M1951.3 83.6h0M1269.5 707.1h0M1333.5 701.6h0M1736.5 390.9h0M1671.5 604.9h0M1678.0 583.9h0M1753.4 363.6h0M1247.9 703.1h0M1654.3 626.1h0M1647.3 629.8h0M1693.5 534.0h0M1500.0 691.2h0M1675.8 575.6h0M1568.5 682.2h0M1917.4 104.5h0M1288.2 704.0h0M1267.1 703.6h0M1745.8 415.3h0M1252.7 703.7h0M1963.2 77.5h0M1413.2 701.7h0M1747.1 405.7h0M1382.4 701.3h0M1815.9 201.4h0M1637.0 649.3h0M1623.0 661.7h0M2039.8 65.9h0M1788.9 284.1h0M1840.5 161.3h0M1569.8 677.6h0M2024.6 65.7h0M1549.7 687.2h0M1366.9 701.2h0M1475.0 695.0h0M1650.6 630.2h0M1640.6 646.7h0M1481.1 696.3h0M1737.9 427.1h0M1576.2 676.5h0M1407.1 697.6h0M1842.2 163.4h0M1841.6 173.5h0M1515.4 691.3h0M1261.7 703.5h0M2015.7 67.6h0M1397.4 701.4h0M1339.2 702.7h0M1953.3 80.7h0M1345.9 703.2h0M1306.6 703.4h0M1337.7 703.1h0M1578.7 676.9h0M1344.0 703.9h0M1635.0 646.9h0M1499.4 694.2h0M1954.9 81.7h0M2041.1 63.1h0M1679.0 584.8h0M1453.0 698.5h0M1877.3 135.3h0M1455.5 698.5h0M1776.9 323.3h0M1931.1 93.0h0M1465.6 697.0h0M1283.9 706.8h0M1684.2 575.3h0M1758.0 367.0h0M1492.1 693.4h0M1412.0 698.3h0M1774.4 321.7h0M1831.2 202.6h0M1915.5 106.4h0M1859.5 147.5h0M1531.1 689.1h0M1827.2 201.7h0M1390.4 702.2h0M1731.6 454.3h0M1411.3 701.8h0M1970.7 78.1h0M1710.2 529.2h0M1944.7 89.9h0M1748.9 418.7h0M1718.6 507.4h0M1705.6 514.0h0M1975.1 77.0h0M1292.1 704.9h0M1968.0 77.5h0M1805.1 263.5h0M1810.2 231.7h0M1482.7 695.3h0M1245.2 705.6h0M1471.0 696.3h0M1440.6 700.5h0M1774.5 302.4h0M1696.3 553.7h0M1689.7 566.1h0M1406.1 702.5h0M1286.9 704.1h0M1896.7 131.3h0M1666.4 607.4h0M1358.0 703.9h0M1372.6 703.1h0M1561.5 683.8h0M1600.6 669.6h0M1312.3 703.1h0M1307.6 705.1h0M1782.0 289.6h0M1807.4 226.0h0M1549.6 685.5h0M1462.4 695.4h0M1375.0 702.4h0M1855.3 163.0h0M1866.0 147.0h0M1428.0 699.2h0M1721.1 477.4h0M1284.3 704.5h0M1770.4 320.3h0M1955.0 78.5h0M1677.3 580.4h0M1970.7 74.8h0M1761.1 337.3h0M1273.8 705.2h0M1737.0 429.7h0M2044.5 63.5h0M1722.9 470.6h0M1515.5 691.1h0M1984.7 73.3h0M1555.5 686.0h0M1453.5 696.3h0M1798.0 260.2h0M1700.0 534.2h0M1784.3 299.8h0M1659.5 605.5h0M1709.2 515.3h0M1927.9 97.6h0M1657.2 624.3h0M1479.7 697.1h0M1889.5 130.5h0M1400.5 702.4h0M1690.5 561.5h0M1622.3 658.1h0M1656.9 619.0h0M1803.0 262.9h0M1242.1 704.9h0M1507.9 691.5h0M1405.1 698.9h0M1891.6 128.6h0M1568.5 680.2h0M1721.0 471.3h0M1592.1 675.6h0M1477.0 698.3h0M1828.6 190.7h0M1823.5 191.2h0M1484.4 696.1h0M1875.6 139.9h0M1449.9 698.6h0M1286.3 704.0h0M1640.3 636.8h0M1395.5 698.1h0M1743.8 393.6h0M1375.2 699.9h0M1561.0 681.5h0M1629.9 654.9h0M1558.2 686.8h0M1478.1 697.2h0M2048.0 62.6h0M1668.3 598.2h0M1363.1 700.0h0M1325.5 703.9h0M1811.8 226.2h0M1951.5 83.6h0M1961.0 75.2h0M1830.6 187.7h0M1261.6 705.2h0M1722.3 479.4h0M1718.8 495.1h0M1878.5 135.4h0M1716.5 503.8h0M1694.7 569.1h0M2028.2 66.6h0M1503.7 693.6h0M1393.3 698.1h0M1427.4 701.8h0M1413.7 700.1h0M1451.1 696.6h0M1966.5 79.6h0M1324.6 703.2h0M1684.7 560.4h0M1752.7 363.2h0M1282.1 704.3h0M1412.2 701.8h0M1637.6 632.6h0M2056.2 60.8h0M2050.0 65.7h0M1657.0 611.0h0M1320.4 704.3h0M1616.5 658.0h0M1668.0 602.8h0M1493.9 691.5h0M1734.5 439.0h0M1898.8 125.5h0M1243.0 705.6h0M1812.1 235.3h0M1872.1 133.7h0M1810.7 237.0h0M1580.4 679.9h0M1803.8 231.8h0M2057.1 62.7h0M1405.0 700.5h0M2011.7 67.4h0M1324.8 701.6h0M1422.5 698.5h0M1568.4 681.6h0M1738.8 439.8h0M1409.7 700.2h0M1294.0 702.7h0M1535.4 687.9h0M2045.1 63.6h0M1296.8 701.9h0M1609.0 661.3h0M1625.8 649.0h0M1274.2 707.0h0M1730.7 464.1h0M1286.2 704.3h0M1643.5 632.0h0M1641.6 630.0h0M1770.2 329.8h0M1367.4 701.4h0M2000.3 70.6h0M1498.9 692.3h0M1374.1 699.4h0M1437.4 698.3h0M1684.2 575.7h0M1578.0 677.5h0M1818.4 207.7h0M1753.9 369.8h0M1847.1 167.1h0M1715.5 494.4h0M1511.1 691.7h0M1694.2 549.1h0M2026.1 66.5h0M1705.9 527.1h0M1603.7 667.0h0M1833.8 181.9h0M1499.6 692.9h0M1362.4 699.4h0M1377.9 701.2h0M2059.8 61.6h0M1910.5 118.8h0M1391.2 698.5h0M2017.6 65.2h0M1442.6 697.0h0M1936.7 86.4h0M1954.5 81.5h0M1415.7 699.0h0M1831.0 191.7h0M1553.5 685.2h0M1507.5 692.0h0M1537.1 690.5h0M1633.7 639.8h0M1795.2 283.5h0M1273.4 704.7h0M1791.1 276.6h0M1885.0 130.8h0M1947.5 83.0h0M1682.7 565.2h0M2005.8 67.8h0M1494.9 694.9h0M1728.2 471.0h0M1848.4 161.4h0M1728.7 445.0h0M1539.2 686.4h0M1811.2 240.3h0M1323.0 704.0h0M1533.0 689.5h0M1573.9 682.8h0M1968.6 77.5h0M1342.2 701.3h0M1321.5 703.6h0M1748.8 382.5h0M1691.1 572.2h0M1871.3 141.2h0M1491.1 694.0h0M1818.7 205.5h0M1414.2 699.2h0M1739.7 415.6h0M1403.4 698.6h0M1725.6 437.1h0M1571.4 680.8h0M1687.6 575.6h0M1550.5 684.9h0M1770.0 320.9h0M1863.4 152.3h0M1753.5 353.7h0M1788.4 273.7h0M1666.9 616.3h0M1666.2 605.1h0M1649.2 628.3h0M1997.3 72.7h0M1456.0 696.9h0M1534.9 687.8h0M1885.6 132.3h0M1774.4 327.1h0M1750.7 348.2h0M1786.7 281.4h0M1542.4 686.4h0M1253.9 702.6h0M1831.5 182.4h0M1708.0 508.1h0M1671.4 596.8h0M1584.1 676.0h0M1857.9 157.2h0M1544.0 688.6h0M1821.8 185.5h0M1732.8 435.5h0M1375.4 701.0h0M1429.8 699.6h0M1274.2 704.7h0M1960.0 79.7h0M1335.3 704.1h0M1806.8 246.5h0M1331.4 700.7h0M1555.2 685.1h0M1805.0 256.9h0M1732.2 422.0h0M1920.2 104.5h0M1553.1 687.1h0M1681.5 580.4h0M1957.8 81.1h0M1618.2 661.9h0M1527.9 690.2h0M1321.7 705.0h0M1970.6 77.9h0M1753.8 382.7h0M1594.4 675.4h0M1682.8 576.1h0M1465.0 697.3h0M1729.8 459.2h0M1434.8 697.3h0M1320.9 705.1h0M1778.6 325.0h0M1847.6 161.4h0M1552.8 687.9h0M1288.6 704.9h0M1604.1 668.5h0M1277.8 706.7h0M1709.7 526.1h0M1731.6 438.8h0M1810.9 216.3h0M1762.2 376.7h0M1959.7 72.8h0M1646.3 633.9h0M1767.1 341.6h0M1848.6 156.2h0M1248.4 705.4h0M1338.4 704.1h0M2048.6 62.3h0M1558.2 682.8h0M1874.9 146.6h0M1631.6 655.6h0M1330.9 701.3h0M1552.9 687.8h0M1315.9 704.2h0M1538.8 689.5h0M1662.3 611.3h0M1576.7 680.4h0M1890.9 126.5h0M1917.3 111.0h0M1725.6 466.2h0M1714.7 509.2h0" stroke="#000" stroke-width="5.9" stroke-linecap="round" fill="none"/>
<path d="M2029.7 717.3h0M2003.5 743.4h0M1635.9 764.5h0M1358.1 771.0h0M1872.3 757.9h0M1573.5 776.3h0M1938.4 712.2h0M1406.3 775.8h0M1504.9 771.0h0M1882.7 760.6h0M1381.0 773.7h0M1310.5 770.9h0M1774.8 763.2h0M1823.0 745.1h0M1970.9 757.2h0M1456.3 770.7h0M1912.3 754.0h0M1993.4 762.0h0M2019.7 755.9h0M1658.2 771.7h0M1360.5 767.7h0M1966.3 703.9h0M1889.6 723.5h0M1872.2 763.0h0M1901.9 754.4h0M1453.5 769.6h0M1405.3 770.2h0M1368.1 773.5h0M1403.9 758.5h0M1411.8 774.4h0M1299.0 748.2h0M1949.5 725.1h0M1914.9 751.4h0M2004.0 711.6h0M1671.5 765.2h0M1897.8 757.6h0M1279.6 774.7h0M1636.2 765.1h0M1619.8 765.3h0M1410.3 767.8h0M1731.4 775.3h0M1728.8 769.0h0M1795.6 769.7h0M1987.9 739.9h0M1916.2 709.8h0M1856.4 741.8h0M1858.4 750.4h0M1608.0 775.0h0M1884.9 765.6h0M1989.0 758.6h0M1275.5 759.1h0M1820.1 738.8h0M1884.6 764.6h0M1772.7 767.5h0M1967.3 749.2h0M1900.6 746.0h0M1480.4 745.8h0M1821.5 759.6h0M1543.0 759.0h0M1827.5 738.7h0M1384.7 773.2h0M1268.2 744.3h0M2005.4 684.3h0M1960.1 694.9h0M1452.4 755.0h0M1959.8 725.9h0M1627.5 770.2h0M1905.9 761.8h0M1999.5 674.8h0M1882.6 728.1h0M2031.1 696.8h0M1614.8 767.3h0M1922.6 737.5h0M2062.2 666.5h0M1873.4 761.4h0M1748.8 763.5h0M2045.1 762.7h0M1852.9 760.7h0M1684.6 770.2h0M1777.2 749.0h0M1487.2 772.5h0M2024.7 759.5h0M1707.3 767.9h0M1996.8 747.9h0M1472.4 747.9h0M1724.1 764.1h0M1695.5 770.2h0M1994.0 745.1h0M1974.1 762.3h0M1842.0 715.0h0M1333.4 774.6h0M1540.2 773.4h0M1439.3 772.9h0M1867.4 761.4h0M1634.5 772.4h0M1421.3 748.3h0M1419.9 744.1h0M1885.9 738.3h0M1657.9 772.3h0M2049.4 653.6h0M1684.9 776.2h0M1941.6 760.7h0M1295.1 772.7h0M2013.5 726.1h0M1410.6 748.2h0M1945.8 765.3h0M1652.8 769.8h0M2043.0 451.6h0M2032.4 728.7h0M1958.8 755.7h0M1675.1 756.9h0M2007.8 758.7h0M1859.4 763.3h0M2037.3 709.5h0M1527.9 773.7h0M2020.5 725.2h0M1715.3 762.7h0M1962.4 757.9h0M1896.6 759.6h0M1388.0 773.0h0M1254.3 771.3h0M1849.4 761.0h0M1851.3 766.0h0M1703.0 764.9h0M1908.2 760.3h0M1898.1 756.8h0M1306.3 776.1h0M1699.0 771.1h0M1605.9 740.4h0M1681.0 772.9h0M1698.1 750.2h0M1637.7 743.4h0M1820.5 729.7h0M1385.3 771.0h0M1555.9 775.2h0M1599.6 773.9h0M1962.1 759.5h0M1379.1 772.9h0M1914.1 759.5h0M1264.8 770.5h0M1304.9 773.3h0M2016.6 665.7h0M1725.1 738.7h0M1513.8 775.6h0M1242.0 755.1h0M1508.5 776.3h0M1996.1 703.3h0M1869.8 745.9h0M1579.1 771.9h0M1466.1 773.2h0M2033.9 674.5h0M1268.5 773.9h0M1985.5 764.6h0M1402.1 758.5h0M1711.6 737.9h0M1427.5 773.5h0M1706.0 767.5h0M1413.4 769.9h0M1632.4 773.2h0M1888.0 739.0h0M1933.3 762.7h0M1418.4 753.7h0M1880.9 698.5h0M1956.1 715.5h0M1555.2 775.7h0M1887.2 716.4h0M1927.6 763.1h0M1952.8 750.0h0M1335.6 770.9h0M2008.3 767.0h0M1427.0 773.2h0M1867.8 751.6h0M1346.9 771.6h0M1279.7 769.1h0M1558.0 774.9h0M1949.6 746.1h0M1894.4 752.0h0M1863.8 751.6h0M1782.3 772.7h0M1979.4 763.8h0M1875.7 731.8h0M1578.9 768.5h0M1482.0 767.5h0M1606.2 747.3h0M1797.7 770.6h0M1720.1 773.7h0M1413.1 752.6h0M1863.4 763.5h0M1252.1 774.7h0M1399.5 771.5h0M1958.6 763.2h0M1752.8 739.1h0M1383.9 771.0h0M1590.9 745.6h0M2013.9 684.8h0M1795.8 756.5h0M1482.6 769.2h0M1990.2 727.6h0M1762.0 738.1h0M1454.5 773.5h0M1363.0 753.5h0M1991.0 760.9h0M1726.0 775.2h0M1909.3 757.6h0M2056.9 629.6h0M1441.7 771.8h0M2008.2 757.5h0M1999.3 768.4h0M1437.0 769.1h0M1408.7 769.8h0M1985.9 745.6h0M1795.4 770.0h0M1939.7 722.4h0M1406.2 752.0h0M2049.8 688.5h0M1467.1 772.5h0M1906.5 739.1h0M1917.1 756.9h0M1252.5 768.0h0M1282.2 772.2h0M1968.5 715.7h0M1774.7 761.9h0M1921.3 731.4h0M1916.1 743.5h0M2054.7 508.3h0M1863.6 739.9h0M2020.0 767.0h0M2036.0 708.0h0M1349.9 773.5h0M1714.8 740.5h0M1935.8 747.8h0M1833.2 750.8h0M1802.9 774.7h0M2004.0 724.6h0M2054.4 762.3h0M1448.8 775.4h0M1768.0 771.0h0M1911.2 742.8h0M1598.9 775.1h0M2053.2 721.9h0M1828.4 718.6h0M1973.3 759.8h0M2016.9 731.8h0M2049.1 713.9h0M1276.1 774.5h0M1288.1 774.6h0M1641.1 769.0h0M1792.6 768.0h0M1854.8 763.3h0M1651.3 751.3h0M1840.1 727.1h0M1537.8 772.2h0M1691.9 767.7h0M2048.5 764.6h0M1386.4 769.2h0M1808.3 763.9h0M1856.8 765.4h0M1928.6 725.5h0M1827.7 740.2h0M1866.2 768.6h0M1519.9 766.5h0M1906.8 723.2h0M1384.9 772.5h0M1755.9 773.8h0M1959.8 730.1h0M1635.0 769.9h0M1740.3 765.6h0M1436.2 773.2h0M1390.3 776.1h0M1517.9 776.9h0M2001.7 667.6h0M1606.7 772.1h0M1321.2 772.6h0M2013.6 757.8h0M1249.6 769.1h0M1850.4 753.4h0M1808.4 739.3h0M1839.6 764.8h0M1864.9 697.3h0M1832.4 766.0h0M1544.7 771.6h0M1867.3 733.3h0M1351.3 776.2h0M1917.6 762.8h0M1329.5 747.0h0M1675.4 766.8h0M1542.1 750.5h0M1407.6 776.1h0M1981.3 743.1h0M1329.0 768.3h0M1361.5 774.9h0M2056.2 762.8h0M1879.6 732.1h0M1833.4 763.9h0M1967.1 760.9h0M1486.8 770.0h0M1847.4 749.5h0M1562.8 776.0h0M1911.1 759.3h0M1757.6 764.2h0M1703.8 772.7h0M2011.7 754.9h0M1421.7 773.7h0M1904.0 719.7h0M1561.2 747.9h0M2058.4 711.2h0M1888.0 724.5h0M1899.2 757.9h0M1908.1 745.7h0M1803.4 755.2h0M2001.1 761.6h0M1901.3 732.9h0M1415.0 773.9h0M1862.4 755.9h0M1658.3 770.6h0M1969.8 722.7h0M1473.9 774.5h0M1344.3 773.6h0M1651.1 740.3h0M1292.1 772.8h0M2040.1 766.1h0M1369.9 760.8h0M1974.6 753.9h0M1293.0 776.2h0M1791.7 750.6h0M1619.6 752.1h0M1901.0 755.9h0M1428.8 773.0h0M1688.2 762.5h0M1921.8 738.5h0M1996.3 730.1h0M1969.8 764.4h0M1318.4 754.3h0M1468.5 756.7h0M1615.9 753.0h0M1375.6 768.8h0M1883.1 764.8h0M1887.9 732.5h0M2037.0 760.2h0M1430.9 742.3h0M1917.7 738.5h0M1991.8 746.5h0M1918.8 762.5h0M1718.9 771.1h0M1506.3 771.4h0M2042.1 719.5h0M1349.4 772.8h0M2015.4 761.8h0M1451.6 774.5h0M1756.2 768.1h0M1832.9 767.4h0M1967.9 731.1h0M1730.7 768.4h0M1251.4 776.4h0M1549.8 776.2h0M1869.4 748.8h0M1653.2 743.9h0M1751.3 771.2h0M1543.1 773.4h0M1909.6 749.1h0M1332.1 770.8h0M2056.9 638.5h0M1923.3 727.3h0M2010.2 693.2h0M1334.4 743.3h0M1823.2 767.5h0M1861.1 738.1h0M1565.5 765.0h0M1887.4 748.4h0M1833.4 734.3h0M1684.7 770.9h0M1245.7 774.2h0M1968.5 762.1h0M1963.3 761.6h0M1593.7 771.6h0M1891.8 761.4h0M1924.2 756.4h0M1352.2 771.9h0M1817.9 750.4h0M1954.8 740.1h0M1673.2 771.6h0M2004.6 714.4h0M1428.4 768.1h0M1637.3 771.0h0M1542.5 766.4h0M1813.0 735.5h0M1443.6 772.3h0M1713.7 767.2h0M1616.6 769.3h0M1387.0 776.0h0M1691.3 769.3h0M1244.1 770.0h0M1998.9 756.7h0M1581.0 771.0h0M1946.5 755.8h0M1944.9 759.0h0M1972.0 723.0h0M1925.4 722.7h0M1832.6 753.6h0M1512.4 745.6h0M1442.5 776.8h0M1880.9 748.0h0M1837.9 745.2h0M2014.2 726.4h0M1325.0 774.3h0M1575.0 771.2h0M1668.7 771.2h0M1628.3 768.0h0M1671.5 770.8h0M1608.3 767.5h0M1388.0 771.8h0M1855.6 725.7h0M1859.3 767.1h0M1798.0 775.8h0M1926.6 762.9h0M1249.8 769.7h0M1824.0 764.0h0M1979.0 715.6h0M1735.8 771.5h0M1517.4 775.1h0M1625.9 768.4h0M1339.4 772.1h0M1640.0 768.8h0M1757.3 768.2h0M1410.3 768.8h0M1862.9 736.4h0M1592.0 751.8h0M1688.7 740.6h0M2041.5 724.6h0M1403.6 773.2h0M1738.1 768.1h0M1768.9 765.9h0M2035.8 755.2h0M2019.2 765.3h0M2024.4 721.4h0M1695.8 769.5h0M1760.8 766.6h0M1513.5 774.4h0M1359.2 771.3h0M1882.0 741.9h0M1801.5 766.4h0M1808.6 766.0h0M1575.4 770.5h0M1949.0 745.1h0M1759.4 770.6h0M1506.0 771.7h0M1551.8 772.3h0M1858.9 750.4h0M2002.2 727.2h0M1888.6 754.2h0M1306.2 774.2h0M1928.9 763.6h0M1794.7 750.1h0M1865.0 745.6h0M2047.9 674.8h0M1493.8 774.2h0M1946.6 744.8h0M1304.6 774.0h0M1953.6 759.5h0M1888.4 762.3h0M1837.5 761.0h0M1364.0 770.6h0M1513.5 770.6h0M1614.1 769.1h0M1719.9 757.0h0M1341.7 771.1h0M1320.3 749.7h0M1448.7 774.3h0M1627.6 770.5h0M1271.9 756.6h0M2061.0 763.1h0M1729.2 740.1h0M1942.7 721.4h0M1474.8 771.5h0M2046.7 762.3h0M1498.2 773.1h0M2038.3 672.1h0M1965.4 763.1h0M1879.7 762.5h0M1818.7 769.3h0M1790.8 742.0h0M1956.7 759.0h0M1960.8 762.4h0M1851.1 762.3h0M1756.0 762.6h0M1873.1 766.1h0M1429.3 773.5h0M1621.7 773.1h0M1998.2 714.6h0M1524.1 759.9h0M1778.8 740.8h0M1864.1 757.8h0M1592.1 771.1h0M1836.4 768.5h0M1261.1 775.7h0M1931.9 756.1h0M1387.2 772.4h0M1690.9 754.9h0M1761.0 768.7h0M1355.3 741.8h0M1348.0 771.3h0M1912.2 739.0h0M1598.4 755.8h0M1935.7 754.8h0M2050.9 761.2h0M1828.1 767.4h0M2059.7 712.9h0M1245.3 770.7h0M1624.8 771.4h0M1303.9 771.4h0M2016.2 670.2h0M1977.4 721.8h0M1481.5 772.7h0M1921.4 761.5h0M1356.5 746.5h0M1706.3 772.7h0M2026.2 765.6h0M2048.9 508.1h0M1970.4 708.7h0M1601.2 772.8h0M1872.8 765.2h0M1390.8 766.9h0M1974.2 720.6h0M1786.8 747.1h0M2035.3 730.9h0M1489.3 772.1h0M1454.1 759.8h0M1426.4 775.6h0M1959.1 756.2h0M1549.9 774.5h0M1879.9 731.4h0M2016.0 692.2h0M1375.1 773.9h0M1532.1 773.2h0M2036.7 715.5h0M1771.1 762.4h0M2017.0 718.9h0M2024.2 731.3h0M2061.6 760.7h0M1512.2 771.6h0M1996.3 768.8h0M1578.4 767.8h0M1443.8 771.1h0M2041.8 726.5h0M1906.8 760.8h0M1833.1 766.2h0M1424.6 772.4h0M2031.6 762.0h0M1859.0 763.0h0M2013.1 696.5h0M1838.6 748.3h0M1909.6 704.5h0M1327.2 756.3h0M1416.5 767.9h0M1918.7 756.6h0M1619.0 772.3h0M1380.6 755.0h0M1479.3 772.8h0M1360.0 773.8h0M1678.3 748.3h0M1690.8 769.3h0M1615.9 750.3h0M1292.2 769.3h0M1596.1 765.7h0M1844.8 755.7h0M1901.8 762.4h0M1577.2 766.7h0M1865.2 762.9h0M1299.5 771.6h0M1970.6 734.4h0M1947.2 739.4h0M1902.5 756.3h0M1917.0 762.5h0M1530.2 770.1h0M1681.9 769.8h0M1545.6 773.9h0M1722.6 749.0h0M1412.8 776.1h0M1831.6 769.5h0M1803.3 773.8h0M1635.8 775.8h0M1874.5 703.0h0M1936.0 712.7h0M1760.0 739.8h0M1246.2 770.2h0M1378.3 772.6h0M1914.0 764.5h0M1827.0 746.7h0M1267.1 769.7h0M1803.0 772.9h0M1736.3 769.8h0M1662.9 771.8h0M1366.7 775.7h0M1616.3 758.0h0M1770.3 769.2h0M1810.4 762.0h0M1309.0 765.2h0M1947.8 704.8h0M1661.3 773.4h0M1728.0 770.6h0M1719.5 772.4h0M1429.7 767.3h0M1590.4 774.5h0M1628.5 768.4h0M1856.8 766.3h0M2009.2 741.1h0M1939.6 756.7h0M1596.1 751.5h0M1319.0 757.4h0M1699.8 766.6h0M1693.6 771.2h0M1887.0 763.0h0M1528.5 772.9h0M1787.4 747.1h0M1638.4 768.3h0M1361.0 768.0h0M2036.2 611.9h0M1852.4 761.4h0M1913.4 763.0h0M1998.7 764.7h0M1852.1 741.4h0M1979.7 732.3h0M1945.5 726.7h0M2002.0 716.7h0M1826.9 767.9h0M2007.3 764.3h0M1587.7 765.6h0M2026.4 711.8h0M1649.4 749.5h0M1531.4 769.7h0M1632.7 772.3h0M1911.3 760.0h0M1858.7 741.4h0M1886.8 759.4h0M2008.7 758.1h0M1421.5 771.6h0M1402.7 742.6h0M1997.5 738.5h0M1580.6 760.1h0M1739.1 769.9h0M1398.9 769.2h0M1324.0 774.3h0M1462.2 751.4h0M1735.0 768.7h0M1304.0 754.1h0M1663.2 769.5h0M1841.5 736.2h0M1834.9 750.9h0M1764.8 741.8h0M1895.3 761.8h0M1462.1 775.4h0M1925.9 735.3h0M1649.9 770.1h0M1839.6 752.4h0M1498.0 775.0h0M1910.7 745.0h0M2018.2 736.0h0M1446.3 755.2h0M1610.8 773.3h0M1987.5 695.3h0M1982.9 747.1h0M1710.3 769.3h0M2013.1 746.9h0M1452.8 756.1h0M2041.0 681.2h0M1816.2 769.0h0M1572.8 766.1h0M1431.9 773.3h0M2030.5 760.0h0M1930.2 741.3h0M1920.6 763.0h0M1607.6 774.2h0M1779.1 774.5h0M1792.3 740.9h0M1662.1 773.7h0M1356.2 774.6h0M1958.4 727.8h0M1840.0 759.2h0M1249.6 776.1h0M1879.5 747.9h0M1360.4 770.7h0M1688.2 744.5h0M1872.7 762.0h0M1372.8 770.6h0M1608.5 771.7h0M1960.4 733.1h0M2044.2 718.9h0M1940.5 728.6h0M1830.2 738.3h0M1404.9 770.9h0M2024.5 766.1h0M1932.6 761.2h0M1978.6 762.6h0M1661.7 769.0h0M1708.0 770.7h0M1990.0 721.2h0M1675.3 774.9h0M1485.3 755.7h0M1272.6 774.5h0M1970.2 705.4h0M1656.2 769.7h0M1587.9 746.0h0M1514.5 743.9h0M1939.8 762.9h0M1912.0 741.6h0M1806.5 773.4h0M1659.0 774.2h0M1459.6 769.2h0M1940.7 733.4h0M2037.0 769.7h0M1249.8 772.1h0M2021.6 762.5h0M2042.7 756.5h0M1971.6 726.8h0M1964.8 731.1h0M1645.3 770.1h0M2030.0 670.9h0M1983.7 763.8h0M1438.0 741.0h0M1544.1 744.1h0M2008.1 759.3h0M1729.9 751.9h0M1488.3 773.1h0M2036.2 762.1h0M1519.9 773.4h0M1873.3 758.6h0M1984.8 744.8h0M1564.0 772.7h0M1349.8 771.6h0M1988.9 763.0h0M2045.7 758.5h0M2000.5 722.6h0M1834.5 746.9h0M1992.8 759.3h0M2048.7 707.3h0M1990.6 739.0h0M1783.8 773.2h0M1391.5 770.0h0M1993.2 705.7h0M1872.5 768.5h0M1342.9 755.5h0M1940.1 736.5h0M1868.7 755.6h0M1770.3 770.2h0M1685.8 774.5h0M1547.2 766.2h0M1367.5 772.1h0M1275.5 774.7h0M1982.8 727.3h0M1631.4 752.6h0M1916.6 757.5h0M1357.1 771.8h0M1590.1 752.6h0M1629.6 775.4h0M1838.2 732.0h0M1675.5 753.0h0M1747.8 771.2h0M1891.8 764.4h0M1778.3 764.1h0M1583.5 776.4h0M1725.8 766.7h0M1668.6 771.0h0M1745.2 766.6h0M1611.2 750.9h0M1513.8 770.1h0M1473.6 770.4h0M1419.0 775.0h0M1288.3 773.4h0M1618.3 755.0h0M1687.7 755.3h0M1845.2 766.9h0M1888.3 757.9h0M1786.6 770.2h0M1643.6 773.4h0M2035.3 722.9h0M1693.0 773.5h0M1859.8 766.0h0M1380.5 772.8h0M1927.5 687.9h0M1865.8 745.3h0M1606.0 775.2h0M1928.6 758.5h0M1601.9 771.3h0M1623.3 751.8h0M2000.7 754.5h0M1752.0 773.0h0M2059.9 564.8h0M1613.2 759.4h0M1625.7 755.7h0M1805.4 768.0h0M2013.6 721.7h0M1349.0 771.0h0M1480.0 774.1h0M1489.5 767.8h0M1908.6 761.9h0M2011.4 762.1h0M1382.3 770.6h0M1862.7 735.8h0M1869.6 763.0h0M2032.4 722.9h0M1654.2 772.7h0M1623.8 769.1h0M1578.3 772.7h0M1694.6 776.9h0M1785.5 756.1h0M1388.8 758.3h0M1672.9 752.8h0M1923.4 744.7h0M1968.7 759.9h0M1989.4 741.1h0M1575.6 766.2h0M1993.7 649.7h0M1624.3 760.1h0M1256.9 766.3h0M1963.6 762.2h0M1876.3 736.6h0M1832.9 748.4h0M1985.7 725.1h0M1842.4 762.3h0M1784.9 752.8h0M1965.9 732.1h0M1926.3 720.5h0M1884.4 722.8h0M1759.3 765.9h0M1832.0 734.9h0M1677.0 770.7h0M1724.9 773.2h0M1986.5 724.3h0M1272.3 775.0h0M1759.7 769.4h0M1861.2 760.0h0M1892.8 766.9h0M1371.0 761.0h0M1674.7 774.1h0M1895.4 758.4h0M1442.8 774.4h0M1248.7 773.7h0M1853.5 762.3h0M1535.6 769.6h0M1542.4 771.3h0M2034.3 759.9h0M1399.1 767.7h0M1927.6 755.3h0M1302.8 773.6h0M1303.3 774.8h0M2060.0 761.5h0M1781.6 764.8h0M1598.5 766.6h0M1600.4 743.0h0M1636.3 773.9h0M1873.2 746.7h0M1785.2 728.8h0M1518.9 767.3h0M1934.2 741.2h0M1855.2 756.6h0M1847.7 729.2h0M1952.9 761.7h0M1313.5 770.8h0M1975.2 756.5h0M1719.1 773.8h0M1623.4 772.8h0M1845.3 771.5h0M1637.2 768.5h0M1787.7 770.4h0M1950.4 753.5h0M1513.5 772.8h0M1429.3 772.2h0M1353.4 760.3h0M2044.0 455.2h0M1374.1 740.9h0M1516.4 772.4h0M1733.8 770.0h0M1367.9 745.6h0M1883.8 755.5h0M1411.4 774.7h0M1476.6 773.1h0M1569.5 765.1h0M1870.4 761.9h0M1811.3 761.7h0M1835.1 754.7h0M1850.4 756.2h0M1811.3 770.9h0M1716.1 767.2h0M1899.9 740.3h0M1845.7 765.2h0M1409.8 759.0h0M1904.6 763.9h0M1717.8 765.9h0M1762.6 769.7h0M1845.2 730.4h0M1887.9 764.6h0M1540.8 743.7h0M1893.8 740.5h0M1697.7 740.3h0M1351.1 770.7h0M1881.8 759.3h0M2040.0 722.4h0M1948.4 721.0h0M1473.0 774.1h0M1997.7 712.9h0M1978.7 709.6h0M1245.8 773.3h0M1316.6 767.7h0M1407.4 751.0h0M1272.4 774.2h0M1911.6 721.0h0M1266.9 776.4h0M1321.8 773.7h0M1360.5 744.5h0M2014.5 589.4h0M2054.0 679.8h0M1925.7 762.1h0M1448.8 774.5h0M1893.5 728.5h0M1829.5 752.1h0M1722.3 737.9h0M1934.1 755.7h0M1343.1 770.4h0M1520.6 742.0h0M1284.7 750.7h0M1867.9 737.1h0M1947.4 737.8h0M1360.3 764.8h0M1396.1 776.0h0M2035.9 664.2h0M1626.0 768.8h0M1675.7 756.5h0M1506.4 772.7h0M2052.8 764.6h0M1563.2 754.7h0M1756.0 772.1h0M1279.3 775.3h0M1811.5 763.0h0M1652.2 753.6h0M1609.3 756.7h0M1856.5 725.9h0M1990.7 761.9h0M1456.0 744.9h0M1789.0 766.0h0M1355.9 751.9h0M1495.9 756.6h0M1904.9 701.9h0M1390.6 752.6h0M1373.4 769.1h0M1820.2 768.7h0M1548.6 771.9h0M1402.6 774.1h0M1572.5 745.9h0M1871.4 762.2h0M1922.9 715.4h0M1487.8 770.5h0M2024.0 741.9h0M1908.1 702.8h0M1392.8 775.0h0M1575.5 773.3h0M1954.9 759.3h0M2044.5 645.6h0M1745.8 769.3h0M1763.5 735.8h0M1503.2 766.4h0M1899.1 764.9h0M1970.5 740.0h0M1527.8 767.7h0M2058.5 451.0h0M2057.1 669.2h0M1676.8 773.4h0M1388.1 770.5h0M2045.2 637.5h0M1703.0 744.6h0M1872.0 750.2h0M2055.8 761.4h0M1364.1 772.1h0M2045.4 658.5h0M1795.6 745.4h0M1728.1 767.1h0M1998.7 746.8h0M1803.1 761.3h0M1451.7 744.7h0M1688.6 775.6h0M1418.5 771.5h0M1931.0 759.1h0M1977.1 760.4h0M2037.2 719.7h0M1905.4 757.3h0M1334.4 774.6h0M1858.1 760.5h0M1764.2 766.1h0M1603.0 770.9h0M1256.4 772.2h0M1770.6 768.4h0M1852.3 751.9h0M1321.6 775.4h0M1854.8 764.3h0M1591.0 756.3h0M1512.8 741.7h0M1591.0 772.9h0M1716.1 773.6h0M2044.6 767.6h0M1404.9 776.1h0M1822.0 751.8h0M2042.3 689.9h0M1973.7 715.7h0M2014.0 732.3h0M2018.7 645.1h0M2054.9 460.1h0M1844.8 762.5h0M1931.5 754.0h0M1974.5 757.0h0M1843.5 764.5h0M1437.8 773.1h0M1443.9 768.8h0M1813.2 768.7h0M1806.2 746.9h0M1990.9 723.1h0M1941.0 750.0h0M1395.2 755.7h0M1501.0 775.0h0M1860.5 730.8h0M1586.5 768.2h0M1699.8 746.3h0M1454.7 772.0h0M1897.5 761.8h0M1968.2 755.8h0M2007.0 760.1h0M1835.6 764.6h0M1929.3 765.0h0M1878.8 721.3h0M1753.6 762.8h0M1759.5 769.9h0M1602.0 768.3h0M1835.8 741.0h0M1972.7 762.1h0M1894.5 731.0h0M1868.8 742.1h0M2025.7 605.6h0M1874.3 759.2h0M1387.6 769.4h0M2044.1 756.3h0M1573.1 776.4h0M2000.0 749.8h0M1628.8 775.2h0M1685.8 769.0h0M1651.3 769.4h0M2046.2 722.9h0M1724.1 736.3h0M1954.5 752.1h0M1814.4 765.6h0M1523.4 758.2h0M1274.6 741.9h0M1856.2 762.9h0M1444.2 773.4h0M1893.5 763.6h0M1847.4 767.7h0M1874.6 753.7h0M1992.1 764.4h0M2058.3 623.8h0M1863.9 740.4h0M1323.0 770.6h0M1819.2 767.3h0M1806.4 753.3h0M2058.7 766.2h0M1875.5 762.4h0M1860.2 767.0h0M1895.2 761.9h0M1333.7 774.3h0M1908.1 761.4h0M1451.2 749.1h0M1520.1 774.5h0M1314.3 771.9h0M1461.7 773.7h0M1300.5 772.9h0M2020.1 724.7h0M1850.2 768.5h0M1264.4 774.6h0M1363.7 773.2h0M1305.6 772.0h0M1998.2 652.9h0M1760.1 740.9h0M1854.6 741.2h0M1972.4 726.4h0M1649.7 769.5h0M1649.3 765.6h0M1801.5 763.9h0M1527.2 750.6h0M1290.5 775.8h0M1869.5 759.3h0M1406.6 747.4h0M1700.7 749.3h0M1669.3 773.5h0M1910.7 724.9h0M1322.4 741.7h0M1416.9 770.9h0M1747.6 753.9h0M1414.9 774.9h0M2000.1 758.0h0M1625.0 768.7h0M1830.6 763.4h0M1461.1 768.3h0M1822.7 725.8h0M1398.9 759.0h0M1685.7 775.2h0M1637.4 768.9h0M1263.2 753.6h0M1331.4 775.5h0M2013.3 717.3h0M1662.7 756.8h0M1692.5 775.0h0M1539.0 774.3h0M1893.9 759.1h0M1989.1 726.6h0M1947.3 743.6h0M1637.3 774.5h0M1621.5 774.7h0M1448.3 772.9h0M1720.2 773.2h0M2014.9 723.4h0M1587.5 744.4h0M1728.5 766.0h0M1875.3 769.3h0M1695.6 767.0h0M1402.2 748.9h0M1476.2 767.9h0M1486.2 772.1h0M1808.0 756.9h0M1776.6 764.2h0M1282.0 768.5h0M1903.9 754.1h0M2048.0 759.1h0M1559.3 752.2h0M1955.4 762.6h0M2056.2 688.6h0M1404.8 766.5h0M1644.7 774.5h0M1822.4 754.6h0M1430.0 742.3h0M1703.4 766.1h0M1562.2 768.8h0M1656.3 775.8h0M1446.5 769.8h0M1590.9 769.1h0M1782.1 744.1h0M1727.1 771.0h0M1436.4 772.6h0M2051.0 717.9h0M1606.2 755.3h0M1606.7 773.5h0M1867.9 734.9h0M2061.7 707.8h0M1263.6 742.9h0M1949.9 762.0h0M1948.4 756.0h0M1566.0 756.6h0M1983.9 764.1h0M2008.4 684.9h0M1737.8 762.9h0M1356.1 772.9h0M1639.6 742.8h0M1272.5 771.6h0M2039.9 719.6h0M1330.5 772.8h0M1458.9 776.6h0M1979.6 763.2h0M2052.5 714.9h0M1795.6 759.9h0M1259.7 769.6h0M1804.6 751.0h0M1987.7 718.0h0M2005.8 734.1h0M2032.4 729.6h0M1292.6 769.9h0M1846.1 723.2h0M1966.3 758.8h0M1454.8 769.8h0M2024.5 713.0h0M1884.9 761.7h0M1904.6 706.4h0M1778.4 769.1h0M2033.5 728.4h0M1896.1 759.4h0M2050.9 724.3h0M1855.7 764.5h0M1964.9 743.2h0M1559.6 745.4h0M1507.2 770.9h0M1899.7 762.1h0M2061.1 705.8h0M1492.1 752.0h0M1938.8 764.6h0M1905.4 762.6h0M1516.4 751.8h0M1433.8 774.9h0M1375.8 775.5h0M1653.4 772.3h0M1292.4 775.8h0M1906.1 748.4h0M1351.7 771.9h0M2024.9 719.4h0M1641.0 752.8h0M1335.4 769.8h0M1372.5 772.9h0M1767.2 775.6h0M1310.5 771.6h0M1590.7 776.8h0M2044.2 758.6h0M1258.8 769.3h0M1719.8 774.3h0M1971.6 715.6h0M1380.8 772.8h0M1887.8 761.7h0M1651.7 772.9h0M1681.2 775.2h0M1895.8 733.8h0M2005.8 673.0h0M1958.2 689.8h0M1382.3 759.6h0M1678.5 772.7h0M1534.8 775.2h0M1433.6 754.9h0M1569.6 771.4h0M1482.3 772.3h0M1364.9 769.5h0M1866.4 729.6h0M1530.9 752.0h0M1352.0 773.0h0M1980.0 742.2h0M1300.8 745.6h0M1915.0 760.9h0M1884.2 759.0h0M1456.2 771.5h0M1945.1 718.7h0M1600.5 745.9h0M1985.9 761.5h0M1899.1 761.0h0M1569.8 762.9h0M1392.1 775.1h0M1982.7 762.2h0M1461.6 776.2h0M1858.6 736.4h0M1595.5 772.6h0M1815.5 764.8h0M1940.1 743.4h0M1909.0 739.3h0M1945.0 759.4h0M1454.9 759.4h0M1791.6 771.8h0M1832.7 759.4h0M1412.0 766.8h0M1927.0 763.9h0M1961.1 676.9h0M1900.2 754.1h0M1727.4 769.3h0M1627.7 749.3h0M1411.6 755.1h0M1867.4 763.3h0M1375.6 761.0h0M1852.2 740.5h0M1801.9 765.0h0M1441.2 775.9h0M1341.1 775.4h0M1954.0 758.3h0M1472.7 747.4h0M1930.2 759.4h0M1810.6 769.9h0M1399.9 771.7h0M1708.8 771.3h0M1439.2 771.4h0M1644.1 772.5h0M1869.8 761.6h0M1341.5 774.3h0M1270.5 741.5h0M1900.0 751.1h0M1864.1 767.5h0M1337.0 748.5h0M1837.9 760.1h0M1486.1 748.7h0M1257.5 775.1h0M1816.0 767.8h0M1274.9 756.1h0M1672.7 767.5h0M1385.3 772.8h0M2050.3 763.9h0M1739.1 736.6h0M1978.5 745.4h0M1983.7 744.3h0M1869.0 708.7h0M1578.9 771.6h0M1632.6 739.9h0M1958.0 713.4h0M1862.4 764.8h0M1689.8 763.8h0M1579.4 772.4h0M1536.9 745.2h0M2012.4 713.4h0M1415.5 769.2h0M1841.6 759.8h0M1505.1 740.9h0M2062.0 761.2h0M1992.0 726.0h0M1967.0 762.7h0M1579.3 772.0h0M1998.9 702.4h0M2033.8 740.7h0M1327.8 775.5h0M1574.8 771.2h0M1246.8 773.5h0M1432.8 773.3h0M1855.6 765.7h0M1244.4 773.2h0M1430.8 771.1h0M1967.4 724.2h0M1560.7 770.5h0M1473.9 773.2h0M2016.7 722.2h0M1367.2 770.9h0M1515.3 776.4h0M1926.9 735.2h0M2017.7 713.3h0M1786.0 743.1h0M1750.5 763.2h0M2007.0 732.1h0M1942.5 760.6h0M1991.8 767.3h0M1991.8 745.1h0M1608.5 746.8h0M1430.0 753.6h0M1863.4 714.5h0M1308.7 749.2h0M1818.6 772.2h0M1557.3 748.8h0M1948.7 730.5h0M1434.7 776.6h0M1862.7 759.2h0M1637.1 771.9h0M1857.6 766.9h0M1538.6 770.0h0M2010.5 759.2h0M1821.5 770.0h0M1998.4 683.4h0M1866.2 765.1h0M1311.8 771.8h0M1361.0 770.2h0M1737.5 766.9h0M1559.7 747.1h0M1891.3 762.4h0M1388.4 772.6h0M1663.8 770.1h0M2020.2 728.3h0M1859.8 732.0h0M1333.7 758.5h0M2048.6 694.7h0M1996.4 758.2h0M1746.8 767.8h0M1998.6 714.8h0M1827.7 768.8h0M1721.6 767.7h0M1885.3 727.5h0M1381.1 775.1h0M2034.9 724.1h0M1436.4 758.1h0M1431.3 750.4h0M1958.5 719.0h0M1447.5 770.1h0M2011.8 758.6h0M1996.2 760.8h0M1641.9 765.1h0M2061.7 709.1h0M2051.6 511.4h0M1998.5 707.2h0M1653.6 771.1h0M1886.1 757.2h0M1951.7 722.0h0M1988.4 768.8h0M1686.7 774.2h0M1975.4 752.2h0M1501.8 770.3h0M1839.6 745.3h0M1905.8 736.5h0M1911.1 734.2h0M1377.6 769.2h0M1640.6 770.6h0M1890.3 740.6h0M1698.9 765.5h0M1939.5 728.6h0M1722.6 772.5h0M1386.4 740.8h0M1737.5 766.8h0M1974.0 760.7h0M1349.2 772.9h0M2048.3 762.7h0M1682.7 774.5h0M2018.7 758.7h0M1689.3 773.3h0M1288.2 763.8h0M1614.0 770.8h0M1356.8 774.8h0M1806.2 753.8h0M1839.1 765.3h0M2032.8 727.3h0M1371.4 770.7h0M2034.9 702.7h0M1575.6 771.7h0M1911.0 767.8h0M1427.0 760.9h0M1951.1 758.7h0M1266.0 776.5h0M1894.6 760.3h0M1542.4 750.7h0M1978.2 730.7h0M1982.8 756.6h0M2034.5 709.4h0M1787.9 761.7h0M2007.6 718.5h0M1703.2 741.9h0M1956.0 760.0h0M1975.4 709.5h0M1749.5 772.9h0M1738.2 770.2h0M1575.3 774.6h0M1864.8 768.8h0M1419.9 774.8h0M1673.8 771.6h0M1514.4 754.1h0M1477.4 772.2h0M2031.2 763.5h0M2029.8 722.2h0M1804.0 747.3h0M1472.1 750.6h0M1838.6 745.9h0M1929.9 761.9h0M1548.4 757.0h0M1279.1 773.9h0M1826.1 750.7h0M1975.1 754.1h0M2042.7 753.0h0M1809.8 744.2h0M1939.5 765.3h0M1852.7 747.5h0M2039.1 727.0h0M1358.9 768.0h0M1642.8 776.6h0M1949.4 734.4h0M2042.5 760.0h0M2016.5 708.4h0M1498.3 759.7h0M1992.8 761.4h0M1644.2 775.2h0M1730.3 770.5h0M1249.2 773.2h0M1290.8 768.9h0M1766.6 771.0h0M1330.2 742.0h0M1526.0 776.5h0M1536.6 773.2h0M1788.9 767.5h0M1728.0 762.7h0M1674.0 745.6h0M1863.1 763.8h0M1669.1 769.2h0M2036.6 765.3h0M1849.2 742.4h0M1919.6 760.3h0M1860.1 731.7h0M1577.5 773.5h0M2017.4 703.0h0M1433.6 775.2h0M1993.0 762.2h0M1619.9 758.8h0M1898.3 754.7h0M1666.2 770.2h0M1347.2 741.0h0M1678.1 773.7h0M1901.0 731.9h0M1384.9 771.2h0M2046.2 756.1h0M1410.3 777.0h0M1327.8 753.8h0M1894.3 742.1h0M1802.3 768.2h0M1683.4 767.6h0M1897.8 763.2h0M1884.7 721.1h0M1993.2 763.8h0M1899.0 735.0h0M1328.6 774.6h0M1594.0 756.4h0M2013.4 753.0h0M1828.9 747.8h0M1843.8 760.8h0M1793.9 769.7h0M1510.6 754.1h0M1968.9 763.8h0M1245.0 777.0h0M1688.1 767.8h0M1342.4 759.3h0M2001.8 739.3h0M1315.7 775.7h0M1423.1 770.3h0M1864.3 735.2h0M2029.4 716.2h0M1594.7 769.3h0M1339.1 770.0h0M2033.4 704.5h0M1798.2 767.0h0M1383.5 773.8h0M1585.5 771.4h0M1668.4 767.1h0M1677.4 771.3h0M1368.2 769.7h0M1351.0 756.7h0M1253.0 771.8h0M1955.9 746.7h0M1815.8 766.7h0M1742.8 773.1h0M1347.2 776.9h0M1461.8 773.7h0M1832.5 741.0h0M1478.1 740.6h0M1975.8 760.7h0M1929.3 698.0h0M2039.0 758.4h0M1463.9 776.1h0M1492.9 747.7h0M2011.1 726.9h0M1782.9 765.5h0M1348.3 745.8h0M2060.1 723.9h0M1898.0 758.1h0M1925.7 762.5h0M1872.9 756.6h0M1796.9 775.3h0M1941.0 702.9h0M1322.2 745.0h0M2060.3 710.2h0M1505.3 768.0h0M2045.2 764.6h0M2050.5 636.7h0M2055.0 719.3h0M1822.0 741.6h0M1786.7 768.8h0M1484.0 772.2h0M1942.8 762.5h0M1882.1 755.4h0M1784.9 771.7h0M1566.2 740.2h0M2049.8 714.4h0M1695.7 744.2h0M1876.3 763.3h0M1888.2 731.0h0M1968.7 759.6h0M2037.4 715.6h0M1941.3 731.7h0M1387.6 774.0h0M1503.7 744.1h0M1806.7 731.0h0M1820.0 763.4h0M1697.3 769.5h0M1335.6 751.4h0M2040.7 612.6h0M1719.7 739.8h0M1766.3 769.7h0M1382.6 761.0h0M1813.5 748.9h0M1902.1 759.0h0M1435.9 757.0h0M1294.2 771.9h0M2047.2 755.4h0M1338.1 773.2h0M1803.5 762.5h0M1554.6 754.9h0M2025.3 763.3h0M1797.5 767.0h0M1958.1 753.6h0M1831.6 750.4h0M1515.8 762.9h0M1963.9 762.8h0M1807.8 767.6h0M1564.6 769.1h0M2031.1 769.6h0M1593.3 770.6h0M2018.7 755.2h0M1851.1 770.3h0M1546.4 769.1h0M1476.3 773.8h0M1427.9 750.1h0M1807.6 763.4h0M1344.6 772.5h0M1570.6 770.7h0M1733.2 764.3h0M1939.8 726.1h0M1487.2 767.4h0M1788.5 752.4h0M1367.3 768.2h0M1840.1 767.0h0M1890.2 731.6h0M1511.7 768.1h0M1903.7 736.1h0M1901.6 750.8h0M1351.2 774.2h0M2000.8 757.1h0M1965.2 725.3h0M1934.1 760.0h0M1427.0 771.0h0M1945.8 739.4h0M1324.3 760.3h0M1933.5 761.2h0M1610.7 749.0h0M1475.4 773.0h0M1387.3 773.7h0M1993.2 760.8h0M1666.1 767.0h0M1347.1 769.0h0M1833.3 761.6h0M1651.6 746.2h0M1881.9 755.9h0M1404.5 740.9h0M2044.9 762.8h0M1759.4 767.7h0M1362.1 745.8h0M1403.0 771.4h0M1453.0 760.4h0M2020.9 765.0h0M1566.7 752.1h0M1799.0 749.2h0M1524.5 775.9h0M1615.1 774.0h0M1996.1 742.9h0M1941.8 760.9h0M1580.0 768.5h0M1555.7 770.7h0M1610.8 770.2h0M2001.9 767.0h0M1657.0 773.8h0M1352.6 747.1h0M1742.1 769.7h0M1395.2 773.4h0M1428.2 769.9h0M1286.8 769.3h0M1633.0 771.3h0M1879.7 770.0h0M1335.0 750.0h0M1620.5 766.8h0M1872.4 764.2h0M1866.5 770.0h0M1751.2 750.4h0M2039.9 722.9h0M1386.2 771.0h0M2021.2 757.6h0M1570.5 753.9h0M1910.6 742.2h0M2050.4 632.9h0M1778.0 763.6h0M1805.5 753.2h0M1704.4 773.6h0M1497.1 773.8h0M1727.4 749.0h0M1506.8 772.7h0M1509.4 771.4h0M1866.8 749.5h0M1536.9 772.4h0M1374.4 771.6h0M1970.2 763.4h0M1933.5 736.0h0M2018.1 738.0h0M1780.7 729.0h0M1983.6 723.7h0M1664.8 771.8h0M1894.0 732.3h0M1933.2 740.0h0M1271.3 776.5h0M1898.3 759.7h0M2026.6 758.8h0M1778.1 762.9h0M1872.1 756.4h0M1810.3 767.1h0M1673.8 766.6h0M1659.2 765.6h0M1695.9 753.7h0M1988.0 748.2h0M1878.1 753.0h0M1923.5 755.2h0M1540.8 773.1h0M2060.5 628.1h0M1671.4 770.6h0M1498.2 745.0h0M1580.9 771.9h0M1463.7 766.5h0M1502.4 772.3h0M1764.1 768.1h0M1885.3 735.9h0M1259.7 772.9h0M1285.4 774.6h0M1547.0 773.9h0M1857.3 731.8h0M1362.4 770.9h0M1703.9 772.4h0M1335.1 752.2h0M1860.4 725.1h0M1769.5 774.9h0M1946.5 760.2h0M1822.1 776.6h0M2004.4 764.0h0M1875.7 737.6h0M1901.1 746.8h0M1474.0 776.6h0M1896.0 739.8h0M1795.4 770.7h0M1991.6 725.7h0M1281.8 775.6h0M1746.6 749.6h0M1728.6 768.4h0M2038.3 755.7h0M1607.7 766.9h0M1887.6 721.6h0M1680.3 766.0h0M1520.0 744.8h0M1939.3 762.3h0M1822.9 760.2h0M1324.1 771.5h0M1676.9 773.9h0M2004.0 694.0h0M1682.7 774.8h0M1387.5 758.6h0M1964.4 706.0h0M1330.6 773.2h0M1593.1 776.1h0M1866.6 763.5h0M1684.2 744.5h0M1872.6 763.6h0M1677.0 748.4h0M1422.8 747.2h0M1488.1 763.3h0M1950.6 765.6h0M1395.9 767.3h0M1567.6 753.7h0M1456.0 767.4h0M1593.6 752.3h0M2057.8 604.1h0M1325.3 772.2h0M1896.9 761.4h0M1958.8 735.9h0M1973.4 669.9h0M1842.3 765.3h0M1689.9 769.1h0M1406.7 772.2h0M1637.1 753.1h0M1248.8 771.9h0M1279.8 774.0h0M1657.9 749.4h0M1683.3 771.4h0M1448.1 759.3h0M1811.8 743.0h0M1436.9 765.8h0M1783.0 745.3h0M1735.5 769.4h0M1306.5 772.2h0M1968.9 761.9h0M1882.8 762.6h0M1886.7 724.3h0M1558.1 741.4h0M1992.8 757.1h0M1361.0 773.6h0M1976.7 758.6h0M1975.0 736.8h0M1401.1 755.3h0M1905.5 757.7h0M1836.0 769.6h0M1959.0 693.0h0M1568.1 772.0h0M1754.0 764.9h0M1529.8 769.5h0M1982.4 745.3h0M1991.5 726.1h0M1777.5 742.5h0M1789.2 771.0h0M1875.7 758.8h0M1427.5 776.5h0M1794.8 747.5h0M1671.9 751.4h0M1557.9 766.2h0M2020.0 729.6h0M1781.2 766.3h0M1299.5 767.0h0M1454.2 774.4h0M1587.2 751.0h0M1900.3 742.4h0M1375.5 740.9h0M1838.0 768.2h0M1683.5 767.6h0M1588.1 769.2h0M2036.2 763.4h0M1956.9 763.4h0M1325.3 769.4h0M1728.7 766.0h0M1759.0 766.5h0M1250.1 771.5h0M1459.6 772.3h0M1896.6 726.7h0M1972.0 748.7h0M1843.2 745.8h0M2049.4 716.8h0M1947.2 746.8h0M1972.5 757.1h0M1847.4 765.1h0M1945.3 762.6h0M1756.4 769.0h0M1819.2 766.7h0M1418.6 774.9h0M2015.8 762.4h0M1478.3 769.4h0M1530.0 760.5h0M1366.8 771.1h0M1452.2 773.4h0M1978.7 760.7h0M1774.9 741.4h0M1828.9 744.0h0M1976.9 757.4h0M1952.4 730.5h0M1304.0 776.1h0M1283.7 771.3h0M1583.8 766.9h0M1959.3 757.5h0M1665.5 771.4h0M1853.7 735.5h0M2011.6 724.3h0M1458.5 753.8h0M1870.9 764.3h0M1281.3 773.5h0M2050.9 707.9h0M1836.5 751.7h0M2036.6 758.5h0M1454.6 770.4h0M1775.0 767.2h0M1321.4 772.7h0M2001.9 766.0h0M1850.9 721.1h0M1388.3 771.9h0M1739.6 769.4h0M1688.8 771.1h0M1710.3 768.5h0M1496.6 773.1h0M1661.5 760.9h0M1400.5 773.8h0M2014.7 762.3h0M1250.9 742.5h0M2007.4 760.1h0M1629.4 753.4h0M1561.2 766.0h0M1867.3 732.2h0M2035.5 765.3h0M1837.9 762.3h0M1299.6 776.5h0M2046.3 763.7h0M2012.4 759.3h0M1843.5 765.6h0M1599.5 770.2h0M1738.0 767.3h0M1821.8 747.4h0M1647.7 774.3h0M1895.5 753.7h0M1663.4 747.1h0M1632.1 744.0h0M1993.7 765.3h0M1965.6 758.6h0M1472.8 765.2h0M1542.8 766.8h0M1532.9 768.8h0M1875.9 743.9h0M1384.5 759.0h0M2038.2 755.8h0M1827.2 738.4h0M1660.4 772.1h0M1868.3 762.3h0M1333.0 775.1h0M1550.2 750.0h0M2039.8 682.4h0M1328.6 759.5h0M1720.2 768.1h0M2013.1 756.0h0M1288.6 759.3h0M1485.9 774.2h0M1427.7 774.1h0M1871.2 761.9h0M1971.3 734.1h0M2015.5 759.5h0M1908.4 763.2h0M1373.1 772.8h0M2017.0 741.3h0M1676.1 761.4h0M2037.5 758.4h0M1801.2 766.9h0M2045.9 726.2h0M1563.7 773.7h0M1695.8 764.0h0M1273.5 776.0h0M2003.1 740.2h0M1607.4 772.9h0M1409.5 763.1h0M1930.6 760.9h0M2032.7 706.5h0M1766.6 765.7h0M1844.4 716.8h0M1498.3 746.1h0M1402.2 774.8h0M1369.7 768.1h0M1843.3 740.9h0M1972.3 765.0h0M1579.1 776.7h0M1968.5 720.4h0M1869.8 763.1h0M1991.8 762.4h0M2031.5 757.9h0M1812.0 766.9h0M1675.6 769.9h0M1342.1 770.6h0M1994.2 671.0h0M2050.2 718.1h0M1425.7 772.8h0M1957.3 759.0h0M1891.7 757.9h0M1990.0 723.0h0M1390.0 770.4h0M1829.4 767.6h0M1844.4 737.5h0M1769.7 734.5h0M1245.6 769.4h0M1317.2 776.8h0M2046.1 718.7h0M1849.9 760.5h0M1932.3 760.6h0M1421.5 744.0h0M1743.1 766.6h0M1747.8 762.2h0M1562.4 770.9h0M1536.0 757.5h0M1389.3 770.4h0M1763.8 766.8h0M1903.3 744.7h0M1507.2 753.4h0M1274.5 759.7h0M1285.7 770.4h0M1969.1 708.3h0M1450.4 773.7h0M1881.4 747.9h0M1359.2 771.2h0M1439.2 754.8h0M1575.3 752.6h0M1478.1 772.2h0M1862.5 760.7h0M2061.3 706.0h0M1705.6 774.6h0M1425.5 774.1h0M1819.7 741.9h0M2054.9 761.1h0M2017.1 756.6h0M1367.1 774.6h0M1910.1 764.1h0M1327.8 771.9h0M1856.2 765.8h0M2026.7 710.9h0M1553.5 769.2h0M1562.7 771.2h0M1726.7 763.6h0M1838.3 745.3h0M1818.2 763.3h0M1938.7 757.1h0M1929.5 708.7h0M1820.8 760.5h0M1907.4 729.6h0M1740.5 766.2h0M1420.1 772.2h0M1712.2 767.8h0M1926.6 755.2h0M2020.0 720.6h0M1854.9 752.8h0M1941.4 756.2h0M1603.3 770.9h0M1820.6 746.0h0M1951.0 754.5h0M1973.1 759.7h0M1251.8 766.3h0M1343.0 746.9h0M1964.7 754.0h0M1460.1 760.0h0M1929.1 756.8h0M1494.8 757.4h0M1971.9 759.7h0M1568.3 767.2h0M1964.7 763.1h0M1543.2 745.5h0M2001.4 735.8h0M1888.9 745.5h0M1301.4 746.8h0M1935.6 761.8h0M1547.8 749.9h0M2039.5 759.8h0M1309.9 775.1h0M1511.2 765.8h0M1557.2 749.9h0M1910.0 768.3h0M1244.8 770.4h0M1745.1 765.8h0M1462.1 743.4h0M2060.0 761.7h0M1468.8 772.3h0M1969.4 762.5h0M1974.6 717.0h0M1397.7 772.9h0M1807.7 750.7h0M1945.8 761.7h0M2061.9 712.1h0M1758.8 768.8h0M1522.5 755.6h0M1631.0 757.3h0M1597.4 766.7h0M1668.9 773.8h0M1274.8 764.5h0M1971.0 765.0h0M1425.6 769.2h0M1906.7 754.1h0M1652.6 765.7h0M1623.2 748.6h0M2057.4 534.4h0M2016.9 712.8h0M1494.4 751.6h0M2048.5 763.7h0M1705.3 738.6h0M1993.7 741.4h0M1887.0 763.8h0M2046.9 562.0h0M1859.8 762.3h0M1500.3 771.6h0M1304.4 746.1h0M1968.4 724.3h0M1715.6 755.0h0M1966.2 723.0h0M1506.7 771.2h0M1973.6 721.0h0M1317.3 751.5h0M1784.2 751.0h0M1779.9 735.5h0M1943.2 755.8h0M1912.9 753.7h0M1862.5 761.4h0M1886.9 740.8h0M1828.2 765.3h0M1829.2 763.4h0M1967.0 722.4h0M1329.2 772.6h0M1706.0 773.0h0M1889.9 760.9h0M1361.6 766.8h0M1317.4 774.0h0M1744.9 767.9h0M1885.4 755.6h0M1967.8 759.3h0M1596.7 769.7h0M1696.8 766.6h0M1819.3 764.2h0M1723.4 767.5h0M2008.8 759.3h0M2061.6 460.0h0M1889.2 721.1h0M1304.0 771.2h0M1672.2 762.2h0M1346.1 760.4h0M1271.8 775.0h0M1343.5 776.9h0M1665.1 768.8h0M1776.3 765.6h0M1966.6 727.7h0M1259.7 775.9h0M1251.3 741.7h0M1669.9 746.5h0M1756.6 766.1h0M1723.9 770.0h0M1786.6 771.5h0M1898.1 759.5h0M1611.9 770.9h0M1843.7 763.3h0M1824.8 738.7h0M1886.2 764.2h0M1450.4 773.7h0M1633.5 766.8h0" stroke="#4462F7" stroke-width="5.9" stroke-linecap="round" fill="none"/>
<path d="M2054.6 212.7h0M2007.4 402.0h0M1941.3 477.3h0M1548.0 709.6h0M1848.2 701.2h0M1906.9 345.6h0M1620.1 709.9h0M1794.3 699.8h0M2023.5 406.9h0M1732.3 725.2h0M1753.6 742.4h0M1558.8 719.7h0M1606.8 708.4h0M1987.2 389.9h0M1599.5 697.6h0M1908.8 623.8h0M1988.7 425.1h0M1379.6 721.3h0M1678.6 731.1h0M1771.7 460.2h0M1546.2 710.7h0M1380.5 707.7h0M1760.7 703.2h0M1777.7 700.6h0M1805.4 674.6h0M1521.6 717.2h0M1404.4 724.6h0M1704.7 696.2h0M1833.2 673.1h0M1292.1 717.1h0M1394.0 717.1h0M1704.2 714.8h0M1869.5 670.0h0M1717.8 738.2h0M2012.1 274.0h0M1968.9 371.0h0M2044.8 214.3h0M1636.7 711.6h0M1503.6 752.7h0M1939.7 440.9h0M1692.0 727.8h0M1869.8 450.3h0M1492.3 724.2h0M1766.6 690.1h0M1944.8 44.0h0M1771.7 720.4h0M1732.2 706.9h0M1674.7 706.6h0M1930.4 571.2h0M1940.6 394.6h0M1459.6 703.9h0M1868.5 536.1h0M1781.4 756.1h0M1741.0 700.9h0M1891.0 605.9h0M1936.9 346.0h0M1547.0 713.3h0M1942.6 49.3h0M2044.1 43.5h0M1742.0 724.8h0M1325.3 726.6h0M1690.3 705.4h0M1827.8 675.1h0M1980.1 266.6h0M1905.1 696.7h0M1814.6 680.1h0M1299.1 738.0h0M1795.7 757.8h0M1295.9 720.3h0M1821.2 700.2h0M1965.7 246.8h0M1790.1 678.6h0M1813.3 714.7h0M1478.1 718.9h0M1457.7 720.1h0M1537.5 706.3h0M1265.6 724.7h0M1955.2 444.1h0M1703.3 697.2h0M1810.0 692.1h0M1784.0 721.0h0M1893.3 621.3h0M2006.2 418.3h0M1739.8 692.6h0M2005.8 398.2h0M1983.3 374.3h0M1601.9 726.0h0M1710.7 705.5h0M1609.3 715.2h0M1581.3 745.1h0M1857.6 465.9h0M1386.4 706.3h0M1520.2 735.5h0M1697.0 695.7h0M1276.3 723.7h0M1631.3 727.1h0M2045.9 233.6h0M1364.6 738.4h0M2024.2 47.0h0M1517.9 712.4h0M1394.8 727.7h0M1631.7 711.0h0M1708.2 696.9h0M1836.2 734.2h0M1273.5 750.5h0M1709.5 708.1h0M1589.1 712.0h0M1928.7 148.7h0M1904.3 541.0h0M1433.1 716.1h0M1288.6 712.9h0M1487.8 728.9h0M2037.4 239.4h0M1620.6 702.4h0M1995.7 351.9h0M1248.8 737.9h0M1934.8 655.7h0M1928.1 202.3h0M2047.1 67.7h0M1560.7 755.0h0M1804.8 745.2h0M2014.3 379.3h0M2054.3 183.5h0M1797.6 745.0h0M1967.0 89.3h0M1700.5 723.5h0M1936.5 303.0h0M1944.1 46.2h0M2001.4 434.1h0M1777.8 746.7h0M1795.2 760.4h0M1513.0 724.1h0M1687.2 692.5h0M1319.5 720.4h0M1786.0 689.9h0M1979.6 43.4h0M1763.0 729.3h0M1946.4 378.7h0M1784.8 650.8h0M2034.5 216.1h0M1365.1 736.6h0M1881.3 475.4h0M2042.4 176.2h0M1996.7 189.4h0M1383.1 725.7h0M1642.2 712.9h0M1932.1 589.7h0M1289.0 713.7h0M1842.2 661.9h0M1314.8 720.1h0M1283.1 705.3h0M1504.0 701.5h0M1636.7 728.7h0M1973.0 452.3h0M1311.4 716.4h0M1977.9 231.1h0M1474.9 716.1h0M1969.0 61.4h0M1989.2 275.0h0M1720.0 703.1h0M1555.6 717.4h0M1524.2 713.0h0M1321.5 735.8h0M1707.5 735.0h0M1739.1 731.9h0M1618.4 705.8h0M1881.5 615.6h0M2032.9 255.4h0M1771.6 666.6h0M1777.8 721.7h0M1352.6 716.9h0M1970.3 536.8h0M1684.3 714.0h0M1757.0 700.9h0M1767.8 538.3h0M1645.9 711.3h0M1700.3 732.7h0M1921.7 588.0h0M1251.0 723.1h0M1702.4 711.6h0M1418.9 704.4h0M1875.8 703.9h0M1787.0 662.4h0M1762.7 715.2h0M1345.0 756.4h0M1375.4 748.2h0M1993.3 63.1h0M1879.2 758.7h0M1974.4 197.0h0M2010.2 206.4h0M1507.1 717.2h0M1987.9 266.6h0M2030.9 475.6h0M1752.9 688.3h0M1805.7 723.9h0M1902.2 526.0h0M1618.0 756.2h0M1824.6 633.3h0M1271.3 714.9h0M1692.0 722.5h0M1906.5 741.4h0M1616.3 710.5h0M1728.1 725.1h0M1336.6 710.1h0M1868.4 453.3h0M2059.4 209.6h0M1739.5 711.4h0M1869.4 517.5h0M1331.5 721.9h0M1481.2 741.1h0M1783.5 679.3h0M2039.5 193.8h0M1874.2 667.2h0M1856.7 603.6h0M1256.9 720.5h0M1733.2 702.5h0M1500.5 716.1h0M1977.0 246.0h0M1639.1 708.4h0M1988.0 445.1h0M1491.0 717.1h0M1309.1 718.3h0M1775.8 692.3h0M1762.6 681.8h0M1545.9 719.3h0M2037.7 339.3h0M1868.3 722.4h0M1785.7 703.3h0M1713.7 693.4h0M1956.1 460.0h0M1845.1 647.6h0M1901.3 699.3h0M1830.9 678.4h0M1480.7 718.5h0M1577.7 716.5h0M1352.3 718.4h0M1394.1 715.5h0M1265.9 715.9h0M1986.9 187.9h0M1878.8 615.0h0M1781.4 744.8h0M1561.3 712.0h0M1935.5 361.3h0M1748.1 751.3h0M1375.1 744.1h0M1425.0 700.9h0M1966.8 587.6h0M1244.9 724.6h0M1798.6 709.9h0M1317.9 721.0h0M1738.5 715.3h0M1712.2 750.2h0M1659.5 704.6h0M1381.4 712.9h0M1584.0 721.2h0M1723.0 748.6h0M1926.8 575.5h0M1832.6 675.4h0M1729.0 692.7h0M1480.7 716.8h0M1675.9 702.6h0M1962.1 466.7h0M1687.6 735.4h0M1639.0 709.0h0M1255.9 713.4h0M1627.2 719.0h0M1792.9 673.8h0M1854.2 642.5h0M1741.4 703.2h0M1518.2 724.7h0M1746.1 749.8h0M1787.5 676.9h0M1975.5 473.3h0M1967.8 344.5h0M1764.2 669.4h0M1974.6 419.4h0M1747.0 695.3h0M1758.2 695.2h0M1844.3 624.2h0M2020.2 225.2h0M2049.1 229.3h0M2060.9 444.5h0M1404.8 727.5h0M1791.5 749.2h0M1770.0 695.2h0M2005.0 432.5h0M1253.2 731.7h0M1742.7 695.9h0M1785.6 693.2h0M1458.4 721.5h0M1783.6 719.4h0M1662.3 716.8h0M1715.9 714.0h0M1908.9 639.0h0M1751.0 713.1h0M1459.2 722.0h0M1351.5 720.4h0M1778.5 735.5h0M1388.6 714.2h0M1595.7 711.2h0M2029.5 211.0h0M1319.6 719.1h0M1474.8 714.6h0M1417.0 746.1h0M1596.0 736.6h0M1594.8 725.6h0M1447.4 737.5h0M1685.3 698.7h0M1801.4 752.3h0M1870.0 714.8h0M1976.0 403.0h0M1851.3 623.7h0M1298.4 725.7h0M1960.1 97.5h0M1376.8 725.0h0M1587.8 708.1h0M1427.9 723.6h0M1577.4 710.1h0M1793.4 689.6h0M2041.0 297.3h0M1302.8 710.6h0M1930.0 717.9h0M2002.1 208.0h0M1809.7 660.8h0M1695.5 761.4h0M2037.9 264.4h0M1292.4 738.6h0M1292.1 715.0h0M1890.8 415.7h0M1347.0 718.8h0M1880.5 188.4h0M2018.5 55.4h0M1653.4 716.6h0M1755.8 738.8h0M1831.4 736.8h0M1801.1 746.4h0M1666.9 706.0h0M1856.3 572.5h0M1813.6 735.9h0M2057.0 51.4h0M1425.8 717.8h0M1620.8 734.2h0M1394.7 731.0h0M1883.7 98.9h0M1587.8 709.6h0M2004.2 241.3h0M1823.3 569.7h0M1714.2 753.1h0M1972.8 222.2h0M1285.9 727.8h0M1337.7 712.8h0M1769.6 676.8h0M1289.8 753.3h0M1917.4 264.2h0M1750.0 714.3h0M1649.2 729.3h0M2024.3 232.0h0M1561.6 746.2h0M1615.1 700.6h0M1493.2 709.1h0M1307.9 729.1h0M1945.1 216.1h0M1870.6 604.4h0M1949.5 230.3h0M1348.0 720.2h0M1730.0 696.0h0M1915.1 558.3h0M1501.2 723.1h0M1811.6 723.2h0M1679.5 731.2h0M1630.4 710.7h0M1888.4 562.9h0M1940.6 648.0h0M1767.5 721.0h0M1568.2 716.5h0M1387.0 719.0h0M1545.9 717.0h0M1657.3 731.0h0M1391.5 717.1h0M1551.7 714.9h0M1562.2 735.2h0M1866.3 644.4h0M2046.9 214.0h0M1771.0 712.2h0M1990.8 45.8h0M1945.9 196.0h0M1601.2 698.2h0M1911.1 71.1h0M1780.8 697.5h0M1913.3 301.9h0M2028.2 543.2h0M1828.2 677.0h0M2056.2 48.4h0M1492.6 730.4h0M1926.1 392.2h0M2033.8 259.8h0M1977.3 45.0h0M1636.6 709.8h0M1959.0 244.2h0M1492.1 726.9h0M1513.8 711.7h0M1765.5 686.7h0M1924.4 497.9h0M1811.0 723.9h0M1620.4 707.0h0M1428.9 742.4h0M1745.1 679.4h0M1410.6 717.1h0M1731.2 721.9h0M1753.8 697.1h0M1785.7 695.5h0M1888.9 619.8h0M1485.7 719.5h0M1963.8 283.0h0M1250.2 713.8h0M1914.2 537.4h0M2058.1 262.5h0M1305.0 717.5h0M1920.2 354.2h0M1429.7 755.3h0M1824.2 721.9h0M2004.9 187.9h0M1529.2 731.2h0M1765.2 682.6h0M1950.7 238.3h0M1363.0 718.1h0M1451.7 710.7h0M1636.9 714.0h0M1298.5 721.0h0M1843.9 736.6h0M1798.9 701.7h0M1934.4 398.1h0M1816.5 761.5h0M1440.3 721.2h0M2006.6 293.5h0M1774.4 678.5h0M1275.4 712.7h0M1950.1 669.9h0M1792.0 686.7h0M1517.4 711.2h0M1723.4 697.5h0M1764.1 738.3h0M1950.1 461.2h0M1751.7 752.2h0M1747.6 762.7h0M1990.0 543.6h0M1798.3 571.4h0M2015.0 159.4h0M1705.1 721.1h0M1963.2 200.0h0M1939.1 203.2h0M1570.7 730.7h0M1699.1 761.3h0M1785.6 739.7h0M1767.6 731.8h0M1299.6 729.1h0M1292.0 731.8h0M1389.9 724.8h0M1437.4 720.1h0M1472.6 711.0h0M1362.1 722.8h0M1930.6 513.1h0M1679.2 703.8h0M1995.3 231.2h0M1855.4 295.6h0M1500.5 727.2h0M1980.5 338.9h0M1609.2 718.1h0M1941.8 335.3h0M1571.6 711.8h0M1400.2 721.2h0M1512.5 712.7h0M1786.4 761.3h0M1912.9 257.8h0M1752.9 690.5h0M1800.0 737.0h0M1643.6 726.2h0M1449.5 719.4h0M1412.4 721.0h0M1782.0 671.7h0M1373.2 731.9h0M1609.7 721.0h0M1936.0 296.7h0M1420.8 710.9h0M1451.1 731.1h0M1947.8 63.1h0M1717.0 702.9h0M1789.7 671.9h0M1425.3 759.5h0M2045.7 261.1h0M1330.9 715.8h0M1788.8 687.5h0M1597.5 713.7h0M1840.3 666.1h0M2009.1 288.1h0M1924.2 310.1h0M1669.4 711.7h0M1515.3 743.6h0M1473.3 714.4h0M1264.6 715.4h0M1930.9 684.9h0M1930.7 669.5h0M1945.3 420.5h0M1803.1 718.9h0M2060.3 247.3h0M1749.0 678.7h0M1787.2 685.9h0M1751.0 694.7h0M1417.8 726.4h0M1436.0 721.6h0M1712.7 702.6h0M1806.6 765.0h0M1314.5 720.3h0M1866.0 471.8h0M1643.8 713.2h0M1982.4 279.0h0M1354.1 712.7h0M1789.9 705.1h0M2020.4 295.2h0M1771.2 703.9h0M1438.2 711.5h0M1749.3 754.3h0M1747.0 707.0h0M1477.1 719.8h0M1762.9 685.9h0M1741.6 746.4h0M1762.7 704.2h0M1790.9 699.9h0M1512.3 714.1h0M1639.2 740.5h0M1609.3 726.1h0M2000.5 237.7h0M1645.8 722.8h0M1548.9 705.9h0M1945.7 510.3h0M1701.3 746.0h0M1304.2 723.8h0M1535.0 706.5h0M1558.3 714.5h0M1705.1 714.3h0M1604.3 710.3h0M1974.5 222.9h0M1702.5 753.2h0M1825.9 737.7h0M2045.9 202.5h0M2034.2 239.9h0M1633.4 740.7h0M1918.3 736.0h0M1718.4 716.3h0M1769.8 701.3h0M2021.3 386.5h0M1994.8 468.6h0M1926.4 547.6h0M1430.5 725.1h0M1988.8 415.2h0M1758.2 673.3h0M1656.2 707.4h0M1945.9 59.8h0M1904.4 553.0h0M1837.5 691.9h0M1723.5 700.3h0M1408.5 719.7h0M1279.4 736.0h0M1499.2 720.7h0M1782.0 681.9h0M1957.7 250.6h0M1704.6 712.6h0M1618.2 710.8h0M1275.6 747.5h0M1840.9 584.5h0M1722.2 682.7h0M1855.9 657.8h0M1326.8 726.8h0M1822.0 690.5h0M1794.2 722.1h0M1723.7 706.4h0M1304.6 753.0h0M2029.2 215.4h0M1553.1 722.2h0M1864.9 178.4h0M1711.7 713.5h0M1250.9 747.2h0M1664.8 705.3h0M1309.4 727.4h0M2058.0 230.2h0M1825.3 396.9h0M1731.4 687.6h0M1738.0 692.1h0M1308.8 716.9h0M1429.3 741.9h0M1912.1 486.3h0M1825.0 681.3h0M1388.4 733.3h0M1559.2 723.7h0M2055.2 67.1h0M1610.1 740.0h0M1778.7 694.1h0M1768.9 697.9h0M1790.8 755.4h0M1966.6 311.9h0M1509.1 719.9h0M1354.2 717.9h0M1464.2 742.5h0M2019.3 212.5h0M1315.3 722.1h0M1982.7 482.3h0M1856.1 468.7h0M1997.4 224.3h0M1245.4 729.3h0M1739.5 739.2h0M1330.3 716.5h0M1747.7 719.7h0M1593.0 711.5h0M1764.0 674.9h0M1572.9 711.0h0M1279.5 721.9h0M1617.9 726.1h0M1740.2 701.6h0M1399.7 719.4h0M1526.2 743.7h0M1634.1 734.8h0M1266.6 723.6h0M2028.6 269.8h0M1726.8 692.6h0M2057.9 279.9h0M1913.1 486.7h0M2012.4 304.5h0M1971.5 117.7h0M1760.4 695.7h0M1725.8 747.3h0M1996.7 270.0h0M1504.5 717.1h0M2023.9 197.1h0M2005.6 221.2h0M1449.5 713.1h0M1712.7 721.3h0M1750.2 694.1h0M1600.2 715.9h0M2002.6 383.8h0M1647.0 724.5h0M2026.6 281.9h0M1688.4 708.3h0M1791.7 684.4h0M1953.1 517.1h0M1411.3 730.6h0M1405.0 729.6h0M1767.3 755.8h0M1408.5 721.9h0M1734.7 737.5h0M1647.3 710.2h0M1916.5 505.2h0M1720.7 715.5h0M2003.8 47.1h0M1703.4 704.9h0M1630.9 708.9h0M1709.0 691.4h0M1302.7 725.4h0M1949.0 524.3h0M1795.8 583.3h0M1320.1 751.7h0M1953.9 475.7h0M2037.1 242.2h0M1246.5 710.5h0M1391.4 721.9h0M1899.6 507.7h0M1979.5 448.0h0M1461.8 706.4h0M1669.2 714.6h0M1704.7 708.9h0M1794.3 682.5h0M2018.4 214.3h0M1244.8 718.2h0M1310.9 740.5h0M1333.0 731.0h0M1862.2 497.1h0M1708.9 711.8h0M1568.6 718.3h0M1673.4 704.1h0M2028.7 260.0h0M1961.6 520.2h0M1261.6 705.7h0M1296.5 751.0h0M1800.2 647.8h0M1730.5 758.5h0M1817.2 686.4h0M1916.1 205.1h0M1969.1 402.5h0M1654.7 707.3h0M1722.5 713.6h0M1377.8 730.7h0M1577.1 705.0h0M1853.1 464.7h0M1511.1 725.4h0M1782.7 688.4h0M1383.7 706.5h0M1794.9 757.2h0M1831.9 648.1h0M1748.5 719.1h0M1776.9 684.2h0M1889.6 650.6h0M1778.6 694.2h0M1672.5 698.7h0M1918.1 407.1h0M1914.9 454.9h0M1677.2 705.0h0M1493.9 714.2h0M1615.3 702.4h0M1975.9 313.0h0M1894.7 572.2h0M1608.6 708.1h0M1909.1 552.1h0M1917.9 390.8h0M1790.8 654.1h0M1436.1 744.4h0M1437.7 712.0h0M1659.1 703.4h0M1554.8 718.4h0M1953.0 60.5h0M1937.0 292.9h0M1776.2 678.3h0M1699.0 702.0h0M1322.6 714.2h0M1294.8 732.8h0M1883.1 605.7h0M1708.9 734.5h0M1690.3 703.1h0M1890.1 527.5h0M1733.2 736.1h0M1462.0 740.7h0M1628.4 733.9h0M1479.6 718.1h0M1996.4 48.1h0M1852.5 662.6h0M1744.9 690.1h0M1768.6 757.8h0M1723.4 688.9h0M1748.6 697.8h0M1971.3 416.2h0M1405.6 712.6h0M1248.2 728.3h0M2019.9 240.7h0M1582.7 708.6h0M1770.4 695.0h0M1454.3 718.7h0M1268.1 713.1h0M1681.8 701.1h0M1769.5 744.5h0M2055.7 329.8h0M1556.0 722.3h0M1727.6 708.0h0M1509.4 717.6h0M1343.9 749.0h0M1425.2 717.1h0M1556.1 724.0h0M1433.5 713.6h0M1740.9 697.5h0M1787.2 682.4h0M1949.1 50.4h0M1374.8 725.8h0M1688.0 730.9h0M1480.8 712.1h0M2041.2 43.3h0M1657.6 702.9h0M1466.2 723.3h0M1272.6 718.3h0M1786.5 701.8h0M1295.3 721.6h0M1918.2 649.6h0M1814.6 753.2h0M1628.3 719.6h0M1762.9 693.4h0M1761.5 762.8h0M1888.9 518.7h0M1960.6 472.8h0M1798.2 664.6h0M1353.0 724.1h0M1657.4 709.4h0M1958.3 43.7h0M1744.0 717.0h0M1466.9 734.5h0M2004.3 336.0h0M1948.6 46.1h0M1935.2 476.0h0M1813.7 762.1h0M1802.1 650.1h0M1790.0 694.3h0M1558.2 713.9h0M1920.6 500.8h0M1709.2 692.3h0M1597.6 719.9h0M1778.0 687.2h0M1720.7 693.0h0M1540.7 713.8h0M1459.0 722.2h0M1930.5 669.9h0M1729.3 759.3h0M1389.9 710.1h0M1810.7 529.2h0M1711.2 713.8h0M1594.8 708.9h0M2008.6 45.0h0M1611.5 713.7h0M1691.7 705.8h0M1588.6 719.4h0M1859.3 635.2h0M1910.4 686.6h0M1635.1 728.5h0M1273.0 717.8h0M1309.7 718.6h0M1702.5 706.0h0M1820.4 696.2h0M1583.2 700.4h0M1568.7 715.7h0M1979.3 281.5h0M1691.8 721.9h0M1406.9 725.1h0M1736.2 705.0h0M1787.4 702.8h0M2007.1 380.7h0M1270.7 729.8h0M1318.9 747.2h0M1988.9 403.6h0M1785.2 707.1h0M2056.7 221.4h0M2009.9 373.0h0M1363.5 739.9h0M1799.4 682.7h0M1345.8 716.0h0M1420.3 719.0h0M1845.1 679.3h0M2050.1 94.5h0M1704.9 723.0h0M1283.9 724.1h0M1573.7 723.6h0M1928.8 747.6h0M1583.0 749.2h0M1882.4 608.0h0M1244.4 720.8h0M1635.9 726.2h0M1397.9 726.2h0M1548.1 712.8h0M1540.2 723.8h0M1327.2 714.0h0M1348.7 719.6h0M1807.1 748.2h0M1743.5 684.3h0M1527.4 710.4h0M1759.0 696.5h0M2023.2 312.2h0M1975.8 510.1h0M1541.5 708.6h0M1882.3 588.9h0M1802.1 733.9h0M1649.1 709.5h0M1628.4 720.1h0M1747.7 695.1h0M1717.9 695.4h0M2045.9 62.5h0M1847.1 654.2h0M1542.9 721.0h0M1305.3 726.1h0M1909.0 637.1h0M1241.6 724.6h0M1934.5 460.9h0M1642.3 706.8h0M2015.0 117.2h0M1351.9 720.7h0M1286.7 713.0h0M1955.6 128.4h0M1756.4 756.2h0M1611.1 713.3h0M1878.0 551.2h0M1254.6 722.6h0M1542.5 713.8h0M1276.0 718.2h0M1738.9 692.7h0M1373.0 705.1h0M1793.3 681.9h0M1709.6 764.8h0M1509.5 701.7h0M1611.0 708.6h0M1742.7 755.7h0M1706.1 724.9h0M1611.0 747.7h0M1507.8 709.2h0M1702.4 683.0h0M1987.0 250.8h0M1798.7 703.8h0M1906.5 558.3h0M1475.4 716.4h0M1515.3 725.4h0M1554.5 709.4h0M1793.4 681.5h0M1244.3 729.0h0M1440.9 705.5h0M1479.5 715.4h0M2032.7 93.6h0M1885.4 511.3h0M1728.4 726.6h0M1880.4 431.6h0M1377.0 724.8h0M1953.7 578.5h0M1343.4 716.1h0M1602.6 720.4h0M2004.4 299.6h0M1848.1 692.1h0M1750.4 683.6h0M2029.1 185.9h0M1917.7 422.1h0M1391.2 716.4h0M2041.7 261.8h0M1416.7 750.2h0M1914.2 629.4h0M1768.5 690.0h0M1754.6 690.8h0M1864.5 624.1h0M1470.0 706.8h0M1939.0 300.1h0M1555.5 710.6h0M2046.6 216.1h0M1712.8 692.9h0M1484.0 709.5h0M1753.6 695.0h0M1741.3 703.2h0M1857.6 576.6h0M1593.6 718.1h0M1672.7 711.7h0M1716.3 709.5h0M2022.3 194.8h0M1761.5 687.5h0M1578.7 702.5h0M1635.4 712.3h0M1878.6 732.3h0M2024.6 228.3h0M1947.6 49.4h0M1624.0 704.1h0M1495.9 714.8h0M1743.6 701.7h0M1409.9 708.7h0M1912.9 301.8h0M1759.7 710.9h0M1726.7 745.2h0M1792.5 676.4h0M1657.6 708.7h0M1694.4 707.8h0M1716.9 750.8h0M1427.0 709.4h0M1611.0 709.7h0M1712.8 717.0h0M2000.4 678.2h0M1375.9 711.6h0M1719.3 721.8h0M1613.5 711.3h0M1606.9 715.4h0M1351.6 718.1h0M2038.1 324.0h0M1415.0 724.3h0M1948.6 460.2h0M1532.1 723.3h0M1900.5 673.6h0M1473.9 728.0h0M1577.7 725.7h0M2027.9 459.7h0M1396.2 712.6h0M1885.7 584.6h0M2044.3 52.7h0M2012.7 237.4h0M1330.2 729.1h0M2002.9 361.6h0M1532.7 724.8h0M2046.7 280.9h0M1710.6 756.2h0M1610.7 745.8h0M1416.5 719.5h0M1613.6 723.2h0M1904.4 727.3h0M1267.9 738.9h0M1763.7 739.7h0M1742.4 694.3h0M1693.0 761.7h0M1288.2 735.7h0M1753.9 685.2h0M1888.9 210.3h0M1809.0 691.8h0M1966.9 483.6h0M1612.9 718.6h0M1955.2 70.0h0M1935.9 394.1h0M1729.7 681.9h0M2022.7 151.9h0M1715.6 694.5h0M1401.1 716.8h0M1680.7 709.3h0M1652.1 704.0h0M1468.2 727.1h0M1254.0 713.8h0M1703.0 739.8h0M1664.4 702.6h0M1284.4 719.7h0M1363.1 712.3h0M1900.9 592.3h0M1707.4 697.4h0M1902.9 95.6h0M1318.3 731.8h0M1585.8 712.7h0M1960.2 362.4h0M1754.0 694.2h0M1856.3 621.6h0M2059.7 151.7h0M1369.7 729.6h0M1821.0 614.9h0M1469.3 736.0h0M1526.0 725.5h0M1257.8 718.6h0M1682.2 712.4h0M1482.1 735.4h0M1385.6 739.9h0M1343.8 716.9h0M1765.0 683.4h0M1610.5 728.7h0M2004.4 229.5h0M1403.5 721.1h0M1759.2 704.1h0M1986.2 344.0h0M1706.7 695.6h0M1783.2 742.1h0M1451.3 713.3h0M1933.7 569.6h0M1675.2 713.4h0M2016.1 203.9h0M1977.7 247.3h0M1397.6 725.1h0M1695.9 709.8h0M1888.4 230.4h0M2020.8 423.7h0M1407.5 714.4h0M1483.1 756.2h0M1610.6 714.1h0M1434.5 726.8h0M1926.1 473.5h0M1932.3 425.2h0M1865.0 623.0h0M1673.2 715.2h0M1725.1 685.4h0M1838.1 673.7h0M1777.2 695.4h0M1710.0 758.6h0M1708.8 710.7h0M1706.6 698.9h0M1671.9 710.8h0M1567.0 724.2h0M1350.2 722.5h0M1981.6 258.6h0M1996.2 221.0h0M1748.8 694.2h0M1697.7 696.0h0M1248.4 715.5h0M2036.0 76.2h0M2058.7 184.6h0M1751.0 699.2h0M1569.4 713.6h0M1822.3 654.6h0M1738.9 698.9h0M1560.5 724.2h0M2026.9 298.1h0M1977.4 550.0h0M1988.1 368.3h0M1955.1 506.4h0M1693.1 720.1h0M1281.4 717.0h0M1515.8 744.4h0M1488.2 722.6h0M1733.0 706.9h0M1912.3 547.1h0M1365.5 722.0h0M2037.5 289.3h0M1724.9 695.2h0M1544.9 721.6h0M1264.6 719.4h0M1489.7 714.2h0M1331.5 709.9h0M1630.7 712.7h0M1312.6 734.0h0M1546.4 719.7h0M1822.9 685.8h0M1931.3 424.6h0M1761.8 691.2h0M1792.9 681.7h0M1874.7 705.2h0M1261.0 713.6h0M1717.9 693.3h0M1702.2 697.5h0M1942.8 53.2h0M1446.9 738.5h0M1722.5 708.6h0M1828.9 613.6h0M1834.2 687.3h0M2040.3 148.2h0M1882.8 624.9h0M1907.8 604.0h0M2038.0 275.9h0M1894.3 719.4h0M1283.1 716.0h0M1998.3 166.7h0M1861.3 740.2h0M1954.2 360.8h0M2024.0 282.6h0M1682.8 703.5h0M1741.0 705.9h0M1801.5 744.8h0M1351.5 709.5h0M1961.4 417.7h0M1899.2 752.8h0M1280.6 713.7h0M1738.6 736.6h0M1300.2 706.7h0M2018.8 535.6h0M1893.6 116.3h0M1796.3 682.7h0M1383.3 729.4h0M1872.6 632.2h0M1451.9 707.8h0M1292.2 725.8h0M1723.4 739.6h0M1681.0 688.9h0M1369.8 722.9h0M1766.8 688.4h0M1906.6 526.2h0M1791.3 678.9h0M1937.8 288.8h0M1820.4 708.1h0M1654.8 718.0h0M1668.3 725.2h0M1974.7 254.3h0M1731.4 703.3h0M1991.4 359.9h0M1397.1 716.0h0M2022.9 321.8h0M1992.0 47.2h0M1754.3 692.3h0M1996.1 47.4h0M2010.7 47.9h0M1287.3 752.4h0M2008.3 239.7h0M1836.6 665.7h0M1856.7 680.1h0M1947.4 355.6h0M1993.5 49.7h0M1624.8 731.6h0M1979.6 550.8h0M2026.1 50.6h0M1364.4 718.4h0M1945.2 571.8h0M1288.6 741.0h0M1414.1 729.1h0M1934.1 216.8h0M1372.1 720.2h0M1889.1 567.7h0M2032.8 174.4h0M1562.1 715.3h0M1313.0 715.0h0M1621.4 719.0h0M1666.6 707.5h0M1757.5 740.4h0M1770.5 735.5h0M1249.8 709.1h0M1316.1 735.0h0M1515.4 720.8h0M1914.5 395.4h0M1793.4 688.3h0M1770.6 689.6h0M1510.9 719.6h0M1265.3 748.4h0M1611.5 706.4h0M1501.5 717.7h0M1982.7 453.4h0M1284.0 711.3h0M1695.3 711.1h0M1836.5 701.9h0M1627.6 716.8h0M1262.0 724.7h0M2025.3 53.4h0M1405.4 744.4h0M1815.6 581.4h0M1564.8 712.5h0M1516.0 723.1h0M1862.2 687.8h0M1496.4 727.9h0M1729.5 687.6h0M1509.3 709.9h0M1505.5 718.2h0M1751.7 651.5h0M1420.6 722.9h0M1710.0 713.0h0M1904.0 539.6h0M1726.6 754.5h0M1806.2 567.7h0M1501.5 712.4h0M1733.8 742.7h0M1738.3 704.3h0M1965.7 453.4h0M2043.9 177.4h0M2057.5 378.6h0M2006.2 585.9h0M1725.0 719.6h0M1276.7 700.8h0M1302.9 723.3h0M1698.7 708.2h0M1954.4 60.0h0M1367.4 719.6h0M1759.3 748.0h0M1759.9 682.3h0M1681.6 709.9h0M1875.2 70.8h0M1759.8 707.1h0M1863.9 591.3h0M1772.2 690.0h0M1738.6 701.3h0M1431.2 724.6h0M1379.4 728.5h0M1747.9 736.6h0M1397.3 713.7h0M1557.5 709.8h0M1750.3 709.0h0M2016.9 338.6h0M1976.1 312.1h0M1606.9 713.9h0M1322.0 727.3h0M1586.4 714.0h0M1909.7 487.3h0M1979.3 233.7h0M1755.0 688.8h0M1502.4 710.4h0M1565.1 719.0h0M1666.0 704.4h0M1801.6 673.4h0M1442.3 748.6h0M1546.4 711.2h0M1728.5 714.6h0M1707.8 693.0h0M1807.2 697.0h0M2007.7 228.0h0M1725.6 733.1h0M1721.3 744.4h0M1503.1 719.8h0M1257.5 714.7h0M1984.8 197.6h0M1711.3 700.2h0M1653.9 705.2h0M1860.9 572.8h0M2029.4 196.5h0M1723.2 710.2h0M1937.2 508.7h0M1702.7 708.8h0M1788.3 745.2h0M2024.7 260.4h0M1513.7 716.4h0M1489.1 717.7h0M1599.4 715.5h0M1883.6 606.8h0M1799.0 679.0h0M1949.5 222.6h0M1479.2 714.7h0M1384.3 717.5h0M1242.1 718.9h0M2037.9 276.8h0M1378.9 713.6h0M1711.5 699.1h0M1453.4 719.2h0M1931.7 595.0h0M1526.6 719.6h0M1896.0 533.2h0M1500.0 713.2h0M1748.1 726.7h0M1331.9 727.4h0M1816.9 698.7h0M1934.4 357.4h0M1400.7 708.8h0M1822.9 680.6h0M1286.1 723.5h0M1947.2 63.3h0M1673.9 705.5h0M1791.4 710.9h0M1312.2 709.9h0M2012.1 321.2h0M1585.2 735.5h0M2031.1 49.3h0M2022.2 59.5h0M1661.0 741.7h0M1689.2 696.7h0M2018.2 255.3h0M1613.2 706.8h0M1956.6 618.0h0M1549.2 711.6h0M1925.4 166.6h0M1708.0 752.3h0M1956.2 530.1h0M1252.3 733.7h0M1785.9 683.9h0M1726.4 705.6h0M1466.5 719.0h0M1514.0 714.3h0M1370.0 718.1h0M1990.4 678.8h0M1305.2 721.2h0M2035.7 404.1h0M1321.2 717.0h0M2021.4 192.5h0M1377.5 713.7h0M1459.7 715.7h0M1703.9 707.3h0M1866.1 553.2h0M1987.8 45.9h0M1799.9 682.4h0M1923.4 454.3h0M1386.8 742.7h0M1956.8 385.7h0M1776.2 677.9h0M1911.6 675.8h0M1912.7 411.5h0M1455.0 720.6h0M1384.3 736.7h0M1556.6 745.2h0M1726.6 683.9h0M1430.7 719.8h0M1996.3 287.2h0M1876.2 414.9h0M1415.5 715.2h0M2003.9 481.7h0M1719.6 702.3h0M1740.6 703.4h0M1381.7 717.4h0M1924.4 244.8h0M1414.6 723.4h0M1715.3 707.7h0M2034.1 211.2h0M1454.2 760.8h0M1872.1 297.8h0M1785.4 764.4h0M1902.1 563.7h0M1589.6 727.7h0M1728.4 704.5h0M1639.0 741.8h0M1638.2 710.8h0M1697.1 763.4h0M1945.5 327.9h0M1803.3 712.3h0M1385.4 720.8h0M1629.7 713.9h0M1916.0 698.2h0M1930.6 593.9h0M1998.3 308.4h0M1936.0 135.2h0M1641.8 712.7h0M2015.7 166.7h0M1994.0 533.6h0M2017.0 59.5h0M1875.9 610.3h0M1341.2 711.4h0M1757.0 719.5h0M1946.1 414.4h0M1896.8 645.8h0M1977.8 254.9h0M1720.0 754.8h0M1569.1 701.5h0M1699.3 706.0h0M1754.2 680.4h0M1433.0 717.5h0M1266.1 727.3h0M2013.5 550.2h0M1771.6 761.1h0M1771.5 697.5h0M1760.4 674.3h0M1588.1 716.9h0M1576.6 734.1h0M1594.3 714.0h0M1636.4 702.3h0M1611.1 709.3h0M1740.0 732.3h0M1758.3 690.3h0M1677.5 689.1h0M1696.3 706.2h0M1676.6 707.8h0M1377.6 729.0h0M1690.6 722.0h0M1873.0 450.4h0M1840.7 723.9h0M1509.0 715.4h0M1359.0 713.7h0M2014.7 44.5h0M1263.4 739.8h0M1653.8 728.4h0M1248.2 719.4h0M1562.4 709.5h0M1647.7 719.9h0M1796.9 719.3h0M1640.3 714.9h0M1736.9 687.6h0M2036.7 660.7h0M1802.8 733.8h0M1983.2 58.5h0M1362.4 720.8h0M1379.9 721.2h0M1959.5 365.1h0M1857.8 706.2h0M1960.2 46.1h0M1301.3 736.9h0M1430.7 711.8h0M1754.5 602.6h0M1622.2 707.0h0M1461.4 722.6h0M2025.5 398.0h0M1968.2 397.4h0M1404.3 707.6h0M1664.7 706.7h0M1480.0 743.0h0M2014.7 434.2h0M1591.1 719.6h0M1613.1 717.8h0M1709.0 728.0h0M1857.7 96.4h0M1554.5 736.8h0M2018.1 195.4h0M1880.6 713.6h0M1905.9 364.1h0M1783.2 694.7h0M1702.5 717.6h0M1791.1 687.4h0M1709.5 692.5h0M1283.1 715.3h0M2022.7 255.8h0M1967.6 449.0h0M1865.0 579.1h0M1474.8 726.6h0M1652.1 721.3h0M1963.4 55.0h0M2043.9 233.9h0M1588.7 716.1h0M1688.1 706.2h0M1790.3 682.9h0M1657.3 704.5h0M1887.3 526.8h0M2007.9 431.2h0M1716.4 737.9h0M1508.1 750.5h0M1336.3 731.2h0M1362.0 707.3h0M1381.0 722.3h0M1720.1 725.5h0M1594.4 714.2h0M2024.8 315.3h0M1797.7 686.7h0M1913.3 590.6h0M1466.0 710.5h0M1758.1 732.8h0M1466.4 726.0h0M1770.2 686.9h0M1393.8 747.2h0M1560.5 712.4h0M1814.0 641.2h0M1604.8 714.4h0M1759.9 700.2h0M1541.8 708.5h0M1741.5 713.3h0M1342.4 734.9h0M1758.2 694.2h0M1705.5 723.8h0M1732.0 719.1h0M1331.8 716.1h0M1431.0 721.1h0M1803.4 683.9h0M1766.3 686.3h0M1734.9 730.5h0" stroke="#45A8DF" stroke-width="5.9" stroke-linecap="round" fill="none"/>
<path d="M1740.8 582.8h0M1864.3 41.1h0M1932.4 41.4h0M1811.8 450.1h0M1824.9 41.2h0M1373.1 696.5h0M1927.0 41.1h0M1904.1 253.5h0M1694.5 558.5h0M2046.5 59.4h0M1659.8 657.0h0M1288.3 702.5h0M1707.1 643.9h0M1779.3 42.6h0M1483.1 698.6h0M1567.9 696.3h0M1449.6 723.0h0M1826.2 555.4h0M1904.6 42.0h0M1467.1 691.0h0M1293.9 703.2h0M1941.9 94.0h0M1972.6 46.6h0M1250.9 701.4h0M1766.3 41.1h0M1497.9 694.5h0M1528.2 689.4h0M1924.8 429.1h0M1981.9 56.6h0M1407.0 694.2h0M1536.6 703.5h0M2026.8 42.8h0M1594.2 683.6h0M1926.0 41.3h0M1916.0 41.3h0M2057.9 42.1h0M1845.7 41.0h0M1654.5 628.9h0M1700.1 577.6h0M1648.4 621.4h0M1743.3 586.3h0M1421.8 698.4h0M2059.8 42.2h0M1272.5 702.2h0M1261.0 703.0h0M1287.9 700.0h0M1869.7 42.1h0M1368.3 704.2h0M1960.1 438.4h0M1284.0 701.7h0M1311.4 699.4h0M1355.2 699.4h0M1770.1 41.4h0M2017.1 41.6h0M1684.5 649.3h0M1809.5 69.3h0M1836.5 246.8h0M1815.4 41.5h0M1252.0 698.3h0M1656.3 586.7h0M1422.1 695.1h0M1442.8 702.2h0M1339.9 699.9h0M1820.8 41.8h0M1411.0 703.1h0M1732.8 103.8h0M1980.5 41.2h0M2030.5 42.7h0M1340.0 701.4h0M1503.2 697.4h0M1516.0 693.3h0M1505.3 690.2h0M1556.0 692.4h0M1388.8 717.1h0M1769.5 59.2h0M1960.0 156.3h0M1539.0 677.8h0M1863.2 42.2h0M1890.0 153.2h0M1352.6 706.6h0M1994.0 41.4h0M2056.2 41.2h0M1338.8 696.8h0M1630.9 648.1h0M1721.4 593.5h0M2040.9 41.8h0M1796.4 41.2h0M1329.3 705.5h0M1390.4 697.8h0M1986.2 41.1h0M1721.4 604.5h0M1480.0 723.9h0M1981.8 41.0h0M1665.0 671.0h0M1268.5 703.3h0M1625.2 645.7h0M1350.0 696.6h0M2039.1 62.7h0M1468.2 692.6h0M1646.8 615.5h0M1790.0 42.0h0M1464.3 690.3h0M1918.0 285.7h0M1254.0 708.7h0M1464.6 700.9h0M2057.4 41.4h0M1925.9 42.1h0M1693.8 632.0h0M1898.8 41.7h0M1837.5 41.9h0M2056.9 41.3h0M1863.4 42.7h0M1820.5 147.0h0M2017.9 80.8h0M1745.9 465.6h0M1515.5 689.0h0M1953.6 68.2h0M2052.6 41.1h0M1523.6 686.5h0M1464.9 692.9h0M1675.4 597.6h0M1763.8 314.5h0M2009.9 41.2h0M1520.3 689.1h0M1972.4 41.7h0M1283.7 702.9h0M1675.6 650.0h0M1882.0 41.3h0M1502.4 700.6h0M1675.2 599.0h0M1295.8 700.1h0M1985.4 41.5h0M1826.6 41.2h0M1739.0 454.6h0M2011.5 41.5h0M1253.4 701.3h0M1484.9 691.4h0M1878.2 421.7h0M1392.3 710.0h0M1919.8 41.2h0M1693.3 562.7h0M2030.6 61.2h0M1256.4 704.7h0M1983.7 57.5h0M1953.4 41.8h0M1449.4 701.2h0M1607.4 680.0h0M1406.0 696.3h0M1851.8 42.7h0M1801.3 41.2h0M1498.8 696.1h0M1735.2 173.7h0M1825.7 41.5h0M1384.5 719.5h0M1381.3 702.3h0M1447.1 693.8h0M2040.5 81.5h0M2037.3 42.8h0M1677.8 587.4h0M2021.5 41.8h0M1319.9 715.8h0M1302.2 708.0h0M2021.3 41.9h0M1462.4 696.2h0M1635.3 383.2h0M1779.0 471.5h0M1334.4 702.4h0M2008.0 41.2h0M1270.2 703.7h0M1864.3 48.0h0M2013.0 51.8h0M2028.5 42.2h0M1264.3 706.0h0M1890.9 41.4h0M1442.9 698.7h0M1902.5 41.2h0M1775.0 467.5h0M1402.4 698.7h0M1303.9 705.9h0M1375.5 702.5h0M1933.7 180.2h0M1806.6 41.1h0M1342.8 701.7h0M1258.5 699.5h0M1451.9 693.2h0M1290.8 701.1h0M1674.2 671.6h0M1660.5 601.0h0M1923.3 73.1h0M1394.9 706.0h0M1986.3 42.1h0M1526.4 678.2h0M1473.2 698.7h0M1885.5 43.6h0M1574.5 673.2h0M1314.1 721.2h0M1751.0 646.3h0M1884.2 276.1h0M2004.9 41.7h0M2052.8 41.8h0M1577.4 663.9h0M1669.5 596.1h0M1916.1 41.8h0M1495.4 698.5h0M1805.8 419.5h0M1967.9 176.1h0M1722.9 537.5h0M1424.0 703.7h0M2026.8 94.0h0M1993.4 41.7h0M2046.9 42.1h0M1801.4 41.1h0M1888.6 41.0h0M1858.1 41.4h0M1748.5 620.4h0M1774.2 74.9h0M1692.2 611.8h0M1802.2 42.0h0M1858.7 267.9h0M1423.7 716.3h0M1945.7 41.4h0M1478.2 690.1h0M1343.8 706.2h0M2031.6 41.9h0M1993.3 41.2h0M1856.5 296.5h0M1310.5 699.1h0M1460.1 692.0h0M1951.4 41.1h0M2049.6 41.8h0M1310.0 708.7h0M1904.1 251.4h0M1681.2 589.8h0M1988.8 42.6h0M1719.6 502.1h0M2021.5 41.8h0M1908.0 41.4h0M1484.6 691.9h0M1407.8 698.3h0M1488.8 689.1h0M2012.2 42.1h0M1699.5 689.8h0M1707.9 480.3h0M1968.2 65.5h0M1489.9 716.7h0M1554.7 682.2h0M1699.8 621.6h0M1368.3 700.4h0M1535.4 690.4h0M1311.4 703.1h0M1302.6 699.5h0M1339.6 698.5h0M1811.2 387.1h0M2024.2 41.2h0M1948.7 41.4h0M1489.0 688.9h0M1921.7 68.9h0M2029.7 41.8h0M1460.4 711.2h0M1820.5 41.5h0M1468.8 694.7h0M1936.3 41.6h0M1774.9 315.5h0M1459.9 692.0h0M2008.7 41.1h0M1497.6 694.8h0M1884.5 49.4h0M1953.6 391.5h0M1345.9 726.5h0M1853.8 286.7h0M2012.9 46.0h0M1531.6 686.5h0M1840.5 42.1h0M1686.2 636.3h0M1304.6 707.8h0M1509.3 697.9h0M1973.1 42.1h0M1910.8 149.0h0M1313.7 702.8h0M1285.9 702.6h0M1510.3 718.9h0M1697.7 555.2h0M1915.1 42.0h0M1532.9 692.4h0M1885.1 198.6h0M1742.3 568.5h0M1513.9 690.8h0M1381.2 704.6h0M1294.0 707.8h0M1687.6 603.3h0M1314.5 708.2h0M1592.9 696.5h0M1403.3 704.2h0M1432.0 697.6h0M2001.7 42.0h0M2038.6 43.6h0M1909.2 42.5h0M1333.4 738.0h0M1288.7 700.5h0M1655.6 659.7h0M1707.8 630.4h0M1718.0 586.2h0M2033.9 77.3h0M2024.6 41.9h0M1872.3 41.4h0M1878.8 41.5h0M1975.1 238.5h0M1434.4 697.5h0M1536.8 686.9h0M1948.9 41.9h0M1284.6 714.2h0M1709.2 621.8h0M1648.6 656.5h0M1246.8 709.6h0M1986.0 41.1h0M1943.6 41.1h0M1377.7 695.7h0M1249.4 700.7h0M1674.3 602.9h0M1765.3 596.2h0M1508.8 694.0h0M1780.5 41.9h0M1328.2 702.9h0M1754.9 390.6h0M1361.6 706.6h0M1705.8 600.3h0M1514.2 686.0h0M1357.0 696.4h0M1471.0 691.6h0M2023.0 41.1h0M1542.6 701.2h0M1292.9 701.3h0M1357.1 719.5h0M1755.3 41.3h0M1768.9 166.7h0M2028.2 53.3h0M1475.6 695.5h0M1553.8 683.1h0M1569.8 690.1h0M1363.4 696.5h0M1773.1 362.5h0M1626.0 634.4h0M1731.3 587.0h0M1548.8 687.0h0M1555.7 680.4h0M1911.4 41.1h0M1459.1 708.6h0M1668.4 663.1h0M1831.0 43.1h0M1866.8 42.3h0M1712.2 625.1h0M2033.4 42.0h0M1408.9 703.1h0M1772.6 348.8h0M1823.2 41.6h0M1942.9 42.8h0M1524.5 691.6h0M1293.6 706.4h0M1787.7 516.1h0M1642.4 622.2h0M1740.4 582.6h0M1717.3 623.4h0M1591.0 681.5h0M1540.0 686.5h0M2049.3 41.6h0M1688.6 124.6h0M1364.3 703.5h0M2047.9 42.3h0M1464.3 696.2h0M1513.5 691.1h0M1501.0 698.0h0M1702.9 605.6h0M1399.8 701.9h0M1498.4 692.8h0M1377.8 702.9h0M1650.5 546.5h0M1508.0 696.7h0M1908.9 48.7h0M1844.8 50.7h0M1517.4 685.7h0M1876.8 41.1h0M1553.0 685.6h0M1517.3 706.5h0M2061.3 43.5h0M1311.2 698.9h0M1264.2 706.3h0M1922.1 41.2h0M1503.8 710.9h0M1287.9 699.7h0M1779.7 317.8h0M1385.5 722.2h0M1344.6 697.2h0M1361.2 706.2h0M1664.0 651.1h0M1514.1 692.9h0M1657.1 637.1h0M1246.4 704.0h0M1930.0 41.6h0M1877.9 42.2h0M1878.5 170.4h0M1394.3 703.2h0M1765.3 445.6h0M1728.9 510.1h0M1509.6 696.1h0M1261.1 700.7h0M1530.4 700.7h0M1494.1 697.7h0M1300.2 700.4h0M1444.4 693.8h0M1247.3 701.4h0M1936.8 41.0h0M1247.4 698.5h0M1348.7 701.2h0M1883.0 119.3h0M1834.0 82.9h0M1392.3 705.5h0M1523.5 690.4h0M1944.4 65.1h0M2043.6 41.4h0M1793.6 392.4h0M1424.0 699.9h0M1531.7 684.8h0M1256.1 718.4h0M1310.2 708.6h0M1704.6 131.0h0M1720.0 577.2h0M1980.3 69.2h0M2025.3 42.3h0M1465.8 698.6h0M1578.8 710.1h0M1638.6 650.7h0M2028.7 81.6h0M1723.5 440.6h0M1425.0 698.2h0M1534.7 685.7h0M1931.0 42.5h0M1590.5 688.9h0M1761.2 600.4h0M1591.4 685.5h0M1328.4 705.7h0M1809.1 186.9h0M1621.6 638.3h0M1557.4 683.1h0M1719.6 589.9h0M1509.6 703.9h0M1714.3 631.7h0M1732.7 485.4h0M1755.0 532.0h0M1256.1 719.8h0M2004.7 66.2h0M1316.5 697.6h0M1742.0 440.4h0M1787.3 362.0h0M1320.0 702.2h0M1842.2 41.8h0M1486.3 698.4h0M1557.9 686.6h0M1812.8 337.4h0M2035.9 42.2h0M1729.8 575.2h0M1459.8 696.8h0M1341.9 699.1h0M2002.7 145.3h0M1744.2 283.8h0M1768.2 516.8h0M1558.7 688.4h0M1354.0 711.0h0M1586.1 668.8h0M1540.6 682.8h0M1538.9 710.0h0M1464.5 698.1h0M1642.9 620.6h0M1727.8 364.4h0M2019.6 400.0h0M1960.8 41.8h0M1861.1 78.7h0M1477.5 697.4h0M1502.4 700.5h0M1371.7 699.8h0M1515.8 683.9h0M2040.4 41.6h0M1726.5 504.9h0M1365.0 696.2h0M1497.0 695.9h0M1390.6 695.7h0M1463.7 694.5h0M1379.8 697.4h0M1316.8 700.7h0M2022.5 41.4h0M2028.9 41.4h0M1929.0 42.4h0M1863.2 42.1h0M1731.2 389.7h0M1905.1 41.1h0M1305.8 705.0h0M1242.1 700.2h0M1739.8 586.9h0M1430.5 694.7h0M1941.4 42.0h0M1538.6 694.4h0M1710.9 592.4h0M1556.6 694.0h0M1690.1 620.8h0M1520.5 694.5h0M1504.3 693.9h0M1856.8 41.4h0M1515.9 693.0h0M1692.3 611.4h0M1528.5 693.2h0M1694.9 604.2h0M1252.5 702.0h0M1662.3 655.4h0M1970.7 41.9h0M1922.9 41.8h0M1844.4 42.7h0M1440.7 692.4h0M1269.6 698.2h0M2016.5 42.5h0M2013.8 41.5h0M1840.3 41.6h0M1536.1 684.8h0M1499.7 691.6h0M1484.3 699.1h0M2047.2 41.1h0M1945.6 41.0h0M1271.0 708.3h0M1848.3 41.6h0M1493.9 688.4h0M1384.0 701.3h0M2025.3 56.4h0M1791.0 41.7h0M1329.9 698.6h0M1848.2 417.5h0M1683.8 629.8h0M1510.2 696.0h0M1619.2 232.8h0M2061.1 42.5h0M2055.0 42.0h0M1744.4 337.6h0M1844.6 55.4h0M1301.8 703.2h0M1679.9 672.1h0M1758.7 43.0h0M1274.4 708.6h0M1323.2 708.4h0M1681.8 595.0h0M1687.3 614.7h0M1423.3 703.3h0M1677.2 529.8h0M1488.0 693.6h0M1909.8 47.9h0M1416.2 704.5h0M2011.2 42.7h0M1713.1 618.2h0M1303.3 714.7h0M1402.4 705.2h0M1499.8 689.3h0M1362.6 697.8h0M1266.7 701.6h0M1584.8 687.0h0M1967.6 46.9h0M1896.6 42.9h0M1804.1 41.3h0M1273.4 714.8h0M1583.7 681.3h0M1456.5 703.5h0M1270.8 709.5h0M1285.2 700.3h0M1389.2 702.4h0M1547.8 687.0h0M1479.8 695.1h0M1816.1 54.6h0M1443.2 693.7h0M1710.2 576.5h0M1322.1 701.8h0M1979.4 42.4h0M1809.6 64.1h0M1958.0 58.9h0M2061.4 42.6h0M1860.3 41.0h0M1921.5 41.1h0M1938.7 41.9h0M1533.9 683.7h0M1414.6 704.5h0M2028.5 381.1h0M1984.0 44.6h0M1458.2 727.8h0M1416.3 699.4h0M1535.4 688.4h0M2047.3 66.0h0M1884.7 41.3h0M2002.9 43.2h0M1254.1 736.2h0M1382.8 706.1h0M1336.8 706.9h0M1905.6 42.9h0M1478.8 697.3h0M1938.9 54.8h0M1890.4 41.5h0M1757.3 348.6h0M1416.1 701.9h0M1844.5 205.2h0M1462.9 693.5h0M1344.3 702.8h0M1293.9 701.3h0M1831.8 42.9h0M1719.6 514.3h0M1410.2 702.8h0M1529.8 689.7h0M1965.8 43.3h0M1278.7 708.3h0M1701.3 523.6h0M1352.9 701.5h0M1891.2 360.7h0M1295.9 703.9h0M1537.6 688.7h0M1999.6 42.5h0M1915.3 41.1h0M2000.3 41.9h0M1975.1 42.8h0M1850.0 42.5h0M1617.9 662.6h0M1795.0 291.5h0M1940.7 426.8h0M1312.0 705.0h0M2040.7 62.9h0M1423.4 698.3h0M1915.0 42.3h0M1788.4 353.2h0M1480.8 705.2h0M1334.1 702.0h0M1507.9 693.6h0M1700.5 598.9h0M1305.4 725.8h0M1560.5 695.7h0M1327.1 703.7h0M1416.9 694.6h0M1589.9 678.7h0M1538.4 684.4h0M1427.9 699.3h0M1859.5 41.5h0M1613.7 345.4h0M1706.9 567.0h0M1691.6 566.3h0M1543.7 689.6h0M1862.2 41.2h0M1472.4 699.4h0M1797.7 108.4h0M1750.9 562.0h0M1488.6 694.4h0M1540.0 692.5h0M1925.2 42.2h0M1919.4 42.4h0M1322.6 707.4h0M1897.3 186.6h0M1252.6 709.4h0M1490.7 691.9h0M2015.8 41.7h0M1996.1 41.4h0M1681.0 512.9h0M2002.2 236.3h0M1542.9 684.3h0M1386.3 695.7h0M2037.4 41.2h0M1345.9 705.7h0M1253.5 720.2h0M2018.4 41.6h0M1327.5 699.1h0M1410.4 701.3h0M1828.7 353.6h0M1577.3 664.8h0M1797.8 430.3h0M1781.5 338.9h0M2007.8 41.4h0M1275.1 703.7h0M1255.4 699.9h0M1931.5 41.6h0M1725.2 418.2h0M1405.6 699.4h0M1328.1 703.9h0M2030.1 41.6h0M1760.8 41.4h0M1269.8 706.7h0M1837.0 171.8h0M1486.9 697.5h0M1247.6 712.5h0M1856.2 63.2h0M1289.8 707.9h0M1788.7 384.5h0M1621.4 688.9h0M1312.7 698.2h0M2026.5 42.0h0M1370.5 700.5h0M1375.2 711.4h0M1546.0 689.0h0M1789.8 332.1h0M1458.6 697.4h0M1399.4 704.5h0M1679.0 644.6h0M1987.1 130.5h0M1512.1 692.6h0M2034.9 41.6h0M1336.0 704.7h0M1464.4 700.4h0M1939.9 41.8h0M1295.2 699.2h0M1880.1 42.5h0M1388.6 696.0h0M1687.7 611.5h0M1592.6 654.9h0M1728.7 461.5h0M1921.2 42.9h0M1365.9 696.3h0M1516.8 693.6h0M1776.6 411.5h0M1504.1 691.5h0M1995.6 41.9h0M1587.1 672.8h0M1544.1 688.5h0M2015.4 43.1h0M1417.4 696.7h0M1358.1 707.3h0M1396.0 699.9h0M1371.5 702.5h0M1977.8 43.4h0M1704.7 575.6h0M1584.8 676.8h0M1795.2 350.3h0M1904.7 197.5h0M1542.0 681.4h0M1696.4 586.4h0M1702.1 516.9h0M1934.8 42.1h0M2057.4 42.2h0M1413.3 701.3h0M1545.1 691.3h0M1787.2 570.8h0M1486.3 698.4h0M1691.4 617.5h0M1925.4 153.7h0M1440.3 703.1h0M1777.4 50.1h0M1912.0 196.6h0M1713.7 557.5h0M1946.2 43.5h0M1801.6 42.2h0M1919.1 197.6h0M2008.1 42.2h0M1315.2 708.3h0M1780.6 271.8h0M1801.2 41.7h0M1687.0 579.0h0M1318.7 705.5h0M1331.1 706.3h0M1832.8 53.8h0M1517.3 694.0h0M1862.2 41.0h0M1268.5 703.7h0M1680.6 646.3h0M1960.7 41.1h0M1285.8 698.5h0M1601.4 675.8h0M1351.9 698.6h0M1293.1 709.1h0M1551.6 684.5h0M2006.3 159.7h0M1375.4 701.3h0M1804.2 445.1h0M1647.6 688.2h0M1542.6 681.9h0M1502.2 689.5h0M1520.5 692.0h0M1502.4 689.2h0M1378.9 700.3h0M1804.0 43.2h0M1681.3 617.3h0M1625.6 637.5h0M1650.6 637.8h0M1523.8 688.2h0M1441.7 708.8h0M1539.7 688.1h0M1728.8 503.9h0M1856.3 41.1h0M1456.4 710.8h0M1547.2 690.9h0M2050.8 42.9h0M1774.9 398.0h0M2047.7 79.5h0M2044.2 46.2h0M1700.9 659.9h0M2036.4 42.2h0M1799.5 377.8h0M1543.4 686.7h0M1510.2 712.7h0M1779.9 461.8h0M1463.2 711.3h0M1467.4 697.8h0M1517.5 693.1h0M1299.3 699.3h0M1932.6 64.4h0M1304.5 703.5h0M1822.6 41.6h0M1477.5 692.1h0M1626.4 665.5h0M1771.8 42.6h0M1878.6 312.5h0M1796.0 43.4h0M2035.7 43.0h0M1749.6 462.5h0M1454.8 702.4h0M1962.1 149.1h0M1981.7 41.6h0M1661.9 650.0h0M1643.1 651.3h0M1460.7 700.0h0M1273.2 703.2h0M1259.1 707.3h0M1933.7 41.9h0M1748.3 619.7h0M1307.6 702.9h0M1878.4 248.1h0M1882.4 43.4h0M1475.7 692.0h0M1825.9 75.4h0M1245.0 703.6h0M1464.5 694.4h0M1522.0 695.8h0M1934.5 41.1h0M1671.6 298.8h0M1508.0 690.3h0M1725.9 506.0h0M1280.0 698.3h0M1961.4 41.6h0M1663.3 569.5h0M2055.9 41.0h0M1930.7 41.2h0M1386.7 705.0h0M1819.0 82.8h0M1968.7 45.3h0M1874.9 194.4h0M1537.1 685.8h0M1397.2 697.5h0M1753.4 498.0h0M1738.0 390.4h0M1807.8 333.9h0M1416.4 694.1h0M1952.5 41.0h0M1467.3 694.5h0M1638.8 655.6h0M1526.8 694.7h0M1363.4 696.0h0M1901.2 79.2h0M1743.9 499.1h0M1834.7 41.8h0M1759.5 533.4h0M1855.2 42.7h0M1623.8 661.1h0M1548.7 685.7h0M1539.9 682.8h0M1683.0 586.4h0M1386.6 699.9h0M1304.9 723.3h0M1831.5 84.1h0M1896.4 41.8h0M1323.0 708.2h0M1904.1 41.1h0M1738.0 177.2h0M1327.4 702.3h0M1379.3 696.7h0M1997.2 42.3h0M1967.6 43.0h0M1368.9 697.4h0M1494.4 691.3h0M1545.7 684.0h0M1518.4 684.9h0M1982.3 67.4h0M1958.0 41.2h0M1999.0 41.1h0M1297.2 701.8h0M1845.7 193.6h0M1788.4 115.4h0M1294.5 700.5h0M1278.1 701.8h0M1694.5 664.3h0M1737.6 586.1h0M1963.8 42.2h0M1848.6 63.6h0M1838.1 428.3h0M1472.4 700.5h0M1884.0 41.7h0M1558.5 679.0h0M1535.8 687.3h0M1794.2 42.2h0M2027.5 42.0h0M1367.4 697.8h0M1661.1 610.1h0M1926.3 41.2h0M1733.4 527.2h0M2040.8 42.3h0M2004.9 43.3h0M1555.8 690.5h0M1972.9 41.2h0M1446.4 698.5h0M1526.0 681.9h0M1904.4 227.2h0M1830.4 41.9h0M1837.8 256.4h0M1757.6 545.8h0M1962.0 43.2h0M1556.2 683.8h0M1895.5 184.1h0M1389.3 729.3h0M1938.8 42.3h0M1962.7 41.5h0M1330.8 705.4h0M1393.5 702.4h0M1764.5 443.0h0M1273.4 708.1h0M1834.3 41.4h0M2055.5 43.9h0M1294.6 711.9h0M1300.1 700.0h0M1638.7 614.3h0M1456.1 701.9h0M1489.8 708.4h0M1344.4 705.3h0M1294.4 703.6h0M1754.0 563.4h0M1487.5 692.5h0M1831.2 41.2h0M1368.8 706.3h0M1868.9 41.3h0M1684.9 575.8h0M1999.5 42.1h0M1730.0 633.1h0M1286.6 702.8h0M1759.5 679.8h0M1762.9 593.9h0M1526.2 688.4h0M1389.5 695.8h0M1704.8 609.2h0M1570.7 678.9h0M1643.7 659.0h0M2034.2 41.4h0M2057.1 42.9h0M1370.3 698.8h0M1933.1 49.4h0M1786.8 492.5h0M1988.4 42.0h0M2006.8 63.2h0M1320.0 715.5h0M1285.8 700.6h0M1901.0 54.0h0M1856.9 41.9h0M1378.7 706.5h0M1291.1 701.3h0M1884.1 42.5h0M1855.9 41.6h0M1530.1 691.8h0M1767.7 415.9h0M1932.3 132.1h0M1780.2 336.7h0M1988.6 43.2h0M1957.2 42.0h0M2019.0 42.4h0M2060.3 42.9h0M1773.5 108.4h0M1956.9 41.5h0M1502.6 702.5h0M1803.0 539.8h0M1482.6 699.7h0M1962.2 52.7h0M1828.7 54.7h0M1962.8 41.3h0M1246.9 707.0h0M1878.8 41.1h0M1497.0 689.9h0M1665.9 555.5h0M1458.8 694.1h0M1546.6 690.7h0M1978.8 41.4h0M1410.2 718.2h0M2051.3 41.7h0M1320.6 704.7h0M1858.2 190.1h0M1697.9 547.5h0M1456.2 693.0h0M1976.6 59.6h0M1690.2 626.7h0M1738.6 57.6h0M1541.6 682.0h0M1891.0 41.8h0M1314.0 697.5h0M1672.2 592.8h0M1384.4 702.4h0M1689.0 643.2h0M1504.0 689.1h0M1445.9 698.2h0M1898.9 41.7h0M1431.9 703.5h0M1580.9 689.6h0M1818.0 49.1h0M1546.2 687.5h0M1508.4 692.1h0M1875.1 214.7h0M1654.2 569.1h0M1924.7 75.5h0M1723.3 503.2h0M1938.5 42.5h0M1269.9 698.4h0M1382.2 701.6h0M1728.3 214.2h0M1871.4 42.1h0M1941.5 182.9h0M1243.4 706.3h0M1395.7 703.9h0M1720.3 441.0h0M1897.0 42.0h0M1481.8 703.6h0M1443.9 700.7h0M1579.4 675.4h0M1697.8 606.7h0M1949.5 41.8h0M1648.0 646.0h0M1889.9 339.6h0M1913.4 58.3h0M1673.4 593.7h0M1680.8 582.3h0M2029.2 41.4h0M1417.0 702.4h0M1640.3 603.9h0M1679.4 603.1h0M1533.9 691.0h0M1511.5 688.0h0M1343.1 703.3h0M1835.7 99.2h0M1927.0 86.2h0M1520.1 695.1h0M1906.1 43.7h0M1585.2 682.8h0M2011.1 384.7h0M1808.7 41.9h0M1251.8 702.1h0M1891.1 86.4h0M1727.1 583.2h0M1261.9 698.4h0M1450.6 696.9h0M2008.2 75.1h0M1827.0 43.3h0M1795.8 41.3h0M1734.3 305.1h0M1969.9 41.7h0M1340.2 703.2h0M1880.5 41.3h0M1531.6 685.1h0M1538.0 685.1h0M2012.1 67.8h0M1485.6 689.6h0M1535.6 689.7h0M1465.6 699.0h0M1282.2 699.6h0M1927.5 153.9h0M2001.2 41.3h0M1868.7 41.3h0M1347.8 700.5h0M1874.8 43.1h0M1546.4 680.6h0M1544.6 691.2h0M1263.7 706.7h0M1599.6 672.9h0M1551.9 686.5h0M1956.6 41.5h0M1652.2 632.2h0M2026.8 42.2h0M1383.4 702.2h0M1510.5 688.9h0M1452.7 735.2h0M1685.0 469.4h0M1764.1 588.9h0M1413.9 702.8h0M1813.1 303.9h0M1858.1 41.5h0M1847.6 42.0h0M1253.7 709.7h0M1577.9 683.1h0M1546.2 700.7h0M1481.6 692.1h0M2009.4 50.7h0M1886.6 42.0h0M1880.2 346.4h0M1382.4 701.0h0M1662.2 624.8h0M1398.8 704.7h0M1537.5 691.4h0M1781.7 46.5h0M1503.3 690.4h0M1463.3 692.4h0M1976.7 42.7h0M1476.3 697.6h0M1660.0 656.1h0M1911.0 42.0h0M1891.8 283.3h0M1424.6 694.2h0M1490.3 693.8h0M1840.8 41.5h0M1703.7 602.5h0M1346.4 701.6h0M1678.4 652.6h0M2024.5 41.4h0M1833.3 290.2h0M1717.8 608.0h0M1477.7 689.8h0M1628.1 638.6h0M1925.7 66.2h0M1535.1 681.7h0M2005.7 42.2h0M2033.1 41.7h0M1319.0 699.1h0M1515.9 693.5h0M1827.5 42.4h0M1460.0 696.3h0M1871.5 41.8h0M1982.2 41.5h0M1291.5 702.4h0M1295.0 704.0h0M1628.7 663.1h0M1483.3 708.6h0M1606.0 677.1h0M1490.4 690.2h0M1556.5 678.9h0M1779.1 456.4h0M1412.1 732.2h0M1861.6 59.4h0M1938.6 41.4h0M1521.9 694.3h0M1285.2 700.8h0M1812.7 310.3h0M1359.5 697.7h0M1342.2 701.6h0M1437.9 699.1h0M1971.1 41.7h0M1610.8 675.8h0M1893.2 334.0h0M1863.8 193.3h0M1680.0 648.7h0M1702.4 645.6h0M1738.0 540.7h0M1925.1 42.1h0M1731.8 447.9h0M1477.0 692.1h0M1825.6 82.3h0M1887.2 452.1h0M1483.3 707.4h0M1434.3 704.1h0M1830.1 296.1h0M1635.4 635.8h0M1737.4 106.1h0M1890.1 41.7h0M1596.8 680.1h0M2057.2 41.4h0M1938.5 80.1h0M1538.1 700.0h0M1908.8 43.0h0M2047.9 42.8h0M1451.2 702.2h0M1787.0 425.7h0M1558.0 681.3h0M1881.1 41.5h0M1505.9 706.1h0M2027.2 41.5h0M1490.1 695.0h0M1742.4 366.1h0M1369.6 700.8h0M1744.1 517.6h0M1721.3 528.2h0M1775.2 42.2h0M1425.2 698.4h0M1651.4 637.4h0M1380.3 695.6h0M1807.5 48.3h0M1415.0 703.4h0M1358.9 703.7h0M1680.4 566.8h0M1465.2 700.7h0M1356.0 704.0h0M2034.5 42.2h0M1357.7 698.8h0M1554.3 674.5h0M1972.8 41.3h0M1523.3 692.5h0M1664.4 616.4h0M1700.5 631.6h0M1852.7 41.3h0M1771.9 350.7h0M2017.7 42.1h0M2003.5 41.9h0M1764.5 346.6h0M1714.6 660.6h0M1979.6 41.6h0M1290.9 699.9h0M1573.1 691.3h0M1953.1 42.2h0M1828.6 42.1h0M1869.1 150.9h0M2038.3 41.0h0M1552.8 687.5h0M1955.6 41.4h0M1696.9 608.6h0M1796.5 50.7h0M2056.9 41.5h0M1797.0 603.7h0M1283.7 703.5h0M1737.4 640.8h0M1434.7 697.5h0M1771.7 349.4h0M1654.7 604.7h0M1507.2 687.5h0M1695.6 559.5h0M1922.8 42.0h0M1754.1 572.8h0M1862.7 398.0h0M1313.0 699.9h0M1766.4 310.2h0M1371.3 697.9h0M1393.3 698.6h0M2056.4 41.3h0M1720.9 440.9h0M1866.2 335.7h0M1359.6 706.3h0M2038.5 64.3h0M1276.1 701.5h0M1348.4 699.5h0M1524.6 684.7h0M1704.8 536.6h0M1487.6 694.0h0M1460.4 727.8h0M1797.4 42.3h0M1601.4 673.9h0M1975.5 54.1h0M1899.2 42.3h0M1507.9 689.1h0M1467.2 702.1h0M1500.2 697.7h0M1913.0 41.7h0M1665.5 645.5h0M1524.9 693.9h0M1955.7 41.3h0M1885.1 41.6h0M2044.9 41.6h0M1412.1 709.6h0M2022.7 55.1h0M1611.9 662.5h0M1663.9 604.1h0M1552.5 683.7h0M1376.2 698.2h0M1883.0 80.9h0M1486.3 698.1h0M1677.6 585.9h0M1579.9 682.3h0M1305.8 705.3h0M1425.7 700.7h0M1570.6 688.5h0M1457.0 698.6h0M1373.9 698.1h0M1969.7 41.8h0M1416.1 704.5h0M1955.4 41.1h0M1441.0 699.8h0M1651.7 639.8h0M1783.9 73.6h0M1747.5 422.8h0M1646.9 632.9h0M1497.8 689.7h0M1702.5 431.3h0M1771.5 622.8h0M1985.3 41.2h0M1849.8 180.0h0M1451.5 711.5h0M1712.8 474.3h0M1996.4 41.1h0M1391.5 697.1h0M1833.3 502.3h0M1559.9 692.9h0M1713.4 101.7h0M1803.7 46.6h0M1937.4 41.5h0M1790.0 41.3h0M1958.3 42.0h0M1473.1 704.5h0M1370.0 699.5h0M1487.8 694.6h0M1410.1 702.0h0M1888.3 42.9h0M2058.6 43.7h0M1489.6 698.1h0M1289.9 699.0h0M1461.6 695.3h0M1978.9 430.7h0M1826.8 474.8h0M1696.8 561.3h0M1687.0 601.9h0M1604.7 687.5h0M1472.6 690.8h0M1535.6 698.2h0M1263.3 715.3h0M1920.1 41.8h0M1845.3 41.5h0M1956.0 41.3h0M1766.8 301.6h0M1302.5 708.1h0M1974.3 41.0h0M1667.5 611.7h0M1650.6 127.7h0M1295.5 708.2h0M1953.3 196.6h0M1787.8 648.0h0M1865.4 41.8h0M2049.5 45.2h0M1977.4 41.4h0M1373.6 703.5h0M1872.4 42.5h0M1964.1 41.5h0M1481.6 696.6h0M1742.8 645.6h0M1934.0 41.5h0M1637.3 631.3h0M1884.7 41.2h0M1330.6 706.8h0M1860.7 195.0h0M1751.5 450.9h0M1433.1 701.9h0M1837.9 41.7h0M1503.6 697.7h0M1986.7 41.5h0M1673.5 548.3h0M1522.0 694.8h0M1911.9 163.6h0M1462.2 692.3h0M2001.9 42.2h0M1819.7 543.8h0M1690.2 555.4h0M1752.2 386.2h0M1723.1 504.5h0M1906.5 163.0h0M1784.8 517.7h0M1409.8 694.2h0M1967.3 43.2h0M1941.6 41.1h0M1445.2 698.9h0M1289.1 700.7h0M1752.1 41.2h0M1896.1 42.9h0M1541.4 686.3h0M1351.3 706.5h0M1489.4 695.0h0M1818.3 41.2h0M1760.9 452.7h0M1858.5 45.9h0M1982.3 41.3h0M1809.4 296.8h0M1857.1 42.6h0M1540.3 692.3h0M1540.4 691.6h0M1813.9 313.2h0M1648.5 647.5h0M1709.4 568.1h0M1722.0 497.0h0M1675.3 541.1h0M1511.6 693.7h0M1892.8 48.5h0M1717.0 606.1h0M2006.5 41.2h0M1843.4 41.8h0M1242.0 703.0h0M1872.1 41.8h0M1772.2 595.9h0M2004.6 51.2h0M1661.8 618.9h0M1660.2 626.8h0M1299.4 703.8h0M1674.7 637.1h0M1833.0 413.2h0M1529.5 685.8h0M1243.4 732.9h0M1993.8 41.3h0M1734.8 524.7h0M1423.3 697.5h0M1256.3 703.3h0M1375.6 705.2h0M1241.4 708.8h0M1862.1 67.4h0M1448.0 700.6h0M1595.2 663.5h0M1395.7 698.9h0M1784.9 361.0h0M1893.4 41.3h0M1496.0 692.0h0M1336.8 701.3h0M1871.2 43.1h0M2060.6 191.4h0M1285.2 707.5h0M1370.6 695.6h0M1497.8 691.6h0M1786.1 41.9h0M1496.9 698.9h0M1561.6 687.9h0M1276.9 707.5h0M1498.3 691.3h0M1529.2 691.1h0M1528.1 693.2h0M1544.0 688.1h0M1626.5 658.7h0M1403.5 697.0h0M1971.3 41.2h0M1250.5 701.6h0M1909.0 42.3h0M1420.2 695.4h0M1592.1 677.6h0M1487.7 696.9h0M1451.8 698.6h0M1872.6 42.3h0M1797.1 453.0h0M1732.3 628.5h0M1415.3 702.3h0M1459.2 716.2h0M2054.4 41.6h0M1380.1 702.8h0M1485.8 712.6h0M1450.9 705.1h0M2006.8 43.3h0M1708.7 158.0h0M1355.0 718.9h0M1965.8 41.5h0M1924.7 41.4h0M1266.3 707.0h0M1582.5 681.2h0M1950.8 42.2h0M1981.3 41.2h0M1560.9 670.3h0M1713.2 360.8h0M1894.3 42.3h0M1305.5 708.8h0M1354.1 697.4h0M1415.0 698.0h0M1467.4 700.7h0M1494.8 697.4h0M1792.7 461.5h0M1508.9 687.0h0M1787.6 399.5h0M1847.6 268.4h0M1753.8 498.6h0M1749.1 512.0h0M2058.8 41.4h0M1527.7 686.8h0M1456.0 711.9h0M1290.6 707.2h0M1907.4 41.9h0M1633.3 636.5h0M1719.2 292.1h0M1358.8 702.6h0M1638.6 598.6h0M1867.2 49.4h0M1990.0 42.3h0M1387.4 706.1h0M2030.6 42.8h0M1979.2 42.7h0M1288.5 717.2h0M1285.7 698.3h0M1965.0 41.9h0M1502.4 694.7h0M1961.0 43.0h0M1418.7 695.7h0M1692.5 539.8h0M2010.7 49.1h0M1275.0 706.3h0M1996.6 41.2h0M1509.5 686.7h0M1951.0 41.2h0M1631.1 671.8h0M2004.6 41.1h0M1476.4 703.2h0M1403.3 702.8h0M2011.9 41.7h0M1483.6 695.6h0M1664.7 573.2h0M1520.2 694.2h0M1687.0 467.8h0M1308.4 699.3h0M1620.9 667.6h0M1795.8 42.0h0M1452.5 698.5h0M1764.5 297.5h0M2039.9 43.0h0M2053.9 41.9h0M1732.4 494.7h0M2029.1 42.5h0M1408.7 696.5h0M1656.2 561.7h0M1404.3 698.3h0M1752.2 615.4h0M2009.6 69.0h0M1368.4 705.5h0M1250.5 704.9h0M1522.2 695.4h0M1459.4 722.1h0M1651.6 624.9h0M1840.1 309.4h0M1313.1 699.8h0M1536.8 685.4h0M1628.0 687.2h0M1973.7 41.8h0M1277.3 699.7h0M1767.3 548.3h0M1355.4 703.7h0M1333.1 707.9h0M1805.8 304.1h0M1522.4 693.0h0M1471.4 690.3h0M1814.8 48.1h0M1967.5 78.0h0M1353.2 707.3h0M1537.6 684.6h0M1524.6 677.4h0M1539.4 675.8h0M1718.7 608.9h0M1539.9 683.7h0M2024.7 42.2h0M1889.2 41.4h0M1917.2 41.3h0M1420.3 701.0h0M2018.5 41.2h0M1738.1 509.9h0M2037.7 54.3h0M1479.9 704.5h0M2049.4 42.1h0M1617.4 647.6h0M1468.5 696.7h0M1452.4 698.2h0M1396.8 717.5h0M1708.8 421.5h0M1629.8 641.4h0M1687.7 588.0h0M1999.3 272.9h0M1527.8 696.3h0M2048.6 41.8h0M1768.7 337.8h0M1807.2 367.4h0M1964.6 42.6h0M1703.1 484.4h0M1524.4 681.5h0M1999.3 41.4h0M1499.2 690.2h0M1267.4 707.2h0M2026.7 68.7h0M1266.7 705.6h0M1891.6 316.1h0M1391.9 705.9h0M1491.9 694.6h0M1438.8 697.5h0M1479.6 695.9h0M1940.1 41.5h0M1491.6 688.4h0M1868.3 42.0h0M1998.1 41.1h0M1510.0 687.5h0M1646.3 642.5h0M1983.0 46.8h0M1481.1 696.7h0M1502.7 697.5h0M1718.6 584.3h0M1952.6 411.0h0M1836.4 42.0h0M1841.1 263.1h0M1775.8 449.4h0M1906.9 41.5h0M1366.8 718.6h0M1393.1 694.6h0M1980.6 371.1h0M1867.1 51.7h0M1982.8 42.2h0M1967.5 41.1h0M1818.9 280.4h0M1913.1 42.7h0M1753.1 631.6h0M2012.0 97.0h0M1557.9 687.5h0M1749.7 480.8h0M2030.6 41.1h0M1815.9 51.4h0M1749.6 508.9h0M1569.2 687.3h0M2058.5 41.2h0M2034.8 98.4h0M1686.7 631.9h0M1769.0 333.2h0M1474.0 697.4h0M1908.4 41.5h0M1553.0 684.2h0M1754.4 351.5h0M1268.6 706.0h0M1549.4 687.2h0M1532.4 692.8h0M2001.1 43.0h0M1707.3 536.2h0M1965.7 43.1h0M1341.1 706.2h0M1823.1 370.5h0M1543.6 674.6h0M1822.3 58.9h0M1889.4 41.2h0M1538.4 684.3h0M1596.8 700.1h0M2016.2 271.2h0M1505.1 692.1h0M1294.3 706.6h0M1753.1 360.8h0M2041.3 58.3h0M1960.7 41.9h0M1396.8 701.5h0M1290.8 721.2h0M1878.9 42.2h0M1992.5 42.6h0M1900.4 41.0h0M1981.0 42.1h0M1674.2 653.0h0M1504.6 690.4h0M1422.0 701.4h0M1447.3 697.1h0M2012.0 41.5h0M1994.0 41.0h0M1384.5 701.2h0M1370.6 705.5h0M1956.6 48.2h0M1262.1 698.5h0M1870.1 127.6h0M1744.0 665.9h0M1660.6 594.5h0M1980.6 129.1h0M1802.9 48.4h0M1899.7 41.6h0M1319.5 704.3h0M1591.4 669.5h0M1900.7 41.4h0M2013.2 43.3h0M1781.3 45.8h0M1777.5 438.0h0M1857.5 255.5h0M1476.3 693.4h0M1374.2 698.9h0M1857.8 41.2h0M1542.3 692.1h0M1831.1 61.6h0M1934.3 42.4h0M1558.5 680.1h0M1589.7 689.7h0M1704.0 615.9h0M1785.4 42.6h0M1922.8 247.7h0M1483.7 695.9h0M1453.3 697.2h0M1258.8 706.7h0M1458.0 691.9h0M2061.4 41.6h0M1894.8 41.7h0M1858.8 42.1h0M1758.0 445.2h0M1710.1 492.5h0M1507.3 688.7h0M2060.1 41.2h0M1711.0 636.5h0M1975.9 92.3h0M1507.1 692.6h0M2031.7 42.3h0M1286.1 707.1h0M1711.2 528.7h0M1366.6 706.9h0M1565.0 683.3h0M1824.0 289.8h0M1967.6 41.0h0M1834.0 41.5h0M1330.1 702.7h0M1474.8 696.5h0M1702.3 602.4h0M2012.5 41.8h0M1715.1 609.6h0M1874.6 261.0h0M1248.8 709.0h0M1537.0 689.2h0M1834.6 230.5h0M1293.3 704.0h0M1916.3 321.9h0M1738.1 571.8h0M1271.9 703.3h0M1685.4 603.6h0M1426.4 704.0h0M1535.2 692.8h0M1932.4 42.0h0M1960.4 42.6h0M1351.0 705.8h0M1852.2 41.5h0M1406.8 703.8h0M1260.2 699.1h0M1672.9 633.1h0M1857.0 293.0h0M1472.3 704.9h0M1909.0 43.1h0M1773.9 650.8h0M1789.2 454.2h0M1414.1 694.4h0M1293.9 707.7h0M1307.1 697.7h0M1700.5 396.8h0M1666.9 568.1h0M1712.8 631.6h0M1484.9 699.9h0M1379.3 704.0h0M1614.6 672.2h0M1987.1 41.8h0M1778.7 398.4h0M1587.3 693.7h0M1591.5 687.6h0M1387.9 703.1h0M1295.3 702.1h0M1667.5 655.5h0M1750.2 41.6h0M1675.5 625.2h0M1529.5 694.5h0M1860.7 154.4h0M1832.1 41.3h0M1482.5 695.5h0M1479.7 692.7h0M1441.7 697.2h0M1747.0 554.8h0M1268.4 699.3h0M1859.2 43.4h0M1539.9 687.1h0M1969.4 41.1h0M2025.9 41.4h0M1619.4 637.2h0M2022.0 41.1h0M1277.8 708.7h0M1375.8 700.0h0M1902.4 42.3h0M1618.2 656.9h0M1449.8 702.0h0M1988.6 168.5h0M1435.3 699.8h0M1389.0 698.4h0M1572.0 689.7h0M1416.8 697.2h0M1249.7 733.4h0M1446.3 692.1h0M1486.8 693.3h0M1774.3 338.3h0M1447.1 701.5h0M1692.5 604.0h0M2014.4 41.2h0M1286.7 704.0h0M1802.5 366.3h0M1353.5 703.1h0M1758.1 259.9h0M1542.4 682.8h0M1842.9 42.8h0M1268.7 712.2h0M1673.4 602.5h0M1720.5 410.5h0M1555.2 681.0h0M1744.6 399.9h0M1489.3 691.5h0M1426.4 701.8h0M1374.3 696.0h0M1330.0 703.7h0M1813.5 41.3h0M1675.1 623.4h0M1504.5 698.0h0M1460.6 710.5h0M1619.4 657.9h0M1493.8 718.8h0M1853.3 81.4h0M1461.9 692.0h0M1274.4 712.3h0M1951.6 41.3h0M1404.2 701.9h0M1734.3 609.4h0M1947.0 41.2h0M1915.8 184.3h0M1916.7 43.5h0M1761.1 556.8h0M1318.0 705.3h0M1484.3 706.3h0M1609.9 687.7h0M1399.8 696.2h0M1462.1 710.1h0M2042.1 41.7h0M1817.1 46.4h0M2043.9 42.1h0M1467.1 696.4h0M1953.8 41.2h0M1337.4 704.5h0M1366.5 705.0h0M1347.6 697.0h0M1866.3 187.5h0M1981.1 41.7h0M1782.5 41.6h0M1296.4 715.2h0M1315.8 707.0h0M1874.0 203.9h0M2011.8 42.0h0M1972.0 162.1h0M1533.1 687.7h0M1300.4 727.3h0M1678.3 602.1h0M1485.2 697.5h0M1447.5 722.7h0M1823.9 57.2h0M1900.5 283.2h0M1477.0 690.7h0M1329.6 705.9h0M1283.5 707.4h0M1760.4 427.6h0M1615.7 673.6h0M1647.0 670.9h0M1367.9 697.1h0M1999.8 41.2h0M1516.1 697.5h0M1355.1 703.5h0M1253.5 698.6h0M1468.8 690.8h0M1274.4 720.4h0M1752.0 413.6h0M1541.5 684.5h0M1741.7 510.5h0M1485.6 695.4h0M1330.2 702.9h0M1598.6 676.0h0M1886.5 41.4h0M1262.6 699.9h0M1728.6 440.6h0M1415.7 704.4h0M1925.9 42.1h0M1431.9 701.5h0M1519.7 694.9h0M2007.0 43.1h0M1302.0 698.6h0M1699.1 614.3h0M1971.6 42.4h0M2008.4 41.5h0M2042.1 41.7h0M1925.0 48.3h0M1811.3 41.1h0M1401.4 695.1h0M1756.6 383.8h0M1659.7 654.6h0M1272.5 703.1h0M2059.8 42.5h0M1330.7 706.1h0M2039.4 43.5h0M1476.9 696.0h0M1474.4 696.9h0M1981.4 41.2h0M1360.6 698.8h0M1600.2 636.7h0M2019.3 71.6h0M2052.4 41.4h0M1706.8 656.2h0M1311.1 707.8h0M1298.2 700.2h0M1757.3 541.1h0M1888.5 180.6h0M2025.3 41.1h0M1538.1 692.8h0M1926.5 41.4h0M1279.2 706.5h0M2016.0 42.6h0M1445.1 698.0h0M1542.9 707.3h0M1533.1 696.7h0M1681.2 635.9h0M1942.6 41.8h0M1437.7 697.6h0M1243.9 715.7h0M1761.2 580.7h0M1725.9 581.9h0M1397.9 694.7h0M1687.8 582.0h0M1936.7 41.6h0M1573.5 684.1h0M1775.8 324.9h0M1628.3 670.9h0M1278.5 706.9h0M1276.4 700.8h0M1970.7 46.6h0M1497.9 693.6h0M2058.6 41.3h0M1370.4 700.1h0M1714.9 632.3h0M1777.3 401.2h0M1753.8 592.8h0M1281.0 707.5h0M1886.6 41.8h0M1310.6 699.9h0M1790.6 558.8h0M1329.2 701.4h0M1518.2 689.5h0M1395.6 703.3h0M1793.7 53.1h0M1575.4 670.1h0M1473.2 692.1h0M1572.0 668.7h0M1319.8 698.0h0M1407.1 698.5h0M1362.0 698.1h0M1308.7 698.6h0M1795.3 425.6h0M1827.9 256.3h0M1951.8 42.2h0M1688.4 648.9h0M1384.6 696.3h0M1566.4 684.7h0M1444.2 699.2h0M1724.7 525.5h0M1864.1 41.6h0M1648.0 616.1h0M1688.3 565.1h0M1656.9 659.1h0M1898.8 227.8h0M2033.0 41.5h0M1675.5 632.1h0M2033.0 42.4h0M1799.7 246.7h0M1961.5 41.8h0M2004.7 41.3h0M1909.8 64.5h0M1322.6 705.1h0M1291.8 705.5h0M2046.0 77.0h0M1299.4 702.6h0M1436.1 692.6h0M1880.9 50.0h0M1997.6 61.0h0M1501.0 694.6h0M1698.2 614.5h0M1422.0 697.8h0M1500.3 694.5h0M1497.1 690.4h0M1644.7 606.4h0M1599.3 658.0h0M1775.3 558.0h0M1624.6 650.2h0M1712.3 454.3h0M1734.1 277.3h0M1301.4 708.5h0M1368.8 702.2h0M1452.5 692.6h0M1287.5 704.2h0M2051.3 43.0h0M2053.9 42.0h0M1968.8 42.2h0M1533.2 688.1h0M1343.3 718.7h0M1779.9 339.3h0M1679.5 606.9h0M1467.4 698.4h0M2012.8 42.5h0M1241.8 700.0h0M1700.6 634.4h0M2061.0 42.7h0M2010.3 41.1h0M1718.4 567.8h0M1941.8 41.8h0M1408.9 697.8h0M1502.2 700.8h0M1379.0 705.3h0M1562.4 692.1h0M1402.5 696.0h0M1907.5 41.5h0M1310.5 699.4h0M1657.9 620.4h0M1503.6 696.9h0M1387.7 698.8h0M1643.2 637.2h0M1268.7 699.0h0M1996.4 41.7h0M1438.9 698.8h0M1873.5 335.0h0M1368.7 703.8h0M1811.0 41.3h0M1321.5 704.2h0M1318.4 705.8h0M1323.8 707.3h0M2045.2 41.4h0M1262.9 739.7h0M1269.1 701.8h0M1659.9 623.8h0M1854.0 334.0h0M1985.1 41.8h0M1455.2 696.4h0M1960.3 41.5h0M1327.9 706.4h0M1335.8 702.0h0M1501.9 697.3h0M1728.0 295.3h0M1358.8 706.7h0M1459.5 697.3h0M1341.4 705.3h0M1971.1 69.4h0M1326.7 707.6h0M1266.9 714.7h0M1335.2 705.5h0M1965.6 47.1h0M1989.5 41.4h0M1706.2 625.0h0M1734.5 405.1h0M1304.9 705.7h0M1808.8 91.8h0M1915.8 41.3h0M1484.7 700.2h0M1304.7 719.9h0M2024.4 41.1h0M1486.9 693.9h0M1432.5 694.4h0M1406.8 696.6h0M1937.3 167.6h0M1389.6 701.8h0M1508.1 694.4h0M1265.3 707.0h0M1666.7 646.3h0M1769.3 42.3h0M1287.5 707.7h0M1510.5 697.8h0M1534.2 676.6h0M1666.5 604.1h0M1339.3 702.5h0M2056.1 41.1h0M1551.3 681.4h0M2023.1 41.1h0M1497.5 712.3h0M1825.8 457.7h0M1474.2 691.5h0M1348.1 696.8h0M1825.9 249.9h0M1496.3 689.7h0M1439.1 697.6h0M1443.5 707.5h0M2028.3 41.5h0M2017.5 435.9h0M1505.1 705.6h0M1479.3 699.5h0M1533.0 688.2h0M1379.3 704.1h0M1699.8 600.0h0M1727.7 607.0h0M1269.2 709.6h0M1861.8 42.3h0M1749.8 496.2h0M1890.8 90.5h0M1681.9 582.3h0M2004.7 42.1h0M1875.5 48.3h0M1725.1 436.1h0M1626.8 651.5h0M1672.2 587.8h0M1451.1 693.6h0M1913.2 41.3h0M1993.0 41.4h0M1254.3 701.1h0M1757.6 392.6h0M1290.8 705.0h0M1881.6 42.6h0M1288.2 705.1h0M2057.5 41.9h0" stroke="#45C785" stroke-width="5.9" stroke-linecap="round" fill="none"/>
<g font-family="'Liberation Serif', 'Times New Roman', serif" font-weight="bold" fill="#000" font-size="40.5"><text x="569.75" y="26.6" text-anchor="middle">LFP, 2C, 90 <tspan font-style="italic">μ</tspan>m</text><text x="1651.8" y="26.6" text-anchor="middle">LFP, 5C, 90 <tspan font-style="italic">μ</tspan>m</text></g>
<g font-family="'Liberation Serif', 'Times New Roman', serif" font-weight="bold" fill="#000" font-size="60"><text x="9" y="69.8" transform="translate(9 69.8) scale(1.075 1) translate(-9 -69.8)">A</text><text x="1088" y="64.6" transform="translate(1088 64.6) scale(1.1 1) translate(-1088 -64.6)">B</text></g>
<g font-family="'Liberation Serif', 'Times New Roman', serif" font-size="52.5" fill="#262626" xml:space="preserve"><text x="158" y="924.1">Normalised distance from</text><text x="748.3" y="924.1">C</text><text x="795.8" y="924.1">-</text><text x="841.2" y="924.1" font-style="italic">x</text><text x="866" y="950" font-size="40">p</text><text x="886.3" y="924.1">/</text><text x="928" y="924.1" font-style="italic">L</text><text x="959.2" y="950" font-size="40">p</text><text x="1240" y="924.1">Normalised distance from</text><text x="1794" y="924.1">CC</text><text x="1877.5" y="924.1">-</text><text x="1923.5" y="924.1" font-style="italic">x</text><text x="1946.5" y="950" font-size="40">p</text><text x="1968" y="924.1">/</text><text x="2010" y="924.1" font-style="italic">L</text><text x="2040.7" y="950" font-size="40">p</text></g>
<g font-family="'Liberation Serif', 'Times New Roman', serif" font-size="52.5" fill="#262626" transform="translate(35,420) rotate(-90)"><text x="-185.5" y="0" font-style="italic">c</text><text x="-163.2" y="26.5" font-size="42.5">s,p,centre</text><text x="0" y="0">/</text><text x="42" y="0" font-style="italic">c</text><text x="64.1" y="26.5" font-size="42.5">s,p,max</text></g>
<rect x="1260" y="69" width="282.5" height="353" fill="#fff" stroke="#1a1a1a" stroke-width="1.3"/>
<rect x="1270.4" y="82.1" width="78.3" height="12.6" fill="#3D24A8"/>
<rect x="1270.4" y="110.7" width="78.3" height="12.6" fill="#4565F7"/>
<rect x="1270.4" y="139.4" width="78.3" height="12.6" fill="#1EAAE0"/>
<rect x="1270.4" y="168.0" width="78.3" height="12.6" fill="#47C984"/>
<circle cx="1309.5" cy="203.0" r="8" fill="#000"/>
<circle cx="1309.5" cy="231.6" r="8" fill="#000"/>
<circle cx="1309.5" cy="260.2" r="8" fill="#000"/>
<circle cx="1309.5" cy="288.9" r="8" fill="#000"/>
<circle cx="1309.5" cy="317.5" r="8" fill="#3E28A8"/>
<circle cx="1309.5" cy="346.2" r="8" fill="#4462F7"/>
<circle cx="1309.5" cy="374.8" r="8" fill="#45A8DF"/>
<circle cx="1309.5" cy="403.4" r="8" fill="#45C785"/>
<g font-family="'Liberation Serif', 'Times New Roman', serif" font-size="23.8" fill="#000"><text x="1356" y="96.7">DFN, ToD = 0%</text><text x="1356" y="125.3">10%</text><text x="1356" y="154.0">50%</text><text x="1356" y="182.6">100%</text><text x="1356" y="211.3">CT Av, ToD = 0%</text><text x="1356" y="239.9">10%</text><text x="1356" y="268.5">50%</text><text x="1356" y="297.2">100%</text><text x="1356" y="325.8">CT, ToD = 0%</text><text x="1356" y="354.5">10%</text><text x="1356" y="383.1">50%</text><text x="1356" y="411.7">100%</text></g>
</svg>
</body></html>
